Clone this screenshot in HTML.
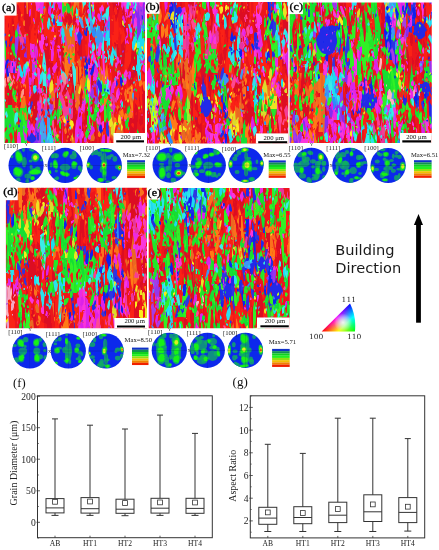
<!DOCTYPE html>
<html><head><meta charset="utf-8"><title>EBSD figure</title>
<style>html,body{margin:0;padding:0;background:#fff;} svg{display:block;}</style>
</head><body>
<svg width="439" height="550" viewBox="0 0 439 550"><defs><filter id="soft" x="-2%" y="-2%" width="104%" height="104%"><feGaussianBlur stdDeviation="0.38"/></filter></defs>
<clipPath id="clip_a"><rect x="4.5" y="2.2" width="140.50" height="140.80"/></clipPath>
<g clip-path="url(#clip_a)"><g filter="url(#soft)">
<path fill="#ec161c" d="M4 2l13 0 0 12-13 0zM28 2l12 0 0 12-12 0zM40 2l12 0 0 12-12 0zM86 2l13 0 0 12-13 0zM98 2l12 0 0 12-12 0zM110 2l12 0 0 12-12 0zM4 14l13 0 0 12-13 0zM16 14l12 0 0 12-12 0zM28 14l12 0 0 12-12 0zM75 14l12 0 0 12-12 0zM86 14l13 0 0 12-13 0zM98 14l12 0 0 12-12 0zM110 14l12 0 0 12-12 0zM122 14l12 0 0 12-12 0zM4 26l13 0 0 12-13 0zM16 26l12 0 0 12-12 0zM28 26l12 0 0 12-12 0zM51 26l12 0 0 12-12 0zM75 26l12 0 0 12-12 0zM86 26l13 0 0 12-13 0zM110 26l12 0 0 12-12 0zM122 26l12 0 0 12-12 0zM4 37l13 0 0 13-13 0zM28 37l12 0 0 13-12 0zM40 37l12 0 0 13-12 0zM51 37l12 0 0 13-12 0zM75 37l12 0 0 13-12 0zM86 37l13 0 0 13-13 0zM110 37l12 0 0 13-12 0zM122 37l12 0 0 13-12 0zM133 37l12 0 0 13-12 0zM4 49l13 0 0 12-13 0zM16 49l12 0 0 12-12 0zM28 49l12 0 0 12-12 0zM40 49l12 0 0 12-12 0zM63 49l12 0 0 12-12 0zM75 49l12 0 0 12-12 0zM86 49l13 0 0 12-13 0zM98 49l12 0 0 12-12 0zM110 49l12 0 0 12-12 0zM122 49l12 0 0 12-12 0zM133 49l12 0 0 12-12 0zM16 61l12 0 0 12-12 0zM28 61l12 0 0 12-12 0zM40 61l12 0 0 12-12 0zM51 61l12 0 0 12-12 0zM63 61l12 0 0 12-12 0zM75 61l12 0 0 12-12 0zM98 61l12 0 0 12-12 0zM110 61l12 0 0 12-12 0zM122 61l12 0 0 12-12 0zM133 61l12 0 0 12-12 0zM4 73l13 0 0 12-13 0zM16 73l12 0 0 12-12 0zM40 73l12 0 0 12-12 0zM51 73l12 0 0 12-12 0zM86 73l13 0 0 12-13 0zM110 73l12 0 0 12-12 0zM122 73l12 0 0 12-12 0zM133 73l12 0 0 12-12 0zM4 84l13 0 0 12-13 0zM16 84l12 0 0 12-12 0zM40 84l12 0 0 12-12 0zM51 84l12 0 0 12-12 0zM63 84l12 0 0 12-12 0zM110 84l12 0 0 12-12 0zM122 84l12 0 0 12-12 0zM133 84l12 0 0 12-12 0zM4 96l13 0 0 12-13 0zM28 96l12 0 0 12-12 0zM40 96l12 0 0 12-12 0zM110 96l12 0 0 12-12 0zM122 96l12 0 0 12-12 0zM133 96l12 0 0 12-12 0zM28 108l12 0 0 12-12 0zM40 108l12 0 0 12-12 0zM51 108l12 0 0 12-12 0zM63 108l12 0 0 12-12 0zM98 108l12 0 0 12-12 0zM110 108l12 0 0 12-12 0zM122 108l12 0 0 12-12 0zM133 108l12 0 0 12-12 0zM28 120l12 0 0 12-12 0zM63 120l12 0 0 12-12 0zM86 120l13 0 0 12-13 0zM98 120l12 0 0 12-12 0zM122 120l12 0 0 12-12 0zM133 120l12 0 0 12-12 0zM63 131l12 0 0 12-12 0zM75 131l12 0 0 12-12 0zM86 131l13 0 0 12-13 0zM98 131l12 0 0 12-12 0zM110 131l12 0 0 12-12 0zM122 131l12 0 0 12-12 0zM133 131l12 0 0 12-12 0zM6 72l2 33-1 7-1 1-1-11-1-24zM4 26l0-9 2 3-1 10zM4 11l0-10 1 0 1 9zM13 114l4-1 1 19-2 12-2 0zM12 105l0-17 4-15 1 8 1 25-1 7-4 1zM11 15l1 6 3 21-1 4-2-4-2-12zM10 69l2-27 2 4 2 20 0 6 0 1-4 15zM18 1l0 3-3-3zM17 113l1-7 1 7 1 19-2 0zM20 132l-1-19 2-9 1 7 0 5-2 15 0 2zM17 81l-1-8 0-1 3-5 4 22-2 12zM21 104l0-3 2-12 1-2 2 17-3 9-1-2zM20 44l4 1 0 12 0 6-4-7zM18 22l0-6 6 9 1 6-1 9-5-13zM24 57l3 1 1 4 0 1-4 3 0-3zM26 1l3 0 0 9-2 8zM30 58l0-8 4 29-1 8-3-28zM34 1l3 0 0 4-2 6zM32 16l0-15 2 0 1 10 0 14zM37 1l1 0 3 19-3 7-1-22zM40 69l2-3 1 24-1 8-2-4zM52 110l3-10 0 5 0 20-3-8zM48 1l1 0 1 1-1 4zM51 20l-1-18 0-1 6 0 0 4-3 18zM49 46l4-4 1 12-1 9-3 0zM57 15l2 7 2 24 0 5-3 3-1-4zM67 144l-5 0 1-26 3 10zM59 22l5 0 0 19 0 6-3-1zM75 131l0 13-1-8zM74 1l2 0 0 4-1 4zM75 47l0-6 2 0 0 25-1 0-1-15zM87 144l-4 0 1-3 2 1zM82 41l0-22 0-1 1 7-1 19zM80 22l2-3 0 22zM82 44l1-19 2 8 0 13-3 0zM82 46l3 0 1 9-2 11-1 2-1-10zM82 18l0-17 3 15 1 13-1 4-2-8zM89 144l-2 0-1-2 0-16 1-3 2 13zM93 124l2 8-1 12-1-10zM91 114l4 4 1 4 0 2-1 8-2-8zM96 124l0-2 0-1 2 10 0 2 1 11-2 0-1-11zM93 14l2 0 1 14 0 8-3-2 0-17zM91 43l0-3 2-6 3 2 0 13 0 9zM101 126l1 6 0 12-2 0-1-13zM95 14l0-13 2 0 2 4-1 19-2 4zM100 108l2-13 2-4 0 5 0 30-1 7-1-1-1-6zM98 24l1-19 0-1 3 2 1 8 0 14-3 6zM99 4l0-3 3 0 0 5zM105 47l2 16-2 9zM105 1l3 0 2 3 0 24-1 2-1-2-2-9-1-14zM110 139l2-9 0 2 1 11 0 1-2 0zM109 30l1-2 1 7 2 16-1 25-3-20zM123 144l-4 0 0-10zM113 51l2 4 1 15-1 17-1 2-2-8 0-5zM110 28l0-24 0-3 2 0 2 14 0 16-3 4zM117 64l2-1 2 10 0 22-3-14-1-14zM119 30l2 9 0 6 1 19-4-18 0-2zM146 139l0 5-1 0 0-4zM121 73l1-9 2 2 1 12 1 13-3 13-2-6 0-3zM121 98l2 6 2 17 0 3 0 3-1 9-4-30zM119 30l-1-15 3-10 0 1 1 5 1 14-2 14zM123 104l3-13 2 11 0 3-3 16zM131 144l-1 0 1-5 0 3zM128 66l0 3 2 17-1 2-3-13zM126 39l0-18 1-6 3 3 0 18-1 9-3-4zM133 87l1 1 1 15-1 10zM132 38l0-16 2 8 0 9-1 6-1-1zM138 117l1 3 1 6 1 18-2 0-2-17zM145 144l-3 0 2-10 1 6zM138 117l0-6 3-1 1 2-3 8zM140 126l3-2 1 10-2 10-1 0zM143 118l0-2 3-6 0 1 0 28-1 1-1-6-1-10zM145 56l1-1 0 23-1-1-1-15z"/>
<path fill="#fa701e" d="M16 2l12 0 0 12-12 0zM63 2l12 0 0 12-12 0zM75 2l12 0 0 12-12 0zM63 14l12 0 0 12-12 0zM63 26l12 0 0 12-12 0zM63 37l12 0 0 13-12 0zM75 73l12 0 0 12-12 0zM98 73l12 0 0 12-12 0zM75 84l12 0 0 12-12 0zM16 96l12 0 0 12-12 0zM51 96l12 0 0 12-12 0zM110 120l12 0 0 12-12 0zM12 4l0-3 3 0-2 13zM51 103l-1-2 1-19 3 2 0 2 1 7 0 7-3 10zM75 144l-3 0 1-6 1-2zM71 121l2-3 0 4 0 16zM76 70l0-4 1 0 1 1 0 15-2-1zM75 15l0-6 1-4 3 8 0 7-3-1zM82 89l0-13 1-6 1 18 0 2-1 2zM105 72l2-9 1 31-4-5 0-7 1-8zM107 63l0-2 3 33-1 2-1-2zM130 86l1-1 0 24-2-10 0-11z"/>
<path fill="#ec2ce2" d="M51 2l12 0 0 12-12 0zM122 2l12 0 0 12-12 0zM51 49l12 0 0 12-12 0zM4 61l13 0 0 12-13 0zM86 61l13 0 0 12-13 0zM28 73l12 0 0 12-12 0zM28 84l12 0 0 12-12 0zM86 84l13 0 0 12-13 0zM75 96l12 0 0 12-12 0zM75 108l12 0 0 12-12 0zM75 120l12 0 0 12-12 0zM51 131l12 0 0 12-12 0zM4 73l0-2 2-8 0 9-2 6zM27 144l-3 0 1-3 2-1zM28 62l2-4 0 1 1 37-1 3-2-28 0-8zM30 44l0-1 4 1 2 25-1 10-1 0-4-29zM36 47l1-7 0 5 0 23zM38 1l6 0-1 23-2-4zM58 54l3-3 1 31-2-9zM75 130l2-16 2 24-2 6-2 0 0-13zM76 19l1 22-2 0-2-15 2-11zM83 92l1-2 2 13-2 12-1-2 0-15zM98 131l2-24 0 1 1 18-2 5-1 2zM108 28l-2 6-2-4 2-11zM121 6l1-5 2 0 0 2 0 2-2 6zM143 18l2-14 1 3 0 24z"/>
<path fill="#9634ec" d="M133 2l12 0 0 12-12 0zM133 14l12 0 0 12-12 0zM16 37l12 0 0 13-12 0zM28 131l12 0 0 12-12 0zM15 42l0-8 3-12 1 5 0 10-3 29-2-20z"/>
<path fill="#22e62c" d="M40 14l12 0 0 12-12 0zM40 26l12 0 0 12-12 0zM133 26l12 0 0 12-12 0zM86 96l13 0 0 12-13 0zM98 96l12 0 0 12-12 0zM4 108l13 0 0 12-13 0zM16 108l12 0 0 12-12 0zM86 108l13 0 0 12-13 0zM4 120l13 0 0 12-13 0zM16 120l12 0 0 12-12 0zM40 120l12 0 0 12-12 0zM4 131l13 0 0 12-13 0zM16 131l12 0 0 12-12 0zM6 144l-2 0 0-23 1-1 1 10zM4 55l0-14 1-4 1 10 0 13 0 3zM20 133l0-2 2 2 1 11-2 0zM23 132l2 9-1 3-1 0-1-11zM28 113l0 4-1 16-4-20 3-9zM87 106l2-4 1 7 0 15-1 12-2-13zM97 70l2 4 1 4-2 12-1-11zM97 104l1-2 2 5-2 24-2-10 1-16zM146 31l0 2-1 10 0 2-3-18 1-9z"/>
<path fill="#2ce2ec" d="M51 14l12 0 0 12-12 0zM98 37l12 0 0 13-12 0zM63 73l12 0 0 12-12 0zM98 84l12 0 0 12-12 0zM96 36l0-8 2-4 2 10 0 4-1 20-3-9zM98 90l2-12 2 17-2 13 0-1-2-5zM137 50l4 13 0 20-2 4-2-15 0-17z"/>
<path fill="#3c96f5" d="M98 26l12 0 0 12-12 0zM92 21l1-4 0 17-2 6 0-3z"/>
<path fill="#f63e96" d="M63 96l12 0 0 12-12 0zM51 120l12 0 0 12-12 0zM19 37l0-10 5 13 0 5-4-1zM57 76l3-3 2 9 0 4 0 19-3-7-2-6zM62 109l0-4 0-19 3-12 3 4 1 16 0 20-3 14-3-10z"/>
<path fill="#202ce8" d="M40 131l12 0 0 12-12 0z"/>
<path fill="#12de32" d="M5 102l1 11-1 7-1 1 0-28zM6 130l2 14-2 0zM7 112l3 32-2 0-2-14-1-10 1-7zM14 144l-4 0-3-32 1-7 4 0 1 9zM22 116l1 8 0 8-1 1-2-2zM51 103l1 7 0 7 0 8-2 19 0-26zM104 91l0-2 4 5 1 2 0 25-1 0-1-4-3-21zM125 121l3-16 1 14 0 2 0 1-4 2zM134 39l0-9 1-10 2 10 0 11 0 7z"/>
<path fill="#fa2016" d="M4 93l0-14 0-1 1 24zM5 37l0-7 1-10 0-6 1 2 2 14 0 1-3 16zM4 17l0-6 2-1 0 4 0 6zM6 47l3-16 1 36-4-7zM7 16l1-15 1 0 2 12 0 2-1 15-1 0zM11 13l1-9 1 10 0 1-1 6-1-6zM13 15l0-1 2-13 3 3 0 12 0 6-3 12zM20 56l4 7 0 3 0 17 0 4-1 2-4-22zM26 104l-2-17 0-4 4-12 2 28-2 14zM27 136l0-3 1-16 4 20 0 7-5 0 0-4zM18 4l0-3 6 0 0 24-6-9zM27 58l-2-26 3 1 2 11 0 6 0 8-2 4zM29 1l3 0 0 15-1 4-2-10zM32 97l-1-1-1-37 3 28zM35 79l1-10 1-1 2 25-4-9zM31 20l1-4 3 9-1 18 0 1-4-1zM35 25l2 9 0 6-1 7-2-4zM35 11l2-6 1 22 0 6-1 1-2-9zM39 45l4 12-1 9-2 3-2-2 0-5 1-15zM38 51l1-4-1 15zM42 98l1-8 1 4 3 22 0 5 0 18-4-24zM47 92l-1-28 2 5 1 28zM43 24l1-23 2 0 3 24-1 13-4-2zM49 25l1-4 1-1 2 3 0 19-4 4-1-8zM54 84l-1-21 1-9 2 4 0 7-2 21zM53 42l0-19 3-18 1 10 0 35-1 8-2-4zM57 140l0-4 0-12 2 2 1 16-1 2-2 0zM54 86l2-21 1 11 0 16-2 1zM74 64l1-13 1 15 0 4zM77 41l1 2 2 17-1 7-1 0-1-1zM86 1l1 0 0 3-1-2zM79 13l0-12 3 0 0 17 0 1-2 3-1-2zM83 113l1 2 1 9-1 5-2-12zM80 61l2-3 1 10 0 2-1 6zM85 124l1 2 0 16-2-1 0-12zM85 46l0-13 1-4 3 3 0 2-1 31-2-10zM87 4l0-3 2 0-1 9zM91 1l4 0 0 13-2 0zM94 81l0-4 2-18 1 11 0 9-2 7zM101 67l0-21 1 5 1 20zM105 126l2-9 1 4-1 17zM104 43l1 4 0 25 0 2-1-23zM102 6l0-5 3 0 0 4-2 9zM109 56l3 20 0 5-2 13-3-33 1-2zM115 100l3 15 1 9-4 11-1-23zM113 51l-2-16 3-4 1 4 1 9-1 11zM115 87l3-6 3 14 0 3-1 8-2 9-3-15-1-11zM114 15l1 0 1 7-1 13-1-4zM115 35l1-13 2-7 1 15-1 14-2 0zM128 144l-5 0 1-8 1-9zM123 25l3 13-5 7 0-6zM125 127l0-3 4-2 0 5-1 17zM125 78l1-3 3 13 0 11-1 3-2-11zM124 66l2-27 0 2 2 25-2 9-1 3zM130 144l-2 0 1-17 2 11 0 1zM128 102l1-3 2 10 1 3-3 7-1-14zM126 41l3 4 2 15 0 1-3 8 0-3zM139 144l-3 0 1-16 0-1zM133 87l1 26 0 5-1 2zM129 45l1-9 2 2 0 6-1 16zM134 64l2 15 0 3-2 6-1-1zM136 82l1 24-2-3-1-15zM137 106l-1-24 0-3 1-7 2 15 0 4-1 19zM141 110l-2-19 0-4 2-4 1 4 1 29 0 2-1-6zM142 55l2 7 1 15-1 9-2 1-1-4 0-20z"/>
<path fill="#fa36dc" d="M4 70l0-15 2 8-2 8zM21 144l-5 0 2-12 2 0 0 1zM24 66l4-3 0 8-4 12zM38 67l2 2 0 25-1 1 0-2-2-25zM38 27l3-7 2 4 1 12 0 14-1 7-4-12-1-12zM60 142l1 2-1 0zM76 19l3 1 0 21-1 2-1-2zM82 117l-1-8 2-11 0 15zM88 65l1 3 3 25 0 4-2 12-1-7-1-22zM89 34l2 3 0 3 0 3 2 25-4 0-1-3zM93 68l-2-25 5 15 0 1-2 18zM103 71l-1-20 2 0 1 23-1 8zM108 121l1 0 0 3 1 13-1 7-2 0 0-6zM121 1l1 0-1 5 0-1zM138 1l1 0-1 2zM124 3l1-2 2 0 0 14-1 6-2-16z"/>
<path fill="#dc0e22" d="M4 41l0-15 1 4 0 7zM6 63l0-3 4 7 0 2 2 19 0 17-4 0-2-33zM5 1l3 0-1 15-1-2 0-4zM10 67l-1-36 0-1 1 0 2 12-2 27zM9 1l3 0 0 3-1 9zM12 21l1-6 2 19 0 8zM18 106l-1-25 4 20 0 3-2 9zM16 66l3-29 1 7 0 12-1 11-3 5zM108 1l2 0 0 3zM24 25l0-24 2 0 1 17 1 15-3-1 0-1zM28 113l2-14 1-3 1 1 3 26-1 10-2 4-4-20zM27 18l2-8 2 10-1 23 0 1-2-11zM33 87l1-8 1 0 0 5 2 31-1 9-1-1-3-26zM35 84l4 9 0 2-1 17-1 3zM37 40l0-6 1-1 1 12 0 2-1 4-1-6zM47 116l0-23 0-1 2 5-2 19 0 5zM44 50l0-14 4 2 1 8 1 17 0 4-2 2-2-5zM49 97l1 4 1 2-1 15-3-2zM46 1l2 0 1 5 1 15-1 4zM49 6l1-4 1 18-1 1zM50 67l0-4 3 0 1 21-3-2zM55 100l0-7 2-1 2 6-2 22-2-15zM55 125l0-20 2 15 0 4 0 12zM56 58l1-8 1 4 2 19-3 3-1-11zM59 126l3-17 1 9-1 26-1 0-1-2zM62 82l-1-31 0-5 3 1 1 27-3 12zM66 128l3-14 0 1 3 29-5 0zM69 69l1-2 2-1 3 31-2 5-4-8-1-16zM73 102l2-5 0 1 2 16-2 16-2-8 0-4zM68 28l-1-14 0-6 5 9 1 4-5 8zM74 136l-1 2 0-16 2 8 0 1zM80 144l-3 0 2-6zM80 89l0-3 2 3 1 3 0 6-2 11-2-3zM78 67l1 0 1 19 0 3-2-7zM82 117l2 12 0 12-1 3-1 0zM79 41l3 0 0 3 0 2 0 12-2 3 0-1-2-17zM79 20l1 2 2 19-3 0zM84 115l2-12 1 3 0 17-1 3-1-2zM89 136l1-12 1 8 1 12-3 0zM88 10l1 22-3-3-1-13 1-14 1 2zM97 144l-1 0 0-11zM97 1l2 0 0 3 0 1zM96 144l-2 0 1-12 1-8 0 9zM91 132l2 2 1 10-2 0zM90 109l2-12 1 6 2 15-4-4zM89 68l4 0 1 9 0 4-2 12zM90 1l1 0 2 13 0 3-1 4zM100 144l-1 0-1-11 1-2zM100 38l1 8 0 21-1-1-1-8zM103 133l1-7 1 0 2 12 0 6-3 0-1-5zM103 139l1 5-1 0zM103 28l0-14 2-9 1 14-2 11-1 1zM104 39l2 5 2 15-1 2 0 2-2-16-1-4zM115 144l-2 0 0-1 2-1 0 1zM116 70l1-3 1 14-3 6zM112 1l2 0 1 0 0 14-1 0zM117 1l1 0-1 4zM115 15l0-14 2 0 0 4 1 10-2 7zM116 44l2 0 0 2 1 17-2 1zM118 46l4 18-1 9-2-10zM117 5l1-4 3 0 0 4-3 10zM134 144l-3 0 0-2 2-2zM121 45l5-7 0 1-2 27-2-2zM122 11l2-6 2 16 0 18 0-1-3-13zM129 121l2 7 0 10-2-11 0-5zM133 125l0 15-2 2 0-3 0-1 0-10zM131 128l-2-7 0-2 3-7 1 8 0 5zM128 69l3-8 1 23-1 1-1 1zM132 84l-1-23 0-1 3 2 0 2-1 23zM133 140l0-15 0-5 1-2 3 10-1 16-2 0zM130 18l0-4 2 2 0 6 0 16-2-2zM132 44l1 1 1 12 0 5-3-2zM134 62l0-5 3-2 0 17-1 7-2-15zM134 113l1-10 2 3 1 4 0 1 0 6-1 10 0 1-3-10zM133 45l1-6 3 9 0 2 0 5-3 2zM138 110l1-19 2 19-3 1zM139 120l3-8 1 6 0 6-3 2zM145 77l1 1 0 26 0 4-2-22zM142 87l2-1 2 22 0 2-3 6zM145 43l1 6 0 6-1 1 0-11z"/>
<path fill="#30f026" d="M22 116l0-5 1 2 4 20 0 3-4-12zM55 144l-5 0 2-19 3 17zM59 98l3 7 0 4-3 17-2-2 0-4zM84 88l2-9 2 1 1 22-2 4-1-3-2-13zM90 109l1 5 2 10 0 10-2-2-1-8zM95 118l-2-15 4 2-1 16 0 1zM104 96l3 21-2 9-1 0zM109 96l1-2 1 19 0 9-2 2 0-3z"/>
<path fill="#dc24e8" d="M23 124l4 12 0 4-2 1-2-9zM57 144l-2 0 0-2 2-2zM34 44l0-1 2 4 1 21-1 1zM37 45l1 6 0 11 0 5-1 1zM48 69l2-2 1 15-1 19-1-4zM56 1l7 0 2 14-1 7-5 0-2-7-1-10zM60 144l-1 0 1-2zM79 106l2 3 1 8 0 27-2 0-1-6-2-24zM96 58l0-9 3 9 1 8-1 8-2-4-1-11zM127 1l2 0 1 11 0 2 0 4-3-3zM130 14l0-2 0-11 4 0-2 15zM134 1l4 0 0 2 0 1-1 26-2-10z"/>
<path fill="#862cf2" d="M24 45l0-5 1-9 0 1 2 26-3-1zM32 137l2-4 0 9 0 2-2 0zM35 123l1 1 2 20-4 0 0-2 0-9zM95 86l2-7 1 11 0 12-1 2zM132 22l0-6 2-15 1 19-1 10zM137 30l1-26 3 25 0 3-4 9zM143 1l2 0 0 3-2 14zM145 1l1 0 0 6-1-3z"/>
<path fill="#4aa0ef" d="M47 144l-6 0 0-23 2-6 4 24zM47 121l0-5 3 2 0 26-3 0 0-5zM104 39l-1-8 1-1 2 4 0 10z"/>
<path fill="#a43ee6" d="M36 124l1-9 1-3 3 9 0 23-3 0zM92 97l0-4 2-12 1 5 2 18 0 1-4-2zM138 3l1-2 2 0 2 17-1 9-1 2-3-25zM141 1l2 0 0 17z"/>
<path fill="#ff7a18" d="M63 1l4 0 0 7 0 6-2 1zM64 47l0-6 4 12 1 16-1 9-3-4zM70 37l1 5 1 11 0 9 0 4-2 1zM72 17l0-16 2 0 1 8 0 6-2 11 0-5zM72 53l3-6 0 4-1 13-2-2zM79 67l1-7 0 1 2 15 0 13-2-3zM111 144l-2 0 1-7 0 2zM110 137l-1-13 2-2 1 8-2 9zM132 112l-1-3 0-24 1-1 1 3 0 33z"/>
<path fill="#ff4890" d="M40 94l2 4 1 17-2 6-3-9 1-17zM44 94l3-1 0 23zM52 117l3 8 2 11 0 4-2 2-3-17z"/>
<path fill="#3aece6" d="M42 66l1-9 1-7 2 14 1 28 0 1-3 1-1-4zM72 62l2 2 2 6 0 11-1 17 0-1-3-31zM82 1l4 0 0 1-1 14zM100 34l3-6 0 3 1 8 0 4 0 8-2 0-1-5-1-8zM116 44l1 20 0 3-1 3-1-15z"/>
<path fill="#e6369c" d="M69 94l4 8 0 16-2 3-2-6 0-1zM112 81l2 8 1 11-1 12-1 5-2-4-1-19z"/>
<path fill="#ea6824" d="M64 22l1-7 2-1 1 14 0 25-4-12zM68 53l0-25 0 1 2 8 0 30-1 2zM70 37l-2-8 5-8 0 5-2 16zM71 42l2-16 2 15 0 6-3 6zM67 1l5 0 0 16-5-9zM76 81l2 1 2 7-1 17-2 8-2-16zM76 5l0-4 3 0 0 12zM83 70l0-2 1-2 2 13-2 9zM103 144l-1 0 0-12 1 1 0 6zM99 74l1-8 1 1 2 4 1 11 0 7 0 2-2 4-2-17zM111 113l2 4 0 3-1 12 0-2-1-8zM112 132l1-12 2 22-2 1zM113 120l0-3 1-5 1 23 0 8 0-1zM115 135l4-11 0 10 0 10-4 0 0-1zM118 115l2-9 4 30-1 8-4-10 0-10z"/>
<path fill="#dcda2a" d="M69 115l2 6 2 17-1 6z"/>
<path fill="#1024ee" d="M84 66l2-11 2 10 0 15-2-1z"/>
<path fill="#1cdaf2" d="M89 32l-1-22 1-9 1 0 2 20-1 16-2-3zM106 44l0-10 2-6 1 2 0 26-1 3zM129 1l1 0 0 11zM137 48l0-7 4-9 1 23-1 8-4-13zM141 29l1-2 3 18 0 11-1 6-2-7-1-23z"/>
<path fill="#ece224" d="M146 33l0 16-1-6z"/>
<path fill="#202ce8" d="M36 138l0 2-1 1-1 1-2 1-1 0-1-1-2-1-1-1 0-2 1-2 0-1 1-1 2-1 1 0 2 1 1 1 1 1z"/>
<path fill="#3c96f5" d="M103 38l0 3-1 3-1 2-1 0-2 1-1-1-1-2-1-3 0-3 0-4 1-2 1-2 1-1 2 0 1 1 1 2 1 2z"/>
<path fill="#fa2016" d="M6 11l0 2-1 3-1-3 0-3 0-3 1 2zM23 5l-1 4-1 1-1-3 1-5 1-2 1 2zM59 12l0 3-2 1-1-2 2-5 1-2 0 1zM74 3l-1 4-1 1-1-3 1-5 2-4 1 2zM78 9l-1 3 0 1-1-2-1-3 1-2 1-1zM117 10l0 4-2 1-1-2 0-4 1-2 1-1zM116 12l0 2 0 1-1-2 0-1 0-1 1 0zM36 22l0 1-1 0 0-1 0-1 1-1 1 1zM49 23l0 3-2 0-1-1 0-5 2-1 1 1zM52 19l-1 1 0 1 0-1 0-2 0-1zM67 15l-1 5-1-1-1-2 0-3 1-2 1 0zM87 19l0 3-1 2-2-3 0-4 1-3 1-2zM89 21l-2 2-1 0-1-2 1-4 1-2 1 2zM132 23l-1 5-2 2 0-5-1-5 1-1 2 1zM9 32l0 3-1 0-1-2 0-2 0-3 1 1zM42 27l-1 5-1 0-2-3 1-5 1-5 1-1zM109 28l0 1-1 0 0-1 0-1 1 0zM122 30l0 4-1 1-1-1-1-4 0-3 2 1zM136 37l0 1-1 0 0-1 0-1 0-1 1 1zM15 39l-2 4-2 1 1-3 1-5 1-1 1 2zM35 36l-1 6-1 2-2-2 0-6 1-4 2 1zM45 47l0 2-1 1-1-1 0-3 0-2 1 1zM66 43l-1 3-1 0 0-1 0-3 1-2zM90 44l0 2-1 0 0-3 0-1zM110 48l-1 2-1 1-1-2 1-3 1-1 1 1zM9 56l0 3-1 2-1-3 0-4 1 0 1-1zM35 60l0 1-1 1 0-1 0-2 1-2 0 1zM50 60l0 1-1 0 0-1 0-1 1 0zM57 58l-1 4-2 1 0-3 0-4 1-2 2 0zM91 59l0 1-1 1 0-1-1-2 0-1 1 0zM98 57l-1 1 0 1-1-1-1-2 2-1zM91 60l0 3-1 0-1-2 1-2 1-3 0 1zM131 56l0 2-1 0 0-1 0-2 1-2 0 1zM137 55l-1 0 0-2 1-1 1 1zM33 66l-1 4-1-1-1-1 0-3 1-4 1 1zM30 66l0 2-1 1 0-1 0-2 0-1 1 0zM32 63l-1 3-1 1-1-3 1-1 0-2 1 1zM40 65l-1 2-1 1-1-2 0-7 1-4 2 1zM44 71l-1 2-1 1 0-2 0-2 1-3 0 1zM77 62l0 1-1 0 0-1 0-1 0-1 1 0zM99 71l-1 2-1 2-1-4 0-2 1-2 2 0zM111 71l0 2 0 1-1-1-1-3 0-1 1 0zM119 73l0 3-1 1-1-2-1-6 1-1 1 1zM143 72l-1 2-1 2 0-3-1-2 1-2 1 1zM62 74l-2 3-2 2 0-4 0-3 2-2 1 1zM66 84l1 2-1 0-1-2 0-2 1 0zM79 83l0 1-1 0-1 0 1-2 0-1 1 1zM85 74l0 2-1 1 0-2 0-3 0-2 1 1zM83 75l-1 5-1 1-1-3 2-5 1-1 0-1zM94 76l0 1-1-1 0-2 1-1 0 1zM122 83l0 3-1 1-2-2 0-3 1-4 2 2zM112 74l-1 3-1 0-1-1 0-3 2-2 1 1zM140 83l-1 2-1 0 0-1 0-2 1-1 1 0zM17 95l-1 2-2 1-1-2 1-4 1-2 1 2zM36 87l-1 2 0-1 0-2 0-1 1 0zM64 95l0 1-1 1 0-2-1-2 1-1 1 1zM72 87l-1 6-1 1-2-3 0-7 1-2 2 1zM87 92l0 2-1 1 0-1 0-3 0-1 1 0zM96 88l0 4-1 0-2-3 0-2 0-3 2 2zM143 92l0 1 0 1-1 0 0-2 1-1zM16 101l-1 1-1 0 0-1 1-1 0-1 1 0zM73 107l-1 1 0 1-1-1 1-2 1-1zM66 98l-1 2-1 1 0-2-1-2 2-1zM68 104l-1 3-1 0-1-3 0-4 1-2 2 1zM124 107l0 1 0 1-1-1 0-3 1-1zM139 100l1 6-1 1-2-4-1-5 1-5 2 1zM17 118l1 5-1 2-2-6 0-4-1-5 2 1zM40 109l0 1-1 0 0-1 0-1 0-1 1 1zM31 117l0 1-1 2 0-3 0-3 1-2 1 1zM32 110l0 1-1 1 0-1 0-2 1-1 0 1zM84 113l1 4-1 3-2-4-1-3 0-3 2 1zM78 114l-1 6-2-2-1-1 1-4 1-3 2 1zM96 117l0 1-1 0 0-1-1-2 1 0 1 0zM119 109l-1 4-1-1 0-4 1-2 1 0zM130 116l0 1-1 0-1-1 1-3 1 0 1 0zM20 123l-1 2-1 0 0-1 0-3 1-2 1 1zM35 126l0 3-2 1-1-4 1-4 1-2 1 1zM134 124l0 3 0 1-1 0-2-3 1-2 1 0zM130 129l-1 3-1 0-1-2-1-2 1-2 2 2zM13 137l-1 4-1 1-1-4-1-3 2-3 1 2zM57 142l0 1-1 2-1-1 1-4 0-1 1-1zM106 131l0 4-2 1-1-3 0-2 1-3 1 1zM137 134l0 4-2 1 0-2 0-4 1-2 1-1zM17 33l0 1-1-1 0-1zM87 36l-1 2-1-2 1-1zM123 75l-1 3-2-2 1-2zM11 21l-1 3-1-3 1-3zM7 104l-1 0 0-1 1-1zM142 87l-1 1-1-1 1-2zM114 17l-1 1-1-1 1-3zM111 39l0 2-1-1 0-3zM80 37l-1 3 0-2 1-2zM129 53l-1 2 0-2 1-2zM95 104l-1 1-1 0 0-2zM34 39l0 2-1-2 0-2zM128 50l-2 3 0-3 2-2zM135 58l-1 1 0-1 0-1zM121 23l0 2-1-2 0-1zM20 101l-1 2-1-2 2-1zM130 112l-1 1 0-2 1-1zM31 5l0 2-1-1 0-1zM28 123l-1 0 0-1zM141 111l0 2-2-1-1-3zM102 72l-1 2-1-1 1-3zM93 68l1 1-2 0-1-3zM40 58l0 1-1-1 1-1zM126 73l-1 3-1-3 1-2zM124 39l0 2-1-2 0-1zM43 54l-1 1-1-1 1-2zM131 56l-1 1 0-2 1 0zM137 136l0 2-1-1 0-2zM88 62l-1 1-1-2 1-1zM32 120l-1 2 0-2 1-3zM98 49l0 3-1-1 0-3zM117 127l0 2-1-2 0-2zM126 12l-1 1 0-1zM46 48l1 2-3-1 0-2zM114 20l-1-1 1-1zM63 121l-1 2-1-2 2-1zM15 19l0 2-1-2 1-2zM34 37l-1 2-1-2 1-1zM12 142l-1 2-1-2 1-1zM54 39l-1 2-1-2 1-2zM14 79l-1 2 0-3 1-1zM23 99l0 2-2-2 1-1zM7 18l-1 1-1-1 1-1zM142 63l-1 1-1-1 1-1zM29 103l-1 2-1-1 0-2zM10 79l-1 2-1-1 0-3z"/>
<path fill="#ff7a18" d="M7 14l-1 1-1 1 0-1 0-2 1-2 1 0zM12 6l0 2-1 0-1-2 1-2 1 0zM85 9l-1 2-1 0 0-1 1-4 1 1zM23 15l0 1-1 1-1-1 0-2 1 0zM61 18l-1 3-1-2 0-3 1 0 0-1zM83 18l0 2-1 0-1 0 0-2 1-1 1 0zM69 55l-1 1 0 1-1-1 1-2 0-2 1 1zM69 56l0 5-1 2-2-5 0-4 1-2 1-1zM104 82l0 2-1 2-1-2 0-6 0-3 1 2zM143 84l-1 1-2 2-1-2 0-4 2-1 1 1zM25 84l0 2-1 1-1-1 0-2 0-1 1 1zM129 91l-1 3-1 0 0-1 0-3 1-3 1 2zM107 101l-2 5-1 0 0-2 0-6 2-1 1 0zM108 99l-1 1-1 1 0-2 0-1 1-3 1 1zM33 114l-1 3-1 1-1-2 0-3 1-2 1 1zM61 119l1 3-1 2-1-3-1-4 1-1 0-1zM64 118l0 4-2-1 0-1-1-3 1-3 2 1zM75 119l0 1-1 1-1-1-1-1 1-1 1-1zM128 117l-1 4-1 1-2-3 0-3 1-3 2 1zM124 115l-1 3-1 2-1-4-1-4 2-3 1 0zM117 122l0 4-1-1-2 0 0-5 0-3 2 1zM71 130l0 4-1 1-1-1-1-5 1-1 1 1zM72 138l-1 3-1 0 0-2 1-2 1 0zM88 143l0 2-1 1-1-2 0-2 0-1 1 0zM101 133l0 2-1 2-1-2 0-3 0-1 1 0zM100 135l0 2-1 0-1-1 0-3 2-3 0 1zM121 140l0 2 0 1-1-1 0-2 1-1zM118 140l-1 0 0-1 0-1 1 0zM79 16l-1 2-1-1 0-2zM123 89l-1 1-1-1 2-2zM94 132l0 2-1-1 0-1zM62 111l-1 2 0-2 0-1zM84 16l-1 1-1-1 2-1zM23 100l-1 2 0-3zM86 7l-1 1-1-2 2-2zM65 52l-1 1-1-2 1-1zM124 135l0 1-1-1 1-1zM97 37l-1 1-1-1 1-1zM14 25l0 1-2 0 1-2zM55 123l0 2-1-2 0-2z"/>
<path fill="#ea6824" d="M7 9l0 4-1-1-1-1 0-3 0-2 1 0zM18 12l0 1-1 2-1-3 1-2 0-1 1 0zM18 9l0 5-1 1-1-3 0-7 0-3 1 1zM46 9l-1 4-1 2 0-3-1-4 1-1 1-1zM58 18l0 2-2 0-1-1 0-3 1-2 1 0zM65 28l-1 3-1 1-1-3 0-4 1-4 1 2zM69 46l-1 4-2 1 0-5 1-2 1-3 1 0zM65 65l0 3 0 2-1-3-1-4 0-1 2 1zM76 63l-1 3-1 0 0-2 0-2 1-1 0 1zM86 64l-1 3 0-1-1-1 0-2 1-1 1 1zM81 64l-1 3-1 0-1-3 0-3 1-3 2 3zM15 82l0 2-1 0 0-1 0-1 1-1zM101 73l0 2-1 0-1-1 0-2 0-1 1 0zM17 89l0 3-1 2-1-4 0-2 1-2 1 1zM19 86l-1 2 0 2-1-4 0-1 0-3 1-1zM119 90l-1 2-1 0 0-3 1-1 1 0zM130 91l-1 4 0-1-1 0 0-4 1-1 1 1zM146 86l-1 2-1-1 0-1 1-1zM35 107l0 2-1 0 0-1 0-2 1 0zM53 101l-1 4-1-1-1-2 1-6 1-1 1 1zM53 100l0 5-2 0 0-4 0-5 1-2 1 2zM85 97l-2 4 0-2-1-1 1-4 1-2 1 2zM134 99l-1 3-1 1-1-4 1-2 1-2 1 0zM24 113l-1 2 0 1-1-2 0-2 0-2 1 1zM17 110l-1 1 0-1 0-1 1-1 0 1zM20 115l-1 1 0-1-1-1 1-1zM119 109l-1 1 0 1-1-2 0-2 0-2 2 1zM131 116l-2 4-1 0 0-4 1-5 3-4 0 1zM69 137l-1 1-1 1 0-2 0-1 1-1 1 1zM95 138l-1 3-2 0-1-2 0-5 1-4 2 3zM113 135l0 2-1 3-1-4-1-4 1-2 1-2zM73 65l-1 2-1-2 0-2zM99 77l0 1-1-1 0-1zM82 68l0 1-1-1 1-2zM102 102l0 2-2-2 1-2zM68 141l-1 1-1-1 1-2zM71 71l-1 1 0-1 0-1zM118 97l-2 1 0-2 1-1zM92 140l-1 2-1-2 1-1zM48 105l-2 1 0-2 0-2zM112 110l0 1-1-1 1-2zM109 103l-1 1 0-1 0-2zM74 142l-1 1-1-1 1-1zM6 139l-1 1-1-1 2-2zM99 58l-1 2-1-1 0-2zM61 12l-1 1-1-1 1-2zM15 111l-1 1-1-2 1-3zM86 69l0 1-1 0 0-2zM33 112l-1 2-1-1 1-2z"/>
<path fill="#dc0e22" d="M19 6l0 6-2 2-1-5 0-4 0-4 1 3zM61 12l-1 2-1 0 0-1 0-3 1-1 1 1zM71 5l-1 5-2 5 0-5 0-9 1-2 2 2zM89 8l0 2-1 0-1-1 0-1 1-1zM106 12l0 7-1-1-1-2 0-4 1-4 1 0zM9 25l0 2-1 1 0-1 0-2 0-2 1 1zM21 13l-1 7-1 2-1-4 0-6 1-5 1 3zM76 20l-2 7-2 3 0-4 1-8 2-5 1 4zM68 19l-1 4-2-1-1-2 1-3 1-2 2 1zM90 23l1 6-1 1-1-3-1-5 0-2 1 1zM125 22l-2 5-1 1-1-4 1-4 2-6 1 4zM76 27l-1 3-1-1 0-1 1-2 0-1 1 1zM104 30l-1 2 0-1-1 0 0-2 1-2 1 1zM133 34l-1 3-1 1-1-3 0-2 1-3 1 0zM26 48l0 2-1-1 0-2 0-1 1 0zM58 39l-1 6-2 1 0-2 1-6 1-2 1-1zM72 46l0 1-1-1 0-1 0-1 1 0zM93 46l0 1-1 1 0-2 0-1 1-2 0 1zM93 38l-1 3-1 4-1-5 0-5 1-2 2-1zM106 44l0 1-2 1 1-2 0-3 1 0 1 0zM116 45l0 2 0 2-1-3-1-3 0-1 2 1zM67 54l-1 1-1 0 0-2 1-1 1 1zM80 54l0 1-1 1-1-1-1-3 1-2 1 1zM98 61l0 2 0 1-1-2-1-3 0-1 1 0zM108 55l0 2-1 1-1-2 0-2 0-2 1 1zM144 53l0 1-1 1 0-1-1-2 0-1 1 0zM59 62l-1 3 0 1-1-3 0-3 1-3 1 2zM109 66l0 2-1 0 0-4 0-2 0 2zM144 71l0 3-1 1-1-3 1-3 1-1 1 1zM32 84l-1 3-1-1-1 0 1-3 1-2 0 1zM49 75l0 2-1 0 0-1-1-1 1 0zM132 76l0 2-1-1 0-2 0-1 1 0zM127 80l0 2-1 0 0-1 0-1 0-1 1 0zM136 75l-2 3-2 1 0-5 1-4 2-4 2 2zM40 93l-1 9-2-2 0-4 0-5 2-3 1 2zM46 88l0 6-2-1-2-3 0-1 1-3 2 0zM50 89l0 1-1 1 0-2-1 0 1-2 1 1zM60 89l0 2-1 1 0-1 0-3 0-2 1 0zM61 89l-1 4-2 2 0-4 1-5 1-2 1 2zM68 89l-3 6-1-1-2-1 3-7 2-3 1 2zM76 89l0 1-1 1 0-1 0-3 0-1 1 0zM121 93l-2 6-2 3-1-4 2-8 1-2 1 1zM7 100l0 2-1 0-1-1 1-2 0-1 1 0zM28 108l-1 1 0 1 0-1 0-2 1-1zM18 101l0 1-1-1 0-1 1-1zM53 107l0 2-2 4-1-5 1-4 1-3 1 1zM68 103l0 3 0 1-2-1 0-3 0-1 1 0zM88 106l0 3-1 0-1-4 0-1 1 0zM95 100l-1 2-1 0 0-1 0-2 1-2 1 1zM102 97l-1 4-2 2-1-5 1-4 1-5 1 2zM29 108l0 6-1-1-1-3 0-5 1-1 1-1zM43 114l-1 1-1 1 0-1 1-4 1-1 0 2zM63 115l-1 1-2 1 0-2 0-2 2-2 1 1zM77 118l-4 8-1-1 0-5 1-3 3-4 1 1zM81 115l-1 2-1 0 0-1 0-2 1-2 1 1zM88 113l0 2-1 1 0-2 0-2 0-1 1 0zM94 112l0 4-1 1-1-3 0-2 0-2 1 1zM101 109l0 5-1 3-2-4 0-5 0-4 2 0zM120 110l-1 1 0 1-1-1 0-2 1-1 1 0zM19 120l0 2-1 0 0-1-1-2 1-2 1 1zM46 129l-1 4-1 0-1-1 0-4 2-2 1 1zM53 129l-1 2-1 1-1-2 0-3 1-2 1 1zM57 123l-2 5-1 1 0-2 0-6 1-5 1 3zM62 130l0 3-1 0-2-2-1-2 1-3 2 0zM87 129l-1 2-1 0 0-1 0-2 1-1 1 0zM86 122l-1 4-1 0-1-3 1-3 1-1 1 0zM99 120l0 5-1 1-1-3-1-4 1-4 1 1zM107 125l0 2-1 2-1-1-2-5 1 0 1-2zM145 130l-1 2 0 1-1-1-1-3 1-3 1 2zM8 140l0 2-1 2 0-1-1-3 0-1 1 0zM7 142l-1 1-1 0 0-2 1-1zM54 135l0 2 0 1-2-2-1-3 1-1 1-1zM91 132l0 4-1 2-3-3 0-4 1-2 2 1zM133 131l-1 4-1 0 0-2-1-4 1-2 2 1zM24 82l-1 1 0-2 1-1zM125 53l0 1-1-2 1-1zM33 128l-1 1 0-1 1-1zM95 116l-1 1-1-1 1-2zM122 8l0 2-1-1 1-2zM20 43l-1 2 0-2 1-2zM113 113l-1 1 0-1 0-1zM106 28l0 1-1-1 1-1zM98 119l-2 1-1-1 2-1zM56 31l0 2-2-2 1-2zM99 111l0 2-1-2 0-2zM120 85l-1 1 0-1 1-1zM33 50l-1 1 0-1 1-1zM40 38l0 2-2-1-1-2zM16 60l-1 2-1-1 0-3zM36 34l-1 2-1-2 1-1zM124 94l0 2-1-1 0-2zM106 139l0 1-1-1 0-1zM96 135l0 3-2-3 1-2zM116 45l0 2-2-1 1-2zM58 70l-1-1 1-1zM76 49l0 3-1-2 0-3zM107 9l-1 1 0-2 1 0zM67 99l0 2-1-1 0-1zM83 70l-1 1 0-1 0-1zM87 122l0 3-2-2 1-2zM86 6l-1 2-1-1 1-2zM35 130l0 2-2-1 1-3zM32 113l0 2-1-2 0-1zM92 97l-1 2-1-1 0-2zM26 45l-1 1-1 0 1-3zM82 54l-1 2 0-2 1-1zM119 65l-1 1-1-1 2-1zM37 28l-2 2-1-2 2-1zM84 25l0 1-1 0 0-2zM115 13l0 1-1-1 0-1zM111 89l0 1-1-1 0-2z"/>
<path fill="#fa36dc" d="M40 4l-2 6-2 1 0-4 1-6 3-4 1 0zM38 3l2 8-2 1-2-5-1-6 1-2 1-1zM90 12l-1 2-1 0-1-2 0-1 1-2 1 0zM104 8l0 2-1 2-2-3 0-3 1-1 0-1zM102 10l0 3-2 1 0-2-1-3 1-2 2 1zM119 3l0 2-1 1 0-3 0-2 1-3 1 0zM133 12l-2 4-1 0-1-1 1-4 1-1 2 0zM137 7l0 5-1 1-1-1-2-5 1-2 1 1zM35 21l0 1-1 1 0-2 0-2 0-1zM54 23l0 1 0 1-1-1 0-1 0-1 1 0zM90 21l-1 3-2 0-1-1 1-4 2-2 1 2zM96 18l0 2-1-1 0-1 0-1zM129 16l-1 2-1-1 1-2 0-1 1 0zM136 19l0 2-1 1 0-2 0-1 0-1 1-1zM137 25l-1 5-2 2-1-5 1-4 0-5 2 2zM54 27l0 5-1 0-1-2 1-4 0-3 2 1zM110 26l-1 3-2 0 0-2 0-2 1-2 1-1zM52 43l0 1-1 1 0-1-1-2 1-1 1 1zM134 47l-1 1 0 1-1-2 0-2 1-1 1 1zM101 50l0 4-2 4-1-4 0-6 2-6 2 1zM103 72l0 2-1 1-1-2 0-2 1-2 0 1zM111 71l0 1-1 1 0-1 0-2 0-1 1 0zM121 62l0 2-1 0 0-1 0-2 1-2zM118 63l-1 4-1 1-1-2 1-5 1-5 2 2zM21 73l-3 7-2 2 1-5 1-8 3-5 0 5zM34 73l0 2-1 0-1-1 1-2 1 0zM42 76l0 3 0 1-1-3 0-1 0-2 1 0zM64 77l-1 3 0 2-2-1-1-5 2-2 2 1zM91 77l-2 6-1-1-1-2 0-3 2-3 1 0zM106 83l0 3-1-2 0-2 0-1 1-1zM111 85l-1 2-1 2-1-3 0-3 2-3 1 1zM122 77l-1 2-1 2-3-4 0-5 2-2 1 1zM117 81l-2 7-2 1 0-6 3-6 2-2 0 2zM128 73l-2 6-1 1-1-5 0-2 2-4 1 2zM127 80l-1 4-2 1-1-3 0-6 1-3 2 3zM31 92l0 1-1 2-1-2 1-2 0-1 1 0zM41 90l-1 2-1 1-1-1 0-4 1-1 1 1zM44 91l-2 2-1 0-1-1 0-3 1-1 2 1zM44 94l-1 1 0 1-1-1 0-1 1-1zM119 94l0 4-2 3-1-4 0-4 1-4 2 2zM88 108l0 1-1 0 0-1 0-1 0-1 1 0zM99 106l0 1-1 0-1 0 1-3 0-1 1 0zM113 103l-1 2-1 2-2-1 0-5 0-2 2 0zM115 108l0 2-1 0 0-2-1-1 1-3 1 1zM83 113l-1 1-1 2 0-2 0-2 1-1zM104 109l-1 2-2 1 0-2 0-4 1-1 2-1zM100 110l-1 3-1 0 0-2 0-2 1-2 0 1zM122 118l0 2 0 1-1-1-1-2 1-1 1 0zM35 129l0 6 0 1-2-2-1-5 1-3 1 1zM99 122l0 2-1 1-1-2-1-4 1-1 1-1zM104 124l0 4-2 0 0-2-1-3 2-2 1 0zM22 140l-1 3-2 1 0-1 0-4 2-2 1 2zM39 134l0 2-1-1 0-1 0-1 1 0zM84 135l-1 3 0 1-2-3 0-3 1-2 1 0zM90 132l-1 1-1 0 0-1 0-1 1-1 1 0zM88 143l-1 1 0-1 0-1 1 0zM91 136l0 1-1 0 0-2 1-1zM122 102l-2 2 0-3 2-2zM78 32l0 1-1 0 0-2zM54 141l-1 1-1-1 2-2zM25 76l0 1-1 0 0-1zM39 74l-2 2 1-2 1-2zM117 77l-2 1 0-2 1 0zM74 45l0 2-2-1 0-2zM60 46l0 3-3-2 1-2zM107 129l0 1-1-1 0-1zM48 45l-1 1-1-2 2-1zM60 31l-1 1-1-1 1-1zM98 86l-1 2-1-1 0-2zM15 77l0 2-2-1 0-4zM42 45l-1 2-1-2 1-1zM25 84l-2 1 1-2zM52 41l-1 1-1-1 1-1z"/>
<path fill="#dc24e8" d="M31 14l-1 3-1-1 0-2 0-3 1-2 1 0zM52 10l-1 7-1-1-2-3 0-3 1-5 2 0zM94 7l-1 2-1 0 0-1 1-2 1-1zM95 13l-1 4-1 2-1-3 0-4 1-4 2 2zM88 5l-1 2 0 1 0-2 0-2 0-2 1 1zM133 9l0 1-1 0 0-2 0-1 1 1zM132 4l0 2-2 0 0-2 1-3 1-2 0 1zM145 7l0 2-1-1 0-2 0-2 1 1zM145 12l0 2-1 0 0-2 1-2zM34 19l0 2-1 1 0-2 0-2 1 0zM64 18l-1 3-1-2 0-3 1-1zM97 22l0 2-1 1 0-2 0-3 0-1 1 0zM110 24l-1 6-1 1-2-3 1-7 1-4 1 1zM110 18l0 6-2 0-1-1-1-7 0-3 2-1zM125 19l0 3-1 0-1-2-1-2 1-3 1 1zM71 31l-1 3 0-2 1-3 0-1 0 2zM105 36l0 2-1-1-1-1 1-2 0-1 2 0zM128 33l0 3-1-1 0-1 0-2 1-1zM51 48l0 2-1 0 0-1 0-2 1-2 0 1zM47 38l-1 3 0-1-1-1 1-2 0-1 1 0zM55 43l-1 3-1 3-1-4 0-4 1-1 1 0zM63 41l-1 3-1 0 0-1 0-4 0-2 1 1zM92 48l0 2-1 1-2-3-1-3 1-3 2 0zM90 56l-1 3-1 1-1-2 1-3 1-1 1 0zM105 57l0 2-1 0 0-1 0-3 1 0zM56 70l-1 3-1 0-1-2 0-3 2-1 1 1zM98 70l0 7-2 0-1-4 0-5 0-3 2 3zM113 64l0 1-1 0-1 0 0-1 1-2 1 0zM143 61l0 3-1 1-1-3-1-2 1-3 2 1zM22 75l0 3-1 0 0-2 0-2 0-2 1 0zM32 80l-1 5-2 1 0-3 0-4 2-4 0 2zM37 75l0 2-1 0 0-1-1-1 1-1 1 0zM49 76l-1 1 0 1-1-2 0-1 1-3 1 1zM61 77l-1 3-1 0 0-1 0-2 1-2 1 0zM92 73l-1 4-1 0-1-2 0-3 1-2 1-1zM108 82l-1 2-1-2 1-4 1-2 0 1zM131 76l-1 3-1 1-1-3 0-4 1-2 2 1zM120 92l0 4-1-1-1-1 0-3 0-3 1 0zM113 90l-1 2-1 1 0-3 1-4 1 0 1 1zM114 91l-1 2-2 4 0-6 1-4 1-4 2 0zM30 104l0 1-1 1-1-2 1-1 0-2 1 1zM41 106l-1 7-1 1-2-5 1-4 1-2 2 0zM92 110l0 2-1 1-1-3 0-2 1-2 1 1zM117 109l0 4-2 1-1-3-1-3 1-3 1 0zM31 127l0 6-2 4-2-7 0-5 1-6 2 2zM38 120l0 1-1 1 0-2 0-1 1-1 0 1zM39 130l0 1-1 0 0-1 0-1 1-1 0 1zM61 122l0 3-1 1-2-1 0-4 1-3 1 2zM95 131l-2 3-2 2-1-2 1-5 1-3 2 1zM35 133l-1 1-1-1 0-2 1-2 1 2zM53 138l-1 3-1 1-1-1 1-4 1-1 1 0zM54 131l-1 2 0-1 0-1zM87 140l-1 3-2-1 0-1 0-3 2-2 1 1zM76 142l1 1-1 1-1-2 0-1 1-1 0 1zM105 142l-1 5-2 0-1-3 1-7 2-3 1 1zM47 44l1 2-2-1-1-2zM31 54l-1 1 0-1 1-2zM110 64l-1 1 0-1 1-2zM60 35l0 2-1-1 0-1zM117 4l0 2-1-1 0-1zM61 97l1 2-2-1 0-3zM120 72l-1 1 0-2 1 0zM54 2l-1 1-1-1 1-1zM94 89l0 2-2-1 0-2zM9 61l0 2-1-1 0-2zM61 132l-1 2-1-2 1-2zM96 77l0 2-1-1 0-1zM54 143l-1 1 0-1 1-2zM56 11l0 1-1-1 0-1zM62 75l-1 1 0-2 1-1zM128 37l-2 2 0-3 2-1zM77 44l-1 0 0-1 0-1zM127 38l-2 0 1-1 1-1zM96 62l-1 3-1-2 0-2z"/>
<path fill="#ec2ce2" d="M32 4l0 1-1 0 0-2 1 0zM50 4l0 3-1 0 0-2 0-2 0-1 1 0zM94 3l-1 3-1-2 0-2 0-2 1 0zM109 6l0 2-1 1-1-2 0-2 0-3 1 0zM143 3l-1 4-2-1-1-2 0-3 2-2 1 1zM63 15l0 1-1 1-1-1 0-2 1-2 0 1zM101 17l0 4-1 1-2-3-1-3 1-3 2 1zM132 23l-1 2 0 2-1-2 1-4 0-3 1 1zM126 22l-2 2-1 1-1-2 1-2 1-2 1 1zM137 19l0 2-1 0-1-1 0-2 0-1 1 0zM141 23l0 1-1 1 0-2 0-1 0-1 1 0zM63 32l-2 3-1 3 0-5 0-4 2-3 1 1zM54 30l-1 1-1 1-1-1 1-2 1-3 1 2zM83 37l-1 3-1-1 0-1 0-2 1-1zM108 26l0 1-1 1 0-1 0-2 0-1 1 1zM128 30l0 3-1 0-1-3 0-2 2 0zM133 33l-1 4-1 3-1-3-1-7 0-7 3 5zM45 39l0 1-1 0 0-2 0-1 1 0zM56 38l-1 2-1 0-1-1 1-2 0-1 1 0zM54 49l-1 1 0 1-1-2 0-2 0-2 1 2zM126 41l0 3 0 1-1-2 0-3 0-2 1 1zM129 43l0 1-1 0 0-1-1-2 1-1 0 1zM33 59l0 2-1 0 0-2 1-1zM40 55l0 1-1 1 0-1 0-2 1-1zM57 68l-3 5-1-2-1-3 3-4 5-6 0 4zM100 69l0 1-1 0 0-2 1-1zM100 66l0 2-1-2 1-1zM120 62l-1 1-1 1-1-1 0-4 1-1 1 1zM147 69l-1 4-1 0-3-3 1-4 1-7 2 5zM25 81l-1 2-1 1-2-1 1-5 2-3 0 3zM48 83l0 3-1 1 0-3-1-2 0-3 2 1zM63 75l0 6-1-1-1-2 0-4 0-2 1 0zM54 75l0 3-1 1 0-2-1-4 1 0 0-1zM91 79l0 3-1 2-1-2-1-4 1-4 2 1zM97 76l0 4-2 1-1-2-1-4 1-3 2 1zM95 78l-1 3-1 0 0-1 0-3 1-1 0 1zM41 92l-1 3-1-2 0-3 1-2 1 1zM40 107l0 3-2 0 0-1 0-4 1-1zM39 105l0 2-1 1-1-3 0-2 1-3 1 2zM122 106l0 2 0 1-1-1-1-2 1-2 0 1zM99 114l0 3-1 1-1-2-1-3 1-1 2 1zM102 110l-1 3-1-1 0-3 1-3 1 2zM33 128l-2 3-2 2 1-4 1-4 1-2 1 2zM92 122l0 6-1 0-2-3 0-5 0-5 2 3zM103 128l0 2-1 0 0-2 0-1zM126 121l-1 1-1-2 1-1 1 1zM18 140l-1 4-2 1 0-4 0-3 2-2 2 0zM20 138l0 2-1 0 0-1 0-1 0-1zM81 138l0 2-1 1 0-2 0-3 0-2 1 2zM91 137l0 2-1 1-2-1 0-3 1-2 1 1zM31 93l-1 2-1-2 2-3zM128 76l-1 1-1 0 1-2zM77 134l0 1-1-1 1-1zM128 42l-1 2-1-2 1-2zM47 45l0 2-2-2 1-2zM83 30l0 2-1-2 0-1zM110 7l0 1-1-1 0-2zM71 134l-1 1-1-1 1-1zM125 78l-1 1 0-1 1-1zM61 36l0 1-2-1 0-2zM33 104l-1 1-1-1 1-1zM118 8l-1 2 0-1 0-1zM56 17l-1 1 0-1 1-1z"/>
<path fill="#fa701e" d="M51 3l-1 1-1 1 0-2 1-1 0-2 1 1zM52 3l-1 4 0-1-1-2 1-4 1-1 1 1zM51 4l-1 3-1-3 1-3 1-4 1 3zM25 24l0 2-1 0-1-1 0-3 1-2 1 1zM44 17l-1 1-1 1 0-2 1-2 1-1zM83 22l0 2 0 1-2-1-1-4 0-3 1-1zM75 30l0 3-1 0 0-2-1-3 1-3 1 0zM70 67l0 2-1 3-2-4-1-4 1-2 1 2zM70 65l-1 4-1 1-1-4 1-2 0-2 2 0zM64 62l0 2-1 0 0-1-1-1 1-1zM82 81l0 1 0 2-1-2 0-2 0-2 1 0zM22 97l-1 4-1 0 0-3 1-7 1 0 1 1zM26 86l0 3-1-1 0-1 0-2 1-1zM21 84l1 3-1 1-1-1-1-3 0-3 2 1zM84 86l0 1-1 3 0-2 0-5 0-1 1 1zM122 94l0 1-1 0-1-2 1-1zM127 96l0 4-2 1 0-3-1-4 1-4 1 0zM127 91l-1 4 0 2-1-3 0-2 0-3 1 0zM146 84l0 6-2 1-1-3 0-6 1-1 2 1zM136 84l0 2 0 1-1-2 0-1 1-1zM17 106l-1 3-1-2 1-2 0-2 1 1zM31 97l-1 2-1-1 0-2 0-1 1 0zM78 99l-1 1-1 0 0-2 1-2 0 1zM77 106l0 2 0 1-2-2 0-2 1-3 1 1zM80 102l0 2-1 1-1-1-1-4 1-3 1 2zM133 97l1 3-1-1-1-1 0-3 1 1zM131 101l0 2-1 0 0-2 0-1zM27 116l0 5-1 0-1-2-1-5 1-2 1 1zM62 113l0 2-1 0 0-1-1-2 1-1zM118 108l-1 2-1 0 0-1 0-1 0-2 1 1zM129 113l0 1-1 1-1-1 0-2 1-1 1 0zM133 114l-1 4-2 0-1-2 0-3 2-5 1 4zM67 132l-1 2-1 0-1-4 1-2 1-1zM116 137l0 2-1 0 0-1 0-1 0-1 1 0zM71 65l-2 0 1-2 1 0zM80 10l-1 0-1 0 1-1zM43 68l-1 2 0-2 0-2zM107 77l0 1-2-1 1-1zM104 104l-2 2 0-2 1-1zM54 27l-1 1 0-2 1-1zM64 17l0 2-1-1 0-1zM91 126l-1 0 0-1 0-1zM53 108l0 1-1-1 0-2zM78 97l-1 1-1-1 1-1zM73 24l0 1-1-1 0-1zM113 20l0 1-2-1 1-1z"/>
<path fill="#1cdaf2" d="M53 0l1 8-2 0-2-2-2-7 1-3 2 2zM134 3l0 1-1 1 0-1 0-1 0-2 1 1zM65 37l0 5-2 2-1-5-1-6 1-6 2 2zM72 31l0 6-2-1 0-1-1-5 1-2 1-1zM132 30l0 2-1 1-1-2 0-2 1-2zM125 26l0 1-1 0 0-1 0-1zM137 40l-2 6-2 0 0-4 0-3 2-3 1 0zM145 42l0 2-1 1-1-2 0-2 0-2 1 1zM135 45l-1 5-1 1-1-3 0-6 1-2 1 1zM93 57l-1 2-1-1 1-2 0-1 1 0zM115 51l-1 2 0-1-1 0 0-2 1-1 0 1zM116 53l1 4-2 0-1-1-2-4 0-6 2 3zM141 57l0 1-1 2 0-2 0-3 0-3 1 2zM141 56l0 1-2 1 0-2 0-2 2-1 1 0zM22 71l0 3-1 1-1-2-1-5 0-4 2 3zM26 68l0 2-1 1 0-1 0-2 0-1 1 0zM26 71l-1 5-1 1-1-6 0-3 1-4 2 1zM138 67l-1 4-1 0 0-2 0-3 1-2 1 2zM11 83l0 1-1 0 0-1 0-1 1-1zM23 74l0 3-1 1-2-2 0-3 1-3 2 2zM49 78l0 1-1 0 0-1 0-1zM51 77l-1 2-1 2-2-3 1-3 1-1 1 0zM59 90l-1 1 0 1 0-1 0-2 1-2 1 1zM89 96l0 1-1 0 0-1 0-2 1-1zM50 100l0 5-1 1-1-2-1-4 1-3 1 1zM31 112l0 1-1 1-1-2 0-1 1-3 1 1zM53 139l0 6-1 2-2-3-1-5 1-3 2 1zM42 130l0 4-1 1-1-1 0-4 0-1 1 1zM52 135l0 5-1 1-2-4 0-6 0-6 2 3zM99 79l0 1-1-1 0-2zM63 81l-2 3-1-3 2-2zM142 65l-1 2-1-1 1-3zM32 116l-1 0 0-1 1 0zM97 111l0 1-1-1 0-1zM100 79l0 2-1-2 0-1z"/>
<path fill="#ec161c" d="M58 7l-1 3-1 1-1-3 0-3 1-3 2 3zM53 11l-1 2-1 1 0-1 0-3 1-2 1 0zM53 4l-1 2-1 1 0-2 0-4 1-2 1 1zM56 14l0 1-2 1 0-2 0-2 1-2 1 1zM55 13l-1 3 0-1-1 0 0-3 1-2 1 0zM86 10l-2 5-2 0 1-5 1-3 3-4 1 0zM76 14l0 3-2 0-1-1 1-4 1-4 1 2zM81 13l1 3-1 1-1-1-1-3 1-1zM81 3l0 2 0 1-1-2 0-2 0-1 1 1zM109 7l0 2-1 0-1-2 0-2 1-1zM111 14l0 2-1-2 0-2 1-2 0 1zM127 14l0 2-1 0 0-1 0-2 0-1 0-1zM132 10l-1 1-1 0 0-1 0-1 1-1 1 0zM130 11l-1 5-1-1 0-3 1-4 1-3 0 2zM24 17l0 2-1 0 0-1-1-2 1-1 1 1zM39 23l-2 4-2 2 0-6 1-4 3-6 1 3zM43 16l0 2-1 1-1-2 0-2 1-2 0 1zM66 23l1 3-1 1-2-2-2-5 0-4 1 1zM77 24l-1 2-1 0 0-1 0-2 0-1 1 0zM120 17l0 2-1 0 0-1 0-3 1 0zM25 33l1 2-1 0-1-1 0-1 0-3 1 1zM32 28l-1 3-2-1 0-2 1-3 2-2 1 2zM41 38l0 2-1 1-2-2 0-4 1-3 2 1zM44 32l0 2 0 1-1-1-1-3 1-2 1 0zM56 30l0 1-1 0 0-1 1-1zM78 27l0 2-1-1-1-2 0-1 1-1zM95 34l-1 6-1 3-2-5 1-6 1-3 1 2zM103 27l-1 3-1 2-1-3 0-4 1-1 1 1zM106 29l0 2-1 0 0-1 0-2 0-1 1 1zM145 34l0 4-1 0-1-1 0-3 1-3 1 1zM135 32l-1 5-1-1-1-2 1-4 1-3 1 2zM25 45l0 1-1 1-1-2 0-1 1-2 0 1zM22 48l-1 2-1 1 0-2 0-2 1-3 1 1zM56 49l-1 1 0 2-1-2 1-4 0-1 1 1zM87 43l-1 2-1-1 0-3 1-1 1 1zM107 47l-1 3-1 1-1-2 0-6 2-2zM125 46l0 1 0 1-1-1 0-1 0-1zM26 51l-1 2-1 1-1-2 0-3 2-1 1 0zM61 53l0 2-1 1-1-1 0-3 1-1 1 1zM60 59l-1 1-1 0 0-1 1-1zM58 60l0 1-1 0 0-1 0-1 1-1zM92 52l-1 5-1 1-1-4 0-3 0-4 2 1zM116 58l1 4-1 1-2-1-1-5 0-4 1 2zM60 61l1 5-1 2-3-2 0-4-1-4 3 1zM134 68l-1 4-1 0-1-2 0-4 1-2 1-1zM32 75l-1 2-1 1-1-1 0-3 0-3 2 1zM53 80l-2 3-1 2 0-3 1-4 1-2 2-1zM121 78l-1 3 0 2-1-4-1-3 2-2 1 2zM140 77l0 2-1 0 0-1 0-2 1-1zM17 90l-1 3 0 1-2-1-1-5 1-2 1-1zM21 86l0 3-2 2-1-4-1-3 2-4 1 2zM59 88l0 1-1 0 0-1 0-1zM71 86l-1 4-2 0 0-3 1-2 2-2 1 1zM65 93l-1 3-1 0-1-2 0-2 1 0 1 0zM96 91l1 5-1 1-2-2-1-6 0-4 1 0zM19 102l-1 5-1 0-1-3 1-2 1-3 1 1zM52 102l-2 4-2 0-1-1 2-3 1-2 1-1zM72 97l-1 1 0 1-1-1 0-1 0-1 1 0zM94 102l1 5-1 2-1-4-2-4 0-4 2 1zM88 106l-1 2-1 0-1-2 1-2 2-2 0 1zM110 96l1 4-1 1-2-2 0-4 0-1 2 1zM107 107l0 2-1 0 0-3 0-2 1 1zM6 116l0 2-1 1 0-2 0-1 0-2 1 1zM49 115l-1 1-1 0 0-1 1-3 1 0zM117 112l-2 3-1 3 0-4 1-6 1-1 1 2zM137 113l0 2-1 0-1-1 1-1 0-1 1 0zM7 129l-2 3-1 1 0-3 1-2 2-3 0 2zM15 129l0 2-1 1 0-1-1-3 1-1 1 0zM60 127l-3 4-1 0 0-2 2-5 2-3 0 3zM55 125l0 2-1 1 0-2 0-2 0-2 1 1zM73 132l-1 3-2 2-1-5 1-6 2-2 0 2zM72 120l0 1-1 0 0-1 0-1 1 0zM74 128l-1 4-1-1 0-1 1-3 1-1 0 1zM81 127l0 2-1 0-1-1 0-1 1-2zM85 131l1 1-1 1 0-1 0-1-1-2 1 0zM92 120l0 6-1-1-1 0 0-4 0-4 1 1zM109 127l0 1 0 2-1-2 0-2 0-1 1 1zM17 134l0 9-2 2-1-8 0-4 2-4 1 1zM140 118l0 1-1-1 0-1zM118 41l0 2-2-1 0-2zM88 7l-1 2-1-2 1-1zM37 22l-2 3 0-3 1-1zM50 90l-1 3-1-2 1-2zM106 18l-1 1 0-1 1-1zM55 114l-1 0 0-1zM36 30l-2 1 1-2 1-1zM136 89l-1 1-1-1 1-2zM43 33l-1 2-1-1 1-2zM15 16l0 2-1-2 0-1zM94 63l-1 2-1-2 0-3zM136 137l-1 1 0-1 1-2zM97 22l-1 1-1-1 0-1zM34 131l-1 1 0-1 0-1zM45 16l-2 1 0-2 1 0zM86 53l-1 2-1-2 1-2zM80 26l-1 2-1-2 2-2zM77 112l-1 2-1-2 1-2zM127 120l0 1-1-1 0-1zM9 48l-1 2-1-3 2-2zM64 120l0 2-2-1 0-2zM119 113l-1 1-1-1 1-1zM68 59l0 1-1-1zM36 136l0 1-1 0 0-2zM70 7l-1 2-1-2 1-1zM139 129l-1 2 0-2 1-2zM131 91l-1 1-1-2 2-1zM46 38l0 2-1-2 1-1zM114 93l1 3-2-1-1-2zM122 120l0 1-1-1 0-1zM134 128l-1 0 0-1 1-1zM117 80l0 1-1-2 0-1zM19 35l-1 1-1-1 1-1zM33 59l-1 1-1-1 1-2zM21 92l0 2-1-1 0-2zM129 74l-1 1 0-1 0-2zM144 137l0 3-2-1 0-3zM113 103l-1 2-1-1 1-4zM69 21l-1 2-1-2 1-1zM12 9l0 1-1-1 0-1zM122 141l0 2-2-1 0-2zM114 34l0 1-2 0 0-2zM132 69l-1 1-1-1 2-2z"/>
<path fill="#30f026" d="M65 8l-1 4-1 4-1-6 0-4 0-6 2 4zM41 30l0 3-1-1 0-1 0-2 0-2 1 1zM16 55l0 2-1 2 0-3-1-1 1-2 1 1zM9 53l-1 1 0 1 0-1 0-2 0-1 0 1zM38 62l1 2-1 0-1-1 0-3 1 0zM37 66l0 1-1 1-1-1 0-2 1 0zM88 71l0 1-1-1 0-1 0-1 1 0zM88 77l-1 2-1 1 0-2 0-2 1-2 1 1zM12 87l-1 3-1 0-1-2 0-4 1-4 1 2zM15 95l2 7-2 0-2-4-1-4 1-6 1 1zM10 84l-1 2-1-1 0-1 1-1zM51 96l0 2-2 0 0-3 0-1 1 0zM104 86l0 4-1-1-1 0-1-4 0-5 2 2zM108 96l-2 3-1 0 0-1 1-4 2-2zM106 91l-2 3-3 1 1-4 2-5 1-3 1 3zM70 101l0 2-1 0 0-1 0-1 0-1 1 0zM102 101l-1 3-1 0 0-2 0-2 1-2 1 1zM62 113l-1 2 0 1-1-2 1-2 0-1 1 1zM95 116l-1 4-1 0-1-2 0-3 1-1 1 0zM27 127l-1 7-1-1-1-1-1-6 1-5 2 3zM46 126l0 2-1 0-1-1 1-2 1 0zM129 128l0 2-1 0 0-2 0-1 1 0zM53 132l1 3-1 1-1-2 0-2 0-2 1 1zM113 110l0 2-2-1 0-2zM52 26l-1 1 0-1 0-1zM69 25l-1 2 0-1 0-1zM24 126l-1 1-1-1 1-2zM135 58l-1 2 0-2 0-2zM34 51l-1 1-1-1 0-1zM16 129l0 3-2-2 0-4zM116 70l0 2-1-2 0-2z"/>
<path fill="#22e62c" d="M73 13l0 3-1-1 0-3 0-1 1-1zM73 9l-1 3 0 1-1-3 1-3 1-2 0 2zM18 33l0 3-2 2-1-1 0-5 1-3 1 2zM68 58l-1 1 0 1 0-2 0-1 1-1zM70 57l0 3-1 1-1-1 0-4 1-3 1 1zM138 52l0 3-1-1 0-3 0-2 1-1zM146 64l-1 1-1 0 0-1 1-2 1-2 0 1zM124 77l-1 3-1 0 0-2 0-3 0-1 1 0zM21 100l0 2-1 0 0-1 0-2 0-1 1 0zM111 102l0 2-1 0-1 0 0-2 0-1 1 0zM56 114l-2 5-2 2 0-4 2-4 1-4 1 2zM99 111l-1 1 0 1 0-2 0-2 1-2 0 2zM10 128l0 2-1 1-1-1 0-4 1-2 1 0zM61 124l0 5-1 0-1-3 0-4 1-1 1 1zM90 130l-2 7-2 2-1-6 2-4 2-5 2-1zM128 123l0 2 0-1-1 0 0-2 1 0zM128 124l0 3-2 2 0-2-1-5 1-2 1 1zM71 10l0 2-1-2 1-2zM135 136l0 2-2-1 0-2zM123 105l0 2-2-1 0-1zM47 73l-2 1-1-2 2-1zM64 46l0 2-1 0-1-2zM108 108l-1 1-1-1 1-1zM20 63l-1 1-1-1 1-1zM75 55l-2 1-1-2 2-1zM17 56l0 2-1-1 0-1zM30 123l-1 2 0-2 1-2zM28 35l-2 1 1-2 1 0zM100 58l-3 2 1-3 2-1z"/>
<path fill="#12de32" d="M70 7l0 5-1 2-2-2-1-8 1-1 2 1zM66 9l0 1-2 3-1-2 0-4 2-1 1 0zM145 35l-1 2-2 2 0-4 0-4 1 0 1 1zM15 48l0 6-1 3-1-4-2-5 1-4 2-1zM66 54l-1 2-2 2 1-3 1-2 1-1 1 0zM139 49l-1 4-1 2-1-2 1-6 1-3 1 3zM16 93l0 2-1 0-1 0 0-3 1-2 1 0zM43 89l0 2-1 1 0-1 0-2 0-2 1 1zM108 94l0 2-1 0 0-1 0-2 1 0zM14 96l0 2-1 0 0-1 0-1 0-2 1 0zM74 98l0 1-2 1 0-2 0-4 1-2 1 3zM93 98l0 2-2 1 0-1-1-3 1-2 1 1zM122 105l0 3-1-2 0-1 0-2 1 1zM59 112l0 4-1 3-2-4 1-5 1-2 1-1zM68 118l0 2-1-1 0-1 0-2 0-2 1 1zM96 117l-1 4-1 1-1-2 1-8 1 0 2 0zM110 111l-1 1-1-1 0-2 1-1 0-1zM130 111l-1 2-1 2-1-3 1-4 1-3 1 2zM6 124l1 3-2 1-1-3 0-3 1-2 1 1zM28 129l0 1-1 1 0-1 0-2 1 0zM41 125l-2 2-1 1 0-2 1-3 1-1 0 2zM48 131l0 1-1 1 0-1 0-1 1-1zM118 124l0 1-1 0 0-1-1 0 1-2zM128 123l-1 4-1 2-1-6 1-2 2-4 1 1zM23 140l0 7-1-3-1-2 0-3 1-4 1 0zM61 142l-1 2-1 0 0-2 1-1zM59 139l0 2-2 1-1-2-1-2 0-2 2 1zM20 80l0 2-1-2 0-1zM21 35l-1 2-1-1 0-2zM120 72l0 1-1-1 0-1zM84 100l0 1-1-1 0-2zM71 60l-2-1 1-1 2 0zM34 61l-1 1 0-1zM45 141l0 2-2-2 1-2zM139 132l0 3-2-2 0-4zM22 112l-1 1-1-1 1 0zM137 90l0 2-2-2 0-2zM72 104l-1 1-1-1 1-1zM9 95l-1 1-1-3 2 0zM125 107l-1 1 0-1 1-2zM39 128l0 1-2-1 1-1zM93 103l-2 2-1-2 1-3zM130 35l0 2-1-2 1-1zM132 79l0 1-1-2 1 0z"/>
<path fill="#2ce2ec" d="M78 13l0 5-2 0 0-8 0-3 2 3zM108 9l0 2-1 1 0-1 1-3 0-2 1 1zM129 4l0 5-2 0-1-1 1-7 1-3 1 3zM136 9l-1 3-2-1 0-1 1-3 1-2 1 1zM49 22l-1 2 0-1-1 0 1-3 0-1 1 0zM50 25l-1 5-1-1-1-2 0-3 1-3 2 0zM88 20l-1 4 0 1-1-2-1-5 0-2 1 2zM105 19l-1 1-2 0 0-2 0-2 3-3 1 1zM90 27l1 4-1 2-2-3-1-4 0-3 1 0zM107 59l0 3-2 1 0-1 1-3 0-2 1 0zM102 57l0 2-1-1 0-2 0-1 1 0zM114 57l-1 8-1 2-2-5 0-5 2-7 1 1zM36 74l-1 2 0-1-1 0 0-2 0-1 1 1zM37 74l-1 3-1-2 0-2 1-2 0 2zM43 78l-2 6-2 0 1-5 0-4 3-5 0 4zM65 77l1 6-1 0-3-5-1-4 0-5 1 1zM70 80l0 1-1 0 0-2 1-1 0 1zM37 90l-1 2-2 2-1-4 0-4 2-1 2 1zM102 85l-1 6-1-1-1-3 1-3 1-4 1 1zM123 104l0 2-1 2 0-1-1-3 1-3 1 1zM51 141l0 1-1 0 0-1 0-1 1-1 0 1zM50 136l-2 4 0 2-1-3 1-4 0-4 1 2zM79 135l-1 2-1-1 1-2zM116 59l-1 0 0-1 1 0zM38 119l-1 2-2-2 2-2zM135 82l-1 2-1-1 1-2zM105 94l-1 2-1-1 1-2zM126 79l-1 3-1-3 1-2zM87 27l-1 1-1-1 2-1zM41 101l-1 2 0-1 0-2z"/>
<path fill="#3aece6" d="M94 8l0 2-1 2-1-3 0-2 1-3 1 1zM109 14l-1 6-1 1-2-5 1-7 2-2 1 0zM137 5l-1 2 0 1-1-2 0-2 0-4 1 2zM50 21l1 5 0 1-2-3-1-5 1-2 1 2zM58 22l-1 1-1 0 0-1 1-2 1-1zM80 19l0 3-1 0 0-2 0-3 0-1 1 1zM89 23l-1 2-1 0 0-1 0-2 1-1 0 1zM95 21l-1 3-1 1-1-4 1-3 1-2 1 1zM67 27l0 1-1 2 0-2 0-3 1-1 0 1zM73 28l0 2-1 1-1-2 1-3 0-1 1 0zM130 26l0 3-1-1-1-4 1 0zM94 48l-1 3-1 2 0-3 1-4 1 0 1-1zM91 41l0 1-1 0 0-1 1-1 1 0zM95 46l0 3-1 2-2-3 0-3 1-3 1 2zM140 45l-1 3-2 0 0-2 0-3 1-1 2 0zM105 53l-1 1-1-1 1-1 0-1 1 0zM110 56l-1 3-1 1 0-1 0-5 0-2 1 2zM143 59l0 1-1 1-1-1 0-3 1 0zM28 66l-1 3-1 0-1-2 0-3 2-3 1 1zM97 63l1 4-1 1-1-3-1-2-1-3 2 1zM135 68l0 2-2 0-1-1 1-2 0-1 1 0zM66 75l1 3-1 2-1-2-2-5 0-2 2 2zM109 84l-1 3-1 0 0-4 0-4 2 1zM58 96l0 2-1 0 0-2 0-2 0-2 1 1zM69 86l0 1-1 0-1 0 0-2 1-1 1 1zM45 100l0 3-1 1-1-1 0-4 0-1 1 0zM47 104l-1 5-2 1 0-3 0-4 1-5 1 2zM8 116l-1 2-1-1-1-3 1-3 1 1zM18 121l-2 2-1 3-1-6 1-7 2-1 1 1zM31 112l-1 1-1 2-1-3 0-4 2-2 1 1zM106 57l-1 2-1-1 1-2zM71 129l-1 1-1-3 2-1zM78 34l-1 2-1-3 1-1zM35 23l0 1-1-1 0-1zM6 100l0 2-2-2 1-1zM54 15l1 1-2 0 0-2zM19 67l-1 2-1-2 1-2zM106 91l-1 1 0-2 1-1zM122 56l-1 1-1-1 1-1zM67 89l0 1-1-1 1-2zM143 64l-1 1-1-2 1 0zM50 103l0 3-2-2 1-2zM20 59l0 2-2-2 1-2zM57 84l0 1-2-1 1-1zM92 52l-1 2-1-1 0-3zM137 44l0 2-1-2 1-2z"/>
<path fill="#2e36e2" d="M55 21l0 3-1 2-1-3 0-4 1-1 1 1zM82 35l-1 7-1 4-2-3-1-8 2-4 1 1zM12 39l0 1-1 2-1-2 1-2 1-2 1 1zM36 59l0 2-1 0 0-1 0-1 0-1zM15 70l0 4-1-1-1 0 0-3 1-4 1 2zM32 107l-1 2-1 1 0-2 1-6 1-1 1 1zM109 131l0 5-1 1-2-4 0-8 1-4 1 2zM39 133l-1 2-1-1 0-1 1-1zM39 138l0 2-1 1-1-2 0-4 1-2 1 2zM39 134l-1 2-1-1 0-2 1 0 1 0zM43 110l-2 2 0-2 1-2zM48 132l0 1-1-1 1-2zM83 75l-1 1 0-1 0-1zM134 9l-1 1 0-1 1-1zM106 90l-2 2 0-3 1-1zM137 99l0 1-2-2 0-1z"/>
<path fill="#4aa0ef" d="M83 22l1 6-2 0-1-2-2-6 1-3 2 2zM105 20l0 2-1 2 0-3 0-3 1-1 1 0zM96 28l0 1-1 0 0-1 0-1 0-1zM92 27l-1 3-1 1 0-3 0-4 0-3 2 0zM144 28l0 1 0 1-1-1-1-1-1-3 1 0zM134 96l-1 5 0-1-1-3 0-3 1-2 1 1zM53 110l-2 4-1 1-1-5 1-3 2-3 1 1zM43 127l0 5-1 3-2-5 0-4 0-4 2 2zM46 129l0 2-1 3-2-3 0-4 1-4 1 1zM18 118l-1-1 1-1zM14 60l0 1-1-1 1-1zM116 79l-1 2-1-2 1-2zM120 129l-1 1-1-2 1-1zM137 35l0 3-2-2 0-4zM56 118l-1 2-1-3 2-1zM137 27l-1 2-1-1 1-2zM123 65l-2 2 0-2 1-1z"/>
<path fill="#2c8efb" d="M102 15l0 4-1 1-1-2 1-5 1-3 0 3zM110 26l-1 3-1 0-1-3 1-4 1-2 1 3zM96 33l-1 4-1 1-2-3 0-4 1-3 2-2zM144 31l0 1-1 1 0-1 0-2 1-2 0 2zM145 27l-1 3-1-1-1-1 1-3 1-1 0 1zM41 117l0 2 0 1-1-2 0-2 0-1zM46 116l0 2-1 0-1-1 0-1 1-1 1 0zM45 123l0 2 0 1-1-1-1-3 0-2 1 1zM45 126l-1 1 0 1 0-1 0-3 0-1 1 0zM45 8l-2 1 0-2 2-1zM63 107l-1 2-1-2 0-2zM82 58l-1 3-1-3 1-2zM45 124l-1 2 0-1 1-2zM69 81l0 1-1-2 1-1z"/>
<path fill="#dcda2a" d="M124 23l0 3-1 0-1-2 0-3 1-1zM115 130l-1 7-1-1-2-2 0-5 1-8 2 4zM78 62l0 1-1-1 1-1zM138 50l-1 3-1-2 1-2zM142 53l-1 2-1-2 1-1z"/>
<path fill="#202ce8" d="M143 18l0 2-1-1-1 0 0-3 1-1 1 1zM86 33l0 2-1 0 0-1-1-3 1-1zM85 31l0 2-1 0 0-1 0-2 0-1zM7 43l0 3-1 2 0-3-1-3 1-2 1 1zM10 45l0 2-1-1 0-1 1-1zM13 64l0 2-1 0 0-1 0-2 1-1 0 1zM90 61l0 4-1 0-1-1 0-4 1-3 1 2zM93 67l0 2-1 0 0-1 0-1 1-1zM118 84l-1 2-1 1 0-3 0-1 0-3 1 1zM102 85l0 6-1 2-2-3-2-6 1-5 2 2zM103 131l-1 1 0 1 0-2 0-1 0-1 1 1zM6 35l-2 2 0-3 1-1zM21 121l-1 2-1-2 1-2zM20 126l-1 2-1-2 1-2zM27 120l0 1-1 0zM135 72l0 1-1-2 0-1zM145 31l-1 0 0-1 1 0zM87 34l-1 2-2-2 0-2z"/>
<path fill="#862cf2" d="M139 15l1 4-1 2-3-4-1-4-1-5 2 2zM142 18l0 2-1-1 0-1 0-2 0-1 1 1zM9 62l-1 2-1-1 0-2 1-1 0 1zM16 62l-1 2 0-1 0-1zM38 90l0 3 0 2-1-3-1-4 0-2 1 1zM97 86l0 2-1 0 0-1 0-1 0-1zM89 91l1 2-2 1-1-2 0-2 1-2 1 0zM11 126l-2 2 0-2 1-3zM11 61l-1 2-1-1 1-2zM32 93l0 1-1-1 0-1zM39 90l-1 2-1-1 1-2zM45 64l1 1-2-1 0-2zM50 82l-1 1-1-1 1-2zM56 28l-1 0 1-1zM87 87l-1 2-1-1 0-1zM50 114l-2 1 0-1 1-1zM142 10l0 2-2-1 1-2z"/>
<path fill="#e6369c" d="M20 28l0 1-1 1 0-2 0-1 1-1 1 1zM66 38l-1 2-1 1 0-2 0-2 1-1 1 0zM67 43l0 2-1 1-1-1 0-5 0-2 1 0zM57 90l-2 3-1 0 0-2 1-3 1-1 1 1zM47 107l-1 4-1 1-2-3 2-6 1-3 1 2zM53 99l0 2-1 0 0-1 0-2 0-2 0 2zM54 107l0 3-1 0-1-1 0-3 1-2 1 1zM55 99l-1 2 0 1-1-1 0-4 0-1 1 2zM117 100l0 2-1 1-1-2 0-3 1-1 1 1zM114 97l-1 3-1 1 0-3-1-4 1 0 1 0zM143 115l-1 1-1-1 1-1zM60 109l-1 1-1-2 1-2zM57 134l-1 1-1-1 1-2zM58 122l0 3-1-1 0-4z"/>
<path fill="#ff4890" d="M26 36l0 1-1 2-1-2 0-2 1-1 1 0zM126 76l0 2-1-1 0-2 1-1 0 1zM44 99l0 2-1 1 0-2 0-2 0-1 1 0zM60 108l1 1-1 0-1-1 0-1 0-1 1 0zM112 98l0 4-1 1 0-3 0-2 0-2zM133 111l0 2-2-2 1 0zM64 119l0 2-2-1 0-3zM7 85l0 1-1-1 0-2zM104 18l-1 1-1-1 1-1zM77 101l-2 1 0-1 1-1zM59 121l-1 1-1-1 1-1z"/>
<path fill="#1024ee" d="M87 32l0 4-1 0-1-2 1-3 0-3 2-1zM7 65l-1 5-1-2 0-2 1-5 2-2 1 1zM94 71l-2 5-1-1-1-1 2-7 2-4 1 1zM10 75l0 6-2-1-1-3-1-6 1-3 2 0zM123 82l-1 4-1 1-1-4 0-6 1 0 1 1zM109 91l-1 1-1-1 0-1 1-1zM49 110l0 1-1 0 0-1 0-1 1 0zM102 129l0 2-1 3-2-4 0-3 1-3 2 2zM51 134l0 1-1-1zM37 132l0 1-1-1 0-1zM69 122l-2 1 0-2 2 0z"/>
<path fill="#9634ec" d="M22 44l-1 1-1 0 0-2 1-1zM70 60l0 4-1 0-1-2 0-5 1-1zM10 69l0 3-1 2-1-3 0-5 1-1 0 1zM10 67l-1 1 0 1-1-2 0-1 1-1 0 1zM94 92l-1 6-1 1-2-4 1-4 2-4 0 1zM53 108l-1 2-1 0-1-1-1-3 1-3 2 2zM89 130l1 1-1 0-1 0 0-1 0-1 1-1zM80 135l-2 2 0-2 2-1zM95 86l-1 2-1-2 2-2zM5 69l0 1-1-1 0-1zM135 90l-1 2-1-2 2-2zM124 51l-1 2-1-1 1-2zM18 94l-1 3 0-3 1-2zM130 133l0 1-1-1 0-2zM138 36l0 2-1-1z"/>
<path fill="#f63e96" d="M72 47l0 2-1-1-1-3 1-1 1 0zM69 48l-1 2 0-1 0-3 2-2 0 2zM66 96l0 1 0 1-1 0 0-4zM116 101l-1 1 0 1 0-1 0-2 1 0zM67 113l-1 4-2 1 0-2-1-5 2-3 1 1zM73 112l-1 2-2 0 0-1 0-3 1-1 1 1zM68 110l0 4-1 1-1-2 0-5 1-2 1 2zM101 119l0 2-1-1 0-1 1-1zM32 84l0 1-1-1 1-1zM82 109l-1 0 0-1 1-2zM40 86l0 1-1-1 0-1zM43 104l-1 1 0-1 1-1zM73 100l0 1-1-1 1-1z"/>
<path fill="#ece224" d="M147 48l-1 3-2 3 0-6 0-3 1-4 2 0zM106 78l0 1-1 0 0-1 0-1 1-1 0 1zM53 86l0 4-3 4-1-5 1-6 2-4 1 3zM81 90l-1 4-1 0-1-1 1-5 1-4 1 3zM71 124l0 1-1-1-1-2 1 0zM66 122l0 1-1 1 0-1 0-1 0-2 1 0zM121 119l0 4-1 2-2-3 0-4 1-3 1 0zM113 124l-2 3-1 0-1-2 0-4 3-4 0 3zM123 127l-1 3-1 1 0-2 0-2 0-3 1 1zM70 124l0 1-1-1 1-1zM60 93l-1 2 0-2 1-1zM129 101l-1 2-1-2 1-3zM38 42l-1 2 0-3 1-3z"/>
<path fill="#faec1e" d="M137 47l-2 3 0 2-1-3 1-4 1-3 1 2zM143 48l0 1 0 1-1-1-1-2 1-1 1 1zM90 83l0 6-1 4-2-5 0-7 1-4 2 4zM66 120l0 2-2 1-1-2 1-3 1-2 1 2zM74 125l-1 2-1 3-1-3-1-4 1-3 2 1zM116 125l-1 4-1 1 0-4 0-3 1-1 1 0zM42 15l-1 3-1-3 1-2zM112 104l-1 3-1-2 1-2zM41 66l0 3-2-3 1-2zM56 36l-1 2-1-2 1-1zM135 13l-2 1 0-2 2-1zM93 6l-1 1-1-1 0-2zM42 55l0 1-1-1 1-1zM111 111l-1 1 0-1zM132 88l0 1-1-1 0-1z"/>
<path fill="#a43ee6" d="M35 68l-1 2-2 3 0-2 0-5 0-3 3 2zM30 95l0 2-1 0 0-1 0-2 0-2zM83 104l-1 0 0-2 2 0zM137 81l-1 0 0-1 1-1zM26 39l-1 1 0-2 1-1zM92 7l1 2-2-2 0-1zM18 38l0 2-1-1 0-1zM79 16l-1 2-1-2 1-1zM26 7l0 1-1-1 0-2zM138 7l-1 2 0-2 1-1zM94 86l-1 2-1-1 0-2zM85 57l-1 2-1-2 1-1z"/>
<path fill="#fa968c" d="M6 83l0 3-1 2-1-3 0-4 1-3 1 0zM10 80l-1 2-1 1-1-2 0-3 1-2 1 1zM13 84l-1 2-2 1 0-3 2-3 2-2 0 1zM65 77l1 4-1 3-3-5-1-4 1-2 2 0zM24 94l-2 4-1 0 0-3 1-5 1-1 1 0zM11 77l-1 2-1-2 0-1zM71 74l-1 1-1-1 1-1z"/>
<path fill="#ffa086" d="M11 77l1 3-1 1-1-3-1-2 0-3 1 0zM72 76l0 1-1 0-1-1 1-2 1 0z"/>
<path fill="#ea8e92" d="M66 78l0 6-1 1-2-3-1-6 1-3 2 3zM72 76l0 1-1 0 0-2 1 0z"/>
<path fill="#3c96f5" d="M48 112l-1 4-1 2-1-3 0-4 1-2 1 1zM71 111l0 3-1 0-1-2 0-4 1 0 1 1zM46 141l0 2-1-1 0-4 1 0 1 0zM49 132l-1 1-1 2 0-3 0-1 0-3 1 0zM135 33l0 1-1-1 1-2zM25 128l-1 1-1-2 1-2zM67 117l-1 3-1-2 1-3zM40 9l-1 1-1 0 1-2zM112 98l-1 1-1-1 1-2zM65 125l-1 2 0-2 1-2zM45 54l-1 1 0-1 1-1z"/>
<path fill="#9ae82e" d="M124 83l0 3-2-2 1-2zM12 54l-1 1-1-1 1-2zM94 11l-1 1-1-2 2-2zM10 36l-1 1-1-2 2-1zM67 98l-1 1-1-2 2-1zM118 71l0 2-1-2zM115 59l-1 2-1-1 0-2z"/>
<path fill="#aaf028" d="M91 129l-1 1 0-1 0-1zM132 20l-1 1 0-1 0-1zM59 136l-2 3-1-4 2-1zM78 15l-1 2-2-2 1-2zM140 108l-1 2-1-2 1-2zM18 70l-1 1-1-1 1-2zM142 107l0 2-1-2 0-2z"/>
<path fill="#b8fa22" d="M29 64l0 3-2-3 1-3zM131 4l0 2-2-2 1-2z"/>
</g></g>
<clipPath id="clip_b"><rect x="147.0" y="2.0" width="141.30" height="141.60"/></clipPath>
<g clip-path="url(#clip_b)"><g filter="url(#soft)">
<path fill="#ec161c" d="M147 2l12 0 0 12-12 0zM159 2l12 0 0 12-12 0zM171 2l12 0 0 12-12 0zM182 2l12 0 0 12-12 0zM194 2l12 0 0 12-12 0zM206 2l12 0 0 12-12 0zM218 2l12 0 0 12-12 0zM229 2l13 0 0 12-13 0zM241 2l12 0 0 12-12 0zM253 2l12 0 0 12-12 0zM265 2l12 0 0 12-12 0zM277 2l12 0 0 12-12 0zM147 14l12 0 0 12-12 0zM159 14l12 0 0 12-12 0zM182 14l12 0 0 12-12 0zM206 14l12 0 0 12-12 0zM218 14l12 0 0 12-12 0zM229 14l13 0 0 12-13 0zM241 14l12 0 0 12-12 0zM253 14l12 0 0 12-12 0zM265 14l12 0 0 12-12 0zM277 14l12 0 0 12-12 0zM159 26l12 0 0 12-12 0zM194 26l12 0 0 12-12 0zM206 26l12 0 0 12-12 0zM218 26l12 0 0 12-12 0zM229 26l13 0 0 12-13 0zM241 26l12 0 0 12-12 0zM253 26l12 0 0 12-12 0zM265 26l12 0 0 12-12 0zM277 26l12 0 0 12-12 0zM147 37l12 0 0 13-12 0zM194 37l12 0 0 13-12 0zM218 37l12 0 0 13-12 0zM229 37l13 0 0 13-13 0zM241 37l12 0 0 13-12 0zM253 37l12 0 0 13-12 0zM265 37l12 0 0 13-12 0zM277 37l12 0 0 13-12 0zM147 49l12 0 0 12-12 0zM159 49l12 0 0 12-12 0zM171 49l12 0 0 12-12 0zM182 49l12 0 0 12-12 0zM194 49l12 0 0 12-12 0zM218 49l12 0 0 12-12 0zM229 49l13 0 0 12-13 0zM241 49l12 0 0 12-12 0zM253 49l12 0 0 12-12 0zM265 49l12 0 0 12-12 0zM277 49l12 0 0 12-12 0zM147 61l12 0 0 12-12 0zM159 61l12 0 0 12-12 0zM171 61l12 0 0 12-12 0zM182 61l12 0 0 12-12 0zM194 61l12 0 0 12-12 0zM218 61l12 0 0 12-12 0zM229 61l13 0 0 12-13 0zM241 61l12 0 0 12-12 0zM253 61l12 0 0 12-12 0zM265 61l12 0 0 12-12 0zM277 61l12 0 0 12-12 0zM147 73l12 0 0 12-12 0zM159 73l12 0 0 12-12 0zM182 73l12 0 0 12-12 0zM194 73l12 0 0 12-12 0zM206 73l12 0 0 12-12 0zM229 73l13 0 0 12-13 0zM241 73l12 0 0 12-12 0zM253 73l12 0 0 12-12 0zM265 73l12 0 0 12-12 0zM277 73l12 0 0 12-12 0zM171 85l12 0 0 12-12 0zM182 85l12 0 0 12-12 0zM194 85l12 0 0 12-12 0zM206 85l12 0 0 12-12 0zM218 85l12 0 0 12-12 0zM229 85l13 0 0 12-13 0zM241 85l12 0 0 12-12 0zM253 85l12 0 0 12-12 0zM277 85l12 0 0 12-12 0zM171 96l12 0 0 13-12 0zM182 96l12 0 0 13-12 0zM194 96l12 0 0 13-12 0zM206 96l12 0 0 13-12 0zM218 96l12 0 0 13-12 0zM229 96l13 0 0 13-13 0zM241 96l12 0 0 13-12 0zM253 96l12 0 0 13-12 0zM277 96l12 0 0 13-12 0zM147 108l12 0 0 12-12 0zM159 108l12 0 0 12-12 0zM171 108l12 0 0 12-12 0zM182 108l12 0 0 12-12 0zM194 108l12 0 0 12-12 0zM206 108l12 0 0 12-12 0zM218 108l12 0 0 12-12 0zM241 108l12 0 0 12-12 0zM253 108l12 0 0 12-12 0zM277 108l12 0 0 12-12 0zM147 120l12 0 0 12-12 0zM171 120l12 0 0 12-12 0zM194 120l12 0 0 12-12 0zM206 120l12 0 0 12-12 0zM218 120l12 0 0 12-12 0zM241 120l12 0 0 12-12 0zM253 120l12 0 0 12-12 0zM265 120l12 0 0 12-12 0zM277 120l12 0 0 12-12 0zM147 132l12 0 0 12-12 0zM159 132l12 0 0 12-12 0zM182 132l12 0 0 12-12 0zM194 132l12 0 0 12-12 0zM218 132l12 0 0 12-12 0zM229 132l13 0 0 12-13 0zM241 132l12 0 0 12-12 0zM253 132l12 0 0 12-12 0zM265 132l12 0 0 12-12 0zM277 132l12 0 0 12-12 0zM146 69l0 2 0-33 1 9zM146 38l0-8 1-8 5 5 0 2-2 31-3-13zM152 1l2 0 0 3-1-1zM155 133l3-11 2 16 0 3-2 3zM156 52l2 3 1 10 1 7-5 8zM160 1l1 0 3 26 0 5 0 5-1 0-2-10zM160 73l0-3 4 5 1 16-1 11-1 0-2-15zM163 102l1 0 1 20 1 6-3 4-1-20zM170 145l-4 0 0-12zM168 72l2 27 0 4-1 1-4-13zM164 27l1-12 1-6 1 0 0 4 1 3 1 17-1 6-4-7zM172 62l-1 7-3-3 0-18 3 8zM169 33l-1-17 0-1 4 17-2 5zM172 85l3 1 1 3 0 7-2 17 0 1zM176 96l2 17-1 10-3-10zM175 52l2-2 1 2 0 26 0 7-1 4-1 0-1-3-1-26zM175 1l5 0 0 5-2 7zM182 10l0-9 3 0 0 5-2 8zM183 46l3 3 2 8-1 4-2 12-2-18zM183 43l0-28 3 21 0 13-3-3zM190 38l1-3 2 0 1 1 1 5 0 12-1 4-3 14-2-9 0-1zM189 8l0-1 2-4 1 4-1 8-1-2-1-2zM190 1l1 0 0 2-2 4zM202 138l0-8-1-12 1-8 0 1 3 6 0 4 0 6 0 6-1 8-1-2zM205 106l0 10 0 1-3-6 2-12 0 2zM201 91l1-1 2 9-2 12 0-1zM209 132l-4-5 0-6 4 6zM207 102l0-1 1-14 2 5 0 1-3 15zM205 1l1 0 4 18 0 20-2-2-3-26zM213 79l0-6 0-14 1-3 2 2 1 4 1 9 0 11-1 14-3-12zM217 42l1-1 2 2-3 19-1-4zM217 23l3 8 1 12-1 0-2-2-1-16zM218 107l4 0 1 16 0 1-5-1zM220 66l-2 5-1-9 3-19 1 0zM222 99l1-1 4 19-1 13-1-1-2-6-1-16 0-7zM220 66l1-23 1 7 1 22 0 1-2 1zM222 50l1 0 2 16 1 12 0 7-1 1-2-14zM220 22l4-14 0 20-4 2zM222 99l1-26 0-1 2 14-2 12zM235 1l3 0 0 2-3 2zM225 31l3 13 0 1-1 5-3-4zM228 1l4 0 1 6 0 4-4 1zM234 82l0-14 2 17 2 20 0-1-3-12zM232 29l2-5 2 36-1 3-2-25zM235 97l0-5 3 12-2 4-1-6zM233 11l0-4 1 2 0 13 0 2zM234 22l2 11 1 7 0 19-1 1-2-36zM236 21l2-15 1 21-2 13-1-7zM240 79l4 2 2 24 0 1-5-12-1-4zM240 71l1-16 1-1 3 23-1 4-4-2zM243 29l1-4 1 6 1 27-3-8zM247 139l1 6-1 0 0-1zM246 74l0-15 3 23 0 6-1 1zM243 1l3 0 0 8-2 4zM246 59l1-3 4 15 0 6-2 5zM249 128l3 13-1 4-1 0-2-12zM250 120l3 8-1 12 0 1-3-13zM253 128l1-1 1 18-2 0-1-5zM249 18l1-2 1 5 1 16-1 1-3-11zM249 1l1 0 0 15-1 2zM251 1l2 0 1 16 0 23-2-3-1-16zM254 125l0-14 2 4 2 8 1 10-1 6-2-2zM263 145l-1 0-1-34 1-9 2 23zM259 119l2-8 1 34-1 0-2-12-1-10zM258 68l1-8 0 3 3 20-5-11zM263 45l-3-17 0-15 0-3 4-9 0 6-1 40zM264 1l4 0 0 15-2 4-2-13zM263 47l1-40 2 13 1 16 0 5-3 9zM283 145l-3 0 0-9 1-6zM267 87l2-14 3 0 0 5-1 12-2 9-1-1zM269 55l3-10 0 28-3 0zM274 99l0-1 2 0 0 10-1 28-1-14zM271 1l2 0 0 9-1 1-1 3zM279 85l1-1 3 27 0 5-1 7 0 2-1 1-2-34zM280 40l3-5-2 24 0-4zM281 126l1-1 2 12 1 8-2 0-2-15zM282 123l4 6 0 12-2-4-2-12zM283 116l4-7 1 14-2 6-4-6zM287 90l1-4 1 15 0 26-1-4-1-14zM289 16l0 29-1-14 0-14z"/>
<path fill="#202ce8" d="M171 14l12 0 0 12-12 0zM173 1l2 0 3 12 0 9-1 4-3-20z"/>
<path fill="#f63e96" d="M194 14l12 0 0 12-12 0zM182 26l12 0 0 12-12 0zM182 37l12 0 0 13-12 0zM206 37l12 0 0 13-12 0zM193 11l1-10 2 0 1 23-2 14 0 3-1-5zM211 47l2-29 2 19-1 19-1 3zM216 30l1 12-1 16-2-2 1-19zM260 1l4 0-4 9zM276 98l0-5 3-1 2 34 0 4-1 6-4-28z"/>
<path fill="#22e62c" d="M147 26l12 0 0 12-12 0zM206 49l12 0 0 12-12 0zM206 61l12 0 0 12-12 0zM171 73l12 0 0 12-12 0zM159 85l12 0 0 12-12 0zM159 96l12 0 0 13-12 0zM265 108l12 0 0 12-12 0zM147 20l1-19 3 11 1 15-5-5zM154 29l1-9 3 10 0 7-2 10zM155 12l1-11 3 0 0 29-1 0-3-10zM161 125l0-11 1-2 1 20-1 2-1-4zM159 65l1-22 0-2 1 3 0 13-1 13 0 3 0-1zM168 69l0-3 3 3 1 13-2 17-2-27zM168 39l1-6 1 4 1 19-3-8zM186 99l1-3 0 30-1 7 0 3-3-24zM198 42l1-15 1 1 1 23zM203 18l2-7 3 26-3 17zM210 40l1 7 2 12 0 14-4-5-1-9zM274 122l-4-15 4-8zM272 11l1-1 3-1 1 13-2 7z"/>
<path fill="#2ce2ec" d="M171 26l12 0 0 12-12 0zM159 37l12 0 0 13-12 0zM171 37l12 0 0 13-12 0zM174 6l3 20 0 24zM199 27l-1 15-3-4 2-14zM229 53l4-15 2 25-1 5-4-8-1-3z"/>
<path fill="#3c96f5" d="M218 73l12 0 0 12-12 0zM159 120l12 0 0 12-12 0z"/>
<path fill="#ec2ce2" d="M147 85l12 0 0 12-12 0zM206 132l12 0 0 12-12 0zM147 132l-1-20 0-1 1 0 0 23zM165 1l1 0 0 5zM166 9l-1 6-1-14 1 0 1 5zM206 1l3 0 1 17 0 1zM215 138l2 7-2 0zM223 124l-1 21-2 0 0-2-2-20zM214 14l2-13 1 22 0 2-1 3zM254 44l0-3 4 0 1 19-1 8-4-20zM258 35l2-7 3 17-4 18 0-3-1-19zM275 77l0-7 0-13 3 1 1 27 0 7-3 1z"/>
<path fill="#fa701e" d="M265 85l12 0 0 12-12 0zM229 108l13 0 0 12-13 0zM182 120l12 0 0 12-12 0zM229 120l13 0 0 12-13 0zM171 132l12 0 0 12-12 0zM180 145l-3 0 2-9zM186 136l0-3 4 12-4 0 0-6zM195 134l0-13 3 12 0 12-2 0zM230 93l1-1 1 12 1 10-1 9-1 4-2-18zM235 111l0-9 1 6 1 17-1-1zM251 68l2-3 1 11-3 1 0-6zM256 137l2 2 0 6-1 0-1-6zM271 90l0 1 3 8-4 8-1-8zM273 85l2-8 1 16 0 5-2 0-1-10z"/>
<path fill="#aaf028" d="M147 96l12 0 0 13-12 0zM150 74l1 39 0 3-3-11-1-15z"/>
<path fill="#ece224" d="M265 96l12 0 0 13-12 0zM160 145l-2 0 0-1 2-3zM166 145l-3 0-1-11 1-2 3-4 0 3 0 2z"/>
<path fill="#dc0e22" d="M149 145l-3 0 0-13 1 0 0 2 2 10zM149 144l2-13 2 14-4 0zM146 132l0-20 1 20zM148 105l3 11 0 9 0 6-2 13-2-10 0-23zM146 14l0-13 2 0-1 19zM151 8l0 4-3-11 3 0zM151 1l1 0-1 7zM155 91l0-9 0-2 5-8 0 1 1 14-3 14 0 1-3-9zM180 1l2 0 0 9-1-2-1-2zM158 102l0-1 3 13 0 11-3-12zM159 30l0-29 1 0 1 26-2 9zM160 41l-1-5 2-9 2 10-2 7zM165 122l4-18 1-1 1 11-5 17 0-3zM163 37l1 0 0 8-1 15-2-3 0-13zM164 75l-4-5 1-13 2 3 1 13zM164 37l0-5 4 7 0 9 0 18 0 3-2-5-2-19zM186 145l-5 0 1-3 4-3zM171 114l-1-11 0-4 2-17 0 3 2 29-2 11zM178 113l0-8 2 8-2 16-1-6zM181 145l-1 0-1-9-1-7 2-16 0-1 2 30zM180 80l-1-25 3 23 0 9 0 3zM182 78l1-21 0-2 2 18 0 8-3 6zM188 1l2 0-1 6 0 1zM203 145l-2 0 1-7 1 1zM190 102l2-12 1 4 0 35-1-2-1-7zM191 1l3 0-1 10-1-4-1-4zM195 98l2-6 1 17 0 10-3 2zM198 133l0-5 4 2 0 8-1 7-3 0zM198 109l3 9 1 12-4-2 0-9zM195 121l3-2 0 9 0 5zM201 57l1 5 1 12-1 16-1 1-3-8zM201 19l-3-14 1-4 2 16zM205 133l3 12-4 0 0-4zM203 74l-1-12 3-6 0 3 1 12 0 16-2-1zM209 127l-1-6 1-3 1-6 3 13-1 20-3 0 0-13zM207 108l3-15 0 19-1 6zM210 92l3-13 1 5 0 39-1 2-3-13 0-19zM207 75l2-7 4 5 0 6-3 13-2-5zM210 18l2-11 0 1 1 6 0 4-2 29-1-7 0-1 0-20zM209 1l2 0 1 6-2 11zM216 30l0-2 1-3 1 16-1 1zM227 134l1 2 0 9-1 0 0-2zM224 8l0-7 4 0 1 11 0 1-1 31-3-13-1-3zM224 46l3 4-2 16-2-16zM228 136l3-4 1 13-4 0zM226 78l2-3 2 18-1 16-1-2-2-22zM237 145l-3 0 1-13zM231 127l1-4 3 7 0 2-1 13-2 0-1-13zM229 13l0-1 4-1 1 13-2 5zM234 68l1-5 1-3 1-1 3 12 0 8 0 11 0 7-4-12zM241 94l5 12-1 13-2 6zM243 16l1 9-1 4-3-2 1-21zM241 6l0-5 2 0 1 12-1 3zM245 77l1-3 2 15-1 13-1 3-2-24zM246 105l1-3 3 14 0 4-1 8-1 5-1 0-2-14 1-13zM244 13l2-4 1 0 1 18-1 5-2-1-1-6-1-9zM253 145l-2 0 1-4 0-1zM246 58l-1-27 2 1 1 16-1 8-1 3zM248 89l1-1 2 18-1 10-3-14zM250 116l1-10 3 2 0 3 0 14 0 2-1 1-3-8zM247 32l1-5 3 11-1 17-2-7zM248 27l-1-18 0-8 2 0 0 17zM251 77l3-1 1 5 0 4-1 17zM261 145l-3 0 0-6 1-6zM257 145l-1 0 0-6zM254 48l4 20-1 4 0 8-2-21zM254 40l0-23 2-1 2 19 0 6-4 0zM265 125l3-25 1 37-1 2zM269 137l2 8-3 0 0-6zM275 145l-3 0-2-38 4 15 1 14zM267 36l4-2 1 10 0 1-3 10-2-14zM275 136l1-28 4 28 0 9-5 0zM273 1l3 0 0 8-3 1zM281 83l2 11 0 17-3-27zM282 71l2 16-1 7-2-11zM283 111l0-17 1-7 3 3 0 19-4 7zM286 145l-1 0-1-8 2 4zM282 14l0-13 4 0 0 4-2 33-1-5zM286 141l0-12 2-6 0 21 0 1-2 0zM282 60l1-2 2-2 3 22 0 1-6-13zM284 38l2-33 2 12 0 14-3 12zM289 86l0 15-1-15 0-7z"/>
<path fill="#30f026" d="M146 30l0-16 1 6 0 2zM152 27l-1-15 0-4 2-5 1 1 1 8 0 8-1 9-2 0zM164 73l2-9 2 5 0 3-3 19-1-16zM178 85l4 18-2 9 0 1-2-8-1-16zM195 53l1 11 1 19 0 9-2 6-1-2 0-39zM197 1l2 0-1 4zM195 41l0-3 3 4 3 9-5 13-1-11zM235 8l0-3 3-2 0 3-2 15zM266 20l2-4 3 5 0 13-4 2zM272 73l0-28 0-1 1 1 2 12 0 13-3 8zM273 45l2-16 2-7 0 1 1 34 0 1-3-1zM276 9l0-8 6 0 0 13-3 14-2-5 0-1z"/>
<path fill="#b8fa22" d="M146 111l0-22 0-1 1 2 1 15-1 6zM151 113l4-22 0 2 0 40 0 1-4-9 0-9zM155 93l3 9 0 11 0 9-3 11z"/>
<path fill="#dc24e8" d="M146 88l0-2 0-15 0-2 4 5-3 16zM166 6l0-5 1 0 0 8-1 0zM167 9l0-8 1 0-1 12zM205 127l4 5 0 13-1 0-3-12zM205 117l0-1 3 5 1 6-4-6zM254 44l0 4 1 11 0 22-1-5-1-11zM285 43l3-12 1 14 0 28-1 5-3-22z"/>
<path fill="#fa2016" d="M147 47l3 13 0 10 0 4-4-5zM155 133l3 11 0 1-3 0 0-11zM154 29l2 18 0 5-1 28 0 2-3-53zM161 1l3 0 1 14-1 12zM167 13l1-12 3 0-3 14 0 1zM176 89l1 0 1 16 0 8-2-17zM178 78l2 2 2 10 0 13-4-18zM186 99l-3 13-1-9 0-13zM185 81l1 7 1 6 0 2-1 3-4-9 0-3zM185 6l0-5 3 0 1 7 0 3-1 13-1-3zM196 145l-5 0 1-18 1 2 2 5zM190 13l1 2 2 20-2 0zM193 35l-2-20 1-8 1 4 1 25zM195 121l0 13-2-5 0-35 1 2 1 2zM201 1l4 0 0 10-2 7-1-2zM197 83l1 0 3 8 1 19-1 8-3-9-1-17zM196 64l5-13 0 6-3 26-1 0zM197 24l-1-23 1 0 1 4 3 14-1 9-1-1zM201 51l-1-23 1-9 0-2 1-1 1 2 2 36 0 2-3 6-1-5zM204 145l-1 0 0-6 1 2zM199 1l2 0 1 15-1 1zM207 102l0 6 2 10-1 3-3-5 0-10zM206 87l0-16 1 4 1 12-1 14zM215 145l-3 0 1-20 1-2 1 2 0 13zM214 123l0-39 3 12 1 11 0 16-3 2zM213 14l1 0 2 14 0 2-1 7-2-19zM232 1l3 0 0 4 0 3-1 1-1-2zM219 1l5 0 0 7-4 14zM216 1l3 0 1 21 0 8 0 1-3-8zM218 82l3 8 1 10 0 7-4 0-1-11zM220 31l0-1 4-2 1 3-1 15-1 4-1 0-1-7zM223 123l2 6 0 16-3 0 1-21zM227 117l1-10 1 2 2 18 0 5-3 4-1-2-1-4zM225 66l2-16 1-5 1 8 0 4-1 18-2 3zM228 44l1-31 3 16 1 9-4 15-1-8zM229 57l1 3 1 32-1 1-2-18zM231 92l-1-32 4 8 0 14zM235 130l1-6 1 1 2 5 2 15-4 0-2-13zM232 104l3-7 0 5 0 9-2 3zM239 107l-1-2-2-20 4 12zM234 22l0-13 1-1 1 13 0 12zM238 3l0-2 3 0 0 5-1 21 0 1-1-1-1-21zM243 50l3 8 0 1 0 15-1 3-3-23zM246 1l1 0 0 8-1 0zM248 48l2 7 1 13 0 3-4-15zM249 88l0-6 2-5 3 25 0 6-3-2zM251 38l1-1 2 3 0 1 0 3-1 21-2 3-1-13zM250 1l1 0 0 20-1-5zM256 1l2 0 0 4-2 1zM254 125l2 12 0 2 0 6-1 0-1-18zM256 115l2-26 1 30-1 4zM257 80l0-8 5 11 0 5 0 7-4-6-1-7zM253 1l3 0 0 5 0 10-2 1zM262 83l-3-20 4-18 0 2 1 3 1 28-3 10zM264 125l1 0 3 14 0 6-5 0zM264 50l3-9 2 14 0 18-2 14-2-9zM271 14l1-3 3 18-2 16-1-1-1-10 0-13 0-5zM272 78l1 7 0 3-2 3 0-1zM272 78l3-8 0 7-2 8zM286 1l3 0 0 15-1 1-2-12zM278 57l3-2 0 4 1 1 0 6 0 5-1 12-1 1-1 1-1-27zM282 66l6 13 0 7-1 4-3-3-2-16zM279 28l3-14 1 19 0 1 0 1-3 5zM289 127l0 18-1 0 0-1 0-21zM289 73l0 13-1-7 0-1z"/>
<path fill="#1cdaf2" d="M150 70l5 12 0 9-4 22-1-39zM171 56l-1-19 2-5 1 0 2 20-1 8-2 2zM178 13l2-7 1 2-1 20-1 1-1-7zM177 50l0-24 1-4 1 7-1 23zM182 40l1 3 0 3 0 9 0 2-4-3-1-2zM254 108l0-6 1-17 2-3 1 7-2 26-2-4zM281 55l-3 2-1-34 2 5 1 12z"/>
<path fill="#fa36dc" d="M151 125l4 9 0 11-2 0-2-14zM161 87l2 15-1 10-1 2-3-13zM183 14l2-8 2 15-1 15-3-21zM211 1l2 0-1 7 0-1zM215 125l3-2 2 20-1 2-2 0-2-7zM212 8l1-7 3 0-2 13-1 0zM255 81l0-22 2 21 0 2-2 3zM256 6l2-1 2 8 0 15-2 7-2-19zM281 59l2-24 0-1 0 24-1 2zM283 33l1 5 1 5 0 13-2 2 0-24z"/>
<path fill="#12de32" d="M150 60l2-31 3 53-5-12zM158 30l1 0 0 6 1 5 0 2-2 12 0-18zM163 60l1-15 2 19-2 9zM165 91l4 13-4 18-1-20zM171 69l1-7 2-2 1 26-3-1 0-3zM205 59l3 0 1 9-2 7-1-4zM225 86l1-1 2 22-1 10-4-19zM247 145l-6 0 2-20 2-6 2 14 0 6 0 5zM262 102l-1 9-2 8-1-30 4 6zM268 98l1 1 1 8 2 38-1 0-2-8-1-37z"/>
<path fill="#ea6824" d="M152 1l1 2-2 5zM154 1l2 0-1 11-1-8zM156 47l2-10 0 18-2-3zM182 103l1 9 3 24 0 3-4 3-2-30zM179 55l0-1 4 3-1 21zM185 73l2-12-1 27-1-7zM189 62l2 9 1 19-2 12-3-8zM187 126l4-6 1 7-1 18-1 0-4-12zM240 97l0-7 1 4 2 31-2 20-2-15 0-23zM236 108l2-4 0 1 1 2 0 23-2-5z"/>
<path fill="#2c8efb" d="M158 113l3 12 0 5-1 8-2-16zM172 125l1 20-3 0-4-12 0-2 5-17zM221 74l2-1-1 26 0 1-1-10z"/>
<path fill="#dcda2a" d="M160 141l0-3 1-8 1 4 1 11-3 0zM236 124l-1 6-3-7 1-9 2-3zM262 95l0-7 3-10 2 9 1 11 0 2-3 25-1 0-2-23z"/>
<path fill="#3aece6" d="M158 55l2-12-1 22zM181 8l1 2 1 4 0 1 0 28-1-3-2-12zM179 29l1-1 2 12-4 12zM237 59l0-19 2-13 1 1 1 27-1 16z"/>
<path fill="#ff7a18" d="M174 114l0-1 3 10 1 6 1 7-2 9-4 0-1-20zM178 52l1 2 0 1 1 25-2-2zM188 57l1 4 0 1-2 32-1-6 1-27zM192 90l-1-19 3-14 0 39-1-2zM231 92l3-10 1 10 0 5-3 7zM248 133l2 12-2 0-1-6 0-6z"/>
<path fill="#1024ee" d="M171 1l2 0 0 31-1 0-4-17zM202 90l1-16 1 12 0 15 0-2zM225 129l1 1 1 4 0 9 0 2-2 0zM268 16l0-15 1 0 2 15 0 5z"/>
<path fill="#2e36e2" d="M173 32l0-31 1 5 3 44-2 2zM204 101l0-15 2 1 1 14 0 1-2 4zM221 90l-3-8 0-11 2-5 1 8zM269 1l2 0 0 13 0 2z"/>
<path fill="#9ae82e" d="M187 94l3 8 1 18-4 6 0-30z"/>
<path fill="#e6369c" d="M186 49l0-13 1-15 1 3 2 14-1 23-1-4zM188 24l1-13 1 2 1 22-1 3zM205 54l3-17 2 2 0 1-2 19-3 0 0-3zM240 28l0-1 3 2 0 21-1 4-1 1z"/>
<path fill="#ff4890" d="M258 1l2 0 0 9 0 3-2-8z"/>
<path fill="#faec1e" d="M271 91l2-3 1 10 0 1z"/>
<path fill="#202ce8" d="M212 106l0 4-2 2-1 3-2 2-2 0-2-3-2-1 0-4-1-3 0-4 2-2 1-3 2 0 2 0 2 0 1 3 1 3z"/>
<path fill="#3c96f5" d="M229 80l-1 2-1 1-1 1-2 1-1 0-2-1-1-1-2-1 1-2 0-2 0-1 2-1 2 0 1-1 2 1 1 1 1 1z"/>
<path fill="#ec161c" d="M157 13l-1 3-1 1-1-2 1-4 1-3 1 2zM199 8l-1 2-1 0 0-1 0-2 0-1 1 1zM243 12l1 2-1-1-2-3 0-1 1-1zM268 10l1 3-2 2-2-2-1-7 1-2 2 2zM149 16l0 2-1 1-1-1 0-3 1-2 1 1zM149 25l0 2-1 1 0-1 0-3 1-1 0 1zM193 17l0 2-1 1-1-2-1-2 0-2 2 2zM197 16l-1 5-1 2-1-2 1-5 1-6 1 0zM210 19l0 4-2 0 0-2 0-3 1-2 1 1zM210 19l-1 3-1 1-1-3 1-4 1-4 2 2zM224 20l0 2-1 0 0-1 0-1 0-1zM279 17l0 6-2 2-1-4 0-4 1-2 1 0zM194 36l-1 0 0 1-1-1 1-1 0-1 0 1zM192 35l-1 4-1 1-1-5-1-4 1-2 1 0zM243 26l1 7-2 0-1-2 0-5 0-5 1 1zM280 34l-1 2-1-2 0-1 1-2zM170 40l-1 5-1 2-1-3 0-5 1-3 1 0zM180 49l0 2-2 2-1-1 0-4 1-3 2 0zM171 39l0 2 0-1-1-1 0-1 1-1zM193 39l0 3-1 1-1-2 0-3 1-2zM190 49l0 3-1 1 0-3 0-2 0-4 1 1zM212 52l0 1-1 1 0-1 0-1zM239 59l0 3-1 0 0-1 0-2 0-2 1 1zM263 57l-1 3-1 2-1-5 0-4 2-5 1 2zM282 54l0 1-1 1 0-2 0-3 1-2 1 1zM168 70l0 2 0 1-1-1-1-2 1-2 0 1zM190 65l1 3-1 0-2-1 0-4 0-2 1 0zM203 62l0 3-2-1-1-1 1-3 1-2 1 1zM216 67l0 2-1 2-1-3-1-3 0-2 2 1zM232 68l0 2-1 0 0-2 0-1 0-1 1 0zM247 63l0 3-1 0 0-1-1-3 1-1zM259 71l-1 4-1 0-1-1-1-4 2-3 1 1zM273 68l0 7-2 2-2-6 0-5 0-5 2 3zM164 85l-2 1-1 2-1-4 0-2 2-2 2 1zM179 75l0 1-1 0 0-1 0-1 0 1zM198 76l-1 6-1 0-1-2 1-5 1-5 1 4zM206 80l-1 3-1-2 1-2 0-2 1 0zM215 79l-1 2-1 1 0-2 1-1 0-1 1 0zM214 76l0 2-1 0 0-1-1-2 1-1zM221 74l0 5-1 3-1-5-1-6 2-4 2 2zM242 83l0 4-1-1-1-1 0-4 1-2 1 1zM234 78l0 2-1 1-1-1 0-4 1-3zM266 75l-1 5-1-1-1-2 0-3 1-3 2 3zM269 78l-1 3-1 1-1-3 0-2 1-3 1 2zM285 74l-1 7-2-2-1 1 1-10 2-5 1 3zM150 91l0 2-1 1-1-3 0-2 1-1 1 1zM214 95l0 3-1 3-2-3 0-7 1-2 1 2zM287 95l0 1-1 0 0-1 0-1 0-1 1 1zM150 101l-1 4-1 0 0-3 0-2 1 0 1-1zM195 104l0 3-1 1-1-2 0-4 1-3 1 2zM232 101l0 6-2 1-1-1-1-6 1-6 2 3zM247 107l1 3 0 4-2-2-3-8 1-1 1 0zM266 104l0 1-1 1 0-1 0-1 0-1 1 0zM164 116l-2 4-2 1 0-3 1-5 2-2 1 1zM171 112l-1 4-2 1-1-4 1-3 1-2 1-1zM175 111l-1 2-1-1 1-3zM205 118l-2 4-1 1-1-3 0-3 2-5 1 4zM232 107l-1 9-1 1-2-4 0-8 1-2 2 0zM245 117l-1 1-1 0 0-2 1-1 1 0zM254 118l-1 1-1-1 0-2 1 0 1-1zM258 116l0 2-1-1 0-2 1-2 0 1zM269 108l0 4-1 0-1-1 0-3 1-2 1 1zM151 125l0 3-1 0-1-3 0-2 1-3 1 1zM154 123l-1 2-1 0 0-1 0-2 1-1 1 1zM196 125l0 4-2 2-2-3-1-6 1-2 2 1zM200 130l0 3-2 2-1-3-1-3 1-1 1-1zM240 122l-1 2-1-1 1-2 0-1 1 1zM243 132l0 1-2 3 0-3 0-3 1-2 1 0zM247 123l-1 2-1-1 0-2 1-1 1 1zM274 125l-1 5-1 0 0-2 0-4 1-2 1-1zM165 135l-1 2-1-1 0-1-1-2 1-2 1 2zM166 141l0 4-1 0-2-2 0-2 1-2 2 1zM178 136l0 4-3 1-1-3 1-7 1-2 2 2zM173 136l0 1-1 0 0-2 1 0zM176 35l-2 2 0-2 1-2zM188 123l-1 0-1-1 1-1zM214 98l0 2-1-1 0-2zM159 81l-1 2-1-1 0-2zM187 12l0 1-1-1 0-1zM262 13l-1 1 0-1 1-1zM200 121l-1 0 0-1zM170 42l-2 0 0-1 1-1zM152 15l-1 1-1-1 2-1zM192 107l0 1-2 0 1-3zM250 41l0 1-1-1 1-1zM158 117l0 2-1-2 0-1zM183 101l0 2-1-2 0-2zM243 96l-1 1-1-1 1-2zM230 38l-1 1-1-1 1-1zM281 135l0 2-1-1 0-2zM184 141l0 1-1 0-1-2zM170 2l-1 2 0-3 1-1zM230 4l0 1-1-1 1-1zM195 133l-2 2 0-2 1-2zM186 143l0 1-1-1 1-1zM162 15l0 1-1-1 0-2zM250 68l-1 2-1-3 1-1zM289 39l0 2-2-2 1-1zM238 34l-1 1-1-2 1 0zM203 34l0 1-2-1 1-2zM262 94l0 1-1-1 0-1zM196 123l0 1-2-1 1-2zM256 119l-1 3-2-3 2-1zM230 99l0 2-1-1 0-1zM286 69l-1 1-1-1 1-3zM180 41l0 3-1-2-1-2zM224 49l-1 2 0-1 0-1zM274 9l-1 1-1-1 1-2zM156 80l-1 1 0-2 1-1zM221 33l-1 1 0-1 0-1z"/>
<path fill="#fa701e" d="M152 13l-1 5-1-1-1 0 0-6 1-3 1 3zM198 11l0 2-1 2-1-3 0-1 1-1zM201 5l0 2-1 0 0-1 0-1 0-1 1 0zM267 13l-1 2 0-2 0-2 0-1 1 0zM170 16l-4 4-2 2 0-3 3-7 1 0 2 1zM159 45l-1 1-1 0 0-2 1 0zM158 42l0 2-1 0-1-1 1-2 0-1 1 0zM191 72l-1 2-1 0-1-1 0-2 1-2 1 1zM222 62l0 1-1 0-1-1 0-1 1 0zM225 62l0 1-1 1 0-2 0-2 1 1zM232 69l0 1-1 1 0-2 0-2 0-1 1 0zM247 73l-2 5-1 2-1-4 1-7 2-3 2 1zM164 78l0 1-1 1 0-1 0-2 0-1 1 1zM188 81l0 3-1 1-2 0 0-7 1-4 2 3zM186 85l1 3-2 1-1-2-2-5 0-4 2 1zM190 80l0 1-1-2 0-1 1 0zM194 85l-1 3 0 1-2-2 0-3 1-3 0 1zM235 86l0 1-1 0-1-1 1-1zM252 92l0 2-1-1 0-1-1-1 1 0 1 0zM246 92l0 5-2 2-1-4-1-5 2-4 2 1zM273 96l-1 4-2 1-1-3 1-5 2-1 1-1zM272 91l0 1-1 0 0-2 1 0zM267 95l-1 4-1 1 0-2-1-3 1-3 1 1zM231 102l0 4-3 2 0-3 0-4 1-3 2 2zM242 119l0 3-1 0-1-1 1-4 0-1 1-1zM252 125l0 4-2-2 0-3 1-2 1 0zM277 129l-2 2-1 1 0-3 1-2 1-2 1 0zM182 143l-1 3-1 0-1 0 1-3 1-3 1 0zM174 136l0 5-1 0-2-3 0-3 1-2 2 1zM196 141l-1 2-2 2-1-3 0-3 2-3 1 2zM201 137l-1 3-3 2 0-4 2-6 1 0 1 1zM208 138l0 2 0 1-1-1 0-2 0-1zM249 143l-1 1 0 1 0-1-1-2 1 0zM255 137l0 1-1 1 0-1 0-1 0-1zM216 117l-2 1 0-3 2 0zM241 104l-1 2-1-2 1-2zM238 127l0 1-1-1 0-1zM231 131l-2 1 0-2 1 0zM158 49l-1 1-1-2 1-1zM268 126l-1 1-1-1 1-1zM193 142l-2 1 0-1 1-2zM263 94l-2 1 0-1 1-1zM274 27l-1 1 0-1 0-1zM169 75l-1 2 0-1 0-2zM164 79l-1 3-1-3 1-1z"/>
<path fill="#ea6824" d="M151 14l0 2-1 1 0-2 0-3 0-2 1 1zM157 11l-1 9-1 0-2-2 0-9 1-3 2-1zM168 17l0 2 0 1-1-1 0-2 0-1 1 0zM154 45l1 3-1 2-1-2-1-3 0-1 1 0zM248 51l-1 2 0-1 0-2 1-1zM179 61l0 1-1 0 0-1 1-1zM182 64l-1 2 0-1 0-1 0-1 0-1 1 1zM179 65l0 3-2 2-1-4 0-5 1-4 1 2zM185 63l0 1-1 1 0-1-1-2 1-2 0 1zM188 64l-1 8-1 3-2-7 1-6 1-4 2 0zM223 61l-1 4-1 0-1-2 1-4 1-2 0 2zM220 67l-3 6-1-1-1-1 3-7 1-1 2-1zM232 69l0 3-1 2-1-2-1-4 0-4 2 1zM242 70l0 2-1 0 0-3 1 0zM252 70l0 1-1 0 0-1 0-1 0-1zM279 69l-1 3-1 0 0-2 0-2 1-2 1 1zM191 75l0 6-2-1-2-2 0-4 0-2 3-1zM244 84l0 2-2 1 0-2 0-2 1-1 0 1zM280 76l-1 3-1 1 0-2 1-4 1 0 1 0zM186 85l0 4-2 0-1-2 0-3 1-2 2 0zM235 92l-1 2-1 0 0-2 0-2 2-2 0 1zM271 86l-2 3 0 1-1-1 1-7 1-1 1 1zM271 89l-1 2-1-1 0-1 0-2 1 1zM181 105l0 6-1 1-2-6-1-5 2-6 1 4zM176 108l0 1-1 0 0-1 1-1zM178 97l-1 2-1-1 1-2 1-2 0 2zM244 106l0 2-1 1-2-1 0-2 1-3 1 1zM277 126l0 2-2 0-1-1 1-3 1-3 1 1zM267 122l-1 3-1 0-1-2 1-4 1-1 1-1zM184 135l0 5-1 1-1-3 0-3 1-2 1 0zM206 140l0 2-1 0 0-1 0-1 0-1 1 0zM201 142l-1 2-2 1 0-2 1-2 1-1 1 0zM214 143l0 3-1 0-1-1 1-3 0-1 1 0zM251 140l0 1-1 1-1-3 0-2 2 1zM240 125l-1 3-1-2 1-2zM216 97l-1 0-1 0 1-1zM230 49l-1 1-1-1 1-2zM262 120l0 1-1-1 0-1zM252 141l0 2-2-1 1-2zM244 82l-2 2-1-2 2-2zM174 120l-1 1-1-1 1-1zM187 84l0 1-1-1 1-1zM185 38l-1 2-1-1 1-1zM237 96l-2 1 1-2 1-1zM243 115l0 2-1-2 0-1zM159 15l0 1-1-1 1-1zM246 111l-1 1-1-1 1-1zM217 132l0 2-2-1 0-1zM244 89l-2 1 0-1 1-2zM212 34l-1 2-1-2 1-1zM248 101l-1 3-1-3 1-2z"/>
<path fill="#ec2ce2" d="M170 6l0 1-1 0 0-1 0-1 1 0zM160 13l-1 1 0 1-1-2 0-1 1-1 1 1zM218 11l-1 3-1 1 0-2 0-2 1-2zM277 10l0 1-1 3-2-4 0-5 1-2 1 2zM195 22l0 1-1 1-1-1 0-2 0-1 1 0zM192 16l-1 4-1 0-1-3 0-7 2-1 1 1zM262 23l0 1-1 0-1-1 0-1 0-2 1 0zM261 24l0 1-1 0 0-1 1-1zM255 16l-1 2-1-2 0-2 1-1zM215 35l-1 2-1 1 0-2 0-3 1 0zM253 31l0 2-1 1-2 0 0-6 1-2 1 0zM246 33l-1 3 0 3-3-5 0-4 1-2 2 1zM258 34l-1 3-1-1 0-1 0-2 1-1 1 0zM216 40l0 2-1 0-1 0 0-3 1-1 1 1zM206 42l0 2-1-1 0-1 1-1 1 0zM255 46l0 3-1 1-1-2 0-3 1 0 1-1zM256 38l0 2-1 1 0-2 0-1 0-2 1 1zM289 47l-1 3 0-1-1-2 1-2 0-2 1 1zM244 55l0 8-1 0-1-4-1-5 0-1 2 0zM167 63l-1 2 0 2-1-3 0-3 1-1 1-1zM245 68l0 2-1 1 0-2 0-1 0-2 1 1zM264 70l-1 2 0-2 0-1 1-1zM264 71l-1 1-1 1-1-2 1-4 1-1 1 1zM152 79l-1 8-2-4-1-1 0-11 1-4 2 4zM158 85l0 2-1 1-1-2 0-3 1-2 1-1zM172 83l-1 2-1-1 0-2 1-3 1 1zM238 81l0 2-1 0-1-1 0-3 1-2 1 0zM277 80l0 2 0 1-1-1-1-3 0-1 1 0zM172 95l-1 7-2-3-1-2-1-8 1-2 2-1zM168 97l-1 4-1-1-1-1 1-5 0-3 2 1zM171 96l-1 2-1 1-1-2 0-4 1-3 2 3zM182 89l0 7-2-1-1-3-1-5 1-1 1-3zM281 93l0 3-2 1-1-3 0-3 0-3 1 0zM170 107l0 1 0 1-1-1-1-1 1-2zM161 107l-1 3-1 1-1-2 1-2 1-3 0 2zM220 112l0 2-1 1 0-2 0-2 0-1 1 0zM228 110l-1 2-1 1-2-3 1-2 1-1 1 1zM212 127l-1 1-1 1-1-2 0-2 0-1 2 0zM222 131l-1 3-1 1-1-1 0-5 1-1 2 1zM225 122l0 3-1 0 0-2-1-2 1-1 1 1zM228 128l-1 6-1 0-1-4 0-7 2-2 1 2zM262 130l-1 4-1-2 0-2 0-4 2-3 1 2zM212 134l0 5 0 3-2-4-1-4 0-2 1 0zM216 136l0 1-1 0 0-2 0-1 1 1zM220 134l0 4-1 5-1-5-1-7 1-3 1-1zM256 21l0 2-1-2 0-2zM260 65l-1 3-1-1 0-2zM216 25l0 3-2-2 0-3zM207 38l-1 1 0-2 1 0zM155 77l-1 1-1-2 2-1zM148 123l0 2-1-2 1-2zM159 119l-1 1-1-2 1-1zM253 71l-1 0-1 0 1-1zM158 114l-1 3-1-3 2-2zM190 20l-1 0-1-1 1-2zM250 26l-1 2-1-2 1-2zM191 25l-1 1 0-1zM189 33l1 4-3-2 0-3z"/>
<path fill="#dc24e8" d="M167 5l-1 3-1 0 0-1 0-2 1-3 1 0zM167 8l-1 2-1 1 0-2 1-3 1 0 1-1zM185 11l-3 4-2 2 0-5 1-3 3-2 1 1zM192 7l-1 1-1 2-1-2-1-3 1-1 1 0zM245 34l-1 3 0-1 0-1 0-2 0-1 1 0zM261 34l0 6-2 4-1-6 0-6 1-4 2 2zM213 40l-1 3-1 1-1-4 0-2 2-2 1 1zM232 39l0 2-1 0-1-1 1-2 0-2 1 1zM183 52l-1 1-1 1-1-1 1-4 1-2 0 1zM249 50l-1 2 0-1 0-3 1-1 0 1zM244 53l-2 3-2 1 0-4 0-2 2-3 1 2zM260 50l0 4 0 1-1-2-1-3 0-3 1 2zM262 54l0 3-2 0-1-1 1-4 0-3 1 1zM287 59l-2 5-1 0-1-2 1-6 2-4 1 1zM177 79l0 2-1 0 0-2 0-1 1-2zM172 75l0 1-1 1 0-1-1-2 1 0 1 0zM284 85l1 3-2 1-1-3-1-3 1-4 2 2zM282 74l0 1-1 0-1-2 1-1 0 1zM178 93l-1 3-1 1-1-4 1-3 1-3 1 1zM183 96l-1 4-1 2-1-3 0-5 0-4 2-1zM281 87l0 4-1-2-1-4 0-1 1 2zM161 104l0 2-1 1 0-2 0-3 1-1zM272 97l-1 2-1 0 0-2 0-1 0-2 1 1zM221 119l0 1-1 1-1-1 0-1 0-1 1 0zM156 121l-1 2 0-1-1-3 0-1 1 0zM215 120l0 4-1-1-1-1 1-4 1-2 0 2zM212 128l1 4-1 0-1-2-2-4 1-2 1 1zM220 120l0 2-1 0 0-3 1-1zM255 125l0 4-1 5-3-6 0-6 1-6 1 1zM259 121l-1 4-1 1 0-1 0-5 1-2 1 1zM155 144l0 2-1 1-1-2 0-3 0-3 1 0zM225 140l0 3-1 0-1-1 0-2 1-1zM258 77l-1 2-1-2 1-1zM250 127l0 3-2-2 1-3zM245 45l-1 1 0-1zM172 5l-1 2-1-2 1-1zM251 65l0 2-1-1 0-1zM258 123l-1 3-1-2 1-3zM159 139l-1 2-1-2 1-2zM278 10l0 1-2-1 1-2zM259 66l0 2-2-1 1-1zM265 17l-1 1 0-1 1-2zM195 141l-1 2 0-2 1-2zM211 142l0 2-2-1 0-1zM263 62l0 1-1 0-1-3zM233 115l-2 3-1-3 1-2zM278 81l-1 1 0-1 0-1z"/>
<path fill="#dc0e22" d="M180 13l-1 1 0 1-1-2 0-2 2-1 0 1zM179 14l-1 2-1 1 0-3 0-1 0-2 1-1zM193 4l0 6-2 1-1-3-1-6 2-2 1 2zM189 9l0 2-1-1 0-1 0-1zM185 14l-1 1 0 1 0-1 0-2 1-1zM224 13l0 2-1 1 0-2 0-2 1-2 0 1zM154 18l0 2-1 1-1-2 0-2 1-2 1 1zM205 23l-1 3-2 1-1-2 1-3 0-1 2 1zM207 18l0 2-1 2-1-2 0-3 1-2 0 2zM197 17l-1 2-1-1 1-1 0-1zM225 24l1 3-1 0-1 0-3-5 1-1 1 1zM242 14l0 5-1 1-2-5 1-3 0-4 2 2zM154 31l-1 1 0 1-2-1 0-2 0-3 2 1zM185 31l0 1-1 1 0-1 0-2 1 0zM185 37l0 2-1 0-1-2 1-2 1 1zM211 37l-1 2 0 1-1-2-1-3 1-2 1 0zM234 31l-1 6-1 0-1-1 0-4 0-3 1-1zM235 26l0 3-1 1-1-2 0-2 1-2 1 0zM283 30l-1 2-2-1 0-2 1-2 1 0zM157 49l0 1-1 0-1-1 1-2 0-1 1 1zM192 48l-1 3-1 0-2-3 1-2 1-3 1 2zM232 45l0 2-1 0 0-1 0-3 0-1 2 0zM242 40l0 3-1 0 0-1 0-3 0-1 1 0zM269 39l0 2-1-1 0-2 0-2 1 1zM274 37l1 2-1 0-1-1 0-1 0-1 1-1zM149 60l-1 3-2 1 0-3 1-3 1-2 1 1zM173 52l-1 2-1 2-2-4-1-4 2-3 1 0zM218 57l-1 3 0 2-2-2 1-6 0-2 1 1zM223 59l-1 5-2 1-1-2 1-5 1-6 1 2zM258 57l1 4-2 1-2-3 0-3 2-4 1 2zM160 66l-1 2 0-1-1 0 0-2 1-2 0 1zM191 63l0 1-1 0 0-1 1-1zM255 65l1 3-1 0-2 0 0-4 1-3 1 1zM177 80l0 3 0-1-1-1 0-2 0-2 1 1zM174 75l0 2-1 0 0-1 0-1 1-1zM285 84l-2 4-1 1-1-4 1-3 3-2 1 1zM177 88l0 1-1 0 0-1 0-1 1-1zM219 89l0 2-1 2-1-2-1-3 1-2 1 0zM237 88l-2 5-1 0-1-3 1-5 1-4 1 2zM239 93l0 2-2 0-1-2 1-2 0-2 2 0zM242 86l-1 6-1 1-1-2 0-5 1-3 1 0zM249 94l0 1-1 1 0-1 0-2 0-1 1 0zM260 91l0 4-2 3-1-6 0-5 1-2 2 0zM148 98l-1 1 0-1 0-1 0-1 1 0zM193 101l0 2-1-1-1-1 0-1 1 0zM260 97l-1 5-1 0-1-3-1-3 2-3 2 0zM281 104l0 7-2 0-1-5-1-5 0-5 2 3zM149 116l1 3-1 0 0-1-1-2 0-1 1 0zM160 116l-1 0-1 2 0-2 0-2 0-1 1 1zM184 111l0 3-1 0-1-1 0-2 0-2 1 0zM231 110l0 3-1 0-1-1 0-2 1-1zM268 112l0 1-1-1 1-2 1 1zM270 110l0 4-1 3-1-4 0-4 1-2 1 0zM171 130l0 4-1 0-1-2 0-4 1-1zM169 129l-1 5-2 1-1-5 1-3 1-4 1 2zM184 120l-1 3 0 1-2-2 0-3 1-1 1 0zM161 141l0 1-1 0 0-1 1-1zM223 139l0 5-1 1-2-4-2-4 1-4 1 1zM233 132l0 2-1 0 0-2 0-1 1 0zM252 139l-1 3-1 1 0-2 0-3 1-2 1 0zM256 139l0 1 0 2-1-2 0-2 0-2zM274 140l0 2-1 0-1-1 0-2 0-3 1 2zM233 75l-1 0 1-1zM279 141l-1 2-1-2 1-1zM194 135l0 2-2 0 1-2zM195 43l0 2-1-1-1-2zM185 90l-1 1-1-2 1-1zM203 138l0 1-1 0 0-1zM165 51l-1 1-1-2 1-2zM195 9l0 2-1-1 0-3zM199 86l-1 2-1-2 1-2zM284 128l-1 2 0-3 1-1zM177 34l-1 1-1-1 0-1zM178 119l-2 1 0-2 1-1zM218 57l-1 2-1-2 2-1zM248 6l0 2-1-1 1-2zM274 135l-2 1 0-2 2 0zM269 63l-1 3-1-2 1-2zM199 77l0 2-3-1 0-2zM236 72l0 2-1-2 1-1zM275 40l0 3-2-1 0-2zM205 47l0 2-1-2 1-2zM157 33l-1 1 0-1 1-1zM169 31l0 1-1 0 0-1zM235 85l0 2-2-2 1-1zM234 66l0 2-2-2 0-2zM255 134l-2 1 0-3 2-2zM275 51l-1 1 0-1 1-2zM234 99l-2 2-1-2 2-2zM258 38l-1 1-1-1 1-3zM282 23l-1 2-1-1 1-2zM284 62l-1 1-1-2 1-1zM268 132l-1 0-1-1 1-1zM197 46l-1 1 0-2 1-1zM223 36l-1 1 0-1 1-1zM207 127l-1 1-1-2 1-1zM211 24l-1 1-1-2 1-2zM281 140l-1 1 0-2 1 0zM220 66l-1 3-1-3 1-2zM199 35l-2 1 1-2 2-2zM213 109l-1 2-1-1 1-2zM190 71l0 2-1-2 0-3z"/>
<path fill="#1024ee" d="M180 10l-1 3-1 2-1-3 0-3 1-2 1 1zM273 10l-1 2-1 1 0-2 1-1 0-2 0 1zM275 13l0 1-1 0 0-1 0-1 0-1 1 1zM183 22l0 1-1 0 0-1 0-1 0-2 1 1zM177 15l0 2-1 0-1-1 1-1 0-2 1 1zM268 24l-2 5-1 1 0-4 2-5 1-1 1-2zM177 26l0 2 0 1-1-1 0-1 0-2 1 0zM267 31l0 2-1 0 0-1 0-2 1-1zM274 28l-1 2-1 1-2-2 1-3 1-1zM236 39l-1 1-1 0-1-1 1-3 1-1 1 2zM234 38l-1 3-1 1-2-2 1-6 1-3 1 4zM254 46l1 4-1 1-1-1-2-5 1-2 1 1zM242 50l0 6-2 1-1-4 1-6 0-3 2 0zM270 56l-1 4-1 1-2-1 0-7 1-2 2 0zM217 78l1 3-1 1-2-1-1-5 1-1 2 0zM195 86l1 3-1 1-1-3 0-2 0-2 1 0zM225 107l0 5-1 1-1-3 0-6 1-2 1 1zM227 116l-1 3-1-1-1 0 1-5 1-2 0 2zM224 143l0 2-1 0-1-2 1-1 1 0zM261 77l-2 2 0-3 1-2zM242 57l0 2-2-1 0-2zM282 58l-1 2-1-2 2-1zM179 64l-1 2 0-3 2-2zM245 95l-1 2-1-2 1-1zM228 75l0 3-2-2 0-2zM235 51l-1 3-1-3 1-1zM238 50l0 1-1 0 0-2zM272 38l-1 1 0-2 1-1zM159 50l0 2-1-1 0-1zM154 143l-1 0 0-1z"/>
<path fill="#fa36dc" d="M179 9l0 1-1 0 0-2 1 0 0-1zM212 4l0 2 0 2-2-4 0-3 1-2 1 1zM217 9l-2 4-1 4 0-6 1-7 1 0 1 2zM213 7l0 1-1 1 0-2 0-1 0-1 1 0zM261 9l-3 5-3 2 2-5 2-4 3-4-1 4zM262 18l0 4-1 0-1-3-1-2 1-2 1 1zM218 26l-1 4-1 1-1-3 0-3 1-1 1 1zM212 36l-1 7-1 0-1-4 0-6 1-3 1 1zM217 29l0 3-1 0-1-2 1-4 1-1zM257 26l0 2-1 0 0-1-1-2 1-2 1 1zM260 33l-2 2 0-1 0-2 1-1 1 1zM286 32l0 1-1 0 0-1 0-1 0-1 1 0zM161 43l0 4-1 3-2-5-1-6 1-5 2 3zM216 41l0 3-2 0-1-2 1-4 2-4 1 1zM248 39l0 1 0 2-3-2 0-1 0-2 1 0zM245 39l0 2-1 1 0-1 0-3 0-2 1 1zM245 45l-1 2-1 3-2-4 0-2 0-2 2 0zM257 55l-1 4-1 2-1-4 0-6 1-2 1 1zM287 53l-2 3-1 1 0-2 2-5 1-2 1 1zM285 57l0 2-1 1-1-2 0-1 0-2 1 0zM265 71l-2 2 0 1 0-2 0-2 1-1zM154 82l0 2-1 0 0-1 0-2 0-1 1 1zM265 74l0 2-1 1-1-2 0-2 0-3 1 2zM257 73l0 1-1 0 1-3 0 1zM265 76l0 1-1-1 0-1zM276 79l0 1-1 0-1 0 0-3 1-1 0 1zM275 83l-1 4-3 2 0-5 1-5 2-2 1 2zM167 92l0 3-1 1-1-2 0-3 1-3 2 0zM170 86l0 3-1-1 0-1 0-1 0-2 0 1zM174 90l-1 3-1 2-1-2 0-6 0-2 2 1zM180 88l0 4-1 0-2-1 0-3 0-2 2 0zM279 90l-1 3-2 1 0-1 0-5 2-3 1 0zM163 98l0 2-1 0-1-1 1-1 0-1 1 0zM158 108l1 4-1 0-2-2-1-3 1-3 0-2zM156 110l0 1-1-1 0-1 1 0zM217 109l-1 4-2-1-1-2 1-4 1-3 1 3zM226 109l0 2 0 1-1-2-1-1 1 0 1-1zM243 115l0 2-1 0-1-1 0-4 1-1 0 1zM208 126l-1 3-1 1 0-3 1-4 2-3 0 3zM263 131l-1 4-1 2 0-4 0-3 1-2 1-1zM149 142l1 2-1 1-1-2 0-2 0-1 1 0zM149 135l0 3-1 0-1-2 0-1 0-3 1 1zM158 131l-1 5-1-1 0-3 0-3 1-2 1 2zM215 137l0 1-1 1 0-1 0-2 0-2 1 0zM213 137l-1 7-2-1-1-3 1-6 2-1 2 1zM218 136l-1 1 0-2zM212 3l-1 1-1-2 2-2zM281 92l-1 0 0-1 1-1zM206 9l-1 2-1-2 1-2zM222 115l0 2-1-2 1-2zM260 15l-2 1 0-1 1-1zM280 44l-1 1-1-1 1-1zM152 140l-2 2 1-3 1-2zM214 142l0 3-2-2 0-3zM262 7l-1 3-1-2-1-3zM202 86l-1 1 0-2 1-1zM277 120l-1 1-1-2 1-1z"/>
<path fill="#202ce8" d="M182 11l-1 2-1 1-2-1 0-3 0-3 3 0zM178 12l0 2-1 1-1-1 0-3 1-2 1 0zM274 25l-2 5-2 1-1-3 2-6 2-4 1 4zM175 30l0 1 0 1-1-1 0-1 1-1zM242 48l-1 2-1 0-1-1 0-2 1-4 1 2zM258 47l0 2-1 1-2-2-1-4 1-1 1-1zM257 39l-1 4-1 2-1-4 0-7 1-2 2 1zM258 45l-1 2 0-1-1 0 0-2 1-2 1 1zM157 59l0 3 0 1-1-2-1-3 1-1 0-1zM233 52l-1 3 0 1-1-2-1-6 0-2 2 2zM275 54l0 3-2 1-1-2 0-4 1-1 1 1zM210 79l0 2-1 1 0-3 0-2 1-1zM170 87l0 2-1 1 0-2 0-2 1 0zM205 91l0 3-2 1 0-4 0-7 1 1 1 0zM158 106l0 2 0 1-1-1-1-2 1 0 0-1zM226 108l0 2-1 0 0-2 0-2 0-1 1 1zM223 99l0 4-2 2 0-4 0-5 1-3 1 1zM230 115l1 6-2 0-1-3-1-5 0-2 2 1zM225 136l0 1 0 1-1-1 0-3 1 0zM224 134l-2 3-1 1-1-2 2-5 1-1 1 1zM189 25l-1 1-1-1 0-1zM267 38l0 3-1-2 0-2zM162 82l-1 2 0-2 0-1zM164 86l-2 2 0-3 1-2zM239 59l1 2-2 0 0-2zM275 102l-1 1 0-1 0-1z"/>
<path fill="#4aa0ef" d="M177 3l0 2-1 0 0-1 0-1 0-2 0 1zM247 50l0 1-1 2-2-3 0-1 1-2 1 0zM267 54l0 3-1 1-1-2 0-2 1-3 1 1zM219 82l0 1-1 0 0-1 0-1 0-1 0 1zM165 117l-2 5-1-1-2-3 1-3 2-4 1 3zM180 50l-1 2-1-2 1-1zM285 143l-1 1-1-1 1-2zM213 141l-1 1-1-1 0-2zM174 37l-2 1 1-2 1-1z"/>
<path fill="#e6369c" d="M193 13l-1 4-2 2-1-6 0-3 2-6 1 2zM259 7l0 3-1-1-1-1 0-2 1-2 1 0zM219 34l-1 2-1 1-1-4 1-2 1-1zM219 37l0 4-1 3-1-4-2-5 1-5 2 2zM239 36l1 1-1 1 0-1-1-2 1 0 0-1zM250 31l0 1-1-2 1 0zM244 45l-2 4-1 1-2-2 0-3 2-3 2 1zM183 51l0 3-1 0 0-2 0-3 0-2 1 2zM218 60l-1 1 0 1 0-1-1-2 1-2 1 1zM214 52l-1 2 0-1 0-2 1-1 0 1zM245 71l0 2-2 3 0-3-1-2 1-3 2 1zM239 81l0 4-1-1-1-1 0-3 0-2 1 1zM233 78l0 3-1 1-1-3 0-3 1-3 1 2zM290 114l0 2-2 1-1-2-1-3 1-2 2 2zM220 134l-1 1 0-1 2-1zM202 20l0 2-1-1 0-3zM237 31l-1 1-1-1 1-1zM248 5l-1 1 0-1 1-1z"/>
<path fill="#f63e96" d="M191 10l0 3-1 1-1-2 0-2 1-2 1 1zM255 12l-1 1 0-1 0-1 0-1 0 1zM187 23l-1 3-1 0-1-2 1-2 1-4 1 0zM207 23l0 3-1 1-1-2 0-2 1-1 1 0zM246 19l0 3-1 0 0-1-1-3 0-1 1 0zM239 30l-1 2-1 1-1-2 0-2 1-4 1 2zM247 36l0 1-1 1 0-1-1-2 1-1zM187 56l-1 3-2 1 1-2 0-4 1-3 1 2zM193 50l0 1-1 1 0-1 0-2 1-1 1 1zM217 55l0 3-1 0-1-1 1-5 0-1 1 1zM241 83l-1 1-1-1 0-1 1 0 0-1zM269 119l-1 2-1 3-1-2-1-5 2-2 1-1zM288 110l-1 10-1-1-1-4-1-5 2-4 1-1zM289 130l0 3-1 1 0-3-1-2 1-2 1 0zM242 137l0 2-2 3-1-4 1-3 1-2 1 2zM178 66l-1 1 0-1 0-1zM214 34l0 1-2-1 1-2zM181 62l0 1-2-1 2-1zM206 29l-1 1 0-2 1-1zM261 130l0 2-1-2 0-1zM245 42l-1 2-1-2 1-1zM249 11l1 1-2 0-1-2zM189 48l-1 1-1-2 1-1zM203 23l-1 1 0-2zM229 90l-2 2 0-3 1-2zM251 21l-1 3-1-3 1-2zM251 41l0 1-1-1 1-1z"/>
<path fill="#fa2016" d="M197 4l-1 1-1 2 0-2 1-4 1-3 1 2zM217 6l0 3-1 0 0-1 0-3 1 0zM228 7l-2 4-1-1 0-1 0-6 1-1 1 1zM263 8l-1 2-2 3-1-5 1-3 1-4 1 2zM259 11l0 2-1 1-1-2 0-2 1-3 0 1zM259 12l0 2-1 0 0-3 0-2 1 1zM274 4l0 2-1 2-1-3 0-2 0-3 1 0zM171 25l-2 5-2-1-1-3 0-3 2-4 2 0zM198 23l-1 3-2-1 0-3 1-2 2 1zM217 23l0 2-1 1 0-3 0-2 1-2 0 1zM211 21l0 4-1 1-2-1 1-5 1-4 1 3zM235 23l0 3-1 2 0-3 0-3 1-1zM243 24l0 4-2 2-1-3 0-3 1-4 1 1zM245 24l0 2 0 1-1-1 0-2 0-2 1 1zM267 26l-1 6-1 1-1-3 0-9 2-5 1 4zM174 33l1 2-1 4-2-5-1-3 0-4 2 1zM182 32l1 2-2 2-1-2-1-5 1-3 1 2zM187 32l0 3-1 0 0-1 0-2 0-1 1 0zM196 29l-1 3-2 1-1-3 1-2 1-2 2 0zM194 36l-1 2 0-2 0-1 1-1zM224 28l0 2-1 0-1-2 1-2zM174 41l0 1 0 1-1-1 0-2 1-1zM192 40l-1 3-1 0-1-2 0-3 1-2 1 0zM207 41l0 2-1 0 0-1 0-1 0-1 1 0zM208 46l-1 4-1-1 0-2 0-2 1-2 1 1zM219 49l-1 3-2 3 0-4 1-5 1-3 2-1zM219 46l0 2-1 0-1-3 0-1 1-1zM288 48l-1 4-2 2-1-3 1-6 1-2 1-1zM214 62l-1 4-1 1-1-2 0-4 1-2 2 1zM281 69l0 2-1 1 0-2 0-1 1-1zM155 78l0 2-1-2 0-2 0-1 1-1zM164 78l0 2-1 0 0-1 1-2 0-2 1 1zM201 75l0 1-1 2-1-3 0-2 1-3 0 1zM279 80l-1 2-1 1-1-1 1-6 1-2 1 1zM154 88l0 2-1 0 0-1 0-2 0-1 1-1zM152 95l-2 5-1 0-1-3 0-6 2-1 1 1zM154 96l0 2-1 0-1-1-1-3 1-1 1 0zM213 95l0 3-2 2 1-3-1-3 1-2 1 1zM232 95l0 5-3 0 0-2 0-5 3-4 1 1zM163 105l0 2-1 1-1-2 0-1 0-2 1 0zM215 98l-1 2-1 0-2-1 0-4 1-1 2-1zM222 107l0 2-1 0-1-2 0-2 1-3 1 0zM234 105l-1 6-2-2-1-1 1-5 3-6 1 1zM238 103l0 3-1 1-2-2 0-3 1-2 1 1zM239 106l0 2 0 1-2-2-1-1 1-1zM267 102l0 3-1 0-1-2 0-3 1-1 0-1zM191 112l0 2-1 1-1-3 0-3 1 0 0 1zM185 111l-1 3-1 2-1-3 0-2 1-5 1 2zM198 114l0 2-1 2-3-3 0-3 1-2 1 0zM201 120l0 3-2 2-1-3 0-5 2-1 1 1zM199 110l0 1-1 0 0-2 1-1zM278 117l-1 2-1 1-1 0 0-5 1 0 1-1zM266 118l-1 2-1 1 0-1 1-4 1-1 1 0zM179 127l0 4-2 1 0-2 0-4 0-1 1 0zM174 121l-1 2-1 0-1-2 1-2 1-2 1 1zM193 122l0 1 0 1-1-1 0-1 0-1zM259 132l0 1-1-1 0-1 0-1 1 1zM262 122l0 4-1 0-1-3-1-4 0-2 1 1zM285 121l-1 2-1 0 0-1 0-2 1-1 1 0zM278 130l0 3-1 1-1-2-1-2 1-1 2-1zM166 134l0 3-1 0-1-1 0-5 1-1 1 0zM213 141l1 2-1 0 0-1-1-1 0-1 1 0zM265 140l0 4-1 0-1-2-1-4 0-2 3 2zM288 142l0 1-1 0 0-1 1-2 0 1zM204 124l-2 2 1-3 2-1zM212 68l0 2-1-2 1-1zM287 9l1 2-3-1-1-3zM183 56l-1 1 0-1 1-1zM193 58l0 1-1-1 0-2zM189 82l-1 2 0-2 0-2zM174 2l-1 2-1-2 1-1zM219 29l-1 0-1-1 2-1zM281 69l-2 1 0-2 2-2zM193 132l-1 2-1-1 0-3zM186 50l-1 2-2-1 1-2zM247 137l0 1-2-2 1-1zM210 61l0 2-1-1 0-2zM271 98l0 2-2-1 1-2zM257 122l1 2-2-1 0-2zM253 16l-1 1-1-2 2-3zM177 143l-1 1-1-1 1-2zM163 113l0 1-1-2 1-1zM206 18l-1 1-1-1 1-2zM151 31l0 2-2-2 1-1zM282 140l-1 1-1-2 1-1zM150 61l0 2-2-2 1-1zM280 116l-1 1-1-1 1-2zM196 53l-1 1-1-1 1-1zM284 6l0 2-2-2 1-2zM201 59l0 2-2-2 0-3zM287 103l0 1-1-1 0-1zM156 120l0 2-1-2 1-1zM275 59l-2 2 0-3 1-2zM244 74l0 2-1-2 0-1zM250 100l-1 2-2-2 1-2zM207 141l0 1-1-1 0-1zM251 6l-1 2-1-1 2-2zM169 24l-1 2-1-2 1-2zM245 81l-1 1 0-2 1-1zM183 46l-1 1-1-1 1-1zM214 111l0 1-1-1 0-1zM216 79l-1 2-1-2 2-2zM191 47l-1 1 0-1 0-1zM225 25l-2 2 0-2 2-1zM189 74l0 1-2-1 0-2zM199 46l-1 3-1-2 0-3zM230 44l-1 2 0-2 0-2zM205 124l-1 1-1-1 1-1zM244 51l-1 1-1-1 1-3zM283 142l-1 2-1-2 1-2zM151 97l-1 2-1-3 0-1z"/>
<path fill="#30f026" d="M200 6l0 1-1-1 0-1 1 0zM204 4l-1 3-1 1 0-2 0-4 2-3 1 1zM232 3l-1 2 0 1-1-2 1-3 0-1 1-1zM233 11l-1 4-1 0-1-2 1-5 1-2 1 2zM240 9l0 2-1-1 0-3 1 0zM149 26l0 4-2 0-1-3 0-6 1-2 1-1zM196 21l0 5-2 0-1-3 0-1 1-4 1 2zM276 16l0 3-1 2-2-3 0-3 1-2 1 1zM270 24l0 2-1-1 0-1 1-1zM288 20l-1 1 0 1 0-1 0-1 0-1 1 0zM286 17l0 2-1 1 0-2-1-1 1-2 1 1zM156 33l-1 3-2 1-1-4 1-5 3-1 0 1zM206 26l1 6 0 4-4-7-1-3 0-4 2-1zM200 36l0 2-1 1-1-2 0-3 0-2 1 1zM272 31l0 1-1 0 0-1 0-1 0-1 1 0zM267 36l-1 3-2 2 0-3 1-6 1-4 1 3zM159 42l0 2-1 1 0-1 0-3 1 0zM195 43l0 4 0 1-1-3 0-3 0-1 1 0zM199 48l0 1-1 0 0-3 1 0zM272 42l2 5-2-1-1-1-1-4 0-2 1 1zM274 47l0 2-2 2-1-3 0-2 0-1 2 0zM272 38l0 5-1-1-1-1-1-5 1-2 1 0zM169 53l0 4-1 0-1-2 0-4 0-3 1 1zM201 53l0 1-1 0 0-2 0-1 1 0zM261 50l0 1-1 1 0-2 1-2 0-1 1 1zM162 64l1 5-2 2-1-3 0-5 1-4 1 1zM232 67l-2 5-1 1 0-3 1-4 1-2 1 1zM238 73l0 4-1-1-1-1 1-4 1-3 1 1zM213 82l-1 3-1 0 0-1 1-3 0-1 1 1zM194 90l-1 1-1 0-1-1 0-2 1-2 1 0zM218 86l0 1-1-1 0-1 1-1zM215 96l-1 2-1 1 1-2 0-2 1-2zM224 87l-1 7-2 2 0-6 1-6 2-5 0 4zM255 97l-1 2-1-1 0-2 1-1 1 0zM181 113l0 8-2-1-1-4 0-6 1-2 1-1zM259 115l0 1-1 0 0-2 1-1zM257 117l0 4 0 4-2-3 0-6 0-2 1-1zM263 113l-1 2-1-1 0-2 1-1 1 0zM163 128l0 2-2 3-1-5-1-3 1-2 1-2zM251 130l0 2-1 1 0-2 0-2 0-1 1-1zM276 122l-1 3-1 0 0-2 0-2 0-2 1 1zM153 93l0 2-2-2 1-2zM229 3l0 1-1-1-1-1zM272 131l-2 2 0-3 2-2zM208 64l-1 1-1-2 1 0zM278 47l-1 1 0-1 1-1zM162 62l-1 1-1-1 1-1zM160 53l0 2-1-1 0-2zM235 5l0 2-1-2 0-2zM233 62l-1 1 0-1 2-1zM206 65l-2 3 0-3 2-2zM268 60l0 1-1 0 0-2zM281 137l-1 1-1-1 0-2z"/>
<path fill="#22e62c" d="M206 6l0 3-2 0-1-1 1-6 1-1 1 1zM215 4l-2 5-1 0 0-2 1-7 1-1 0 2zM222 3l0 2-1 0-1-1 0-2 0-2 1 0zM159 22l0 2-1 0 0-2 0-1 1-3 0 1zM235 14l0 3 0 1-1-1-1-2 1-2 0 1zM284 14l0 6-2-1-1-3 1-3 0-4 1 3zM285 18l0 1-1 1 0-2 0-1 1-3 1 2zM158 36l-1 1-1 0 0-1-1-1 1-1 1 0zM153 36l0 4 0 1-2-2 0-5 2-1zM159 44l1 2-2 0-1 0-1-5 1-2 2 2zM168 46l-1 2 0-1 0-2 0-2 1 1zM171 40l0 1-1 1-1-1 0-2 1-1 1 1zM163 49l0 2-1 2 0-2 0-4 0-1 1 0zM275 38l0 3-1 0-2-1 1-3 0-2 1 0zM272 42l0 2-1 0-1-1 0-2 2-2 0 1zM156 55l0 4-1 0-1 0 0-5 0-2 1 1zM169 55l-1 2-1 1-2-2 1-2 1-2 2 1zM217 57l0 1-1 1-1-2 0-1 0-1 1-1zM256 60l0 4-2 0 0-3 0-4 1-1 1 2zM275 60l0 2-1-1 0-2 1-1zM270 58l1 3 0 1-2-1-1-2 0-2 1 1zM276 50l0 2-1-1 0-1 0-1 1 0zM171 66l0 2-1 1 0-2-1-2 0-2 1 1zM165 72l0 2-2 1-1-3 1-3 0-2 2 1zM166 61l-1 1 0 1 0-2-1 0 1-1zM199 65l0 3-1 1-1-3-1-4 1-2 1 2zM201 68l-2 3-2 2 1-5 0-5 2 0 2 1zM200 67l-2 4-1 0 0-3 0-5 3-7 1 5zM207 67l0 1-1 1 0-1 0-2 1 0zM233 64l0 1 0 1-1-1 1-1 0-1zM237 64l-1 2-2 2 0-3 0-2 1-2 1 0zM266 70l0 2-1 1 0-2-1-3 1-1 0 1zM162 76l0 2-1 0-1-1 0-2 1-1 1 1zM161 80l0 1-1 0 0-3 1-1zM180 73l-1 4-1 0-1-1 0-6 1-3 1 3zM196 74l0 2-1 1 0-2 0-2 0-3 1 2zM216 83l-2 6-2 1 0-6 1-3 2-6 1 4zM166 92l0 3-2 1-1-2 0-2 1-4 1 2zM171 94l1 1-1 1 0-1-1-2 0-1 1 0zM259 96l-1 1 0 1 0-1 0-1 0-2 1 1zM256 88l0 2 0 1-1-1 0-4 1 0zM152 97l0 1-1 1 0-1 0-2 0-1 1 1zM219 101l-1 2 0-1 0-2 1-1 0 1zM221 108l0 3-1 0-1-2-1-3 1-2 1 2zM257 108l-1 3-1 1-1-2 1-4 1-2 1 0zM272 104l-1 2-1 0 0-1 1-4 1-1 1 0zM273 96l-1 3-2 0 0-1 1-4 0-2 1 2zM162 109l-1 5-2 2-1-3 2-9 1-1 1 1zM172 110l0 2-1 0 0-1 0-1 0-2 1 1zM186 114l0 2-1-1 0-2 1 0zM165 122l-2 4 0-1-1-2 1-2 1-2 1 1zM170 124l0 2-1 1 0-2 0-2 1-1 0 1zM227 127l-1 2-1 0 0-2 0-2 1-1 1 1zM240 139l-1 3-1 0-2-2 0-3 2-2 1 1zM154 31l-1 2-1-2 0-2zM279 25l0 1-1-2 1 0zM224 118l-1 2 0-2 1-1zM262 59l0 2-1-1 0-1zM202 29l0 3-1-3 0-2zM263 96l-1 2-1-2 2-2zM155 105l-1 1-1-1 1-2zM207 72l-1 2-1-2 1-1zM195 84l-1 1 0-1zM173 76l0 1-1-1 0-1zM166 137l-2 2 0-2 1-2zM284 18l-1 2-2-2 1-2zM157 16l-1 1 0-1 1-2zM160 40l-2 2-1-1 2-2zM265 105l-1 2 0-2 0-1z"/>
<path fill="#12de32" d="M213 4l-1 2-1 1-1-2 0-3 0-4 2 2zM154 19l0 2-1 1 0-2-1-2 1-1 0 1zM236 15l-1 5-2 3-1-6 0-6 1-2 2-1zM266 23l0 3-2 2 0-2 0-5 1-4 1 2zM277 16l0 1-1 1 0-2 0-2 1-2 1 1zM205 36l-1 2-1-1 0-1 1-2 1 1zM276 33l0 1 0 1-1-1 0-2 0-1 1 1zM152 41l0 3-1 0-1-2 1-2 0-2 1 1zM171 43l0 4-1 0-1-3 0-3 0-4 1 2zM200 46l0 2-1 1-1-2 0-2 0-2 1 0zM154 59l-1 5-1 0-1-2 0-5 1-1 2 2zM167 61l0 4-1 2-1-5-1-6 1-2 1 2zM205 59l0 1-1 0-1-2 1 0 0-1zM204 56l0 2-1 0 0-1 0-3 1-1 1 1zM196 60l0 2-1 0 0-1-1-3 0-3 1 2zM214 69l-1 3-1 1-1-2 0-2 1-1 1-1zM273 72l0 3-2 1-1-2 0-5 1-2 2 2zM276 67l-1 2-1-1 0-1 1-1 0-1zM165 80l-1 1-1 1-1-2 1-3 0-2 1 1zM217 80l-1 1 0 2-2-3 0-4 0-2 1 1zM220 92l-1 4-1-1-1-1 1-3 0-2 1 1zM226 86l0 2-1 1-1-1 0-1 0-1 1-1zM257 88l-1 2 0 2-1-2-1-5 0-1 1 1zM165 103l0 4-2-1-1-1-1-5 0-4 2 2zM171 107l0 1-1 1 0-1 0-2zM260 108l0 1-1 0 0-1 0-1 1 0zM274 96l-1 4-1-1-1-2 0-1 2-3 1 2zM267 108l0 3-2 1-1-2 0-4 1-2 1 0zM171 115l0 3-1 0-1-1 0-2 0-2 1 1zM166 116l-1 1 0 1-1-1 0-2 1-1 1 1zM174 113l0 1-1 2 0-2 0-1 0-2 1 1zM185 108l-1 3-1-1 0-3 1-1 1 1zM193 119l0 3 0-1-1-1 0-2 0-2 1 1zM170 122l0 1-1 0 0-1 0-2-1-1 1 1zM166 124l-1 2-2 1 0-1 0-3 1-3 1 1zM230 123l0 3-1 0-2-1-1-4 1-3 2 1zM246 127l0 1-1-1 0-1 1 0zM164 134l0 2-1 0 0-1-1-2 1-2zM243 139l1 5-2 2-1-5-1-6 1-1 2 0zM220 106l0 1-1-1 0-2zM166 65l-1 1-1-2 1-1zM197 26l-1 1 0-1 1-1zM242 6l-2 2 0-2 1-1zM232 8l-2 1 0-2 2-1zM226 46l-3 2 1-3 2-1zM201 112l-1 2-1-1 1-1zM162 57l-1 1-1-1 1-2zM152 133l-1 0-1-1 1-1zM248 112l0 1-1-1 1-1zM182 100l1 1-2-1 0-1zM206 26l0 2-1-2 0-1zM222 2l-1 2-1-2 2-1zM151 21l-1 1-1-1 1-1zM177 84l0 1-1-1 0-1zM194 85l-1 1-1-1 1-2zM222 126l0 2-1-1 0-1zM231 28l-1 1-1-2 1-1zM161 95l-1 2-1-2 1-2zM198 40l0 3-2-2 1-2z"/>
<path fill="#faec1e" d="M228 8l-1 2-1 0-1-1 0-2 1-2 1 0zM223 11l-1 2-1 1-1-1 0-5 1-2 2 1zM174 19l0 1-1 0-1-1 0-2 1 0 0-1zM232 94l-1 1-1 1 0-2 1-1 0-1 1 0zM274 89l-1 2-1 0 0-1 0-2 1-1 0 1zM285 84l-1 3-1 1-1-2 0-2 1-3 1 1zM217 98l0 1-1 2-1-2 0-3 1-1zM218 104l0 3-1 0 0-2-1-2 1-1 1 0zM217 102l-1 2-1-2 1-1 1-2 0 1zM233 115l-1 2-1 0-1-2 1-2 2 1zM232 114l0 5-1 0-1-3 0-4 1-3zM175 130l0 1-1 0-1-2 2-1zM185 128l0 2-1 0-1 0 0-2 0-2 1 0zM235 129l-1 1-1 0 0-1 0-2 2-1 0 1zM239 127l0 4-1 2-1-3-2-7 1-3 2-1zM169 143l-1 2-1 0 0-1 0-2 1 0zM172 133l0 1-1 1-1-1 1-2 0-3 1 2zM213 102l-1 2-1-2 1-2zM181 135l-1 2-1-2 0-1zM219 141l-1-1 1 0zM254 21l0 1-2-1 1-1zM219 6l-1 1-1-1 1-2zM220 8l-1 2 0-2 0-1zM269 50l-2 3 0-3 1-2z"/>
<path fill="#dcda2a" d="M229 8l0 1-1 1 0-2 0-1 0-1 1 1zM178 21l1 3-1 0-1-1 0-3 1-1zM174 22l0 1-1 1 0-1-1-2 0-2 1 1zM278 69l-1 1 0 1-1-2 0-1 1-1 1 0zM272 76l-1 4-1 2-1-4 0-6 1-4 2 2zM200 95l-1 3-1 0-2-1 1-2 2-1 0-1zM287 91l0 2-2 0-1-2 1-2 2-1zM230 98l0 3-1-1 0-1 0-2 1 0zM263 114l0 1-1 2-1-2 0-2 0-2 2 1zM259 112l0 1-1 0 0-1 0-2 1-1 1 1zM190 129l-1 1 0-1 0-1 1-1 0 1zM238 120l-1 4-1 0 0-2 1-3 1-2 1 1zM236 123l0 1-1 1 0-2 0-1 0-1 1 0zM167 140l0 3-1 2-1-2 0-4 1-2 0 1zM261 85l-1 1-1-1 1-2zM252 71l0 2-1-1 0-2zM289 121l-1 2-1-2 1-2zM180 102l-1 1 0-1 1-1zM273 83l-1 2 0-2 1-1zM258 76l-1 1-1-2 2-1zM274 118l-1 1 0-2 1-1zM195 127l-2 1 0-2 1-2zM210 97l0 3-2-1 0-3z"/>
<path fill="#ece224" d="M222 10l0 2-2 1 0-1-1-4 1-1 1 1zM287 13l-1 3-1 3-2-5 0-5 2-4 1 1zM286 5l-1 4 0 2-1-4-1-3 1-2 1 1zM279 13l0 2-1 1 0-1-1-3 1-3 1 1zM174 16l-1 3-2 1-1-1 1-5 2-3 1 1zM224 18l0 1-1 1-1-1 1-2 0-3 1 1zM269 77l-1 2 0-1 0-1 0-1 1 0zM271 78l0 1-1-1 0-1-1-1 1 0zM272 94l0 1-1 2-1-3 0-2 0-1 1 0zM288 95l0 1-1 0 0-1 1-2 0 1zM231 100l1 2-1 1-1-2-1-2 1-1 1 0zM233 115l-1 2-2 2-2-3 1-2 0-3 2 1zM235 112l0 2-1 1 0-2 0-1 0-3 0 1zM271 118l-1 1 0 1 0-2 0-1 0-1 1 0zM175 126l0 4-2 3-1-4 1-5 0-2 2 1zM182 129l0 3-1 0-2 0 0-6 1-1 1 0zM187 130l-1 1-1 1 0-1 0-3 1 0zM237 131l0 4-2 1 0-3 0-4 1-1 1-1zM233 131l0 4-1 2-3-5 0-6 1-2 2-1zM182 140l0 4-2 0-1-3 0-3 0-3 1 1zM172 132l0 4-1 0-1-2 0-2 1-3 1 1zM226 11l-1 1 0-2 1-1zM238 130l0 2-2-2 0-1zM239 65l-1 2-1-2 2-1zM283 55l-1 2-1-1 1-3zM180 26l-1 1 0-2 1-2zM245 7l-1 2-1-1 1-2zM177 18l-2 2 0-2 1-1zM264 116l-1 2 0-1 1-2zM220 25l-1 1-1-1 1-1z"/>
<path fill="#3aece6" d="M235 12l0 2 0-1-1 0 0-1 1-1zM236 5l-1 3-2 1 0-3 1-3 1-1 1 0zM280 10l0 3 0 1-1-2 0-4 1 0 0 1zM279 7l0 2-2 0-1-1 0-3 1-1 1-1zM289 4l-1 3-1-2 0-3 1-1 1 0zM207 18l0 3-1 0-1-1 0-3 0-3 2 0zM219 20l0 5-2-1-1-2 0-6 1-3 2 1zM225 18l0 1-1 1 0-1 0-3 0-1 1 1zM171 36l-1 3-1-1 0-2 1-2 0 1zM164 30l0 1-1 0 0-1-1-1 1-1 1 1zM178 32l0 1 0 1-1-1 0-2 0-2 1 1zM200 37l0 1-1 0 0-2 0-1 1 0zM287 32l-1 2-2 1-1-1 1-4 1-2 1 2zM278 34l1 5-1 2-2-4-1-3 0-4 2 0zM239 38l0 2-1 0 0-3 0-1 1 0zM283 43l0 1-1 0-1-2 1-2 1 0zM288 39l-1 2 0 2-1-2 0-3 1-2 0 1zM280 45l0 2-1 0 0-1 0-2 0-2 1 0zM290 47l0 2-2 0-1-2 0-2 0-1 2 1zM167 50l-1 1-1 1 0-1 0-2 1-1zM177 54l-1 1-1-1 1-2 1 0zM177 53l-1 3-1 1-1-2 0-3 1-2 1 0zM172 61l-1 1 0 1-1-2 0-2 1-1 0 2zM181 61l0 1-1 1 0-1 0-2 1-1zM175 58l-1 1 0-1-1-1 1-2 1 1zM249 73l-1 2 0-1-1-1 0-2 1-1zM261 79l0 4-1 1-1-2-2-4 0-3 1 1zM150 87l-1 3-1 0-1-2 0-1 1-2 1-1zM154 86l1 4-1 1-1-2-1-3 0-2 1 1zM229 89l-1 4 0 1-1-3 1-2 0-1zM222 94l0 1-1 0 0-1 0-1 1 0zM255 87l-1 3-2 1 0-2 1-5 1-1 1 0zM257 131l-2 4-1 2-1-5 0-4 2-2 1 0zM235 137l-1 1 0 1-1-2 0-1 1-2zM174 39l-2 1-1-1 2-1zM244 111l-1 1-1-1 1-1zM258 100l0 3-2-2 1-2zM238 6l-1 2-1-2 1-2zM235 40l0 2-1-1 0-2zM217 6l-1 1 0-2 1-1z"/>
<path fill="#1cdaf2" d="M232 11l-1 2 0 2-1-2 0-3 1-2 1 1zM155 18l0 2-1 0-1-1 0-3 0-2 1 1zM220 26l-1 2 0-1-1-1-1-2 1-2 1 1zM158 27l-1 3-1 1-1-2 0-3 2-3 1 0zM168 31l-1 4-1 1-1-3 1-4 1-1 1 0zM201 30l-1 2 0 1-1-1 0-4 1-2 1 3zM278 37l-1 3-1 1-1-2 1-6 1-1 1 1zM166 47l0 2-1 2-2-3 0-3 0-1 2 0zM173 38l-1 2-1 0 0-1 0-2 1-1 1 0zM170 51l-2 3-1 0-1-2 1-4 1-2 2 1zM167 50l0 2-1 0-1-3 0-2 0 1zM258 73l-1 1 0-1 0-1 1-1 0 1zM283 84l0 2-1 2-1-3 0-4 1-3 1 2zM221 94l-1 3-1 0-1-2 0-3 0-2 1 1zM264 96l0 5-1 0-2-3 1-5 0-2 2 1zM263 92l0 1-1 1 0-2 0-2 0-1 1 0zM261 98l0 1-1 1-1-2 0-2 1 0 1-1zM154 115l0 1-1 0 0-1 0-2 1-2 0 2zM148 110l-1 1 0 1-1-1 0-2 1-1 1 1zM157 127l-1 1 0-1 0-2 0-1 1 1zM237 133l0 2-1-1 0-1 1-1zM168 50l0 2-1-1 0-2zM233 52l-2 0 0-1 2-1zM258 104l0 2-1-1 0-2zM263 62l-1 1-1-2 1-2zM271 90l-1 1 0-1 0-1zM280 67l0 1-1-1 0-1zM241 25l0 2-1-1 0-2zM179 23l-1 2-1-1 0-2zM256 83l-1 1-1-1 1-2zM229 14l-2 2 0-2 2-2zM282 34l0 1-1-1 0-1zM224 92l-1 2-1-1 0-2zM168 80l0 2-1 0 0-2z"/>
<path fill="#a43ee6" d="M233 11l-1 3-1 1 0-2 1-4 1-2 1 2zM182 137l0 3-2-3 1-2zM235 127l-1 0-1-1 1-1zM210 139l0 2-2-2 1-1zM190 16l-1 1-1-2 1-1zM233 11l-1 2-1-2 1-2z"/>
<path fill="#ff4890" d="M262 7l-1 5-1 2 0-4-1-3 2-4 1 0zM194 22l0 6-1 2-1-4-1-4 1-3 1 0zM192 15l0 3-1 1-1-3 0-2 0-2 1 1zM187 15l0 3-1 0-1-1 0-5 0-1 2 2zM196 26l-1 3-1 0-2-2 0-3 2-2 2 1zM247 16l1 3-1 0-1 0-1-3 1-2 1 1zM159 28l0 2-1 0-1-1-1-2 2-3 1 1zM250 32l-1 3-1 2-1-2-1-6 1-3 2 1zM247 48l0 2-1-1 0-2 1-1 0 1zM187 51l0 1-1 1 0-2 0-1 0-1 1 1zM210 52l1 2-1 2-1-2 0-3 0-3 0 2zM189 62l0 1-1 1 0-2 0-1 0-1 1 0zM236 81l-2 7-2 0-1-3 2-6 2-5 1 5zM264 101l0 2-1-1 0-1 0-1 1 0zM282 118l0 3-1 4-2-5 0-4 0-4 2 0zM282 108l0 2 0 1-1-1-1-2 1-2zM284 124l0 1-1 0-1-1 1-3 1-2 1 0zM178 33l-1 1 0-1 1-1zM191 67l0 2-1-2 0-2zM272 33l-1 1 0-1 1-2zM286 129l-1 2-1-1 0-2zM187 17l-2 2 0-3 1-1zM194 7l-1 1-1-1 1-1zM190 38l-1 2-1-2 0-2zM248 43l-2 2-1-3 2-2zM287 120l-1 2-1-2 1-2zM234 84l0 2-1-1 0-2z"/>
<path fill="#2e36e2" d="M274 4l0 3-2 2 0-3 0-5 2-2 1 1zM271 14l-1 2-1 2 0-3 0-2 1-3 1 1zM266 36l0 1 0 1-1-1 0-2 1 0zM276 30l-1 4-2 4-1-5 1-9 1-3 2 2zM231 48l-1 1-1 0 0-1 0-1 1-1 0 1zM256 44l-1 3-1-2 0-1 1-2zM160 52l-2 10-1 0-2-3 1-8 2-8 1 2zM151 59l0 3-2 0-1-2 1-4 1 0 1 0zM152 49l0 2-1 0-1-1 0-2 1-1 1 0zM267 61l0 2-1 0 0-2 0-1 0-2 1 1zM158 70l1 3-1 0-1-2 0-2 0-1 1 1zM152 64l0 1-1 0 0-2 0-1 1 0zM153 62l0 1 0 1-1-1 0-1 1-2 0 1zM155 66l0 2-1 1 0-1 0-3 0-1 1 1zM224 73l-2 6-1 1-1-3 1-5 2-5 1 1zM206 87l-2 6-1-2-2-2 1-4 2-2 1 2zM226 99l0 2-1 1 0-2 0-3 1-1 0 1zM259 100l0 2-1 0 0-2 0-1 1-2 0 1zM222 110l0 3-1 1 0-1-1-3 1-1zM230 133l-1 3-1 0 0-2 0-3 0-2 2 0zM231 97l0 2-2-2 0-3zM260 49l-1 1-1-2 1-2zM268 2l0 2-1-2 0-1zM280 83l-1 1-1-2 1-1zM160 139l-1 0-1-1 1-1zM227 142l-1 2 0-1 0-2zM152 107l-1 1-1-2 1-1zM259 41l-1 2-2-2 1-3zM197 119l-1 1-1-2 1-1zM177 27l-1 1-1-1 1-1zM233 78l0 2-1-1 0-2zM241 50l-2 3-1-3 2-2zM272 6l-2 1 0-2 2-1z"/>
<path fill="#2ce2ec" d="M282 4l-1 2 0 1 0-2 0-2 1-2 0 2zM177 14l0 1-1 0 0-2 1 0zM210 17l-1 3-1 1-2-1 0-7 2-1 2 2zM227 26l-1 2-1 2-1-3 0-6 0-3 2-1zM234 19l1 3-1 2-2-2-1-4 1-1 2 0zM236 14l-1 2-1 1 0-1 0-3 1-2 1 1zM238 17l-1 5-2 1-1-3 0-6 1-4 1 3zM157 27l0 1 0 1-1-1 0-1 1-1zM164 25l0 3-1 0-1-2 0-2 0-1 1 1zM171 34l1 2-1 1 0-1-1-2 0-3 1 1zM172 27l-1 2 0 1-1-2 1-2 0-1 1 0zM200 25l0 7-1 0-1-4-1-4 1-2 1 1zM196 28l1 3-2-1 0-2 0-2zM288 35l0 3-1 1-2-2 0-4 1-2 1 1zM285 44l-1 2-1 2-1-3 1-5 0-3 2 3zM183 51l0 6-1 1-2-4-1-3 0-6 2 3zM241 58l0 1-1 0 0-1 0-1 1 0zM239 49l1 2-1 0-1 0 0-3 1 0zM231 55l0 3-2 0-1-1 0-4 1-2 2 2zM238 55l0 1-1 2-1-1 0-4 0-3 2 1zM264 68l0 3-1-1 0-1-1-2 1-1 1 0zM255 74l0 2 0 1-2-2 0-1 0-1 1 0zM256 82l-1 3-1 2-2-2 1-6 1-2 1-1zM155 92l-1 2 0 1-1-2-1-3 1-3 1 1zM149 120l0 2-1 0 0-1-1-2 1-1 1 0zM156 127l0 2-1 1-1 0 0-4 0-2 1 0zM153 129l0 3-2 0 0-1-2-2 2-2 1 0zM233 140l0 1-1-1 0-1 1-2 0 1zM232 136l0 6-2 1-1-5-1-5 2-5 1 2zM215 89l-1 1 0-1 0-2zM268 33l-1 1 0-1zM263 97l-1 1-1-1 1-1zM218 59l-1 2-1-1 1-1zM149 29l-1 1-1-1 0-2zM260 68l-1 2-1-3 1-2zM254 101l-1 1 0-2 1 0zM162 75l-1 1-1-1 1-1zM162 115l-1 2 0-2 0-2z"/>
<path fill="#ff7a18" d="M162 16l-1 6-2 3-1-7 1-4 1-6 1 2zM289 18l0 3-2 1-1-2 0-2 1-2 2 0zM167 29l0 2-1 0-1-1 0-1 1-1 1 0zM165 30l-1 5-2 4-1-3 0-9 1-3 2 3zM168 31l0 5-3 2 0-6 1-4 1-3 1-1zM247 54l0 2-1 1-1-1 0-2 0-1 1 0zM176 72l-1 2-1-1 1-2 0-1 1 1zM195 68l0 5 0 1-2-2-1-4 0-2 2 1zM285 63l0 1 0-1-1-2 0-1 1 1zM166 76l0 1-1 1 0-1-1-1 1-1 1 0zM242 76l0 2-2 1 0-3 1-1 1-2 1 0zM247 82l-1 3-1 0 0-3-1-2 2-3 1 3zM189 85l0 4-1 1-1-2-1-3 1-4 1 2zM175 104l-2 6-1 1-1-2 1-7 2-3 0 1zM245 98l-1 1-1 1 0-2 0-1 1 0zM247 103l-1 2-1-1 0-2 1-1 1 1zM231 110l-1 5-1 4-1-5 0-5 1-4 1 1zM175 122l0 6-1 2-2-4-2-8 1-4 2 5zM178 124l-1 2 0-1-1 0 1-1 0-1 1 0zM189 131l0 3-1 1-1-3 1-2 0-3 1 2zM249 129l-1 4-1 0 0-4 0-2 2-5 0 3zM249 129l0 1-1 0 0-1 0-1 0-1zM270 119l-2 6-1 0-1 0 0-7 2-4 1 1zM186 140l0 2-1 0 0-2 0-1 0-1 1 0zM194 140l-1 1-1 1 0-2 0-1 1-2 1 1zM198 142l-1 2-1-1-1 0 0-2 2-2 0 1zM252 138l0 1-1 0 0-1-1-1 1-1 1 0zM242 137l-1 1 0-2 1-2zM248 132l-1 5-1 1-1-1 0-6 1-5 2 2zM260 132l0 2-1-1 0-1 0-1 1 0zM176 102l-2 3 0-2 1-3zM240 90l-2 2 0-3 1-1zM152 44l-1 2-1-1 1-2zM245 113l-1 1-1-1 1-2zM246 65l-1 2-1-2 1-2zM197 136l-1 1-1-1 2-2zM206 138l0 2-2-2 1-2zM193 87l-1 1 0-2 1 0zM163 48l0 2-1-1 0-2zM197 137l-1 1-1-1 1-1zM244 59l-1 2-1-2 1-1zM183 136l0 1-1-1 0-1zM204 138l-2 2 0-2 2-2z"/>
<path fill="#862cf2" d="M196 40l0 2-1 0-1 0 0-3 1-2 1 1zM249 42l-1 4-1-1-1-2 0-2 0-3 1-1zM252 53l-1 2 0-2 0-2 0-1 1 0zM171 6l-1 1-1-1 1-2zM224 87l-1 2-2-2 1-1zM151 5l0 1-2-1 1-1z"/>
<path fill="#3c96f5" d="M243 73l-1 6-1 1-1-4 1-4 1-3 1 1zM242 110l0 2 0 1-1-2-1-1 1-2 0 1zM222 128l0 5-1 0-1-3 1-3 1-2 1 1zM280 99l-1 2 0-2 1-1zM162 108l-1 2-1-1 1-2zM149 113l-1 1 0-1 1-1zM162 130l-1 1-1-2 3-2zM269 132l-1 2-1-2 1-2z"/>
<path fill="#2c8efb" d="M249 88l0 3-1 0-1 0 0-5 1 0 1 1zM166 118l0 3-1 2 0-3 0-2 0-2 1 0zM266 124l0 1-1 0-1-1 0-2 1-1 1 1zM167 128l-1 3-1-2 1-3zM161 131l-1 1 0-1 1-2zM170 15l-2 2 0-2 0-1zM148 20l0 2-1-2 0-1z"/>
<path fill="#b8fa22" d="M150 100l-1 3 0 1-1-2 0-4 1 1zM212 113l0 2-1 0 0-1 0-1 0-1 1 0zM234 134l-1 1-1-1 2-2zM161 48l0 2-1-1 0-2zM283 95l0 1-1-2 1 0zM189 115l-1 1 0-1 0-1zM215 110l-1 2-1-2 2-2z"/>
<path fill="#9ae82e" d="M155 105l0 1-1 1 0-1-1-2 1-2 1 1zM152 102l0 3-1 1-1-2 1-3 1 0zM202 101l-1 4-1 1 0-3-1-4 2-2 1-1zM203 98l0 2-1 0-2-1 0-3 1-3 1 1zM188 110l0 3-1 1-1-3 0-2 1-1 1 0zM215 108l0 3 0-1-1-1 0-1 1-1zM213 118l-1 1-1 0 0-4 1-1 1 0zM214 110l0 2-2-2 1-3zM224 125l-1 1-1-2 1-1zM207 55l-1 1-1-2 2 0z"/>
<path fill="#aaf028" d="M196 102l-1 2 0 1 0-2 0-2 0-1 1 0zM204 100l0 2-1-2 0-1zM265 35l0 2-1-1 0-2zM281 101l-1 3-1-2 1-2zM230 142l0 1-1-1 0-1zM268 107l-1 3-1-3 0-1zM167 76l-1 2-1-2 1-1zM232 79l0 2-2-2 1-2zM234 22l-2 2 0-3 2-1z"/>
<path fill="#9634ec" d="M157 129l1 1-1 0-2-2 0-2 1 1zM276 90l-1 1-1-2 0-2zM197 6l-2 1 0-2 2-1z"/>
</g></g>
<clipPath id="clip_c"><rect x="289.6" y="2.4" width="142.20" height="140.60"/></clipPath>
<g clip-path="url(#clip_c)"><g filter="url(#soft)">
<path fill="#22e62c" d="M290 2l12 0 0 13-12 0zM301 2l13 0 0 13-13 0zM325 2l12 0 0 13-12 0zM361 2l12 0 0 13-12 0zM373 2l12 0 0 13-12 0zM290 14l12 0 0 12-12 0zM301 14l13 0 0 12-13 0zM313 14l13 0 0 12-13 0zM337 14l12 0 0 12-12 0zM361 14l12 0 0 12-12 0zM396 14l12 0 0 12-12 0zM290 26l12 0 0 12-12 0zM301 26l13 0 0 12-13 0zM313 26l13 0 0 12-13 0zM349 26l12 0 0 12-12 0zM361 26l12 0 0 12-12 0zM290 38l12 0 0 12-12 0zM301 38l13 0 0 12-13 0zM313 38l13 0 0 12-13 0zM349 38l12 0 0 12-12 0zM361 38l12 0 0 12-12 0zM373 38l12 0 0 12-12 0zM396 38l12 0 0 12-12 0zM290 49l12 0 0 12-12 0zM301 49l13 0 0 12-13 0zM313 49l13 0 0 12-13 0zM337 49l12 0 0 12-12 0zM349 49l12 0 0 12-12 0zM361 49l12 0 0 12-12 0zM373 49l12 0 0 12-12 0zM396 49l12 0 0 12-12 0zM349 61l12 0 0 12-12 0zM384 61l13 0 0 12-13 0zM337 73l12 0 0 12-12 0zM349 73l12 0 0 12-12 0zM384 73l13 0 0 12-13 0zM396 73l12 0 0 12-12 0zM384 84l13 0 0 13-13 0zM396 84l12 0 0 13-12 0zM384 96l13 0 0 12-13 0zM361 108l12 0 0 12-12 0zM361 131l12 0 0 12-12 0zM384 131l13 0 0 12-13 0zM396 131l12 0 0 12-12 0zM289 101l0-14 2-12 1 4 1 12-3 15-1-4zM289 17l1-16 3 0 1 19-2 10-3-7zM294 60l0-8 3-4 1 12-2 11zM298 63l5-3 0 1-2 20zM303 59l1-15 2-10 2 26-3 10-2-9 0-1zM299 3l0-2 4 0 0 10-1 8-2-5zM302 19l1-8 4 17-1 6-2 10zM303 1l6 0-2 26 0 1-4-17zM306 34l1-6 0-1 2 14 0 21-1-2zM309 62l0-21 2 2 0 2 0 16-2 2zM309 1l1 0 3 19-1 25-1 0 0-2zM316 71l0-17 0-12 3-8 1 2 1 10 1 12 0 13-1 8-3-2zM321 20l1-7 0 3 2 15 0 1-3 14-1-10 0-12zM325 96l4 9 0 3-1 11-3-21zM329 9l0-8 1 0 1 1-1 9zM355 42l4-2 0 1-1 18-1-1-2-11zM358 59l1-18 1 0 2 9 0 10-2 9zM360 69l2-9 2 18-1 19-1-3-2-17zM368 88l1-1 1 1 1 23 0 1 0 3-1 1-2-12 0-9zM371 115l1 29-2 0-1-18 1-10zM366 114l2-10 2 12-1 10-2-1zM369 42l3-4 0 22 0 2-2-11zM372 60l3 0 1 7 0 1-1 18-1 2-2-26zM372 35l0-1 2 8 0 16 1 2-3 0 0-22zM371 7l0-6 3 0 0 16-2 2zM377 117l1 12 1 8-1 7-1 0-2-17zM392 115l-1 7-2-5-1-17 3-2zM391 74l3 16 0 11-3-10zM395 38l4 5 1 16-2 8-3-27zM399 37l2-1 0 10 0 9 0 5-1-1-1-16zM401 46l3-5 0 12-3 2z"/>
<path fill="#ec161c" d="M313 2l13 0 0 13-13 0zM337 2l12 0 0 13-12 0zM349 2l12 0 0 13-12 0zM408 2l12 0 0 13-12 0zM325 14l12 0 0 12-12 0zM349 14l12 0 0 12-12 0zM373 14l12 0 0 12-12 0zM420 14l12 0 0 12-12 0zM373 26l12 0 0 12-12 0zM396 26l12 0 0 12-12 0zM408 26l12 0 0 12-12 0zM420 26l12 0 0 12-12 0zM408 38l12 0 0 12-12 0zM420 38l12 0 0 12-12 0zM408 49l12 0 0 12-12 0zM420 49l12 0 0 12-12 0zM290 61l12 0 0 12-12 0zM301 61l13 0 0 12-13 0zM313 61l13 0 0 12-13 0zM325 61l12 0 0 12-12 0zM361 61l12 0 0 12-12 0zM373 61l12 0 0 12-12 0zM396 61l12 0 0 12-12 0zM408 61l12 0 0 12-12 0zM301 73l13 0 0 12-13 0zM361 73l12 0 0 12-12 0zM373 73l12 0 0 12-12 0zM408 73l12 0 0 12-12 0zM420 73l12 0 0 12-12 0zM290 84l12 0 0 13-12 0zM301 84l13 0 0 13-13 0zM373 84l12 0 0 13-12 0zM408 84l12 0 0 13-12 0zM290 96l12 0 0 12-12 0zM301 96l13 0 0 12-13 0zM373 96l12 0 0 12-12 0zM396 96l12 0 0 12-12 0zM408 96l12 0 0 12-12 0zM420 96l12 0 0 12-12 0zM290 108l12 0 0 12-12 0zM301 108l13 0 0 12-13 0zM349 108l12 0 0 12-12 0zM373 108l12 0 0 12-12 0zM396 108l12 0 0 12-12 0zM408 108l12 0 0 12-12 0zM420 108l12 0 0 12-12 0zM325 120l12 0 0 12-12 0zM337 120l12 0 0 12-12 0zM349 120l12 0 0 12-12 0zM361 120l12 0 0 12-12 0zM373 120l12 0 0 12-12 0zM384 120l13 0 0 12-13 0zM396 120l12 0 0 12-12 0zM408 120l12 0 0 12-12 0zM420 120l12 0 0 12-12 0zM313 131l13 0 0 12-13 0zM325 131l12 0 0 12-12 0zM337 131l12 0 0 12-12 0zM349 131l12 0 0 12-12 0zM373 131l12 0 0 12-12 0zM408 131l12 0 0 12-12 0zM420 131l12 0 0 12-12 0zM289 130l0-27 0-1 1 4 0 25-1 1zM291 75l-2 12 0-25zM290 106l2 15 0 4-1 10-1-4zM293 91l1 3 1 8 1 21-4-2-2-15zM305 70l3-10 1 2 0 1 1 29 0 2zM320 119l1 3 3 16 0 6-5 0-1-3 1-20zM318 77l3 2 0 43-1-3-1-6zM324 31l0-13 2 14-2 0zM322 58l4-3 1 9 0 6 0 10-3 5-2-14zM327 129l1-4 2-2 4 18 0 3-3 0zM324 14l0-13 3 15 0 11zM333 103l6 2 0 3 1 6-1 8-5 11zM331 15l3-10 1 0 0 13 0 16 0 2-1 3-2-6zM335 18l3 2 0 9-3 5zM358 144l-4 0 1-6 2 5zM346 17l4-9 0 2-2 22zM360 122l0-20 2-8 1 3 1 8-1 8-2 16zM356 10l0-1 3 31-4 2zM369 87l-1-23 3 15-1 9zM372 25l3 6 0 2-1 9-2-8zM378 52l1-11 1-1 1 3-1 31-2-11-1-3zM379 87l-1-24 2 11 0 2zM379 136l2 8-1 0-1-7zM407 144l-2 0 0-20 0-1zM386 65l5-4 1 3 0 2-1 4-1 2-4-1zM401 21l1 1 2 19-3 5 0-10zM405 59l0 1 1 15-1 1-1-9zM405 60l1-12 2 32-2-5zM419 144l-3 0 1-5zM409 57l3-1 0 1 0 6-3 25-1-8zM412 56l0-23 0-8 3-3 2 10 1 6 0 10-2 18-4-9zM414 103l1 0 4 16 0 2-2 9-2-8-1-12zM417 85l3-20 1 6 1 13-1 9-2 1zM417 32l3-13 2 8 0 1 0 5-4 5zM419 55l3-8 1 1 1 14-3 9-1-6zM419 118l3-12 1 11 1 3-3 5zM418 1l3 0 0 5-1 8zM423 26l4 16 0 3-4 3-1-1 0-14 0-5zM427 49l2-18 2 3 0 1 1 39-2-2-2-15zM431 13l0 7 0 14-2-3 0-5 2-14z"/>
<path fill="#2ce2ec" d="M384 2l13 0 0 13-13 0zM325 84l12 0 0 13-12 0zM337 108l12 0 0 12-12 0zM384 108l13 0 0 12-13 0zM352 9l0-1 0-7 5 0 0 1-1 7 0 1-4 0zM370 144l-4 0 0-2 1-17 2 1zM383 1l3 0-1 6z"/>
<path fill="#ec2ce2" d="M396 2l12 0 0 13-12 0zM420 2l12 0 0 13-12 0zM384 14l13 0 0 12-13 0zM337 61l12 0 0 12-12 0zM349 84l12 0 0 13-12 0zM349 96l12 0 0 12-12 0zM325 108l12 0 0 12-12 0zM301 120l13 0 0 12-13 0zM301 131l13 0 0 12-13 0zM320 1l2 0 0 12-1 7zM340 56l-1 19-2-3 1-21zM340 115l5 12 0 9-1 8-1 0zM350 133l1-16 4 6 0 15-1 6-4 0zM354 89l2 16 0 4-1 10-3-19zM356 9l1-7 2 13 1 26-1 0 0-1zM377 117l0-3 0-14 2-5 0 3-1 31zM393 118l1-6 2 19 0 1 0 1-1 11-1 0zM397 1l4 0 0 16zM403 1l1 0-1 2zM403 3l1-2 1 0 1 13 0 5-3-1z"/>
<path fill="#202ce8" d="M408 14l12 0 0 12-12 0zM325 26l12 0 0 12-12 0zM337 26l12 0 0 12-12 0zM384 26l13 0 0 12-13 0zM325 38l12 0 0 12-12 0zM337 38l12 0 0 12-12 0zM384 38l13 0 0 12-13 0zM325 49l12 0 0 12-12 0zM384 49l13 0 0 12-13 0zM361 84l12 0 0 13-12 0zM420 84l12 0 0 13-12 0zM361 96l12 0 0 12-12 0zM363 97l1-19 1-1 1 23-1 8-1-3zM366 100l2-5 0 9-2 10-1-6zM395 40l3 27 0 6-1-1-3-12zM430 72l2 2 1 36 0 18-1 2-2-2-2-30zM433 73l0 4 0 33-1-36z"/>
<path fill="#9634ec" d="M420 61l12 0 0 12-12 0zM337 84l12 0 0 13-12 0zM325 96l12 0 0 12-12 0zM337 96l12 0 0 12-12 0zM290 131l12 0 0 12-12 0zM291 144l-1 0-1-12 1-1 1 4zM332 60l0-27 2 6 0 15-2 11zM339 108l1-29 4 0-1 14-3 21zM346 97l4 3 0 1 1 16-1 16-3-17z"/>
<path fill="#fa701e" d="M290 73l12 0 0 12-12 0zM313 73l13 0 0 12-13 0zM313 84l13 0 0 13-13 0zM313 96l13 0 0 12-13 0zM313 108l13 0 0 12-13 0zM290 120l12 0 0 12-12 0zM313 120l13 0 0 12-13 0zM294 94l2-18 3 15 0 4-4 7zM317 144l-3 0 0-8 2 0 1 5zM315 103l2-4 2 14 1 6-1 2-2 2-2-12z"/>
<path fill="#3c96f5" d="M325 73l12 0 0 12-12 0zM327 70l2 8-1 7-1-5zM392 1l4 0 0 9-4-7z"/>
<path fill="#a43ee6" d="M289 143l0-11 1 12-1 0zM292 121l4 2 0 6-1 15-1 0-2-19zM339 105l-2-25 0-4 0-4 2 3 1 4-1 29zM402 22l1-4 3 1 1 17-1 7-2-2z"/>
<path fill="#862cf2" d="M298 144l-3 0 1-15 1 2zM325 98l3 21 0 6-1 4-3 9zM340 114l3-21 2 30 0 4-5-12zM346 64l3 5 1 31-4-3-2-18z"/>
<path fill="#ff7a18" d="M291 135l1-10 2 19-3 0zM298 63l1 28-3-15 0-5 2-11zM315 111l2 12-1 13-2 0-1-5 0-3z"/>
<path fill="#12de32" d="M334 1l1 0 0 4-1 0zM289 59l0-19 2 11 0 5-2 6zM289 13l0-12 1 0-1 16 0-1zM289 40l0-3 0-14 3 7 1 12-2 9zM294 20l-1-19 2 0 3 6-1 26zM327 1l2 0 0 8-1 2zM298 40l2-7 2 20zM310 1l5 0 0 8-1 15-1-4zM312 67l3-15 1 2 0 17-3 11zM312 45l1-25 1 4 2 18 0 12-1-2zM315 1l1 0 2 7 1 25-4-24zM326 1l1 0 1 10 0 1zM338 29l1 8-1 14-3-15 0-2zM335 5l0-4 3 0 1 9-1 10-3-2zM341 60l0-22 1-2 3 20 1 8-2 15zM357 58l1 1 2 10 0 8-2 12-1-12zM360 17l2-6 2 30 0 1zM361 1l2 0 0 2-1 4zM363 1l4 0-2 17-2-15zM365 18l2-17 1 4 0 22 0 6-2-1zM371 112l2 13 0 1 1 17-1 1-1 0-1-29zM370 51l2 11-1 15 0 1-2-17zM373 126l2 1 2 17-3 0 0-1zM372 62l2 26 0 1-1 1-2-13zM374 58l1-14 3 8-1 8-1 7-1-7zM375 30l1-1 3 12-1 11-3-8 0-11 0-2zM374 17l0-16 2 0 0 28-1 1zM376 29l0-28 5 28 0 3-1 8-1 1zM392 144l-4 0 0-11 1 1 2 4zM382 56l4 9 0 6 1 25 0 3-2-5-3-22zM386 58l5-2 0 5-5 4zM391 122l1-7 1 3 1 26-2 0-1-6 0-11zM386 71l4 1-3 24zM387 96l3-24 1-2 0 4 0 17 0 7-3 2-1-1zM399 144l-4 0 1-11zM394 60l3 12-2 12-3-18 0-2zM395 84l2-12 1 1 1 24 0 9-3-4 0-7zM405 144l-4 0 0-21 4 1zM398 30l3-11 0 2 0 15-2 1zM406 120l4 24-3 0-2-21zM413 75l1 26-5-13 3-25zM424 64l4-7 2 15-2 26-4-18z"/>
<path fill="#fa2016" d="M291 56l1 12 0 11-1-4-2-13zM295 1l4 0 0 2-1 4zM292 68l2-8 2 11 0 5-2 18-1-3-1-12zM296 123l-1-21 4-7 2 28-1 7-3 1-1-2zM297 33l1-26 1-4 1 11 0 8-3 14zM298 63l3 18 0 7-2 3zM309 123l4 1 0 4 0 3-1 7-1 1-2-12zM311 105l3-4 1 2 0 8-2 17 0-4zM331 144l-7 0 0-6 3-9zM322 16l2 2 0 13zM324 14l3 13 0 3-1 3 0-1-2-14zM334 133l5-11 1 22-6 0 0-3zM345 123l2-7 3 17 0 11-3 0-2-8 0-9zM346 2l0-1 3 0 1 7-4 9 0-1zM349 1l2 0 1 7 0 1-2 1 0-2zM358 89l2 13 0 20-2-2-2-11 0-4zM364 105l1 3 1 6 1 11-1 17-3-29zM366 60l2 4 1 23-1 1-2-13zM367 1l4 0 0 6 0 2-3-4zM371 111l1-2 3-2 1 6-3 12-2-13zM371 7l1 12 0 6 0 9 0 1-3-11 2-15zM376 113l1 1 0 3-2 10-2-1 0-1zM372 25l0-6 2-2 1 13 0 1zM376 1l5 0 0 28zM376 68l3 22 0 5-2 5-2-14zM381 43l1 13 0 16 0 8-2-4 0-2zM396 102l3 4 1 9-4 17 0-1 0-27zM395 33l1-16 2 13 1 7 0 6-4-5zM396 132l4-17 1 8 0 21-2 0-3-11zM402 82l2 2 3 27-1 9-1 3-3-39zM405 123l-4-33 1-6zM405 76l1-1 2 5 1 8-1 23-1 0-3-27zM406 43l1-7 2-4 3 1 0 23-3 1-2-13zM406 14l1-2 2 20-2 4-1-17zM419 121l1 23-1 0-2-5 0-9zM416 66l2-18 1 7 1 10-3 20 0-1zM419 94l2-1 1 13-3 12zM420 19l0-5 1-8 1 21zM424 62l-1-14 4-3 0 4 1 8-4 7zM428 98l2 30-1 12-3-7 1-33zM427 42l-1-38 3 22 0 5-2 18 0-4zM433 141l0 3-4 0 0-4 1-12 2 2zM426 1l3 0 2 6 0 1 0 4-2 14-3-22zM431 34l0-14 2 17-2-2zM433 128l0 13-1-11zM431 13l2 15 0 9-2-17z"/>
<path fill="#30f026" d="M291 51l2-9 1 10 0 8-2 8-1-12zM298 60l-1-12 0-10 1 2 4 13 1 6 0 1-5 3zM297 38l0-2 3-14 0 11-2 7zM311 105l2 19-4-1 1-27zM307 27l2-26 2 42-2-2zM310 94l0-2 3-9 1 18-3 4-1-9zM311 45l1 0 3 7-3 15-1-6zM319 33l-1-25 0-7 1 0 1 23 0 12-1-2zM324 32l2 0 0 1 0 22-4 3-1-12zM324 1l2 0 2 11-1 4zM331 2l0-1 3 0 0 4-3 10-1-4zM341 38l-2-1-1-8 0-9 1-10zM341 38l-2-28 2 2 1 17 0 7zM343 28l1-14 2 3-1 20zM345 37l1-20 0-1 0 1 2 15-3 20zM349 37l3-8 2 20 0 1-4 10zM350 64l0-4 4-10 0 24-1 8zM352 10l4 0-1 32 0 5-1 2-2-20zM360 41l-1-26 1 2 4 25-2 8zM362 60l0-10 2-8 0-1 1 1 1 18 0 15-1 2-1 1zM365 42l1-10 2 1 1 9 1 9-1 10-1 3-2-4zM368 27l1-3 3 11 0 3-3 4-1-9zM371 9l-2 15-1 3 0-22zM374 42l1-9 0 11-1 14zM376 68l0-1 1-7 1 3 1 24 0 3zM382 93l3 1 2 5-1 6-2 20-2-7-1-14zM389 40l2 14 0 2-5 2 0-8zM392 66l3 18 1 11-2-5-3-16 0-4zM394 90l2 5 0 7 0 2-1 4-1-7zM396 15l0-5 0-9 1 0 4 16 0 2-3 11-2-13zM398 67l2-8 1 1 1 8 0 14 0 2-1 6-2 7-1-24zM402 68l2-1 1 9-1 8-2-2zM404 41l2 2 1 1-1 4-1 12 0-1-1-6zM405 1l3 0 0 4-1 7-1 2zM425 103l2-3-1 33-1 0-1-13-1-3z"/>
<path fill="#dc0e22" d="M293 42l-1-12 2-10 3 13 0 3 0 2 0 10-3 4zM299 91l2-3 2 15 1 15-1 1-2 4-2-28zM300 14l2 5 2 25-1 15-1-6-2-20 0-11zM301 88l0-7 2-20 2 9 0 13-2 20zM305 83l2 23 0 10-3 2-1-15zM307 106l3-10-1 27 0 4-1-3-1-8zM309 63l2-2 1 6 1 15 0 1-3 9zM317 123l2-2-1 20-1 0-1-5zM317 141l1 0 1 3-2 0zM314 24l1-15 4 24 0 1-3 8zM320 24l-1-23 1 0 1 19zM316 1l2 0 0 7zM322 13l0-12 2 0 0 13 0 4-2-2zM327 27l0-11 1-4 0-1 1-2 1 2 1 4 1 18-2 5-1 2-2-10zM328 62l0-3 3 2 1 5 0 13-2-4zM332 65l0 1-1-5-2-21 1-2 2 22zM329 40l2 21-3-2zM336 75l-2-21 0-15 1-3 3 15-1 21 0 4zM339 122l1-8 0 1 3 29-3 0zM338 1l4 0 0 2 0 2-1 7-2-2zM347 144l-3 0 1-8zM343 93l1-14 2 18 1 19-2 7zM342 29l1-1 2 9 0 15 0 4-3-20zM341 12l1-7 2 9-1 14-1 1zM342 3l1-2 3 0 0 1 0 14 0 1-2-3-2-9zM350 10l2-1 0 1 0 19-3 8-1-5zM350 101l2-1 3 19 0 4-4-6zM356 109l2 11-1 23-2-5 0-15 0-4zM358 120l2 2 1 7 1 15-4 0-1-1zM357 2l0-1 4 0 1 6 0 4-2 6-1-2zM362 11l0-4 1-4 2 15 1 14-1 10-1-1zM369 61l2 17 0 1-3-15zM380 144l-2 0 1-7zM378 129l1-31 2 6 1 14-3 18 0 1zM382 72l3 22-3-1 0-13zM380 40l1-8 3-1 2 19 0 8 0 7-4-9-1-13zM381 29l0-28 2 0 2 6 0 8 0 13-1 3-3 1zM391 127l-1-3-1-7 2 5zM399 97l2-7 4 33 0 1-4-1-1-8-1-9zM407 111l1 0 3 14 1 19-2 0-4-24zM401 55l3-2 1 6-1 8-2 1-1-8zM407 44l2 13-1 23-2-32zM415 144l-3 0-1-19 3-15 1 12zM412 63l0-6 4 9 1 18 0 2-4-11zM408 1l3 0 0 11-3-7zM409 88l5 13 0 2 0 7-3 15-3-14zM414 101l-1-26 4 11-2 17-1 0zM415 122l2 8 0 9-1 5-1 0zM422 144l-2 0-1-23 0-2 0-1 2 7zM415 22l1-21 2 0 2 13 0 5-3 13zM418 48l0-10 4-5 0 14-3 8zM421 93l1-9 1 1 2 18-2 14-1-11zM423 85l-1-1-1-13 3-9 0 2 0 16zM422 28l0-1-1-21 0-5 2 25zM425 133l1 0 3 7 0 4-4 0zM423 26l1-25 2 0 0 3 1 38zM433 10l0 14-1-15z"/>
<path fill="#fa36dc" d="M300 130l1 14-3 0-1-13zM300 130l1-7 2-4 2 20 0 5-4 0zM305 139l2-3 1 8-3 0zM308 124l1 3 0 17-1 0-1-8zM311 139l0 5-2 0 0-17zM313 131l1 5 0 8-2 0 0-6zM339 75l1-19 1 4 3 19-4 0zM351 1l1 0 0 7zM354 49l1-2 2 11 0 19-3-3 0-24zM360 77l2 17-2 8-2-13zM366 75l2 13 0 7-2 5-1-23zM373 90l1-1 1 18-3 2zM379 90l0-3 1-11 2 4 0 13-1 11-2-6 0-3zM393 11l3 4 0 2-1 16zM421 1l3 0-1 25zM431 35l2 2 0 36-1 1zM431 1l1 0 0 8-1-1 0-1z"/>
<path fill="#dc24e8" d="M303 119l1-1 3-2 1 8-1 12-2 3zM312 144l-1 0 0-5 1-1zM328 119l1-11 1 15-2 2zM329 105l0-7 4-2 0 7 1 30 0 8-4-18-1-15zM350 64l3 18 1 7-2 11-2 1 0-1-1-31zM354 89l-1-7 1-8 3 3 1 12-2 16zM375 107l-1-18 0-1 1-2 2 14 0 14-1-1zM391 138l-2-4 1-10 1 3zM393 11l2 22-3-4 0-7 0-13zM396 104l0 27-2-19 1-4zM401 17l0-16 2 0 0 2 0 15-1 4-1-1 0-2zM425 144l-3 0-1-19 3-5 1 13z"/>
<path fill="#ea6824" d="M305 70l5 24 0 2-3 10-2-23zM313 82l3-11 1 28-2 4-1-2-1-18zM318 77l1 36-2-14-1-28zM321 122l0-43 1-8 2 14 1 11 0 2-1 40z"/>
<path fill="#4aa0ef" d="M325 96l-1-11 3-5 1 5 1 13 0 7zM388 6l1-5 3 0 0 2 0 6 0 13-3-7z"/>
<path fill="#1024ee" d="M327 30l2 10-1 19 0 3-1 2-1-9 0-22zM371 79l0-1 0-1 2 13-1 19-1 2-1-23zM384 31l1-3 3 5 1 7-3 10zM388 33l1-10 0-8 3 7 0 7-1 25-2-14zM424 80l4 18-1 2-2 3-2-18zM431 12l0-4 1 1 1 15 0 4-2-15z"/>
<path fill="#2c8efb" d="M328 62l2 13-1 3-2-8 0-6zM385 7l1-6 1 0 1 5 1 9 0 8-4-8z"/>
<path fill="#3aece6" d="M328 85l1-7 1-3 2 4 1 16 0 1-4 2zM384 125l2-20 2 28 0 11-3 0zM387 99l1 1 1 17 1 7-1 10-1-1-2-28zM391 98l0-7 3 10 1 7-1 4-1 6-1-3z"/>
<path fill="#1cdaf2" d="M332 79l0-13 0-1 4 10 1 1 0 4-4 15zM333 95l4-15 2 25-6-2 0-7zM366 144l-4 0-1-15 2-16 3 29zM392 9l0-6 4 7 0 5-3-4z"/>
<path fill="#2e36e2" d="M332 33l0 27-2-22zM334 54l2 21-4-10zM338 51l1-14 2 1 0 22-1-4zM345 52l3-20 1 5 1 23 0 4-1 5-3-5-1-8zM385 15l4 8-1 10-3-5zM391 61l0-5 0-2 1-25 3 4 0 5 0 2-1 20-2 4zM429 1l2 0 0 6zM407 12l1-7 3 7 1 13 0 8-3-1zM411 12l0-11 5 0-1 21-3 3zM415 103l2-17 0-2 0 1 2 9 0 24 0 1zM432 1l1 0 0 9-1-1z"/>
<path fill="#ece224" d="M387 1l2 0-1 5z"/>
<path fill="#e6369c" d="M382 118l2 7 1 19-4 0-2-8z"/>
<path fill="#202ce8" d="M337 39l0 5-2 5-2 4-4 2-4-1-3-1-3-4-2-4-1-6 2-4 1-5 3-3 3-3 4 2 4-1 3 5 0 5z"/>
<path fill="#202ce8" d="M377 100l0 3-2 2-1 3-3 1-2-2-3 0-2-1-1-3 0-3 0-3 2-2 2-2 2-1 2-1 2 2 2 2 2 2z"/>
<path fill="#202ce8" d="M427 30l-2 2 0 4-2 2-2 1-3 0-1-3-3-1 0-3 0-2 0-3 1-2 1-3 2 0 3 0 1 1 2 2 1 2z"/>
<path fill="#202ce8" d="M431 88l0 2-1 1-1 1-2 0-2 1-1 0-2-2 0-2 0-1 0-2 0-2 2-1 1-1 2 0 1 1 2 1 1 2z"/>
<path fill="#22e62c" d="M292 13l-2 5-2 2-1-2 1-6 3-4 1 0zM301 7l-1 4-1-2 0-2 1-2zM329 14l-1 1-2 2-1-2 1-4 1-3 1 2zM346 10l0 1-1-1 0-1 0-1 1 0zM377 2l0 3-1 2-1-1 0-5 1-1 1 0zM337 24l-1 2-1-1 1-3 0-2 1 1zM358 22l0 1-1 1 0-2 0-1 1-1zM378 17l0 3 0 1-1-1-2-4 0-3 1 0zM378 16l0 1-3 1 0-2 0-4 1-2 2 2zM397 24l0 3-1 0 0-2 0-2 1-3 0 2zM362 27l0 2-1 0-1-1-1-3 1 0 1 0zM376 37l0 2-1-2 0-1 0-1 1 0zM393 39l0 1-1-1 1-2 1 0zM401 43l-1 4-1 2-1-4 0-5 1-3 1 2zM422 46l0 2-1-1 0-2 0-1zM308 56l-2 3-1 1-1-3 1-3 2-2 0 2zM386 50l-1 5-1-1-1-3 0-3 1-2 2 2zM311 66l-1 3-1 0 0-2-1-2 2-2 1 0zM316 69l-1 3-1-1 1-2 0-2 1 1zM352 71l0 2-1-1 0-1 0-1 1 0zM361 68l0 2-1 2-1-3-1-2 2-3 0 1zM368 67l-1 0 0 1 0-2 1-1zM392 69l-1 2 0 1 0-2 0-2 1-2 1 2zM298 76l-1 2-1 0 0-2 1-3 0-2 1 2zM320 72l0 3-1 2-1-3 0-3 0-1 1 0zM317 79l0 3-2 2-1-4 0-3 0-4 2 3zM314 75l0 1 0 1-1-1 0-2 1-1zM355 79l0 1-1 2-1-2 0-3 0-2 1 0zM359 82l0 2-1 0 0-1-1-1 1 0zM362 78l0 3-1 0-1-1 0-4 1-1 1 2zM370 75l-1 4-2 4 0-6 1-6 2-3 2-1zM371 75l-1 4-2 0 0-1 0-4 1-1 1 1zM415 83l-1 2 0-1 0-1 0-2 1 1zM414 76l-1 2 0-1 0-2 1 0zM396 96l0 1-1 0 0-1 0-1 1 0zM406 88l0 2-1 2-1-3 1-2 0-1 1 0zM296 102l0 3-1 0-1-2 1-2 0-1 0-1zM301 102l0 3-1 0 0-1 0-3 0-1 1 0zM308 101l0 4-1-1-1-1-1-5 1-2 2 0zM406 105l-1 6-1 1-2-4 0-5 2-1 0-2zM413 105l-1 5-2 2-1-3 1-9 1-2 1-1zM413 100l1 3-2 2 0-4-1-2 1-4 1 0zM293 113l-1 4-1 1-1-2 0-4 2-2 1 0zM305 114l0 2-1 1 0-2 1-3zM323 110l-1 1 0 1-1-2 1-1zM325 117l-1 1-1 0 0-1 0-2 1-1 1 1zM385 116l-1 2-1 2 0-3 1-3 0-2 1 1zM389 113l-1 6-1-2-1-2 0-3 2-3 0 1zM404 111l-1 3-1 1-1-3 1-2 1-3 0 2zM403 117l-1 2-1 1 0-2 1-3 1-1 1 1zM292 131l0 4-1 4-2-4-1-7 2-4 1-1zM357 122l-1 3-1-1 0-3 1-1 0 1zM359 132l-2 5-2 1 0-3 1-7 2-7 1 5zM370 125l1 7-1 1-1-4-2-4 1-3 1 1zM308 4l0 2-2-1 0-2zM350 35l0 2-2-1 0-2zM427 98l1 2-2-1 0-1zM304 38l0 1-1 0 0-2zM407 10l-1 1-1-1 1-1zM362 33l-1 3-1-3 1-1zM425 108l-1 1 0-2 2-1zM403 110l-2 2-1-2 1-2zM396 74l0 2-1-1 0-3zM406 118l-1 1 0-2 1-1zM306 97l-1 2 0-2 1-1zM371 104l0 2-2-1 0-3zM354 99l-1 1-1 0 1-2zM362 102l0 1-1-1 1-1zM293 87l0 2-1-2 0-1zM374 100l-1 2-1-1 0-2zM406 96l-2 3 0-3 2-2zM420 93l-1 3-1-2 1-2zM370 42l-1 2-1-1 0-2zM296 67l-2 1 1-1zM353 81l0 2-1-2 0-2zM382 48l0 2-2 0 0-3zM398 78l-1 2-1-3 2-1zM324 73l-1 1 0-1 0-1zM299 76l-2 3 0-3 2-2zM363 24l-1 2-1-2 0-3zM377 31l0 2-1-1zM408 9l-1 2-1-1 0-2zM321 63l-1 1-1-1 1-1z"/>
<path fill="#12de32" d="M297 12l0 1-1 0 0-1 0-2 1-1 0 1zM306 14l0 1-1 0 0-1 0-2 1 1zM325 6l0 3-2 0-1-2 0-4 1-4 2 1zM403 12l-1 2 0-2 0-1 0-2 1 1zM407 9l0 2-1 0 0-1 1-2 0-1 1 0zM346 21l0 4-2 2-1-2 0-7 0-3 2 2zM355 24l-1 2-1 1-1-1 0-2 1-1 1 0zM356 21l0 1-1 0 0-2 1-2 0 1zM353 16l0 5-1 4-2-5-1-7 0-4 2 0zM341 31l0 4-2-1-1-2 0-2 1-2 2 0zM341 35l0 3-2 1-1-2 0-3 1-1 2 0zM360 28l-1 2-1 3-1-3 0-6 1-2 1 1zM361 34l0 2-1 1-1-1 0-4 0-2 1 1zM372 36l0 1-1 1 0-1 0-2 1 0zM383 35l0 4-1 0-1-1 0-3 1-1 1 0zM374 36l0 1 0 2-1-2 0-2 0-1 1 0zM387 29l0 2-1 0 0-1-1-2 1-1zM311 44l-1 2-1-1 1-1 0-1zM340 44l-3 7-2-1 1-4 2-6 2-2 0 3zM340 46l-1 3-1 1 0-1-1-3 0-3 2 1zM382 43l-1 2-1-2 1-1 1-2 0 1zM401 49l-1 4-1 3-1-4 0-6 1-4 1 3zM422 47l1 5-2 2-2-4-1-4 0-5 2 2zM429 43l0 1-1 0-1-2 1-1 0 1zM305 50l0 3-1 1-1-3 0-1 0-2 1 1zM309 58l1 5-2 0-2-3 0-3 0-3 3 2zM309 60l1 2-2 1 0-2-1-4 1-3 1 2zM345 61l-1 2-1 0 0-2-1-2 1 0 1 0zM383 50l0 1-1 1 0-2-1-2 0-1 2 0zM295 69l-1 3-1 2-2-2 0-3 0-3 2 1zM313 65l0 3-1-2 0-2 1-2zM317 66l0 3-1 3-1-4 0-4 2-4 0 3zM315 66l0 1-1 2 0-2 0-3 1-1zM308 79l-1 4-1 5-1-7-1-6 1-5 2 3zM314 84l0 2-1 1-1-1-1-3 1-3 2 0zM343 84l-1 3-1 0-1-2 1-4 1 0 1 0zM376 82l-1 2-2 1-1-3 1-3 1-1 1 0zM377 83l-1 4-1 1-1-2 0-5 0-6 2 1zM415 84l0 1-1 0-1-1 0-2 1-1 0 1zM417 73l-2 4 0-1 0-2 0-3 1-1 1 1zM430 79l0 2-1 0 0-1 0-2 1-2 0 1zM424 80l-1 1-1-1 0-1 1-1zM427 79l-1 1-1 1-1-1 0-2 1-1 1 1zM314 91l0 3-1 0-2-2 0-2 1-1 1 0zM377 89l0 3-1 0-1-1 0-2 0-1 1 0zM406 92l-1 2-1 1-1-2 1-3 1-1 1 1zM301 99l-1 5-1-1 0-5 1-5 1 2zM298 98l-1 3-1 1-1-2-1-4 2-2 1 1zM334 100l0 1 0 1-1-1 0-3 0-1 1 1zM336 103l0 1 0 2-1-2 0-1 0-2 1 1zM354 105l-1 3-2 0 0-2 0-3 1-3 1 2zM426 101l0 2-2 0-1-1 0-2 2-2 1 1zM303 108l-1 2 0 2-2-2-1-3 1-2 1 0zM318 112l-1 3-1 1-1-3 1-5 1-2 1 1zM385 110l-1 1-1 0 0-1 0-1 1-1zM382 111l-1 3-1 0-1 0 0-4 0-2 1-1zM417 112l0 5-1 0-1-3 0-4 1-2 1 2zM420 114l-1 3-2 1-1-3 0-3 1-5 1 1zM412 117l-2 7-2-1 1-5 1-4 2-4 1 2zM427 113l0 5-1 1-2-3 0-5 1-4 1 1zM422 119l1 4-1 2-2-3-1-5 0-3 2 2zM303 129l0 3-2 0-1-2 0-3 2-4 1 1zM381 128l0 2-1 1-1-1 0-3 0-1 2 1zM407 126l-1 1-1 1 0-1 0-2 1-1 0 1zM431 121l1 2-1 2-1-2-1-5 0-2 2 1zM429 123l0 1 0 1-1-1-1-2 1-2zM318 137l-1 1-1 0 0-1-1-3 1 0 1 0zM376 134l-2 8-1-2-1-2 0-7 2-2 1 2zM323 139l-1 1-1-2 2-3zM294 10l0 2-1-1 0-1zM298 3l-2 1 0-2 2-1zM431 75l-1 1-1-1 2-1zM363 113l0 1-1-1 0-1zM398 53l0 2-2-1 0-2zM353 71l-1 2-1-2 1-2zM303 34l-1 2 0-2 1-3zM392 39l0 1-1-1 0-2zM387 36l-1 1 0-1 1-1zM406 58l-1 1-1-1 1-2zM416 36l-1 2 0-2 0-1zM407 137l-1 1-1-1 1-1zM294 126l0 2-1-2 1-1zM299 73l0 1-1 0-1-1zM324 87l-1 1 0-1 1-2zM377 52l0 1-1-1 1-1zM388 55l-1 3-1-2 0-3zM418 101l0 2-1-2 1-1zM346 30l-1 0 1-1zM408 122l-1 1 0-2 1-2zM308 23l-2 2 0-2 3-2zM400 111l0 1-1-1 1-2zM314 5l-2 1 0-2 2 0zM424 128l0 1-1-2 1-1zM355 43l-1 1-1-2 2-1zM375 31l-1 2-1-1 0-3zM363 31l-1 1-1-1 1-1zM325 74l0 1-1-1 0-1z"/>
<path fill="#30f026" d="M299 10l-1 2-1-2 1-1 0-2 1 0zM332 19l0 1-1 0 0-2 0-1 1 1zM307 34l0 1-1 0 0-1 0-1zM307 33l0 4-2 0-1 0-1-6 1-4 2 1zM305 30l0 2 0 1-1-2 0-2 0-1zM395 36l0 3-1 3-2-3-1-4 2-5 1 2zM389 27l0 3-1 3-2-3 0-4 0-4 2 1zM364 39l0 2-2 1 0-2-1-4 1-1 1 0zM380 43l0 1-1 0 0-1 0-1 0-1 1 0zM381 49l0 1-1 0 0-1 0-1 1 0zM388 47l0 2-1 0 0-1 0-2 0-1 1 0zM388 38l-1 1-1 1 0-1 0-2 1 0 1 0zM429 45l0 2-1 1 0-2-1-1 1-2 0 1zM351 58l-2 1-1 2-1-3 0-4 2-4 1 2zM398 51l-1 3-1 1-1-2 0-3 1-2 1 1zM393 53l0 1-1-1 1-1zM294 61l0 2-1 1 0-1-1-3 1-1zM301 63l-1 3-1 0 0-1 1-4 0-1 2-1zM291 72l0 2-1 1-1-2 0-2 1-1 1 0zM352 68l0 1-1 1 0-1 0-2 0-1 1 0zM351 68l-1 1-1 0 0-2 0-1 2-2 0 1zM363 62l0 1-1 2 0-2 0-2 0-2 0 1zM367 69l-1 2-1-2 1-2 1-1zM392 67l0 3-1 0-1-1 0-5 2 0zM293 74l0 2-2 1 0-2-1-4 2-2 1 2zM309 76l-2 2-1 0-1-2 1-1 2-3 1 2zM312 75l0 4-2 1 0-2-1-5 1-3 2 1zM319 73l0 5-1 4-2-6-1-3 0-6 2 2zM361 79l-1 4-3 3 0-5 1-4 3-4 1 2zM381 77l0 3 0 1-1-2 0-4 1 0zM380 75l0 4-2 0-1-1 0-5 1-5 1 3zM389 77l0 1 0 1-1-1 0-2 1-2 0 1zM426 74l0 1-1 1 0-1 0-1 0-1zM432 79l0 4-2 2-1-2 1-7 1-1 1 0zM427 74l0 2-1 1-1-2 0-2 1-2 1 1zM298 86l-1 2-1 2-1-3-1-2 1-2 1 1zM292 91l0 3-1 2-1-4 0-2 1-3 1 1zM305 90l0 5-2-3 0-2 0-2 1 0zM364 91l0 3-1 1-1-3 0-2 0-2 1 1zM408 90l0 3-1 1 0-2 0-3 0-1 1 0zM422 90l-1 2-1 0 0-3 1-1 1 0zM302 105l-1 3-1 1-1-2 0-3 1-3 1-1zM302 107l0 2-1 1 0-1 0-4 0-1 1 0zM305 100l-1 4-1 0-1-3 1-1 1-2 1 1zM332 100l-3 6-2-1 0-1 2-8 1-1 1 0zM363 107l0 1 0 1-1-1 1-2zM409 107l-1 1-1 3-1-2 0-5 1-2 2 1zM297 115l0 5-2 0-1-3 0-6 1-3 2 1zM365 109l0 1 0 1-1-1 0-2 0-1 1 1zM374 115l1 6-2 1-1-4-1-6 1 0 1 0zM387 114l0 2-1 1-1-1-1-3 1-1 1-1zM401 119l0 2 0 1-1-1 0-2 0-3 1 2zM408 111l-1 3-1-2 0-3 1-1 0 1zM400 112l0 2-2 1 0-2 0-2 2-2 0 2zM411 113l-1 3-1 4-1-4 0-7 0-2 2 1zM422 116l0 4-3 0-1-2 1-3 2-4 1 2zM354 128l0 1-1 2-1-3 0-1 0-1 1 0zM364 122l-1 5-2-1 0-2 0-6 2-3 1 1zM396 129l0 2-1 0 0-1 0-2 1-1zM387 120l-1 2 0 1-1-1 0-2 1-2 0 1zM399 125l0 2-1 0-1 0-1-2 0-3 2 0zM404 128l-1 1-1 1 0-2 0-2 1-1 1 1zM420 122l0 2-1 0 0-2 0-2 1-1 1 1zM409 128l0 1-1 1-1-1 1-1 1-1zM322 138l0 2-1 0-1-1 0-2 1-1 1 1zM319 139l0 3-1 1-1-3-1-2 1-2 1 0zM355 134l-1 0 0-1 1 0zM351 141l0 4-1 1-1-3-2-2 1-2 2 1zM376 131l-2 3 0 1-1-2 0-2 1-3 1 2zM344 40l-1 2-1-2 2-2zM367 37l-1 1 0-2 1-1zM295 67l-1 1-1-1 1-2zM392 85l0 1-1-1 1-2zM400 116l-1-1 1 0zM293 19l-2 1 0-2 1-2zM427 49l-1 1-1-1 1-2zM311 64l-1 2-1-2 1-2zM404 109l-1 2 0-2 1-1zM296 33l-2 2 1-3 1-2zM373 136l0 1-1-1 0-1zM349 86l-1 1 0-1 0-1zM420 43l-2 3 0-3 0-3zM424 125l0 2-2-1 0-3zM409 141l-1 1-1-1 1-1zM416 129l-2 1-1-2 2-1zM354 30l-1 2-1-1 0-2zM372 48l-2 1 0-2 1 0zM375 88l-1 1-1-1 1-2zM405 78l-1 2-1-1 0-2zM419 84l0 1-1-1 1-1zM415 76l-1 1 0-1 1-1zM342 14l-1 1 0-1 1-1zM291 59l-1 2-1-2 2-2zM399 97l-1 1-1-1 2-2zM335 102l0 2-1-2 0-2zM355 68l1 4-2-2-1-3zM374 84l-2 1 0-1 1-1zM298 131l-1 1-1-1 1-2z"/>
<path fill="#ec161c" d="M310 2l0 3 0 1-1-2 0-2 0-2 0 1zM310 7l-1 2-1 0 0-3 1-1 1 0zM320 9l0 1-1 1 0-2 0-1 0-1 1 1zM344 5l-1 2 0-1 0-3 1 0zM422 12l0 2-1 2-1-3-1-3 0-3 2 2zM297 24l0 5-1 0-1-3-1-3 1-4 1-1zM314 25l-1 3-1 2-1-3 0-3 1-2 2 0zM324 19l0 2-1 0 0-2 0-1 1-1 0 1zM317 20l0 1-1 1 0-1 0-1 0-1 0 1zM340 16l0 2-1-1 0-1 0-2 1-1zM355 21l-1 3-2 0-1-2 0-2 1-1 2-1zM383 21l-1 2-1-1 0-2 1-1 1 0zM411 17l-1 1-1-1 0-1 1 0zM312 37l0 1-1 1-1-1-1-2 1-2 1 0zM316 36l-1 3-1 2-1-3-1-3 1-3 2 2zM350 38l0 1-1 0 0-1 0-1 1-1zM410 36l-1 3-1 0 0-1 0-4 1-1 1 1zM428 31l0 1-1-1 0-1 0-1 1 0zM291 46l0 1-1-1 0-1 1 0zM302 38l-1 1 0 1-1-1 0-2 1-2 0 1zM301 38l0 2-1 1 0-1-1-3 1-2zM305 45l0 2-1 0 0-2 0-1 1 0zM344 44l-1 2-1-1 0-1 1-1zM342 46l0 2-1 0 0-1 0-2 1-2 0 1zM351 41l0 1 0 1-1-1 0-1 0-2 1 1zM301 52l0 1-1 1 0-2 0-2 0-1 1 1zM295 56l-1 1-1 0-1-1 2-3 1-1 1 0zM305 60l-1 2-1 1 1-2 0-3 2-3 0 2zM333 55l0 3-1 0 0-1-1-2 0-1 1-1zM339 54l-1 3-1 0-1-1 0-4 1 0 1-1zM355 53l-1 1 0-1 0-1 0-1 1 0zM423 50l-1 3-1-1 0-1 1-3 0-1 1 1zM429 57l0 4-2-1 0-2 0-3 1-4 1 2zM308 64l0 3 0 2-1-3 0-3 0-2 1 0zM322 70l0 2-2 0-1-2 0-2 1-2 1 0zM341 70l0 5-2 2-1-4 0-4 1-3 1 0zM346 68l0 2-1 1-1-2 0-3 1 0zM350 72l0 3-1 1-1-3 0-2 1-2 0-1zM365 72l-1 1 0-1-1 0 1-1 1-1 0 1zM386 65l-1 4-2 1-1-3 1-6 1-3 2 1zM395 66l-1 2-1 0-1-2 0-1 1-1 1-1zM394 64l0 2-1 2-1-4 0-4 1 0 0-1zM391 63l-1 1-1 1-1-1 1-2 0-2 1 2zM415 69l0 4-2 1 0-4 0-4 1-4 1 2zM297 74l0 3-2 1-1-1-1-4 1-1 2 1zM297 79l-2 3-1 0-1-2 1-4 1-2 2 0zM305 80l-1 2 0 1 0-2 0-1 0-2 1 1zM308 78l0 2-2 2-1-2 1-4 0-3 2 1zM342 76l-1 4 0 1-1-2 0-5 1-2 0 2zM339 76l0 1 0 1-1-1 0-1 0-2 1 1zM348 73l0 2-1 0 0-1 0-2 1-1 0 1zM401 78l0 1-1 2 0-3 0-3 1-2 1 1zM404 77l-2 5-2-1-1-1 1-6 3-5 1 4zM294 96l0 1 0 1 0-1-1-2 0-1 1 0zM319 94l1 3-1 0-2 0-1-3 0-3 1 0zM346 89l0 8-2 1-1-7 0-6 2-3 1 0zM350 86l0 4-2 3 0-4 1-6 0-2 2 2zM370 88l1 2-1 1-1-1-1-3-1-3 1 0zM362 84l1 2-1 0-1-2 1-1zM421 96l0 4-1-2-1 0 0-3 0-3 1 0zM433 86l0 4-2 1-1-4-1-2 1-3 1 0zM316 101l0 1-1 0-1-2 0-1 2 1zM345 102l0 2-1 0 0-3 0-1 1 1zM411 104l1 5-2-1-1-1-1-3 0-2 2 0zM428 102l0 3-2-2 0-2 0-1 1 0zM433 98l0 6-1 2-2-3-1-7 0-5 2 3zM293 116l1 5-1 0-1-2-2-4 1-1 1-1zM347 111l-2 3-3 1 0-3 1-5 3-3 2 1zM409 111l-1 2-1 1-1-2 1-2 1 0zM412 110l0 1-1 0 0-1 0-1 0-1 1 0zM314 131l-1 2 0 1 0-2 0-2 0-1 1 0zM330 129l0 4-1 1-1-2 0-4 1-2 0 1zM350 122l-1 1 0 1-1-1 1-2 0-1zM386 123l-1 2-1 0 0-5 1-2 0 1zM396 130l0 2-1 0-1-2 0-1 1-1zM418 129l0 2-1 0-1-2 0-1 1 0zM318 134l0 6 0 2-2-3-1-8 1-2 1-1zM321 134l0 2-1 0 0-2 0-2 1 1zM327 140l0 5-1 0-1-5-1-3 2 1zM351 136l0 3-1 0 0-2 0-2 1 0zM355 141l0 4-1 4-1-6 0-5 0-2 2 2zM366 137l-1 4-2 4-1-6 0-9 2-1 1 0zM403 142l-1 3-1 3-2-4 1-6 1-3 2 1zM412 136l0 2-1 0-1 0-1-4 1-1 1-1zM371 25l-2 0 1-1 2-1zM372 73l-1 1-1-1 1-1zM319 34l-1 1-1-1 1-1zM333 94l0 2-1-1 0-1zM376 45l-1 2-1-1 1-2zM337 16l0 2-1-1 0-2zM431 9l-1 1-1-1 1-1zM295 95l-1 1-1-2 1 0zM405 119l0 2-1-1 0-2zM291 113l-1 1-1-1 1-2zM417 59l-1 2-1-1 1-3zM318 32l-2 2 0-3 2-1zM417 54l-1 2-1-2 0-2zM318 18l0 2-1-2 0-2zM310 37l-1 1 0-1 1-1zM419 32l-1 1 0-1 1-1zM321 134l-1 2-1-1 1-2zM352 33l0 2-2-2 1-2zM358 11l0 1-1-1 1-2zM314 127l0 1-2 0 0-2zM395 130l0 2-2-2 0-3zM354 25l-1 1-1-1 1-2zM396 8l-1 1 0-1 0-1zM305 138l-1 1-1-2 1-1zM301 21l-2 1 0-2 1-1zM357 128l-1 2 0-2 0-1zM299 124l-1 1 0-1 1-2zM365 114l-1 1-1-1 1-1zM329 114l0 1-1-1 0-1zM426 87l0 2-1-1 0-1zM431 12l0 1-1-2 0-1zM419 22l-1 0 0-2 1 0zM404 114l0 2-2-1 1-2z"/>
<path fill="#202ce8" d="M310 11l-1 2-1 1 0-2 0-2 0-1 1 0zM307 10l0 1-1 1 0-1 0-2 0-2 1 0zM334 2l0 2-1 0-1-1 0-1 1-1 1 0zM404 9l0 3-1 0-1-2 0-3 1-2 1 1zM407 9l-1 2-1 0 0-3 1-2 0 1zM406 13l-1 4-1 1-1-3 1-4 1-1 1-1zM425 7l-1 1 0 1-1-1 0-2 0-2 1 1zM391 21l-1 1 0 1-1-1 0-1 0-1 0-1zM426 21l-1 2-1 2-2-3 2-4 1-2 2 2zM302 48l-2 3-1 0 0-2 0-3 2-1 0 1zM309 49l-1 2-1 2 0-4 0-2 2-3 0 2zM308 48l0 1-1 1 0-1 0-2 1-1 0 1zM323 59l0 2-1-1-1-3 1-1 0 2zM394 53l0 2 0 1-1-1 0-3 0-1 1 0zM297 68l-1 4-1 0-1-1 0-5 1-1 1-1zM338 70l-1 3-1 1-1-2 1-4 1-2 1 2zM328 63l0 2-1 1 0-1 0-3 0-1 1 0zM428 79l-1 1 0 2-1-2 0-3 1 0zM361 87l0 2-1-1 0-1 0-3 1 2zM353 92l0 2 0 1-1-1 0-3 0-2 1 1zM364 86l-1 2-1 2-1-3 0-5 1-1 1 2zM407 100l-1 5-1 1-2-3 0-7 2-4 1 2zM413 99l0 3-1 0-1-1 0-4 1 0 1 0zM429 95l-1 5-1 1-1-3 0-3 1-4 1 2zM361 111l-1 4-1-1-1-1 0-4 1-2 1 0zM417 21l-1 1 0-1 0-1zM431 105l-1 3-1-2 0-3zM414 33l0 2-1-1 0-2zM331 78l0 2-1-1 1-2zM291 101l-2 2 0-2 1-2zM387 18l0 1-2-1 1-2zM296 47l-1 1-1-1 1-1zM413 17l-1 2-1-1 0-2zM363 96l0 2-1-1 0-2zM293 78l-1 1 0-1 1-1zM291 98l-1 2-1-1 1-2zM417 41l-1 2-1-2 1-2z"/>
<path fill="#2e36e2" d="M310 14l0 3-2 0 0-3 0-2 1-2 1 2zM415 8l0 2-1 3-1-2 0-5 0-3 1 0zM431 4l-1 3-1-1 1-3 1-2 1 0zM377 15l-1 2-1 1 0-2 0-2 0-1 1 1zM416 19l0 2 0 2-2-2-1-2 1-2 2 0zM424 21l-1 1-1-1 1-1 0-1 1 0zM292 48l1 5-1-1-2-1-1-5 0-3 1 1zM390 47l0 5-2 1 0-4 0-4 1-2 1-1zM293 60l0 2-1 1 0-1-1-3 1-2 1 1zM346 60l0 2-1-1 0-2 1-1zM345 66l0 2-1-1 0-1 0-1 1 0zM424 105l0 3-1 2-1-3-1-4 1-2 1 0zM332 41l-2 1 0-2 1-1zM303 18l-1 2-2-1 1-3zM425 97l0 1-1-1 0-1zM359 78l-2 1 0-1 1-1zM313 3l-1 1 0-1 0-1zM416 31l-1 1-1-2 1 0zM365 102l-2 2 1-3 2-1zM429 45l-1 1-1-1 1-2zM304 31l-1 3-1-2 1-2zM424 80l0 1-1-1 1-1zM369 135l0 2-2-1 1-2zM431 98l0 2-1-1 0-3zM328 34l-1 1 0-2 1-1z"/>
<path fill="#dc0e22" d="M307 7l-1 2-1-1 0-3 1-2 1 2zM319 8l0 3-1 1-3-1 0-3 1-3 2 1zM322 6l0 1-1 0 0-3 0-2 1 1zM342 4l-1 3-1 0 0-2 1-4 1-1 0 1zM349 8l0 1-1 1 0-2 0-1 1 0zM356 12l-1 6-1 1-1-5 0-3 1-6 2 2zM364 8l1 1-1 1-1-2 0-2 0-1 1 1zM384 3l1 4-1 0-2-3 0-4 0-3 1 2zM381 13l-1 2-1 2 0-3 0-3 1-4 1 3zM309 26l-1 2-1 1 0-2-1-3 1-2 1 0zM310 24l0 3-1-1-1-1-1-3 1-1 1 1zM306 18l0 2-1 0-1-1 1-2 0-2 1 1zM320 16l0 1-1 0 0-1 0-1 1-1 0 1zM323 22l-1 2-1 0 0-1 0-2 2 0zM341 15l0 5-1-1-1-1 0-4 0-2 1 0zM342 22l-1 1-1-1 1-1zM354 19l-1 3-1 1-1-1 0-5 1-3 1 2zM371 17l-1 3-1 1 0-3-1-1 1-2 1-1zM365 24l-1 3-1 2-1-3 0-4 1-2 1 1zM369 15l0 3-1 2-1-3 0-4 1-1 1 1zM384 19l-1 2-1 0 0-1 0-2 1-1 0 1zM385 24l0 2-1 0 0-1 0-2 1-2 0 1zM416 22l0 2-1 1 0-2 0-2 0-2 1 1zM302 29l0 3-1-1-1-1 0-3 1-2 1 1zM299 32l0 1-1 1 0-1 0-3 1-1zM351 31l-1 3-1 0 0-1 0-3 1-1 0 1zM405 31l-1 4-1 0-1-2 0-4 1-2 1-1zM407 33l0 2 0 1-1-1 0-3 1-1zM313 48l-1 5-1 5-1-6 0-7 1-5 1 3zM356 48l1 3-1 0-1-1-2-5 1-1zM355 43l0 5 0 3-2-4-1-4-1-4 2 1zM413 40l-1 6-1 0-1-4 0-6 1-3 2 3zM425 43l1 5-2 1-1-2 0-4 0-3 1 0zM302 53l-1 5-2 2-1-5 0-4 2-3 2 0zM317 61l0 3-2 2-2-2 0-10 2-3 1 4zM357 53l1 5-2 1-2-4-1-5 1-4 1 1zM373 50l0 2-1 1 0-1-1-3 1 0 1 0zM372 54l0 1-1 2-1-1-1-4 1-2 1-1zM362 55l1 2-1 0 0-1-1-2 0-2 1 1zM381 50l-1 4-1 0-1-3 1-5 1-1 1 1zM419 61l-1 6-1 0-2-5 1-4 2-5 1-1zM429 57l0 1-1 0 0-2 1-1 0 1zM299 62l-1 1 0-1 0-1 1-2 0 1zM314 67l0 3-1 1-1-2 0-3 0-3 2 1zM391 65l0 1-1 0 0-2 0-1 0 1zM297 79l-1 1-1 0 0-2 1 0zM292 80l0 3-1 0-1-2 0-2 0-2 1 1zM307 82l-1 3-1 1 0-3 1-3 0-2 1 2zM330 74l0 3-1 0-1-1 0-5 1-2 1 0zM369 82l0 1-1 1 0-2-1-1 1-1 1 0zM371 79l-1 2-1 1 0-2 0-2 1-3 1 1zM291 89l-1 1-1 0 0-3 1-1zM320 95l0 1-1 1 0-1-1-2 1-1 1 0zM348 90l-1 4-1 0-1-3 0-4 1-3 2 0zM339 96l0 1-1 1-1-2 0-2 0-1 1 0zM357 89l0 1-1 0-1 0 1-2 1 0zM358 91l0 3-1 0-1-1 0-4 1-2 1 0zM377 85l-1 5-1-1-1-2 1-6 1-2 1 1zM400 94l-1 4-1 2-1-4 0-3 1-4 1 1zM432 92l0 1-1-1 0-1 1-1zM293 106l-1 2-1 0 0-2 1-1 1-2 1 1zM348 101l1 1-1 1-1-2-1-2 1-1zM430 99l-1 2-1 1-1-2 0-2 1-2 2 0zM296 114l-1 4-1 2-1-5 1-4 1-1 2 0zM312 114l0 1-1 0 0-2 1-1 0 1zM312 112l-1 1-1 2 0-2 0-4 1-2 1 0zM330 109l-1 1-1 1 0-1 1-2 1-1zM327 113l0 3-1 0-1-2 0-3 0-4 1 0zM369 117l-1 3-1-1 0-3 1-2 1 2zM367 118l-1 2 0 1-1-2 1-2 1-1zM293 126l0 3-1-1-1-1 0-1 1-2zM311 128l0 5-2 1-1-4-1-4 2-2 1-1zM322 125l1 1-1 1-1-2 0-2 1 1zM315 129l0 2-1 1 0-2 0-2 0-1zM323 126l0 1-1 0-1-1 1-1zM351 128l-1 2-1 3-1-3 0-5 1-2 2 0zM369 126l0 2-1 1-1-2 1-2 0-2 1 0zM376 123l0 5-1 1-1-2-1-4 1-3 1 1zM300 134l-1 2 0 1-1-3 0-2 2-1zM304 136l0 2-1 1 0-2 0-2 1-1 0 1zM303 134l0 2-1 0 0-1 0-2 0-2 1 1zM332 134l0 1-1 1 0-1-1-2 1-1 1 1zM346 139l-1 2-1 1-1-3 1-3 1-2 2 0zM373 135l0 2-1 0-1 0 0-2 0-3 1 1zM382 140l0 1-1-1 0-1 1 0zM390 140l2 5-1 1-3-2-1-5-1-4 2 1zM392 140l0 4-1 1-1-2 0-7 0-3 1 1zM425 141l-1 2-1-2 1-2 1 0zM308 22l0 1-1-1 0-1zM354 44l-1 1 0-1 1-2zM417 53l-1 1-1-1 1-1zM420 129l1 1-2 0 0-2zM334 143l-1 1-1-1 1-2zM384 115l0 1-1 0 1-2zM418 42l-1 2-1-1 1-3zM384 137l0 1-1-1 0-1zM295 76l0 1-1-1 0-2zM425 71l0 3-1-1 0-3zM297 125l-2 1 0-2 2-1zM389 122l-1 2-1-2 1-1zM408 28l-1 4-2-3 2-2zM370 91l-1 2 0-3 1-2zM367 89l-1 3-1-3 1-2zM429 81l0 2-1-1 0-1zM351 69l-1 2 0-2 0-2zM328 114l0 2-1-2 0-1zM345 39l-1 2-1-2 1-1zM407 111l-1 1 0-2 1 0zM387 127l-1 1-1-1 1 0zM330 118l-1 1 0-2 1-1zM296 51l0 1-1 0 0-2zM323 124l-1 1-1-1 1-1zM371 5l-1 2-1-2 0-2zM313 3l0 1-1-1 0-2zM329 112l-1 2-1-2 1-2zM307 29l-1 1-1-1 0-2zM342 91l-1 1-1-1 0-2zM326 87l-1 1-1-1 1-1zM329 9l-1 1 0-1 0-1zM426 132l-1 1 0-1 1-1zM331 106l-1 2-1-2 2-2zM403 71l1 1-2-1 0-1zM373 69l-1 1-1-2 1-2zM304 43l-1 1-1-1 1-2z"/>
<path fill="#ec2ce2" d="M319 5l-1 1 0 1 0-2 0-2 1-2 0 1zM315 14l0 2-1 1-1-2 0-2 1-1zM342 9l0 2-1 0 0-1-1-4 1 0 1 0zM359 10l0 1-1 0 0-2 0-1 1 0zM417 9l-1 1-1-1 1-1 0-1 1 0zM420 14l-1 2-1 0-1-2 0-2 1-4 1 2zM413 2l0 2-1 1-1-1 0-2 0-2 1 1zM330 23l-1 2-2 2-1-3 1-4 2-1 1 1zM335 20l0 2-1-1 0-1 1-2zM412 20l0 6-2 1 0-3 0-7 1-3 1 2zM320 27l0 4-1 2-1-4-1-6 1-1 2 2zM398 43l0 3-1 0-1 0 0-4 1-2 1 0zM378 59l1 3-1-1-1-1 0-2 0-2 1 1zM404 52l-1 3-2 1 0-3 0-2 2-2 1 1zM424 58l-1 3-1 1 0-1 0-3 1-2 1 1zM338 71l0 4-2 2-1-4-1-3 1-4 3 2zM338 71l0 5-1 0-1-2 0-3 1-1zM375 68l-1 3 0-1-1-1 1-4 0-1 1 1zM398 69l0 3 0 1-1-1-1-2 1-3 0 1zM352 78l0 1-1 2-1-2 0-2 1-1 1 0zM364 83l0 3-2 1 0-3-1-1 1-2 1 1zM414 83l0 3-2 0-1-1 0-3 2-2 0-1zM383 89l0 2-1 0 0-1 0-2 1 0zM388 94l0 3-1 0 0-5 1-1 0 1zM411 91l0 1-1 1 0-2 0-1 1-1zM414 94l0 8-2 0-2-4 0-4 0-7 2 3zM362 98l-1 3-1 0-2-2 1-2 0-3 3 1zM360 106l0 3 0 2-1-1-1-5 0-2 1-1zM378 106l1 1-1 0-1-1 0-1 0-1 1 0zM379 106l0 3-2 2-2-3 0-4 1-2 1 2zM362 117l-1 3-1 0 0-2 0-2 1-2zM376 108l0 3 0-1-1-2 0-1 0-2 0 1zM390 109l-1 2 0 1-2-1 0-5 2-2 1-1zM389 109l-1 7-1-1-1-1-1-7 1-2 2 0zM332 122l-1 3-1 0-1-3 1-2 1-2 1 1zM337 128l-1 6-1-1-1-2-1-4 1-5 2 1zM360 129l1 2 0 2-2-3 0-2 0-2zM397 120l-1 2-1-1 1-2 0-2 1 2zM389 125l0 4-2 2-1-5 0-4 1-3 1 1zM401 127l0 6-2 2-1-4 0-5 1-2 2 0zM432 126l-1 4-1 0-1-1 1-4 2-2 0 1zM300 143l-1 1 0-1 0-1 0-1 1 1zM331 138l-1 3-1 0 0-1 0-2 2-2zM423 124l-1 1-1-1 1-2zM416 6l0 1-1-1 1-2zM330 50l0 1-1-1 1-1zM292 45l-2 0 0-1 2-1zM419 108l0 1-1-1 0-2zM399 45l0 1-1-1 0-1zM361 24l-1 0 1-2zM328 34l-1 1-1 1 0-2zM402 66l0 1-1-1 1-1zM352 133l0 1-1-1 1-1zM331 114l-3 2 0-3 2-1zM329 47l0 1-1-1 0-1z"/>
<path fill="#dc24e8" d="M324 8l0 3-1 1 0-1-1-4 1-2 1 0zM337 3l0 4-1 0-1-2-1-4 1-2 1 1zM339 14l-1 4-1-3 0-4 1 0 1-2zM377 11l0 2-1 1 0-2 0-2 0-1zM393 7l-1 2-1-1 1-1 0-1 1 0zM414 12l-1 3-1-1 1-3 0-1 1 1zM433 9l-1 3-1 0 0-2 0-2 1-1zM337 22l1 1-1 1-1-1 0-1 0-2 1 0zM391 19l-1 2-1 0 0-1 1-2 0-1 1-1zM411 26l-1 2-1-1-2-2 2-2 1-1 1 1zM316 47l1 5-1 1-2-2 0-7 1-1 1-1zM355 41l-1 1-1 1 0-2 0-3 1 0zM408 45l0 2-1-1 0-1 0-1 0 1zM362 52l-1 4-1 0-1-3 1-5 1-1 1-1zM361 57l-1 3-1 2-1-2-1-6 1-3 2 1zM378 57l0 2-1 0 0-2 1-1zM398 60l-1 3 0 1-1-2 0-4 1-4 1 1zM401 57l1 2-1 1 0-1-1-2 0-2 1 1zM401 49l1 6-1-1-2 0 0-5 1-4 0-1zM326 72l-1 3-2 0 0-2 1-3 1-1 1 1zM328 64l0 5-1-2 0-4 0-2 1 1zM334 68l-1 3 0-2 0-2 1-1 0 1zM355 68l0 3-2 0-1-1 0-3 1-1 2 0zM380 70l-2 2 0-1 0-3 1-1 1 1zM378 65l0 9-1-1-2-3-1-8 0-3 3 0zM378 72l-1 2-1-1 0-2 1-1 0 1zM408 63l0 1-1 1 0-1-1-2 0-1 1 0zM422 71l0 2-1 0-1-1 0-2 1-1 0 1zM421 64l0 2-1 2-1-2 0-3 1 0 1-1zM432 63l0 1-1 1 0-1 0-1 0-1 1 0zM328 76l-1 4-1 1 0-2 1-4 1-3 1 2zM356 76l1 5-1 3-1-4-2-5 1-2 1 0zM420 84l-1 2 0-1-1 0 1-2 0-1 1 1zM360 89l-1 1 0 1-1-2 1-1 0-1 0 1zM417 85l-1 2-1-1 0-1 1-2 0 1zM333 112l-2 7-1-1-1-2 1-9 3-4 1 2zM381 110l-1 3-1 1-1-3 0-3 1-2 1 1zM377 118l0 2-1 1 0-1 0-2 0-2 0 1zM387 110l-1 2-1 0-1-1 0-2 1-2 1 0zM398 112l0 3-1 0-1-3 1-3 1 1zM311 127l-1 1-1 2-1-2-1-5 1 0 2 0zM334 125l-1 2 0 1-2-2 0-4 1-2 1 2zM346 126l0 3-1 2-1-2 0-4 1-2 1 1zM360 128l-1 6-1-1-2-3 1-3 1-5 1 0zM360 119l-2 5-1 3-1-6 0-3 2-2 1 1zM403 123l-1 4-1 1-1-2 1-4 1-2 1 1zM400 122l-1 2-1 0 0-1 0-1 0-1 1 0zM425 121l0 2-1 1 0-2 0-2 0-1 0 1zM333 143l-1 4-1 2-2-5 1-3 2-4 1 0zM337 137l-2 5-1 0-1-2 1-4 1-3 1 2zM329 134l0 4-1 4-2-4 0-7 0-2 2-1zM344 133l-1 6-2 3-1-6 0-7 1-3 2 2zM295 71l-1 1-1-2 2-2zM405 121l0 1-1-1 0-2zM361 48l-1 1-1-1 1-1zM345 7l1 2-2-1 0-2zM332 13l-1 1 0-2 1-1zM338 125l-1 1-1-1 0-1zM392 122l0 2-1-2 1-1zM331 119l0 2-1-2 1-2zM327 72l-1 1 0-1 1-1zM413 122l0 1-1-1 0-1z"/>
<path fill="#fa36dc" d="M336 12l0 5-1 1-2-3 0-5 1-1 1-1zM344 11l1 4 1 4-4-5-1-3-1-5 2 0zM352 9l-1 1-1 0 0-1 1-2 1-1 0 1zM350 10l0 2-1 1 0-1 0-3 0-2 1 0zM380 8l0 1-1 0 0-1-1-1 1 0zM327 21l-1 2-1-1 0-2 1-2 1 1zM340 16l-1 3-2-1-1-1 1-3 1-1 1 1zM390 21l2 4-2 0-1-2-1-3-1-2 2 1zM393 26l0 2-1 1-1-2 1-2 1-3 0 1zM358 30l0 2-1 0 0-1 0-2 1-2 0 1zM352 45l0 3-1 0 0-1 0-2 1-2 0 1zM354 45l1 7-1 3-2-6-1-4 0-4 1 0zM404 41l-1 2-1 2-1-3-1-3 2-2 2 0zM406 45l-1 9-1 1-1-5 0-7 2-5 1 2zM355 55l1 4-2 0-1-2 0-6 1-1zM359 55l0 2-1 1-1-1 0-4 0-4 2 1zM379 50l0 2-1-1 0-2 0-1 1 0zM374 55l1 2-1 1-2-2 0-3 0-2 2 1zM428 50l0 2-1 0 0-1 0-1 1-1zM424 51l0 2-1 1-1-3 0-1 1-3 1 1zM295 63l0 4-2 0 0-2 0-3 1-3 2 1zM328 62l0 4-2 2-1-2 0-3 0-4 1 2zM327 67l0 7-2 2-2-6 0-6 2-4 2 2zM356 66l0 2 0 1-2-1 0-3 1-2 0 1zM405 68l-1 4 0-1-1-1 1-4 1-2 0 1zM404 66l-1 1-1 1-1-1 0-2 1-1 1 0zM351 78l-1 7-1 3-2-3 1-11 1-3 2 3zM372 75l0 2-1 0 0-1 0-1 1-1zM419 73l-1 2-1-1 0-3 1 0zM417 90l0 2-2 0-1-1 0-4 1-2 1 1zM353 108l0 2-1 1-1-1 0-4 1-1 1 0zM357 100l0 3-1-1 0-1 0-2 1-2 1 1zM383 102l-1 3-2 1-1-2 0-4 2-2 1 1zM360 116l0 1-1 1 0-1 0-3 1-1zM396 110l0 3-1 1-1-1-1-3 0-3 2 1zM341 130l1 5-2 1-1-2-1-8 0-4 2 2zM344 125l0 3-1 1-1-1 0-4 1-2 1 1zM396 123l-1 1-1 1 0-2 0-1 1-1 1 1zM414 124l0 2-1 0-1-1 0-1 0-2 1 0zM414 128l0 2-1 0 0-1 0-2 1-1zM418 131l0 2-1 0-1-1 0-3 0-1 1 1zM429 125l0 4-1 2-2 0-1-10 2-3 1 0zM430 131l-1 3-1 1-1-2 1-4 1-3 1 2zM343 132l1 5-1 2-2-5-1-5 1-4 1 3zM338 141l0 1 0 1-1-1 0-1 0-1 1 0zM347 136l0 2-1 0 0-1 0-2 1-1 1 0zM350 135l0 6-2 2-1-6-1-5 1-7 2 1zM328 48l0 2-1-2 1-1zM383 47l-1 2-2-2 1-1zM357 129l-1 1 0-1 1-1zM384 85l-1 1 0-2 1-1zM358 91l-1 1-1-1 1-1zM292 104l-1 2 0-2 1-2zM416 12l0 2-2-1 1-2zM331 135l-1 2 0-2 0-1zM407 46l-1 1 0-1 0-3zM334 119l-1 2-2-1 1-4zM333 125l0 1-2-1 2-2zM388 58l0 2-1-2 0-2zM359 28l-1 1-1-1 1-1zM411 124l-1 0-1 0 1-2zM353 92l-1 2 0-3 1-2zM356 79l-1 1-1-2 1-2zM336 142l0 2-2-1 0-3zM408 70l-1 2 0-3 1-1z"/>
<path fill="#fa2016" d="M336 11l1 3-1 0-1-2-1-2 1-2 1 1zM329 5l-1 3 0-1-1-1 1-1 1-2 0 1zM359 10l-2 4-1 2-1-3 0-7 2-1 1-1zM367 7l1 6-2-1-1-1-1-6 2-5 1 1zM368 9l0 1-1 1 0-2-1-1 1-1zM364 12l-1 1 0 1-1-1 1-2 0-1 1 1zM382 11l0 2-1 0 0-1 0-2 1-1zM382 4l-1 3-1 4-1-6-2-4 1-6 2 4zM421 5l0 5-1-1-1-1 0-4 0-1 1 1zM433 9l-2 3-1 1-1-2 0-5 1-3 2 2zM421 5l0 2-1 0 0-1-1-3 1 0 1 0zM426 7l-1 2-1-1 1-2 0-1 1 1zM298 20l0 1-1 1-1-2 0-1 1-1 1 1zM296 26l0 2-1 0 0-2 1-1 0-1 1 0zM354 23l0 1-1 1 0-2-1-1 1-2 0 1zM385 21l-1 1 0-1 0-1 0-1 1 1zM418 20l-1 3-1 1-1-2 0-3 0-2 1 1zM409 17l2 3-2 0 0-1-2-4-1-1 2 0zM424 22l0 1-1 1-1-1 0-2 1-2 1 0zM299 28l-1 1 0 1-1-1 0-2 1 0zM295 31l0 2 0 1-1-2 0-2 1 0zM318 32l0 1-1 2 0-2-1-3 1-1 0 1zM360 33l-1 4-2 1 0-4 1-4 0-1 2 1zM375 36l0 3 0-1-1-1 0-1 0-2 1 0zM296 39l-1 2-1 1-1-3 1-3 1-2 0 1zM292 42l0 1 0 1-1-1 0-3 1-1zM313 49l-1 2-1 2-1-4-1-2 2-3 1 1zM357 43l0 3-1 2-1-3-1-5 1-2 2 0zM406 47l-2 5-1 3-1-5 1-3 1-7 1 3zM291 60l0 1-1 0 0-1-1-1 1-1zM297 60l0 5-1 2-2-5 0-4 1-2 1 0zM324 57l0 4 0 2-2 0-1-5-1-2 2 1zM335 55l-1 2-1 0 0-2 0-2 1-1 1 0zM336 53l0 1-2 0 0-1 0-1 0-1 1 0zM349 60l-1 2-1 0 0-1 0-2 0-1 2 0zM343 55l-2 4-1 2-1-3 1-5 1-6 2 1zM355 50l0 3-1 0-1-2-1-3 1-2 1-1zM365 56l-1 1 0 1-1-1-1-2 1-1zM384 62l-1 2-1 1 0-4 0-2 1-4 1 0zM338 67l0 1-1 1 0-2 0-1 1 0zM340 65l-1 1 0 1-1-1 0-1 1-2 1 1zM392 60l0 6-1 0-2-2-1-4 1-2 1-2zM422 71l0 2-1 1 0-2 0-2 0-1 1 1zM429 64l0 2-1 1-1-1 1-3 1 0zM426 65l0 2-1 1-1-2 0-2 1-2 1 0zM315 75l0 2-1 1 0-1 0-2 0-1 1 0zM358 84l-1 6-1-1-1-3 0-9 1-2 2 0zM301 95l-1 1 0 1-1-1 1-1 0-2 1 1zM305 85l0 1-1 1-1-1 1-2 1 0zM309 87l-1 4-2-1 0-1 0-5 1-3 2 2zM318 95l-1 2-1 1 0-1-1-3 1-1 1 1zM325 89l-1 3-1 1 0-3 0-1 1-2 1 1zM342 90l-2 4-1 0 0-2 1-5 2 0 0 1zM340 92l0 3-1 2-2-3 0-5 1-1 1 0zM339 84l1 5-1 1-2-4-1-3 0-3 2 1zM345 89l0 2-1 2 0-2 0-3 1-1zM362 89l-1 2-1 0-1 0 0-4 1-1 1 0zM363 89l-1 3-1-1-2-1 0-2 1-2 2 0zM383 95l0 2-1 0 0-1-1-3 0-3 1 1zM379 89l0 2-1-1 0-2 1 0zM402 96l0 2-1 0-2 0 0-5 1-1 1 0zM406 94l0 4-1 0-1-1-1-7 1-1 1 1zM314 107l-1 1 0 2-2-2 0-3 1-2 1 0zM319 107l-1 1 0 1-1-2 1-2 0-1 1 1zM345 107l0 1-1 0 0-2 1 0zM351 97l-1 3-1 0 0-2 0-2 1-3 1-1zM353 104l-1 4-2 2-1-4 0-3 2-3 1 1zM403 101l-1 3-1-1-1-2 1-2 1-1zM414 100l0 1-1 1 0-1 0-2 0-1 1 0zM312 115l-1 4-2 0-1-3 1-4 1 0 2 0zM313 117l0 4-1 0-1-2 0-4 0-2 2 2zM330 113l2 5-1 1-2-2-2-6 1-3zM351 109l-1 4-2 0 0-2 1-3 1-1 1 0zM357 114l-2 2-1 1 0-2 1-3 1-1 1 1zM367 118l-1 4-3 4 0-6 2-6 2-2 1 3zM418 110l0 1-1 1-1-2 1-1 1-2 0 1zM415 109l-1 7-2-1-1-3 0-6 2-4 1 2zM425 115l0 3-1-1-1-1 1-3 0-1 1 0zM302 122l-1 1-1 0 1-2 0-1 1 1zM294 129l-1 2-1-1 0-1 1-1zM300 125l-1 3-1 1 0-2 0-3 1-2 1 1zM331 127l1 1-1 0 0-1-1-2 0-1 1 1zM347 120l0 2-1-1 0-1 0-2 1 1zM384 126l-1 1 0 2-1-2 0-4 1-1 0 1zM402 121l0 2-1-1 0-2 0-1 1 1zM419 131l-1 2-1 0 0-4 1 0 1 0zM431 129l0 3-1 0-1-1-1-3 0-2 1 0zM367 133l1 4-3 1-1-4 0-4 2-2 1 1zM388 133l-1 5-2 1 0-4 0-3 1-3 1 0zM395 140l0 3-2 1-1-3 0-2 2-3 1 0zM396 136l0 1-1-1 0-1 0-1 1 1zM390 142l-1 1-1 2 0-5 1-2zM394 141l0 1-1-2 1-1 0 1zM407 135l0 4-2 1-2-3 0-5 1-3 2 0zM291 80l-1 1 0-1 1-1zM365 23l0 1-1-1 1-1zM393 138l0 1-1-1 1-1zM387 125l-2 0 2-1zM401 103l-1 1-1-1 2-1zM371 93l-1 2-1-2 1-2zM358 43l-1 2 0-3 1-2zM378 31l-1 1-1-1 1-1zM316 27l-2 2-1-2 1-2zM376 96l-1 2-1-1 0-3zM380 91l-1 1-1-1 1-1zM328 66l-1 1 0-1 0-1zM326 25l0 2-2-1 1-2zM333 75l-1 2-1-2 1-2zM416 68l-1 1 0-1 1-1zM336 82l0 2-1-1 0-3zM302 61l-1 0 0-1 1-1zM402 24l0 1-1-1zM417 118l0 1-2-1 0-3zM360 78l0 1-1 0zM324 70l0 1-1-1 1-1zM358 112l0 2-2-1 1-2zM308 138l0 1-1-1 1-1z"/>
<path fill="#9634ec" d="M336 3l1 6-2 1-2-3-1-3 0-4 2 1zM316 32l0 5-2 1-1-2 0-4 1-3 1 1zM402 36l-1 3-1 0 0-2 0-2 1-1 1 0zM400 35l-1 4-1 0-2-3 1-5 1-2 2 0zM389 48l0 2-1 1 0-2 0-2zM390 45l0 2-1 1-2-1 0-4 1-2 1 1zM393 54l0 2-2 3-1-5 0-4 1-1 2 0zM335 105l0 4-1 0-1-3 0-2 0-4 1 3zM339 96l-1 2-1-1 0-1 0-2 1 1zM342 119l-1 3-1 0 0-1-1-4 1-3 1 1zM296 139l0 2-1 1-2-2 0-2 1-2 1 1zM292 139l-2 7-1 0-1-4 1-4 0-2 2 1zM302 135l-1 6-2 3-1-6 0-3 2-3 1 0zM314 137l-1 2-1-2 2-2zM292 139l-1 1-1-1 1-1zM381 127l-2 1 0-2 1 0zM332 41l-1 2-1-2 1-2zM427 139l-1 0 0-1 1-1zM303 66l-1 2-1-1 0-2zM297 139l-1 2-1-2 1-2z"/>
<path fill="#dcda2a" d="M360 14l-1 3-2 1 0-3 0-3 2-3 1-1zM395 11l0 1-1 0-1 0 0-3 1-1 1 0zM401 26l0 3-1 1-1-2 0-4 0-2 1 0zM402 22l0 1-1 0 0-1 0-1 1 0zM316 53l-1 2-1 2-1-2 0-5 2-1 0 1zM329 75l0 1-1 1-1-2 0-1 0-1 1 0zM401 85l0 2-1 2-1-3-1-3 1-4 2 1zM395 91l-1 2-1-2 1-2zM378 39l0 2-1-1 0-2zM425 93l-1 1 0-1 1-1zM420 4l0 3-2-1 1-2z"/>
<path fill="#1cdaf2" d="M356 13l0 1-1 0 0-1 1-1zM393 12l-1 5-2 0 0-3 0-2 1-2 2 0zM432 24l-1 2-2 2 0-4 1-3 2-3 1 2zM429 21l0 4 0 1-2-3-1-4 0-1 1-2zM430 16l0 3-1-1 0-1 0-1 0-2 1 1zM340 33l0 3 0 2-1-2-1-3 1-2 0 1zM303 59l0 1-1 0-1-1 0-1 1 0zM308 66l-1 4-1 3-1-3 1-6 1-3 1 0zM333 75l-1 2 0 1-1-2 0-2 1-1zM327 84l-1 3-2 2 0-4 1-3 1-4 1 1zM342 76l0 5-2 2-1-3 0-4 1-4 2 1zM395 105l0 1-2 1 0-2 0-2 0-2 1 0zM348 110l-1 3 0 2-1-2 0-3 0-4 1 1zM350 118l0 2-1 1-1-1 0-2 0-1 1 0zM387 112l-1 2-2 0 0-1 1-3 1-4 1 2zM362 131l0 2-1 0 0-2 0-1 1-3 1 1zM369 126l1 2-1 2-2-3 0-2-1-3 2 1zM380 133l-1 2 0 1-1-1 0-2 0-3 1 1zM375 132l-1 3-1-1-1 0 1-3 1-1 1 1zM292 132l-1 2-1-2 1-2zM422 65l-1 2-1-2 1-3zM374 140l-1 1-1-2 1-1zM328 89l0 1-1 0 0-1zM353 123l-1 1-1-1 1-1zM423 59l-1 2 0-2 1-2zM432 134l0 2-1-1 0-2zM323 104l-1 1-1-1 0-2zM299 80l0 1-1-1 1-1zM388 111l0 1-2-1 0-2zM346 39l0 2-1-2 1-1zM338 82l-1 2 0-2 1-2zM305 64l-1 1-1-1 1 0zM323 126l-1 2-1-2 1-2z"/>
<path fill="#ece224" d="M390 11l0 1-1 0-1-1 0-2 1-1 1 0zM388 8l1 4-2 1-1-3-1-4 1-5 1 3zM397 14l-1 3-1 2-1-3 1-5 0-1 1 1zM404 16l-1 2-1 0 0-4 1 0zM402 20l0 2-1 0-1-1 0-3 1-1 1 1zM403 20l0 2-1-1 0-1 0-1zM401 82l-1 4-1 0 0-2 0-4 1-2 0 2zM404 84l0 3-1 1 0-3-1-2 1-1 0-1zM400 72l0 4-1 1 0-1-1-5 1-1zM310 121l0 3-1 0 0-1-1-3 1-2zM390 71l0 3-2-2 0-3zM428 22l-2 1 0-2 1-1zM355 102l0 2-1-2 1-1zM379 128l-1 2-1-1 1-3zM399 15l-1 1-1-1 0-2zM322 61l0 2-2-1-1-3zM392 70l-2 2 0-2 1-1zM309 3l1 3-3-2 0-3z"/>
<path fill="#1024ee" d="M389 8l-1 2-1 1-1-1 0-3 1-1 1 0zM399 14l-1 5 0 3-2-5-1-7 1-2 0-1zM408 6l-1 3-1 0 0-1 0-5 1-1 1 1zM416 13l0 4-2 3-1-4-1-7 1-2 2 1zM391 21l-1 2-1 5-1-4-2-6 1-5 1 1zM340 27l0 2-2 2 0-3 1-4 1-3 1 2zM410 29l0 2-1 1-1-2 0-2 1-2 0 1zM345 50l-1 1-1 1 0-2 0-2 1-2 1 1zM393 56l-1 4-2 0-1-3 1-3 1-3 0 1zM320 77l0 1-1 1-1 0 0-3 0-2 1 0zM418 99l-1 5-1 0-2-4 0-4 2-3 1 2zM424 102l0 2-1 0 0-1 0-1 0-2 1 1zM354 112l0 3-1 0 0-1-1-4 1-1 0 1zM358 112l0 2 0 1-1-2-1-2 1 0zM367 80l-1 1-1-1 1-1zM404 71l-1 1 0-2 1-1zM428 72l-1 1-1 0 0-2zM414 18l-1 1-1-1 1-1zM419 99l0 1-1-1 0-2zM428 121l-1 1-1-2 2 0zM330 28l0 2-1-1 0-2zM408 90l-2 2 0-2 2-2zM313 110l0 2-1-1 0-3zM315 63l-1 3-1-2 1-3zM415 25l-1 1-1-1 1-1zM311 43l-2 1 0-1 1-1zM324 42l-1 1 0-1 0-1zM432 88l0 2-1-2 1-2zM369 98l-1 1 0-1 0-1zM396 77l-1 2-1-2 1-2zM430 58l-1 2-1-1 1-3z"/>
<path fill="#e6369c" d="M298 17l-1 2 0 1-1-2-1-4 1-3 1 2zM381 69l0 2-1 0 0-1-1-3 1-2 1 1zM329 128l0 1-1 1 0-3 0-2 1 0 0-1zM375 127l0 5-1 4-1-5-2-7 1-1 1-2zM376 130l0 2-2-1 1-2zM317 118l0 2-1-2 0-1z"/>
<path fill="#faec1e" d="M339 21l0 2-1 0-1-2 1-2 0-2 1 1zM343 21l0 4-1 0-1 0-2-5 0-5 1 1zM398 74l0 4-1-1-1-1 0-3 1-1zM352 133l0 3-1 1-1-2 0-3 1-1 1-1zM401 77l-2 1 0-2 1 0zM403 76l-1 2-1-2 1-1zM369 87l-1 1-1-1 1-1zM313 82l-1 1-1-2 1 0zM384 94l0 1-1-1 0-1zM301 35l-1 2-1-1 1-3zM365 113l-1 2-1-2 2-2zM401 126l-1-1 1 0zM330 137l0 1-1-1 0-2z"/>
<path fill="#ea6824" d="M372 22l0 1-1 0-1 0 1-2zM296 80l-1 2-1 1 0-2 0-1 1-1 1 0zM291 86l-1 1-1 1 0-1 1-3 1 0zM308 90l-1 3-1 0-1-3 0-2 1-2 1 1zM303 100l-1 3-1-1 1-4 1-2 0 2zM304 100l-1 2-1-1 1-2 1-2 0 1zM310 104l0 3 0 1-1-2-1-2 1-2 1 0zM316 103l-1 5-1 1-1-2 0-4 1-3 1 0zM325 101l-1 1-1 1 0-2 0-2 1-1 1 0zM313 139l0 2-1 0-1-1 0-3 1-2 1 2zM307 137l0 2-1 0 0-1 1-2 0-1zM309 141l0 2-1 0 0-1 1-2 0-1 1-1zM324 113l-1 2-1-2 1-1zM372 62l-1 1 0-1 1-1zM428 80l-1 2-2-2 2-3zM376 110l-1 2-1-1 0-2zM312 86l-2 1 1-1 2-1zM323 112l-1 1-1-1 1-1z"/>
<path fill="#862cf2" d="M386 24l0 3-1 1-1-1 0-3 1-2 1 0zM392 23l0 1-1-1 0-1 0-1 1 0zM409 31l-1 6-1 0-1-3 0-5 2-3 1 1zM338 49l-1 2-1 1 0-2 0-2 1-1 1 0zM295 118l0 6-2 0-1-3 1-6 1-4 1 0zM336 112l-1 0 0 1 0-1 0-1 0-1 1 0zM333 111l-1 6-1 2-2-5 0-4 2-4 1 4zM338 110l0 3-1 1-1-3 0-3 1-5 1 2zM346 109l-1 2-2 0-1-1 1-3 0-1 2-1zM305 124l1 6-1 0-1-2-1-5 0-4 2 3zM297 140l-1 2-1 1-1-1 0-4 1-1 1 0zM396 100l-2 2-1-2 2-2zM330 91l0 2-2-2 1-1zM388 26l-1 3 0-2 0-2zM335 52l-2 1 1-2 1-1zM291 141l-1 1-1-1 1-1zM395 20l-1 1-1-2 1-1zM342 131l-1 2-1-1 1-2zM374 58l-1 1 0-2 1-1zM293 80l-1 1 0-1 1-1z"/>
<path fill="#f6a8c4" d="M400 23l0 2-2 2-1-3 0-2 1-3 1 1zM394 94l0 2-1-2 0-1 0-2 0 1zM415 92l0 4-2 1 0-3 0-3 1-2 1 1zM413 89l-1 1 0-1zM404 90l-1 1 0-2 1-1z"/>
<path fill="#3aece6" d="M430 22l0 3-1-1 0-3 0-3 1-2 0 2zM310 28l0 1-1 1-1-2 1-2 0-1 1 0zM430 51l0 2-1 1-1-2-1-1 2-2 1 1zM307 67l0 1-1 1-1-1 0-3 0-1 2 0zM344 76l1 2-2 0-1-1-1-2 1-1 1 0zM340 82l0 1-1 0 0-2 0-1 1 1zM331 96l0 1-1 1-1-1 0-2 0-2 1 1zM339 98l-1 3-1 1 0-2 0-4 1-1 1 0zM388 98l0 2-1-1 0-3 0-1 1 1zM393 101l-1 3-1-1 1-2 0-2 1-1 0 1zM395 103l0 2-1 0-1-1 1-1 0-1 0 1zM414 101l0 4 0 2-2-2-1-6 1-1 1 0zM349 119l-1 4-1 0 0-2 0-5 1-2 0 1zM347 125l0 2-1 1 0-1 0-3 0-1zM373 121l0 2-1 0 0-1 0-1 0-1 1 0zM373 127l-1 5-1-1-1-1-1-3 1-2 2 0zM328 136l0 6-2 0-1-3-1-4 1-2 2-1zM341 141l-1 2-1 1-1-1 1-4 1-1 1 0zM357 138l-1 4-1-1-1-1 0-4 1-3 2 2zM369 141l-1 3-1 0-2-2 1-6 1-1 2 0zM382 137l-1 2 0-1-1-1 1-2 1 0zM377 137l0 2 0 3-2-3 0-3 1-2 0-1zM405 138l0 5-2 2-1-2 0-6 1-2 1 1zM403 135l-1-1 1 0zM421 135l-1 1 0-1 1-1zM378 90l-1 1 0-1 0-1z"/>
<path fill="#2ce2ec" d="M307 30l0 2-1 3-1-3-1-3 1-2 1 0zM313 36l-2 3-1 2-1-4 1-3 2-3 1 1zM316 27l1 6-2-1-1-1 0-6 0-4 1 1zM432 39l0 5-1-1-1-2-2-4 1-2 1-1zM430 48l0 1-1 0 0-1 0-1 0-1 1 1zM296 55l0 1-1 1-1-1 0-2 1 0zM311 54l-1 4-2 0 0-2 1-5 1-3 1 3zM308 65l0 2-1 0 0-2 0-2 0-2 1 1zM318 78l0 2-1 2-1-2-1-4 0-5 1 2zM330 79l-2 5-2 1 0-5 1-3 2-4 1 3zM333 78l-2 5-1-2 0-3 2-5 0 2zM343 105l-1 1-1 2-1-2 0-3 2-1 0 1zM340 100l-1 3-1 0 0-2 0-3 1-3 1 2zM345 114l-1 2 0-2 0-2 1-1 0 1zM340 129l-1 4 0 1-1-2 0-5 1-1 1-1zM355 134l0 3 0 3-1-2-1-4 0-3 2 1zM373 139l0 2-1 0-1-1 0-3 0-2 1 0zM367 135l0 1 0 1-1-1 0-2 1-1 1 0zM374 141l1 3-2 0-2-1-1-3 1-1 2 0zM404 132l-1 1-1 0 0-1-1-2 1 0 1 0zM403 134l0 1 0 1-1-1 0-2 1 0zM401 136l-1 2-1 2-1-3 1-3 0-4 2 3zM373 52l-1 2-1-2 1-2zM428 51l-1 1 0-1 1-1zM387 11l-1 1-1-2 1-1zM382 91l-1 0-1-1 1-1zM319 25l-1 2-1-2 0-2zM307 57l-2 2 0-2 2-4zM356 7l0 2-1-1 0-1zM370 25l-2 1-1-2 2-2zM309 62l-1 2-1-2 0-2z"/>
<path fill="#4aa0ef" d="M389 28l0 2-1-1-1-2 1-2 0 1zM319 69l-2 3-2 2 0-4 2-5 1-3 1 2zM394 98l-1 1-1 1-1-1 1-5 1-3 1 2zM299 118l0 2-2 3-1-2-1-4 0-2 3 0zM321 16l0 1-2 0 0-3zM397 43l-1 1-1-1 1-2zM402 99l-1 1-1-2 1-1zM338 52l-2 1 0-1 2-2zM349 134l-1 1 0-2 1 0zM306 37l0 2-1-2 1-1z"/>
<path fill="#3c96f5" d="M395 33l-1 3 0 3-2-3-1-5 1-4 2 1zM393 37l-1 3-1-1 0-4 1-2 1 1zM388 36l-1 2-1 1 0-3 1-2 2-2 0 1zM397 46l-1 4-1 0 0-1 0-5 1-1 1-1zM329 92l0 4-1 2-2-5 0-4 0-4 2 0zM338 103l-1 3 0 2-1-4-1-3 1-4 1 2zM337 92l-1 1 0-1 1-2zM293 113l-1 2-1-2 1-1zM388 27l-1 1 0-2 1 0zM421 57l-2 2 0-2 1-1zM420 85l-1 0-1-1 1-1zM316 57l0 1-1-1 1-1zM308 68l-1 2-1-1 1-2zM303 56l-1 1-1-1 1-1z"/>
<path fill="#e6a0ca" d="M401 35l-1 2-1 1 0-1-1-3 1-2 1 2zM389 92l0 1-1 1 0-2 0-1 1-1 0 1zM411 94l-1 1-1-1 1-2 0 1zM420 93l0 3-1 0-1-1 1-3 0-2 1 1z"/>
<path fill="#a43ee6" d="M399 35l-1 2-1 2-1-2 1-4 1-3 1 0zM395 57l0 8-2-2-1-3-1-10 1-3 2 5zM326 62l0 2-1 1-1-1 0-3 1 0 1 0zM423 69l-1 3-1 0 0-3 0-2 1-2zM332 93l0 2-1 1 0-2 0-3 0-1 1 1zM338 87l-1 3-1 0-2-2 1-3 1-2 2 0zM297 137l-1 4-1 0-1-1 0-5 1-1 1 1zM372 125l0 3-2-3 1-1zM298 119l-1 1-1-1 1-1zM324 50l-1 1-1-1 1-2zM391 113l-1 1 0-1 0-1zM333 33l-1 2 0-3 1 0zM388 57l-2 2 0-2 2-2zM425 17l-1 2-1-2 0-1zM329 110l-1 2-1-3 1-2z"/>
<path fill="#ff7a18" d="M311 46l-1 2 0 1-1-2 0-2 0-2 2 0zM379 44l-1 1-1 0 1-3 0-1 1 1zM313 89l-2 3-1 2-1-4 0-4 2-2 1 0zM311 113l-1 1 0 1-1-1 0-2 1-1 1 0zM314 119l0 2-1 1 0-3 0-1 1-2 0 1zM295 127l0 1-1 0 0-2 0-1 1 1zM315 126l0 2-2 0-1-2 1-1 1-2 1 0zM312 133l0 5-1 1-2-4 0-3 0-4 1 1zM306 132l-1 4-1 1 0-3 0-3 1-1 0 1zM315 131l0 2-1 1-1-2 0-1 1-2 1 1zM325 138l0 2-1 1 0-2 0-2 1 0zM319 99l0 1-1-1 1-2zM292 131l-1 1-1-1 1-1zM355 81l-1 2-1-2 1-2zM305 67l-1 0-1-1 2-1zM344 16l-1 2-1-2 1-2zM315 114l-1 2-1-2 2-2zM316 112l-1 1 0-2 1-1z"/>
<path fill="#f63e96" d="M343 61l0 3-1 0 0-2 0-2 0-1 1 0zM396 101l0 2-1 0 0-1 0-2 1-1zM385 130l-1 4-1 2-1-2 0-5 1-4 2 3zM380 122l-1 3-1 3-1-4 0-3 2-6 0 4zM423 142l-1 2-1-2 1-2zM300 70l-1 1 0-2 1-2z"/>
<path fill="#ffb2be" d="M382 63l-1 6-2 1 0-3 1-9 1 0 1 1zM387 86l0 1-1-1 0-1 1-1zM392 94l-1 8-1-1-2-5 0-4 1-3 1 0zM403 88l-1 1-1 0 0-1 0-1 1-2 0 1zM394 101l0 3-2 1-1-2 0-2 0-2 2 0zM389 98l0 1-1 1-1-2 0-2 1-1 1 0zM388 104l-1 2 0-2 0-1z"/>
<path fill="#fa701e" d="M291 87l-1 2-1 0 0-2 0-2 1-1 1 0zM304 94l-1 3-1-1 0-1 0-2 1-2 1 1zM307 105l0 2-1 0 0-1 0-2 0-1 1 1zM303 114l0 3-1 2-2-4 0-3 1-1 2 0zM298 129l0 7-1-1-1-2-1-4 1-6 1 3zM335 31l0 1-1-1zM313 112l1 1-2-1 1-1zM324 85l1 2-2-1 0-2zM318 125l0 2-1-2 0-1zM411 138l0 2-2-1 1-1zM346 28l-1 0-1-1 2-1zM294 123l0 2-1-2 1-1zM317 89l-1 0 0-2z"/>
<path fill="#2c8efb" d="M327 94l-1 2-1-1 1-2 0-1zM326 94l0 2-1 0-1-1 1-1 0-1 1 0zM339 90l-1 3-2 1-1-2 0-5 1-2 2 1zM336 104l-2 6-1 0 0-3 1-5 1-1 1 1zM335 100l-1 4-1 0-1-3 0-2 1-2 2 0zM308 130l-1 1 0 2-1-2 0-4 1 0zM400 142l0 3-2 1 0-2-1-2 1-2 1-1zM374 13l-1 1-1-1 1-1zM321 23l0 2-2-1 1-2zM392 119l0 2-1-2 0-1z"/>
<path fill="#ff4890" d="M329 127l0 2-1-1 0-2 0-1 1 1zM380 124l0 1-1 1 0-1-1-2 1-2 0 1zM292 117l-1 1-2-1 1-2zM338 60l-2 2 0-3 2 0zM293 90l-1 2 0-1 0-2zM403 101l-1 1 0-2 1 0zM297 131l-1 0 0-1zM332 23l-1 1 0-1 0-2z"/>
<path fill="#aaf028" d="M338 87l-1 2-1-2 1-1zM357 126l1 2-1 0-2-2zM424 20l-1 2-1-2 0-2zM362 19l-1 1-1-1 1-2zM324 105l-2 2 0-2 2-1z"/>
<path fill="#9ae82e" d="M370 56l-2 2 0-3 2-2zM335 143l-1 0 0-1 1-1zM417 140l0 3-1-3 1-2zM421 25l-1 3-1-2 0-2zM341 81l-1 2-1-2 2-3zM343 102l0 2-2-2 2-2z"/>
<path fill="#b8fa22" d="M311 67l-2 2 0-2 2-1zM383 105l-1 3-1-2 1-2zM407 58l-1 2 0-1 0-1zM431 74l-2 1 0-1 2-2zM315 73l-2 1 0-2 2-1z"/>
</g></g>
<clipPath id="clip_d"><rect x="5.9" y="187.8" width="141.10" height="140.40"/></clipPath>
<g clip-path="url(#clip_d)"><g filter="url(#soft)">
<path fill="#ec161c" d="M6 188l12 0 0 12-12 0zM41 188l12 0 0 12-12 0zM53 188l12 0 0 12-12 0zM65 188l12 0 0 12-12 0zM76 188l13 0 0 12-13 0zM88 188l12 0 0 12-12 0zM100 188l12 0 0 12-12 0zM112 188l12 0 0 12-12 0zM123 188l13 0 0 12-13 0zM135 188l12 0 0 12-12 0zM6 200l12 0 0 12-12 0zM18 200l12 0 0 12-12 0zM29 200l13 0 0 12-13 0zM41 200l12 0 0 12-12 0zM53 200l12 0 0 12-12 0zM65 200l12 0 0 12-12 0zM76 200l13 0 0 12-13 0zM88 200l12 0 0 12-12 0zM100 200l12 0 0 12-12 0zM112 200l12 0 0 12-12 0zM123 200l13 0 0 12-13 0zM135 200l12 0 0 12-12 0zM6 211l12 0 0 12-12 0zM18 211l12 0 0 12-12 0zM29 211l13 0 0 12-13 0zM41 211l12 0 0 12-12 0zM53 211l12 0 0 12-12 0zM65 211l12 0 0 12-12 0zM76 211l13 0 0 12-13 0zM112 211l12 0 0 12-12 0zM123 211l13 0 0 12-13 0zM6 223l12 0 0 12-12 0zM29 223l13 0 0 12-13 0zM41 223l12 0 0 12-12 0zM53 223l12 0 0 12-12 0zM65 223l12 0 0 12-12 0zM76 223l13 0 0 12-13 0zM123 223l13 0 0 12-13 0zM29 235l13 0 0 12-13 0zM41 235l12 0 0 12-12 0zM53 235l12 0 0 12-12 0zM76 235l13 0 0 12-13 0zM88 235l12 0 0 12-12 0zM112 235l12 0 0 12-12 0zM123 235l13 0 0 12-13 0zM29 246l13 0 0 12-13 0zM41 246l12 0 0 12-12 0zM76 246l13 0 0 12-13 0zM88 246l12 0 0 12-12 0zM100 246l12 0 0 12-12 0zM112 246l12 0 0 12-12 0zM123 246l13 0 0 12-13 0zM6 258l12 0 0 12-12 0zM29 258l13 0 0 12-13 0zM41 258l12 0 0 12-12 0zM53 258l12 0 0 12-12 0zM65 258l12 0 0 12-12 0zM76 258l13 0 0 12-13 0zM100 258l12 0 0 12-12 0zM112 258l12 0 0 12-12 0zM123 258l13 0 0 12-13 0zM135 258l12 0 0 12-12 0zM18 270l12 0 0 12-12 0zM29 270l13 0 0 12-13 0zM41 270l12 0 0 12-12 0zM112 270l12 0 0 12-12 0zM123 270l13 0 0 12-13 0zM135 270l12 0 0 12-12 0zM6 281l12 0 0 12-12 0zM18 281l12 0 0 12-12 0zM29 281l13 0 0 12-13 0zM41 281l12 0 0 12-12 0zM76 281l13 0 0 12-13 0zM88 281l12 0 0 12-12 0zM100 281l12 0 0 12-12 0zM112 281l12 0 0 12-12 0zM123 281l13 0 0 12-13 0zM135 281l12 0 0 12-12 0zM6 293l12 0 0 12-12 0zM18 293l12 0 0 12-12 0zM29 293l13 0 0 12-13 0zM41 293l12 0 0 12-12 0zM53 293l12 0 0 12-12 0zM65 293l12 0 0 12-12 0zM76 293l13 0 0 12-13 0zM88 293l12 0 0 12-12 0zM100 293l12 0 0 12-12 0zM112 293l12 0 0 12-12 0zM123 293l13 0 0 12-13 0zM135 293l12 0 0 12-12 0zM6 305l12 0 0 12-12 0zM18 305l12 0 0 12-12 0zM29 305l13 0 0 12-13 0zM41 305l12 0 0 12-12 0zM53 305l12 0 0 12-12 0zM65 305l12 0 0 12-12 0zM100 305l12 0 0 12-12 0zM112 305l12 0 0 12-12 0zM123 305l13 0 0 12-13 0zM135 305l12 0 0 12-12 0zM6 316l12 0 0 13-12 0zM18 316l12 0 0 13-12 0zM29 316l13 0 0 13-13 0zM41 316l12 0 0 13-12 0zM53 316l12 0 0 13-12 0zM65 316l12 0 0 13-12 0zM100 316l12 0 0 13-12 0zM112 316l12 0 0 13-12 0zM123 316l13 0 0 13-13 0zM135 316l12 0 0 13-12 0zM7 329l-2 0 0-15zM10 272l-1-11 1-5 1 2-1 15zM10 278l0-5 1-15 3 13-1 14-2-2zM19 329l-4 0 2-5 1 2zM12 309l0-3 0-1 1-2 1 10 1 8-2-4zM15 321l-1-8 1-4 1 2 1 13-2 5zM15 302l1-10 1 3-1 16-1-2zM14 210l1-23 3 0 1 24-2 9zM18 276l1-16 2 3 0 14 0 18-2-2zM23 255l0 1 1 28 0 7-3-14 0-14zM26 283l-1-14 3 3 1 15-1 5-2-3zM39 322l-2-11 0-17 2 11zM36 314l0-2 1-1 2 11 0 7-2 0zM35 245l2-1 0 30 0 1-3-16zM32 224l0-3 4-5 1 20zM33 199l1-5 1-7 2 9 0 16-1 3zM44 323l3 1 0 5-3 0zM44 215l2-9 0 8-1 2zM47 211l-1-7-2-17 3 4 1 23zM52 304l2 13 1 10-3 1-2-18zM50 187l2 0 1 2 2 13 0 5-1 0-3-4-1-14zM51 218l0-15 3 4-2 16zM55 202l0-15 3 0 0 17 0 9-2 1 0-1-1-6zM59 274l4-4 2 13-1 14-2 0-3-16 0-5zM60 187l3 0 0 12 0 7-1-7zM58 213l0-9 4-5 1 7 0 2 0 6-4 3zM65 283l0-3 4 9 1 2-1 15-1 9-2-6-2-12zM62 297l2 0 2 12-1 11-3 7-1-5zM73 293l2-8 4 11 0 6-5 3zM77 250l-2-27 2 3 1 13 0 14zM78 239l1 3 1 9 0 2-2 5 0-5zM77 192l0-5 3 0 0 7-1 15-2-12zM79 209l1-15 2 5 0 5 0 14-2 4-1-5zM83 246l0 4-2-1 0-18 2 8zM82 204l0-5 2-11 1 10 0 15 0 3 0 1zM83 246l3 0 1 0-1 10-2 11-1-17zM87 245l2 2 1 28-2-2-1-8-1-9 1-10zM88 300l-3-4 0-6 1-7 2-10 2 2 0 1zM85 198l2-7 0 14-2 8zM85 213l2-8 1 13-3 0 0-2zM89 203l0-1 5 14-1 10-1 4zM92 290l1-18 2 7 1 15-1 3-2-5zM89 195l0-1 6-3-1 24 0 1-5-14zM118 329l-2 0 0-4zM100 325l-1-6-1-27 1-12 1 3 1 28zM113 320l1 9-1 0zM115 291l1-1 3 28 0 11-1 0-2-4 0-2-2-20zM144 329l-1 0 0-3zM123 329l-4 0 0-11 1-6 3 5zM111 187l4 0 2 12 1 11-1 8-2 3-4-33zM124 248l1 0 1-1 1 7 1 27 0 1-2-1-2-3 0-27zM123 199l2-3 0 19-2 2-1-7 0-4zM126 281l2 1 1 19 0 1-1 19 0-1zM123 217l2-2 1 5 0 4-1 3-1-1zM130 273l1 11-2 17-1-19 0-1zM140 329l-1 0 0-7zM136 256l3-12 1 3 1 18-1 8-1 3-2-6zM139 276l1-3 3 24-1 11-3-31zM140 273l1-8 2 6 1 6 0 17-1 3zM141 198l1-11 2 0 1 15-3 4zM146 187l2 0 0 6-1 2z"/>
<path fill="#fa701e" d="M18 188l12 0 0 12-12 0zM29 188l13 0 0 12-13 0zM53 246l12 0 0 12-12 0zM41 187l-1 2-3 7-2-9zM29 199l0-12 2 0 0 1 1 14 0 2-3-3zM32 202l1-3 3 16 0 1-4 5 0-17zM58 251l0-7 2 7 0 11zM56 238l2 3 0 3 0 7-2-9zM84 187l3 0 1 4-1 0-2 7-1-10zM99 236l2-7 2 2 1 16 0 10-1 7-1 3-3 1zM113 246l-1 25 0-1-2-6 1-31 1-5 0 4zM137 270l2 38-2-5-1-30zM136 196l1 21-3 9z"/>
<path fill="#22e62c" d="M88 211l12 0 0 12-12 0zM18 223l12 0 0 12-12 0zM88 223l12 0 0 12-12 0zM100 223l12 0 0 12-12 0zM6 235l12 0 0 12-12 0zM18 235l12 0 0 12-12 0zM65 235l12 0 0 12-12 0zM100 235l12 0 0 12-12 0zM6 246l12 0 0 12-12 0zM18 246l12 0 0 12-12 0zM18 258l12 0 0 12-12 0zM88 258l12 0 0 12-12 0zM53 270l12 0 0 12-12 0zM65 270l12 0 0 12-12 0zM76 270l13 0 0 12-13 0zM88 270l12 0 0 12-12 0zM53 281l12 0 0 12-12 0zM65 281l12 0 0 12-12 0zM6 270l2-11 1 2 1 11-4 1zM9 218l3 16 0 4-1 8-3-13-1-10zM11 258l0-12 1-8 5 13-3 20zM25 227l2-7 1 31-1-1-2-22zM27 250l1 1 0 2 0 19-3-3-2-13zM32 230l0 1-1 13-4-28 0-8zM52 246l1-15 2 13-1 4-1 2zM57 267l2 9 0 5 0 2-4 7 0-16zM56 238l0-24 2-1 1 4 1 17-2 7zM61 242l2-16 1 10 0 1 0 9-3 1 0-2zM62 258l-1-11 3-1 2 14zM64 237l5 7-2 16-1 1 0-1-2-14zM89 245l0-1 2 17 1 3-1 14-1-2 0-1-1-28zM99 207l2-8 3 24-1 8-2-2z"/>
<path fill="#2ce2ec" d="M100 211l12 0 0 12-12 0zM6 270l12 0 0 12-12 0zM100 270l12 0 0 12-12 0zM41 300l-1-7 1-7 4 9-2 17zM92 264l1 7 0 1-1 18-1-12zM95 279l2-16 2 7 0 10-1 12-2 2zM120 187l2 0 1 12-1 7z"/>
<path fill="#ec2ce2" d="M135 211l12 0 0 12-12 0zM135 223l12 0 0 12-12 0zM135 235l12 0 0 12-12 0zM135 246l12 0 0 12-12 0zM76 305l13 0 0 12-13 0zM88 305l12 0 0 12-12 0zM76 316l13 0 0 13-13 0zM88 316l12 0 0 13-12 0zM13 285l1-14 1 10 1 7-3 8zM16 288l-1-7 3-5 1 17-1 5-1-3-1-3zM53 187l2 0 0 15-2-13zM81 329l-3 0 1-9 0 1zM63 206l0-7 2-12 3 0-1 32-4-11zM79 320l0-18 0-6 0-6 3-2 1 35-4-2zM97 329l-3 0 1-4 1-1zM94 329l-1 0-1-21 1-16 2 5 0 9 0 19zM95 297l1-3 2 21-1 3-2-12zM113 308l1-5 2 20-1 6-1 0-1-9-1-9zM121 283l2 33 0 1-3-5 0-19zM133 233l3-2 2 8 1 5-3 12-3-21zM138 239l-2-8 2-5zM138 207l2-12 1 3 1 8 0 22-3-10z"/>
<path fill="#202ce8" d="M112 223l12 0 0 12-12 0zM6 205l1-13 2-1 1 8-1 19-2 5zM74 328l-4-38 1-2 2 5 1 12 1 24-1 0zM115 221l2-3 0 29-3-14zM118 212l2 4 2 23-3 2zM122 239l-2-23 2-6 1 7 1 9 0 22 0 3-2-5z"/>
<path fill="#ece224" d="M65 246l12 0 0 12-12 0z"/>
<path fill="#3aece6" d="M5 284l0-16 1 8 0 4zM40 245l0-10 4-3 1 13 1 13-1 13-3-6-1-5zM59 281l3 16-1 25-2 0-1-12 1-27zM111 290l1-20 0 1 1 3 2 17-1 12-1 5zM115 187l4 0-2 12z"/>
<path fill="#dc0e22" d="M5 268l0-26 1 1 1 3-1 24 0 3 0 3zM5 242l0-17 1 1 0 17zM5 225l0-16 0-6 1 2 1 18-1 3zM12 303l-1-20 2 2 0 11 0 7-1 2zM16 288l0 4-1 10-2-6zM19 317l3 0 1 12-4 0-1-3zM22 317l0-9 1-4 3 13 0 12-3 0zM26 317l-3-13 1-11 2 2 1 20zM23 256l2 13 1 14-2 1zM26 289l2 3 1 17-2 6-1-20zM22 210l0-15 4 2 0 6-3 8zM28 272l0-19 3 2 1 27-3 5zM26 197l0-6 0-4 2 0 1 12 0 2-2 7-1-5zM32 282l1 2 1 14 0 19-1 2-1-1-1-2zM31 244l1-13 3 14-1 14-3-4zM32 282l-1-27 3 4 3 16-1 8-3 1zM34 317l1 11 0 1-1 0-1-10zM34 317l2-3 1 15-1 0-1-1zM34 298l-1-14 3-1 1 5-2 14zM37 241l3 4 1 15-3 15-1-1 0-30zM38 275l3-15 1 5-1 21-1 7zM37 212l0-16 3-7 0 39zM41 187l2 29 1 16-4 3 0-7 0-39zM45 292l3 15 0 15-1 2-3-1-1-9 0-2 2-17zM41 187l3 0 2 17 0 2-2 9-1 1zM45 271l1-13 4 24-2 25-3-15zM49 329l-2 0 0-5 1-2zM43 216l1-1 1 1 2 10-2 19-1-13zM48 322l0-15 2 3 2 18 0 1-3 0zM45 216l1-2 1-3 1 3 1 7-2 5zM62 329l-3 0 0-7 2 0 1 5zM52 280l0-6 1-12 2 12 0 16zM54 317l0-14 1-4 0 29 0-1zM52 223l2-16 1 0 1 6-3 18zM56 213l0 1 0 24 0 4 0 4-1-2-2-13zM52 187l1 0 0 2zM58 187l2 0 2 12-4 5zM68 315l1-9 5 22 0 1-5 0zM63 187l2 0-2 12zM68 187l3 0 3 36-1 2-1-10zM67 222l5-7 1 10-1 22-1 2-2-5zM87 187l2 0 0 7 0 1-1-4zM79 242l1-18 1 7 0 18-1 2zM80 187l4 0 0 1-2 11-2-5zM83 239l1-10 2 17-3 0zM81 231l-1-7 0-2 2-4 2 7 0 4-1 10zM82 204l3 13-1 8-2-7zM89 247l-2-2-2-27 3 0 1 27zM90 241l3 14-2 6-2-17zM91 233l1-3 1-4 1 27-3-18zM93 226l1-10 0-1 2 12 0 33-2-4 0-3zM100 326l4-6 0 9-3 0zM99 280l0-10 0-2 3-1 2 25 0 3-1 0-3-12zM103 295l1 0 2 18-2 6-2-9zM103 187l3 0-2 15zM104 287l1-4 2 13 1 13 0 2 0 6-2-4-2-18 0-3zM104 257l0-10 4 7 1 10-1 7 0 1-3-4zM107 296l1-24 0-1 1 15-1 23zM108 254l-1-19 4-2-1 31-1 0zM108 311l2-17 2 18-4 8 0-3zM112 232l2 1 3 14 0 4 0 4 0 6-2-2-2-13zM112 271l1-25 2 13-2 15zM118 210l-1-11 2-12 1 0 2 19 0 4-2 6-2-4zM129 329l-3 0 1-9 1 0 0 1zM123 317l0-1 1-3 3 5 0 2-1 9-3 0zM121 283l1-2 2-3 0 6 0 29-1 3zM122 246l2 5 0 27-2 3-1-24zM122 187l3 0 0 9-2 3zM127 187l6 0-1 26-3-10zM127 232l2 3 2 15 0 2-1 1-3 1-1-7zM130 273l-2 8-1-27 3-1zM129 203l3 10 1 16 0 4 0 2-2 15-2-15-1-24zM134 329l-1 0 1-5zM134 309l-1-18 1-14 1-1 1 30-1 5-1-1zM134 310l1 1 2 18-3 0 0-5zM137 303l2 5 0 1 0 1 0 12 0 7-2 0-2-18 1-5zM133 229l-1-16 1-26 3 0 0 7 0 2-2 30zM136 187l3 0 1 8-2 12-2-13zM143 326l0-1 4-12 0 13-1 3-2 0zM144 277l3-9 0 11 0 31-3-16zM143 271l0-22 4 14 0 2 0 1 0 2-3 9zM147 326l0-13 0-2 1 0 0 18-1 0zM144 187l2 0 1 8-1 13-1-6z"/>
<path fill="#e6a0ca" d="M9 324l0 5-2 0-2-15 0-30 1-4 1 7 1 13z"/>
<path fill="#fa2016" d="M8 300l3-1 1 4 0 2 0 1-3 18zM6 276l0-3 4-1 0 1 0 5 0 6-3 3-1-7zM5 200l0-13 2 0 0 5-1 13-1-2zM11 299l-1-15 0-6 1 5 1 20zM11 329l-2 0 0-5 3-18 0 3zM13 329l-2 0 1-20 1 8zM10 199l2 7 1 3-1 25-3-16zM13 296l2 6 0 7-1 4-1-10zM13 317l2 4 0 8-2 0zM18 326l-1-2-1-13 1-16 1 3 1 19zM17 250l2 10-1 16-3 5-1-10 3-20zM21 295l0-18 3 14 0 2-1 11-1 4zM26 295l-2-2 0-2 0-7 2-1 0 6zM29 309l-1-17 1-5 3-5-1 34-1-1zM23 211l3-8 1 5 0 8 0 4-2 7zM30 315l1 1 1 2 0 11-2 0zM34 298l1 4 1 10 0 2-2 3zM44 329l-3 0 2-15 1 9zM39 305l2-5 2 12 0 2-2 15-2 0 0-7zM36 283l1-8 0-1 1 1 2 18 1 7-2 5-2-11 0-6zM32 230l0-6 5 12 0 5 0 3-2 1-3-14zM35 302l2-14 0 6 0 17-1 1zM36 215l1-3 3 16 0 7 0 10-3-4 0-5-1-20zM42 265l3 6 0 21 0 3-4-9zM55 329l-3 0 0-1 3-1 0 1zM48 187l-1 4-3-4zM46 204l1 7-1 3 0-8zM47 191l1-4 2 0 0 2-2 25zM50 254l2 20 0 6-1 2-1 0-4-24zM50 243l2 3 1 4 0 11 0 1-1 12-2-20zM55 328l0-29 3 11 1 12 0 7-4 0zM49 223l2-5 1 5 1 8-1 15-2-3zM52 296l3 1 0 2-1 4-2 0zM53 261l2-4 1-1 1 11-2 7-2-12zM59 283l-1 27-3-11 0-2 0-7zM56 246l0-4 2 9 2 11-1 12 0 2-2-9-1-11zM76 187l1 0 0 5zM58 244l0-3 2-7 1 8 0 3-1 6zM60 262l0-11 1-6 0 2 1 11 1 12-4 4zM64 236l3-16 0 2 2 22-5-7zM67 219l1-32 4 28-5 7 0-2zM70 291l0-1 4 38-5-22zM74 305l5-3 0 18-1 9-3 0zM71 187l3 0 1 19-1 15 0 2zM77 197l-2 9-1-19 2 0 1 5zM77 226l2-9 1 5 0 2-1 18-1-3zM84 229l0-4 1-8 0-1 0 2 2 27 0 1-1 0zM90 276l1 2 1 12 1 2-1 16-3-1-1-7zM87 191l1 0 1 4 0 7 0 1 0 11-1 4-1-13zM91 235l3 18 0 3-1-1-3-14zM89 187l6 0 0 4-6 3zM109 329l-5 0 0-9 0-1 2-6 2 4 0 3zM95 191l0-4 1 0 3 20 2 22-2 7-3-9-2-12zM101 311l1-1 2 9 0 1-4 6 0-1zM96 260l0-33 3 9 0 32 0 2-2-7zM100 283l3 12-1 15-1 1zM101 187l2 0 1 15 1 12 0 4-1 5-3-24zM113 329l-4 0-1-9 4-8 0-1 1 9zM116 329l-1 0 1-6 0 2zM108 309l1-23 1 4 0 4-2 17zM105 268l3 4-1 24-2-13zM104 202l2-15 5 0 0 1-1 18-5 8zM110 290l1 0 2 18-1 3 0 1-2-18zM117 261l0-6 4 25-4-5zM118 250l1-9 3-2 0 7-1 11zM128 321l1-19 2 6 0 21-2 0zM125 187l2 0 2 16-1 8-2 9-1-5 0-19zM125 227l1-3 1 8-1 15-1 1zM126 220l2-9 1 24-2-3-1-8zM133 329l-2 0 0-21 3 1 0 1 0 14zM129 302l0-1 2-17 2 7 1 18-3-1zM136 306l-1-30 1-3 1 30zM139 309l0-32 3 31 0 2-3 0zM147 329l-1 0 1-3z"/>
<path fill="#ff7a18" d="M7 187l2 0 0 4-2 1zM9 191l0-4 3 0 0 19-2-7zM25 187l1 0 0 4zM18 187l4 0 0 8 0 15-2 6-1-5zM28 187l1 0 0 12zM31 188l0-1 2 0 1 7-1 5-1 3zM33 187l2 0-1 7zM54 248l1 9-2 4 0-11zM62 327l3-7 0 9-3 0zM69 329l-4 0 0-9 1-11 2 6zM96 187l5 0 0 12-2 8zM130 253l1-1 3 25-1 14-2-7-1-11zM139 187l3 0-1 11-1-3zM146 208l1-13 1-2 0 32-1 1-1-13z"/>
<path fill="#30f026" d="M6 226l1-3 1 10 0 12-1 1-1-3zM8 249l2 7-1 5-1-2zM12 234l1-25 1 1 3 10 0 30 0 1-5-13zM18 298l1-5 2 2 1 13 0 9-3 0zM27 315l2-6 1 6 0 14-4 0 0-12zM29 201l3 3 0 17 0 3 0 6-5-22zM63 208l4 11 0 1-3 16-1-10 0-12zM69 289l-2-29 2-16 2 5 0 39-1 2 0 1zM74 223l2 24 0 15-2-1-2-14 1-22zM71 249l1-2 2 14 1 24-2 8-2-5zM75 285l-1-24 2 1 2 6 1 22 0 6zM78 258l2-5 3 33-1 2-3 2-1-22zM74 223l0-2 1 2 2 27-1-3zM84 267l2-11 1 9-1 18-1 7-1-4zM89 203l3 27-1 3-2-19zM93 255l1 1-1 15-1-7-1-3zM111 188l4 33-1 12-2-1 0-4-2-22z"/>
<path fill="#12de32" d="M8 259l-2 11 1-24 1-1 0 4zM8 245l0-12 3 13 0 12-1-2-2-7zM17 250l0-30 2-9 1 5 3 39-2 8-2-3zM20 216l2-6 1 1 2 16 0 1-2 27zM23 255l2-27 2 22-4 6zM27 216l4 28 0 11-3-2 0-2-1-31zM49 221l0 2 1 20 0 11-4 4-1-13 2-19zM51 282l1-2 3 10 0 7-3-1zM60 234l-1-17 4-3 0 12-2 16zM62 258l4 2 0 1-1 19 0 3-2-13zM67 260l2 29-4-9 1-19zM80 253l0-2 1-2 2 1 1 17 0 19-1 0zM87 265l1 8-2 10zM89 214l2 19 0 2-1 6-1 3 0 1-1-27zM96 260l1 3-2 16-2-7 0-1 1-15zM103 231l1-8 1-5 2 17 1 19-4-7zM105 214l5-8 2 22-1 5-4 2-2-17z"/>
<path fill="#f6a8c4" d="M7 287l3-3 1 15-3 1z"/>
<path fill="#ea6824" d="M12 187l3 0-1 23-1-1-1-3zM22 195l0-8 3 0 1 4 0 6zM34 329l-2 0 0-11 1 1zM52 303l2 0 0 14-2-13zM55 244l1 2 0 10-1 1-1-9zM74 221l1-15 2-9 2 12 0 8-2 9-2-3zM133 235l3 21 1 14-1 3-1 3-1 1-3-25 0-2zM147 268l0-2 1 7 0 19-1-13zM147 265l1 1 0 7-1-7z"/>
<path fill="#1cdaf2" d="M50 282l1 0 1 14 0 7 0 1-2 6-2-3zM103 264l1-7 1 11 0 15-1 4zM109 286l-1-15 1-7 1 0 2 6-1 20-1 0z"/>
<path fill="#dcda2a" d="M48 214l2-25 1 14 0 15-2 5 0-2zM139 276l0 1 0 32 0-1-2-38zM147 279l1 13 0 19-1 0 0-1z"/>
<path fill="#2e36e2" d="M78 253l0 5 0 10-2-6 0-15 1 3zM103 264l1 23 0 5-2-25zM113 274l2-15 2 2 0 14 0 9-1 6-1 1zM117 275l4 5 1 1-1 2-1 10-3-9zM117 284l3 9 0 19-1 6-3-28z"/>
<path fill="#dc24e8" d="M84 329l-3 0-2-8 4 2zM89 329l-4 0 1-6zM89 307l3 1 1 21-3 0zM90 329l-1 0-3-6-1-27 3 4 1 7zM95 306l2 12-1 6-1 1zM121 280l-4-25 0-4 1-1 3 7 1 24zM124 226l1 1 0 21-1 0zM136 194l2 13 1 11-1 6-1-7-1-21zM142 229l4-16 1 13 0 14zM148 225l0 21-1-2 0-4 0-14z"/>
<path fill="#fa36dc" d="M83 286l1 0 1 4 0 6 1 27-1 6-1 0-1-6-1-35zM96 294l2-2 1 27-1-4zM124 284l3 34-3-5zM134 226l3-9 1 7 0 2-2 5-3 2 0-4zM138 226l0-2 1-6 3 10 0 1-1 7-1 11-1-3-1-5zM140 247l1-11 2 13 0 22-2-6zM141 236l1-7 5 11 0 4 0 19-4-14zM142 228l0-22 3-4 1 6 0 5-4 16zM147 244l1 2 0 20-1-1 0-2z"/>
<path fill="#ff4890" d="M98 315l1 4 1 6 0 1 1 3-4 0-1-5 1-6z"/>
<path fill="#2c8efb" d="M118 212l1 29-1 9-1 1 0-4 0-29 1-8z"/>
<path fill="#f63e96" d="M124 278l2 3 2 39-1 0 0-2-3-34z"/>
<path fill="#faec1e" d="M139 310l3 0 1 15 0 1 0 3-3 0-1-7zM143 297l1-3 3 16 0 1 0 2-4 12-1-15 0-2z"/>
<path fill="#202ce8" d="M11 191l0 2-1 1-1-2 0-3 1-1 1 1zM77 194l0 5-2 0 0-2 0-3 0-4 1 1zM67 195l0 2-1 2-1-1 0-5 0-4 1 1zM18 215l-1 0 0 1 0-1 0-1 0-1zM125 225l-1 1 0 1-1-1 0-2 0-1 1 0zM82 248l0 3-1-1-1-1 0-2 0-1 1 0zM100 251l-1 2-1 0 0-1 1-2 1-2zM93 252l0 2-1 1-1-2 1-2 0-2 1 1zM28 263l1 3-1 3-2-4-1-5 0-3 2 2zM26 264l-1 1-1 1 0-2 1-1 0-2 1 1zM22 262l0 2-1 0-1-1 0-2 1-1 0-1zM104 271l1 2-2 1-1-1 0-2 0-2 2-1zM102 273l-2 3-1 2 0-5 0-4 2-3 1 1zM123 272l0 2-2 1 0-3 1-3 2-3 0 2zM124 275l0 2-1 1-1-2 0-4 1-1 1 0zM22 286l-1 2-1 0-1-1 0-2 1-2 1 1zM109 292l-1 3-1 0-1-2-1-4 1-2 2 0zM108 286l0 2-1 0 0-2 0-1 1 0zM115 292l0 5-2 2-1-2 0-5 1-5 1 1zM99 294l-1 3-1-2 1-4 0-1 1 2zM119 299l-1 2-1 1-1-3 0-1 1-2 1 0zM75 313l0 1 0 1-1-2 0-2 1 0zM96 308l-2 2-1 1-1-4 2-4 1-3 1 1zM93 307l0 2-1 1 0-2 0-3 1 0zM103 305l-1 2-2-1 1-3 1-2 1 1zM83 250l-1 1 0-1zM64 306l-1 1-1-1 1-1zM57 272l0 2-1-2 0-1zM79 207l0 3-2-2 1-2zM124 275l-1 1-1-1 1-1zM85 254l-1 1-1-1 1-1zM65 268l0 1-1-1 0-1zM115 192l0 2-1-1 0-2zM21 280l-1 1 0-2 1-1zM83 321l-1 1-1-1 1-1z"/>
<path fill="#ff7a18" d="M9 189l0 3 0 1-1-2 0-3 0-2 1 1zM80 190l-1 4 0 1-2-3 0-2 1-2 1 1zM100 193l-2 5-1 2-1-3 1-6 0-4 2 1zM96 197l1 1-1 2-1-2 0-2 0-2 1 1zM136 192l0 2-1 1 0-2 0-2 1-2 1 0zM148 198l-1 2-1 0-1-1 1-3 1-2 1 1zM25 209l0 2-1 0-1-1 0-3 1-1 1 1zM36 203l0 5-1 2-1-4-1-4 1-3 2 1zM39 211l0 2 0 1-1-2 0-2 1-2 0 1zM40 203l0 8-1 0-1-5-1-3 1-5 1 2zM100 204l0 2 0 2-1-3 0-2 1-2 0 1zM101 206l-2 3-2 0 0-3 0-4 3-1 1 2zM123 210l0 1-1 0 0-2 0-1 1 1zM149 209l-2 6-1 0-1-2 0-5 2-2 1 1zM30 220l-1 2-1-1 1-1 0-1zM49 223l-1 2-1 1 0-2 0-4 1-1 1 0zM51 215l0 2-1 0-1-1 0-1 1-1 1 0zM84 215l0 4-1 1-1-2-1-5 1-1 1 1zM21 238l0 2-1 1-1-2 0-4 1-1 1 1zM59 249l-1 2-1 1-1-1-1-3 2-1 1 0zM111 250l0 4-2 0-1-1 0-2 1-2zM102 257l0 2-1 1-1-2 0-2 1-1 1 0zM115 251l0 2-1 1 0-1 0-3 1-2 0 1zM146 289l0 2-1 0 0-1-1-3 1-1 1 0zM144 297l0 3-1 0-1-1 0-2 1-3 1 1zM35 315l-1 2-1-1 1-2 0-1 1 0zM61 311l-1 4-1 0 0-2 1-5 1-2 1 0zM130 316l0 1 0 1-1-1 0-2 0-1 1 0zM41 317l0 2-1 3-1-1-1-3 0-3 1 1zM101 250l-1 1 0-2zM89 194l-2 2 0-2 2-2zM144 192l0 2-1-1 0-2zM116 238l-1 2-2-2 2-1zM9 190l0 2-1-1 0-2zM76 317l-1 2-1-2 1-3zM34 256l-1 1 0-2zM31 293l-1 1 0-1 0-1zM131 278l-1 1-1-2 2-1zM11 190l-1 2-1-3 1-1zM136 265l-1 2 0-2 1-1zM91 198l-1 1-1-1 1-1zM59 318l-2 1 1-2 1 0zM35 202l-1 1-1 0 1-1zM102 223l-1 2-1-2 1-1z"/>
<path fill="#fa701e" d="M17 193l-1 2-1 2 0-3 0-3 1-1 0 1zM13 198l0 3-1 1 0-2 0-2 0-1 1 0zM86 191l0 2-1-1-1-1 1-3 1-1 1 1zM79 191l1 3-1 0-1-1-1-2 0-3 1 1zM144 193l-1 2-2 1-1-2 0-3 1-2 2 1zM29 202l-1 5-1 0 0-2 0-5 1-3 1 3zM25 209l1 3-2 1 0-1-1-4 1-3 1 0zM41 201l0 2-1 0 0-1-1-2 1-2zM38 210l0 2 0 1-1-2 0-1 1-1zM126 206l-1 6-2 5-1-6 1-8 1-4 2 2zM144 200l0 2-1 2 0-2 0-2 1-2 0 1zM26 215l0 5-1 1-1-2-1-5 0-1 2-1zM48 218l0 2-1 0-1-1 0-2 1 0zM79 217l0 2-1 0-1-1 0-1 1-2 1 0zM87 222l-1 2 0 2-1-3 0-2 1-2 0 2zM107 242l0 3-1 1-1-3 0-1 0-2 1 0zM123 235l0 2-1 0-1-1 0-1 1-1 1 0zM121 241l0 4-1 0-1-2 0-3 0-1 1 0zM113 239l0 2-1 0-1-1 0-2 1-1 1 1zM42 256l0 3-1 1-1-1-1-6 1-4 2 4zM103 249l0 1 0 1-1-2 0-2-1-2 1 2zM106 252l0 2-1 1 0-1 0-2 0-3 1 1zM112 246l1 1-1 1 0-1-1-1 0-1 1 0zM119 252l-2 5-1 5-2-6 1-8 1-4 2 3zM119 265l-1 4-2 1-1-4 0-4 1-1 2-1zM129 261l0 2-1 1-1-2 1-1 0-2zM147 265l-1 3-1 0 0-2 0-3 1 0 1 0zM126 274l0 4-2 0-1-2 0-2 1-3 1 2zM137 280l-1 3-1 1-1 0 0-10 2-2 1 1zM37 291l0 4-1 3-2-4 0-5 0-3 1 3zM32 288l0 3-1 0-1-1-1-3 1-2 1 0zM142 289l-1 2-2 2 0-4 1-4 1-1 2 0zM66 311l-1 6-2 0 0-4 1-4 1-3 1 1zM126 311l-1 2-1 0 0-2 0-1 1-1 1 0zM40 323l-1 2-2 1-1-3 1-2 2-1 1 0zM60 321l0 2-1 1 0-2 0-2 1-2 0 1zM55 319l0 2 0 1-1-2 0-2 0-1 1 0zM72 321l0 2-1 0 0-1 0-1 0-2 1 1zM89 199l-1 1 0-2 1 0zM37 199l0 2-2-1 0-3zM10 197l-1 1 0-2 1-1zM75 321l0 2-2-2 1-1zM141 201l-2 1 1-2 1 0zM140 195l-1 2-1-1 1-2zM15 197l-1 2-1-2 1-1zM50 314l0 1-1-1 0-1zM62 305l-1 1-1-1 1-1zM60 322l-1 3-1-3 1-1zM27 262l-1 2-1-2 1-3zM25 220l-1 1-2-1 2-2zM55 251l0 1-1-1 0-1zM132 268l-1 1 0-1 0-2zM34 235l-1 1-1-1 1-1zM10 303l0 2-2-2 0-1zM38 203l0 2-1-1 0-1zM136 267l-1 3-1-3 0-2zM8 312l-1 1-1-1 1-1zM133 272l-1 1-1-1 1-1z"/>
<path fill="#fa2016" d="M28 192l1 1-1 1-1-1 0-1 0-2 1 1zM28 198l0 3-2 0 0-1 0-3 0-3 2 1zM109 193l0 2-1 0-1-2 0-2 1-2 0 1zM14 202l-1 3-1 2-1-4 1-4 1 0 1 0zM66 208l0 2 0 1-1-1 0-2 1-2zM98 207l-1 2-1 2-1-3 1-3 1-2 1 2zM90 206l0 4-1 4-1-6-1-7 1-2 1 3zM96 215l-1 2-1 3-2-4 1-6 1-2 1 1zM109 220l-1 2-1 0-1-2 1-3 1-1 0 1zM128 220l-1 2-1-1 0-1 0-1 1-1 1 0zM146 222l-2 6-2-1 0-4 1-5 3-4 1 2zM145 219l-1 3-2 0-1-1-1-5 2 0 2-1zM145 218l0 2-1 0 0-1-1-1 1-1 1 0zM19 223l0 2 0 1-1-1 0-2 0-2 1 1zM40 226l0 2-1 0-1 0 0-4 1-2zM51 234l0 2-1 1 0-2 0-3 1-2 0 2zM95 232l0 2-1 0-1-2 1-1zM106 225l-2 4-1 0 0-3 0-3 1-1 1 2zM117 227l-1 2-2 1 0-2 0-3 2-2 1 1zM144 231l1 4-1 1-2-1-1-5 0-3 2 2zM143 229l-2 5-1 0 0-4 2-5 1-3 1 1zM16 242l-1 4-1 2-1-5 0-3 1-5 1 3zM23 242l0 3-1 1-1-2 0-6 1-2 1 2zM52 244l-1 2 0 1-1-2 0-1 0-3 1 1zM52 235l-1 1 0 2-1-2 0-2 1-1 0 1zM52 238l0 6-2 0-1-3-1-3 1-4 2 1zM70 236l-1 3-1 2 0-5 1-4 0-2 1 3zM85 241l0 2-1 1-1-2 0-2 1-3 1 0zM96 240l-1 3-1 2-1-3 0-3 1-1 1 0zM17 256l0 5-1 2-2-4 0-3 1-4 1 0zM23 250l0 3-2 2 1-4 0-2 1-3 1 2zM22 252l0 2 0 1-1-2 0-2 0-2 1 1zM63 252l0 2-1 1 0-2 0-2 0-1 1 0zM102 256l-1 1-1-2 0-1 1-1 1 1zM148 257l-1 1-1 0 0-2 1-1zM24 266l-1 4-1 2-2-4 1-5 1-5 2 2zM38 263l0 3-1 1 0-3 0-2 0-2 1 0zM44 260l0 3-1 1 0-1 0-4 1-2 0 1zM70 267l0 5-1 2-2-4 0-4 1-3 1 0zM98 269l-1 4-1 2-1-4 0-4 1-4 1 0zM114 261l0 1-1 1 0-1 0-2 0-1 0 1zM128 262l0 1-1-1 0-1 0-1 1 0zM11 276l-1 5-1 2-1-2-1-8 1-3 2 0zM15 280l0 3-1 1-1-1 0-6 0-2 1 0zM16 277l-1 3-1 2 0-4 1-3 1-2zM50 276l-1 2-1-1 1-2 0-1 1 1zM58 277l0 2-1 1-1-2 0-1 1-2 1 1zM65 277l-1 0 0 1-1-1 0-1 1-2 0 1zM73 278l0 5-2-1 0-2-1-5 2-3 1 2zM76 281l0 1-1 1-1-2 1-1zM18 286l0 1-1 0 0-2 0-1 1 1zM28 285l-1 4-1 1-1-2 1-5 2-3zM63 291l0 5-1 1-1-2 0-6 1-3 1 3zM58 290l0 2-1-2 0-3 1-1 0 1zM93 282l-1 2-1 0 0-1 1-2 0-1 1 1zM120 292l0 9-1-2-1-1-2-8 1-2 2 2zM125 304l0 4-2-1-1-1 0-3 1-2 1 1zM145 302l0 2-1 0-1-1 0-4 1 0 1-1zM32 312l0 2-1 0 0-1 0-1 0-2 1 1zM70 313l0 4-2 0-1-1 0-4 1-2zM83 316l-2 6-1 1 0-4 0-7 3-2 1 0zM92 310l0 2-1 1-1-2 0-1 1-4 1 2zM8 318l-1 2-1 1 0-2 0-3 1-1 0 1zM72 321l-1 3-1 0 0-1 1-3 1-1zM90 318l0 2 0 1-1-2 0-3 0-1 1 1zM106 317l-1 6-1 0-2-3 0-2 1-5 2 2zM118 324l0 1-1 0 0-1 0-1 1 0zM123 319l-1 3-1 0-1-1 1-3 1-1 1 0zM81 278l-1 2-1-2 1-2zM52 322l-1 1 0-1 0-1zM9 286l0 2-1-2 0-1zM99 309l-1 1 0-2 0-1zM26 294l0 2-1-1 0-2zM64 277l0 2-1-2 1-1zM60 190l0 1-1-1 1-2zM34 244l-2 2 0-2 1-3zM79 220l-1 1 0-1 1-1zM49 307l0 1-1 0 1-2zM132 324l-1 1 0-1 0-1zM33 320l-2 1 0-1 2-1zM15 213l-1 1-1-2 1-1zM39 270l-1 1-1-2 1-1zM74 268l-1 1-1-1 0-2zM102 235l-1 1-1-1 1-1zM119 284l-1 1-1-1 1-2zM17 205l-1 1 0-2zM143 310l0 1-1-1 1-1zM127 199l-2 2-1-2 1-2zM86 257l-1 1-1-1 1-2zM35 258l-1 1 0-1 0-1zM86 268l-1 1-1-2 2-1zM127 318l0 2-2-1 0-2zM104 209l-2 2 0-3 1-1zM99 209l-1 1-1-2 1-1zM84 195l0 2-2-1 0-2zM99 260l0 1-2-1 0-2zM15 284l-1 1 0-2 2-2zM121 257l-1 2 0-1 0-2zM21 209l-2 1-1-1 2-2zM12 219l-1 2 0-2 0-1zM30 264l-1 0 0-1zM71 319l-1 1-1 0 0-2zM56 244l-1 1-1-2 1-1zM51 298l-1 2 0-2 1-1zM9 205l0 1-1-1 0-1zM25 320l0 1-1-1 0-1zM92 279l-1 2-1-2 1-2zM114 266l-1 1 0-1 1-1zM97 232l-1 2-1-2 1-2zM49 303l-2 2-1-2 1-3zM102 284l0 2-2-2 1-1zM89 240l-1 2-1-2 0-2zM130 320l0 2-1-2 1-1zM110 262l-2 2 0-2 1-2zM60 219l0 1-1-1 0-2zM78 294l-1 1 0-2 2-2z"/>
<path fill="#dc0e22" d="M28 190l-1 4-1 0-1-2 0-2 1-3 1 1zM27 198l-2 4-1 2 0-4 0-4 2-3zM32 187l0 7-1 1-1-4-1-4 0-4 1-1zM39 190l-1 5-2 3 0-6 1-4 1-4 2 2zM33 205l-2 4-2 1 0-4 1-3 1-1 1 0zM51 208l0 1-1 1 0-1 0-3 1 0 1 0zM83 211l-1 2-1 0 0-2 1-2 1-2 0 2zM94 209l1 4-1 0-2 0-1-6 0-3 1-1zM138 203l-1 4-1 2-1-4-1-3 2-6 1 1zM147 204l0 2-1 0 0-1 0-1 0-1 1 0zM43 217l-1 5 0 1-1-4 1-3 0-2 1 0zM86 212l1 2-1 0-1-1 0-2 0-1 1 1zM123 222l-1 4-1 2-1-4 0-4 1-3 2 1zM130 221l-1 6-2 1 1-6-1-3 2-3 1 1zM139 214l-1 3-1 2-2-3-1-6 1-4 3 1zM40 229l-1 2 0-1-1-1 1-1zM52 227l0 2 0 1-1-2 0-2 0-1 1 1zM73 234l-1 3-2 1 0-3 1-5 0-2 2 2zM103 229l0 8-1 1-2-4-1-6 0-6 2 3zM109 225l-1 2 0-1 0-2 2-2 0 1zM103 233l-1 3-1 1-1-3-1-3 2-2 1 2zM114 232l1 3-1 0-1-2 0-2 0-2 1 1zM123 227l0 3-1 1-1-3 0-2 2-3 0 1zM128 234l0 2-1-1 0-2 0-1 1 1zM140 233l-1 2-1-1 1-2 1-1zM19 236l-1 3-1-1 0-1 0-2 1-1zM101 245l0 7-1 2-2-5-1-6 1-3 2 1zM14 250l-1 1 0-1 0-1 0-1 0 1zM13 254l0 2-1 1-1-2 0-2 0-1 1 0zM32 252l0 3-1 1-2-1 0-5 1-3 2 0zM110 254l1 5-1 1-2-4 0-2 0-3 1 1zM115 257l-1 4-1 0-1-3 1-4 0-2 1 1zM139 254l-1 2-1 1 0-3 1-3 1-2 1 2zM146 248l1 3-1 0 0-1-1-2 0-2 1 1zM11 259l0 2-1 3-1-3 0-5 1 0zM28 266l0 4-1 1-2-3 0-3 1-1 1 0zM93 265l-1 3-2 2-1-3 1-4 1-2 2 1zM105 261l-1 4-2 0 0-2 1-5 2-3 1 1zM144 262l-1 3-2 1 0-3 0-1 1-2 1 1zM143 267l0 1-1 0 0-1-1-1 0-1 1 0zM22 279l0 3-1 1-1-2-1-3 1-2 1 0zM56 279l0 4-1 1-1-2-1-5 1-3 1 1zM78 276l0 3-1 1-1-3 0-3 1-2 1-1zM102 276l-1 3-1 0 0-3 0-2 1-1 1 1zM31 283l-1 3-1 0-1-2 0-4 0-1 2-1zM71 285l-1 4-2 0-1-2 1-4 1-1 1 0zM69 287l-1 3-2 2-1-3 0-6 1-2 2 1zM101 282l-2 7 0-1-2 0 1-8 2-3 1 2zM117 286l0 1-1-1 0-1 0-1 1 1zM143 285l-1 8-1-2-1-4 0-4 2-3 1-1zM40 300l-2 4-1-2-1-2 0-4 3-3 1 1zM52 296l0 2-1 1-1-2 0-3 1-2 1 1zM76 302l0 1-1 0 0-1 0-2 0-1 1 0zM92 294l-1 1-1-1 0-1 1-2 1 1zM120 299l-1 2-1 2-1-2 1-3 0-2 2 1zM131 298l0 2-1 0 0-1 0-2 1 0zM89 306l0 2-1-1 0-1 0-2 1 1zM117 312l0 1-1 1 0-2-1-2 1 0 1 0zM129 309l-1 1 0 1-1-2 1-1 0-1 1 0zM139 310l-1 7-2 2 0-5 1-9 1-4 2 2zM63 323l0 2-1 2 0-1-1-4 0-2 1 0zM91 320l-1 3-1-1 0-1 0-2 1-2 1 0zM132 259l-2 0 0-2 2 0zM29 307l-1 1-1-1 1-1zM43 199l-2 1 1-2 1-1zM42 205l1 1-2 0 0-2zM65 314l0 2-2-1 0-1zM118 239l-1 1-1-1 1-1zM62 320l0 2-1-3 1-1zM59 228l-1 2-1-2 1-2zM27 194l-2 1 0-1 2-2zM78 279l-1 2 0-3 1-1zM103 235l-1 2 0-2 0-1zM122 194l0 2-2-2 1-2zM10 192l-1 1 0-2 2-1zM120 209l-1 1 0-1 1-2zM18 291l-1 1-1-1 2-2zM12 295l-1 2 0-2 1-1zM42 193l-1 1 0-2 1 0zM26 290l-2 1 0-1 1-1zM46 219l0 3-1-2 0-3zM82 276l-1 2 0-2 1-2zM137 287l0 1-1-1 0-1zM130 311l-1 1 0-2 2-1zM116 254l-2 1 0-1 1-2zM110 251l0 1-1-1 0-1zM18 222l0 1-2-1 2-2zM103 233l0 1-2-1 0-2zM33 298l0 1-1-1 0-2zM116 259l-1 1-1-1 1-2zM42 318l0 2-1-2 1-1zM131 215l-2 2 0-2 1-1zM26 299l-1 2-1-2 1-2zM91 199l-1 1 0-1 0-1zM84 214l-1 2 0-3 1-1zM12 295l-1 1-1-1 1-2zM53 299l-1 2-1-1 1-2zM23 306l-1 2-1-2 0-2zM79 246l-2 2-1-2 2-1zM96 197l-1 2-1-1 0-2zM15 310l-1 0 1-1zM120 240l-2 1 0-1 1-2zM43 257l-1 2-1-1 1-2zM48 251l-1 2-1-2 1-1zM131 325l-1 2-1-3 1-1zM36 266l0 2-1-1 0-3zM8 225l-1 3-1-2 1-2zM127 294l-1 2-1-2 1-2zM24 328l0 2-2-2-1-3zM93 238l-2 1 0-2 1-2zM126 281l-2 1 1-2 1 0zM19 192l0 2-1-1 0-2z"/>
<path fill="#ec161c" d="M34 189l0 4 0 1-2-3 0-2 1-3 0 2zM35 198l-1 1 0-1 0-1 1-2 0 1zM108 195l1 3-2 1 0-2-1-3 0-4 1 2zM126 195l-1 3-1 0-1-1 2-5 1-1 1 0zM67 205l0 3-1 0-1-1 0-2 1-1zM128 210l-1 1 0 1-1-1 0-2 1-1 1 1zM21 219l-1 1 0 1-1-2-1-2 1-2 1 1zM91 214l-1 5-1-2-1 0 0-4 1-2 1 0zM99 221l-1 3-1 0-1-1 1-4 1-3 1 0zM99 219l-2 6-3 1 1-4 1-5 2-3 1 0zM117 213l-1 3 0 3-1-2 0-4 1-3 0 1zM128 223l0 2-1 1-1-1 0-4 0-3 1 1zM76 226l0 1-1 1-1-1 0-2 1-2 1 1zM88 229l-1 1-1 1 0-2 1-2 1-2 0 1zM100 226l0 3-3 1-1-3 1-2 0-1 2 0zM102 233l0 2-1 0-1-1 0-2 1-1 1 1zM112 228l0 1-1 0 1-2 0-1 1 0zM137 226l0 2-1 1-1-1 0-3 1-3 1 2zM143 234l-1 2-1 0 0-1 1-2 0-1 1 0zM31 243l-1 4-1 3-2-3 0-6 0-4 2 3zM26 247l-1 3-2 1 0-3 1-4 1-3 1 2zM77 243l-1 2-1 1 0-1 0-3 2-2 0 1zM68 238l0 5-1 1-1-3-1-4 0-4 2 2zM129 236l-2 2-2 3-1-2 1-5 1-2 2 2zM131 241l-1 2-1 0-1 0 0-3 1-1 1 0zM139 240l-1 3-2 2 0-3 2-5 2-2 1 0zM141 242l0 3-2 1-1-1 1-6 1-3 1 1zM147 245l0 2-1-1 0-2 0-2 1 1zM136 244l-1 1 0-1 0-2 0-1 1 1zM17 257l0 1 0 1-1-1 0-1 0-1 1 0zM21 247l-2 5-2 1-1-4 1-4 2-2 2-2zM61 252l0 2 0 1-1-1-1-2 1-2 1 0zM69 247l-1 5-1 1-1-2 0-5 1-3 1 1zM75 248l0 1-1 0 0-1 0-2 1-1 0 1zM88 253l1 4-2 2-2-3 0-5 1-2 1 1zM143 251l-1 2 0 1-1-2 1-3 0-1zM142 256l0 2-1 1-1-1 0-3 0-2 1 0zM27 259l0 1-1 0-1-1 0-1 1-2 1 1zM91 262l-1 2-1 0 0-2 1-1 0 1zM125 269l0 2-1 0-1-1-1-3 1-2 1 1zM63 275l0 2-1 1-1-2 0-2 0-1 1 0zM59 271l0 3-1 1-1-3 0-2 1-2zM80 271l0 1-1 1-1-1 0-2 1-2 1 0zM89 273l0 2-1 0-1-1 0-1 1-2 1 1zM104 272l0 3-1 0-1-3 1-2 0-1 1 0zM31 288l0 2 0 1-1-2 0-2 0-1 0-1zM69 290l0 3-2-1-1 1-1-3 1-2 1-1zM91 285l0 2-1 1 0-1-1-3 1-1zM140 285l0 2-1 4-2-5 0-4 1-5 1 3zM137 293l-1 1-1-1 1-2 1 0zM15 304l0 2-1 2-2-3-1-4 1-2 2 1zM34 305l-1 3-1 0-1-1 0-6 0-1 1-1zM57 298l-1 1-1 1 0-1-1-2 1-1 1 1zM143 303l1 3-1 0-2 0-2-5 1-1 1-1zM35 313l0 1-1 1 0-2 0-1 0-1 1 0zM43 317l0 3-1 2-1-2-1-6 1-4 1 0zM94 314l-1 1 0 1-1-2 0-1 1-1zM95 314l0 5-2-2 0-3 0-3 1 0zM106 310l-1 1-1-1 0-1 1-1zM131 308l0 1-1 0 0-1 0-1 1-2 0 1zM146 313l-1 4-2 1 0-3 0-5 1-5 1 4zM39 323l-1 1-1 0 0-1 0-2 1 1zM44 321l0 2-1 0-1-2 0-2 1 0zM93 325l0 3-1 1-1-2-1-3 1-3 1 0zM104 323l0 6-1-1-2-1 0-5 1-3 2 2zM119 322l0 3-2 1 0-2 0-4 1-3 1 1zM128 328l0 5-3 2-1-6 0-5 2-4 2 2zM141 320l0 1-1 1-1-1 0-3 0-1 1 0zM129 288l-1 1-1-1 1-1zM46 289l-1 1-1-2 1-1zM110 247l-1 1-2-1 2-1zM61 209l-1 1-1-1 1-2zM44 255l-1 2 0-2 0-1zM88 291l-1 3-1-3 1-2zM74 302l-1 2-1-2 1-2zM51 304l-1 2-1-1 0-2zM118 321l0 1-1-1zM140 234l0 1-1 0 1-2zM53 225l-1 1-1-2 1-1zM69 202l-2 1 0-3 2-1zM36 262l-2 2 0-3 1-3zM58 273l-1 1-1-1 1-2zM96 252l0 1-1-1 1-1zM80 320l0 1-2-1 1-1zM85 311l-1 2-1-2 1-1zM71 289l-1 2 0-2 0-1zM59 282l-1 1-1-1 1-1zM39 293l-1 2-1-1 1-2zM140 201l-1 1 0-1 0-1zM70 304l-1 0-1-1 1 0zM91 234l-1 2-1-2 1 0zM55 213l-1 2-1-2 1-1zM98 241l-1 1-1-1 0-2zM70 270l-1 2 0-3 1-2zM41 195l0 1-1-1 0-1zM24 271l-1 1-1-2 1-1zM116 253l1 2-2-1-1-2zM77 231l0 1-2-1 0-1zM60 194l-3 0 1-1 3-1zM80 245l-1 2-1-1 1-1zM68 243l-1 2-1-1 1-2zM122 276l0 1-1 0 1-2zM19 311l-2 2 0-2 1-2zM45 318l-1 1 0-2 1-1zM78 319l0 1-1-1 1-2zM18 188l0 2-1-2 0-2zM58 324l-1 1 1-2 1-1zM111 204l-1 1-1-2 1 0zM55 207l-1 1 0-2 1-1zM61 300l1 1-1 0-1-1zM66 220l-1 3-2-4 2-2zM130 233l-1 1 0-2 1 0zM98 194l-1 2-1-1 1-2zM47 293l-1 1 0-1 0-2zM135 192l-1 1-1-2 1-2zM31 281l-1 2 0-2 1-1zM125 243l-1 1-1-1 1-1zM18 204l-1 2-1-1 1-2z"/>
<path fill="#12de32" d="M53 195l0 3-1 4-3-5 0-6 0-2 2 2zM48 192l0 1 0 2-1-2-1-3 0-1 1 0zM48 190l-2 5-1-3 2-3 2-4 0 2zM111 199l0 4-1 1-1-1-1-6 1-2 0-2zM107 190l0 1-1 0 0-1 0-1 0-2 1 1zM43 211l0 3-1 0-1-1 0-4 0-2 1 1zM79 210l0 2 0 1-1-1 0-2 0-2 1 1zM108 209l0 2-1 0 0-1-1-1 1-1zM104 202l0 1-1 1 0-1 0-2 0-1 1 0zM124 205l1 3-1 2-2-3-1-3 1-1 1 0zM123 206l-1 2-1 2-2-3 0-3 0-2 2 1zM35 214l0 3-1 2-1-2 0-3 0-2 1 0zM65 214l0 3 0 2-1-2-1-2 0-4 1 1zM102 215l0 5-2 4-1-5 1-6 1-3 1 0zM122 216l-2 6-1 0 0-4 0-6 2-4 1 4zM114 213l0 1-1 0 0-1-1-1 1 0zM12 232l0 1-2 2 0-2 0-3 1-3 1 1zM16 229l-2 6-3 1 0-3 3-10 1-2 1 4zM11 229l0 2-1 0 0-1 0-1 0-1zM26 227l-1 5-1 0-1-2-1-4 1-3 1 2zM44 229l0 3-1 0 0-2 0-2 1-1 0 1zM64 228l-1 1 0-1 0-2 1 0zM77 229l-1 3-1 3-1-4 1-3 1-3 1 1zM92 232l0 2-1 0-1-2 1-1 0 1zM64 241l-2 3-1 2 0-4 1-3 1-1 1 0zM66 243l1 5-1 2-2-2-2-4 0-3 2 1zM147 236l0 1-1 2-1-3 0-2 1-2 1 1zM19 254l1 2-1 2-2-3 0-2 1-3zM20 247l1 5-2 0-1-2-1-3 0-3 1-1zM42 254l-1 2-1 1 0-2 0-4 0-1 1 1zM36 253l0 5-1-1-1-2 0-5 1-2 1 1zM55 251l-1 2 0-1 0-1-1-1 1-1zM67 248l-1 6-1 2-1-6 1-6 0-2 2 0zM9 269l-1 2-1 1 0-3 1-2 1-2 1 2zM8 269l-1 3-1 0-1-1 1-2 1-2 1 0zM44 261l-1 5-1-2 0-1 0-5 1-3 1 3zM58 262l-1 1-1 0 0-3 1 0zM58 262l-1 2-1 0 0-2 1-1 0 1zM67 267l0 1-1 1 0-1 0-1 1-1zM74 263l0 7-1 2-2-6-1-6 1-2 2 2zM82 262l-1 7-1 1-1-5 0-8 1-2 1 1zM80 265l0 4-1 0-2-1-1-5 1-3 2 2zM91 269l0 3-1 2 0-2 0-3 0-2 1 0zM50 282l0 1-1-1 0-1 0-1 1 1zM51 290l-1 4-1 1-2-1 1-6 1-3 3 2zM63 284l1 3-1 3-2-4-1-4 0-3 2 2zM96 283l0 1-1 1 0-2 0-3 1-1zM27 298l-1 4-1 2-1-3-1-6 1-1 1 0zM22 292l1 5-2 1-2-2 0-5 1-2 1 0zM93 295l0 2-1 0 0-1 0-1 0-3 0 2zM95 294l0 1-1 1 0-2 0-2 1-1 0 1zM98 294l0 1-1 0-1 0 0-1 1-1zM26 310l0 3-1 0 0-1 0-3 0-1 1 1zM21 315l-1 2-1 1-1-2 0-3 2-1 1 0zM22 318l0 2-2 2 0-2 0-4 0-3 1 1zM22 326l-1 5-2 1 0-2 0-5 2-4 1 3zM62 205l-1 2-1-2 1-1zM81 272l0 2-2-2 0-1zM58 205l-1 1-1-1 1-1zM11 266l-1 1-1-1 1-2zM28 295l0 1-1 0 0-2zM48 241l0 2-1-1 1-3zM101 284l0 2-1-1 0-1zM91 297l-1 0-1 0 0-1zM52 192l-1 2-1-1 1-2zM37 254l0 2-2-1 1-2zM25 230l-2 3 0-4 2-1zM44 237l-1 4-1-3 1-3zM120 310l0 1-1-1 1-1zM12 243l-1 1 0-1 0-1zM111 208l0 2-1-1 0-1zM111 194l0 3-2-1 0-3z"/>
<path fill="#30f026" d="M50 196l0 3-1 2-1-1-1-4 1-2 1 1zM50 204l-1 2 0-1-1-2 1-1zM65 207l-1 4-1 0 0-2 0-3 1-4 1 1zM57 199l1 7-2 1-2-6-1-4 1-5 1 3zM101 208l0 2-1 1 0-2 0-1 0-2 1 0zM110 211l0 1-1 1-1-1 0-1 0-2 1 1zM33 212l-1 7-2 1-1-5 0-5 2-3 2-1zM42 213l0 2-1-1-1-1 1-1 1 0zM46 220l-1 2-1 0 0-2 1-1 0-2 0 1zM55 213l0 4-1 0-1-2 0-2 0-3 1 1zM64 222l0 1-1 1 0-1 0-2 0-2 1 0zM59 218l-2 7-2 2 0-4 1-6 2-6 1 2zM101 212l0 3-1 1-1-2 0-2 1-2zM106 221l-1 3-1 1-1-3 1-3 1-2 1 2zM123 222l-1 2-1 0 0-2 0-2 1-1 1 1zM58 234l-1 1-1 1-1-2 1-1 0-1 1 0zM60 232l0 2-1 1 0-2 0-3 1-2 0 2zM70 230l0 1-1 0-1 0 1-2 0-1 1 1zM96 227l0 1-1-1 0-1 0-2 1 1zM96 230l-1 1-2 2-1-2 0-5 1-4 2 2zM18 240l-1 3-1 2-1-3 1-3 2-3 0 1zM26 238l-1 2 0-1 0-1 1-1zM32 241l0 1 0 1-1-1 0-1 1-1zM33 241l-1 2-1 2-1-2 0-4 1-5 1 3zM60 236l-1 1 0-1-1-1 0-1 1 0zM97 238l1 4-1 0-1-1 0-5 1-1zM107 240l0 3-1 0 0-3 0-3 1-1 1 1zM71 248l0 3-1-1 0-3 0-2 1 1zM66 251l0 1-1 1 0-1 0-2 0-2 1 2zM110 253l0 1 0 1-1-1 0-2 1-2 0 1zM18 266l0 3-2 1 0-2 0-4 2-3 1 0zM51 268l0 1 0 1-1-1 0-2 1 0zM73 266l0 4-1 2-1-4 0-5 1-1 0 1zM70 281l0 2-1 2-2-3 0-3 1-3 1 1zM53 287l-1 4-1 1-1-1 0-7 1-2 2 0zM48 284l-1 3-1 0 0-4 1-1 1 1zM56 282l-1 2 0-1-1 0 1-2 0-1zM103 290l-1 4-1 0-1-2 1-3 2-3 0 2zM25 305l0 2-1 1-1-2-1-3 1 0 1-1zM66 302l-1 3-1 1 0-2 0-4 1-1 1 1zM26 327l0 5-2 2-1-6 0-5 1-3 1 1zM27 326l1 3-1 0 0-1-1-3-1-2 2 2zM13 206l-1 2-1-1 1-2zM64 261l-1 2-1-1 0-3zM40 253l-1 2-1-2 1-1zM42 286l0 1-1-1 1-1zM122 216l-1 2 0-2 0-2zM97 208l-1 2-2-1 1-2zM120 243l-1 1-1-1 0-2zM16 247l-1 2 0-3 1-1zM9 232l-3 0 1-2 2 0zM96 267l0 1-1-2 1 0zM93 281l-1 2-1-2 1-2z"/>
<path fill="#dc24e8" d="M59 189l-1 1-1-1 1-1 1-1zM66 197l-1 1-1 2-1-1 1-5 0-2 1 1zM70 204l0 2-1 0 0-1 0-1 1-2 0 1zM126 222l-1 2-1 1 0-2 0-2 1-1 1 1zM131 227l0 2-2 0 0-1 0-3 1-1 1 1zM145 236l-1 1-1 0 0-2 1-1zM132 253l0 3-2 1-1-3-1-3 1-3 1 1zM87 263l0 3-2-1-1-1 0-2 1-1 1 0zM121 264l-1 1-1-1 1-2 1 0zM121 268l-1 2-1 1 0-3 1-2 1-3 1 0zM49 269l-1 6-2 1 0-5 1-3 1-3 1 1zM11 282l0 3 0 2-3-3 0-3 0-3 2 1zM18 285l-1 1-1 1 0-2 0-3 1-1 1 1zM11 292l-1 3 0-2 1-4 0-1 1 2zM128 283l-2 5-1 1-1-3 1-8 1-2 2 1zM129 282l0 6-2 0-1-4 0-3 1-5 0 1zM84 301l-1 5-1 1-2-2 1-8 1 0 1-1zM105 303l0 6-1 4-3-7 0-7 1-3 2 0zM134 298l0 2-1 1-1-2-1-3 1-2 1 0zM99 315l-1 3-1 1-1-3 0-2 1-2 1 1zM124 308l0 1-1 1 0-1 0-2 0-1 1 1zM118 308l-1 2-2 1 0-2 0-3 2-4 1 2zM125 311l0 3-1-1-1-3 1-1 1 1zM73 319l-1 2-1 0-1-2 0-1 2-3 1 1zM89 326l-1 3-1-2 1-3 0-1 1 1zM111 318l-1 5-1 0-1-4 0-2 1-3 2-1zM70 201l-1 2-1-2 1-1zM91 305l-2 1 0-2 2-3zM130 313l-1 2-1-1 1-2zM135 225l-1 1 0-1 0-1zM133 290l0 1-1-1 0-1zM77 204l0 1-2-1 1-1z"/>
<path fill="#fa36dc" d="M57 192l0 3-1 1-1-1 0-5 0-3 1 1zM62 188l1 3-1 0-1-1-1-3 0-2 1 1zM77 216l0 2-1 1-1-2 0-2 0-1 1 0zM72 223l-1 1 0-1 0-1 0-1 1 0zM68 215l-1 1-1 0-1 0 1-3 1 0 1 0zM131 215l-1 5-1 2-2-3 0-4 1-3 3 1zM137 217l0 3-1 1-1-3 1-3 1 0zM146 222l-1 5-1 0-1-3 0-5 1-1 1 1zM130 235l0 3-1 1-1-2 0-3 1-4 1 1zM135 247l0 2-2 0 0-1 0-3 1-1 1 0zM130 256l0 2-1 0-1-1 0-4 1-2 0 1zM139 248l0 1 0 1-1-1 0-2 1-2 0 1zM116 260l0 2-1 1-2-1 1-4 0-4 2 2zM47 279l-1 2-1 1 1-2 0-2 0-1 1 1zM28 287l0 1-1 1 0-1 0-2zM127 285l-2 4-1-1 0-2 1-4 1-2 1 1zM129 294l0 1-1 0 0-1 1-2 0-1 1 0zM39 303l0 6 0 1-1-4-2-4 1-3 2 1zM34 300l-1 3-1 1-2-3-1-3 2-2 1 2zM125 299l-1 4-1 0 0-1 0-3 1-2zM135 293l0 2-1 1 0-1 0-3 1 0 0-1zM44 310l0 4-2 0-1-2 0-4 2-2 1-1zM83 309l0 1-1 0 0-1 0-1 0-2 0 1zM124 306l0 2-1 1 0-1-1-3 1-1zM93 322l-2 3-2 1 0-3 2-4 2-2 1 0zM102 265l0 2-1-1 0-2zM84 306l-1 1-1-1 2-2zM69 211l-1 1-1-2 1-1zM133 294l-2 1 0-1 2-1z"/>
<path fill="#2e36e2" d="M66 191l0 2-1 0 0-1-1-1 1-1 0-1zM90 194l0 4-3 1 0-3 0-7 2-4 2 3zM84 208l-1 2-2 1 0-2 1-3 1-2 1 0zM10 219l-1 4-2 1 0-2 1-5 2-4 1 3zM14 220l-1 4 0 2-2-3 0-6 1 0 0-2zM33 213l0 3-2 1 0-2-2-5 2-3 1 1zM73 230l-2 5-1 1 0-3 0-4 2-4 1 3zM115 225l0 2-1 0 0-1 0-1 0-1 1 0zM118 241l0 3-2 0-1-1 0-4 0-2 2 2zM86 250l0 3-1 2-1-2-1-4 1-3 2 0zM20 266l1 3-1 3-3-3 0-3 0-4 2 2zM26 278l0 2-1 0 0-1 0-1 1-1zM25 273l-1 1-1 1-1-3 0-3 2-1 1 1zM22 276l-1 2 0 2-2-2 0-5 0-2 2 1zM112 277l1 1-1 1 0-1-1-1 0-2 1 0zM26 281l1 4-1 1-2-3 0-2-1-4 2 2zM111 288l0 4-2 1-2-1 1-6 1-2 1-1zM101 285l0 2-1 0-1-1 0-3 1 0 1 0zM113 293l0 4-2 4-2-4-1-5 1-3 1-1zM66 311l0 1-1 1 0-2 0-1 0-1 1 0zM104 313l1 3-2 1-2-3 1-2 0-1 1-1zM89 236l-1 1 0-1 1-1zM70 313l0 2-2-1 1-2zM83 247l-1 1 0-2 1 0zM90 251l-1 1-1-2 1 0zM112 270l0 2-2-1 0-2zM86 208l-2 2 0-2 1-1zM79 247l-1 3-1-3 1-2zM79 257l-1 2-1-2 2-2zM117 272l-1 2-1-3 2-2zM30 259l0 2-1-1 0-2z"/>
<path fill="#ece224" d="M69 198l0 1-1 2 0-3 0-1 1-1 0-1zM39 207l1 7-2 4-2-7 0-7 1-5 2 3zM58 213l0 2 0 3-1-3-1-3 0-2 2 0zM62 215l-1 3-1 1 0-2 0-2 1-2 0 1zM29 234l-1 3-1 1 0-3 0-2 1-3 0 1zM30 232l-1 3 0 3-2-3-1-5 1-3 1 1zM29 227l-2 3-1 1-2-1 2-9 1-3 1 3zM44 228l-1 1 0 1-2-1 0-1 0-2 1 0zM32 237l1 2-1 2-2-2 0-1 0-3 2 0zM67 241l0 1-1 0 0-2 1-2 0 1zM78 257l-1 2-1 1-2-2 0-3 1-4 2 1zM116 286l0 3-1 0-1-2 0-3 0-3 2 1zM142 292l0 3-2 0 0-4 1-1 1 0zM137 289l0 2-1 2-1-3 1-4 0-1 2 1zM145 294l0 5-1 2-1-2-1-5 1-2 1 0zM148 313l-1 5-1 3-1-4 0-6 1-3 1 2zM147 189l0 2-1-2 0-1zM125 193l0 1-1 0 0-2z"/>
<path fill="#ea6824" d="M89 199l-1 4-1 3-2-5 1-6 1-3 0 2zM98 198l-1 1-1 0 0-2 0-1 1 0 1 0zM136 194l0 2-1-1 0-1 0-1 1 0zM23 201l0 1 0 1-1-1 0-2 1 0zM135 207l-1 3 0-1-1-1 1-3 1-1 0 1zM131 208l-3 8-1-1 0-5 1-4 2-3 1 0zM26 222l-1 2 0 1-1-2 0-3 1-1 1 0zM23 242l-1 1-1-1 1-1zM33 249l0 4-1 0-2-3 0-3 0-2 2 1zM39 256l-1 2-1 1 0-2 0-3 1-3 1 2zM62 250l0 1-1-1 0-1 1-1zM68 261l0 2-1 1 0-2 0-1 1-2zM114 265l0 1-1 1 0-1-1-2 1-3 1 1zM128 263l-1 4 0 1-1-4-1-3 1-3 1 2zM143 262l-1 2-1-2 0-2 1-1 1 1zM129 275l0 3-1 2-1-4 0-3 0-3 1 1zM135 271l-1 2-1 1 0-2 0-2 1-2 1 1zM134 276l0 2-1 1 0-2 0-1 0-1 1 0zM37 287l0 3 0 1-1-1-1-5 1-1zM138 295l1 2-1 1-1-1 0-2 0-2 1 1zM39 309l0 4-2 0-1-1-1-5 1-3 2 0zM64 317l-1 4-1-1 0-1 0-5 1-2zM57 313l0 1-1 1 0-1 0-2 1 0zM32 323l0 3-2 1-1-2 1-3 1-2 1 0zM62 328l0 3-1-2 0-2 0-2 1 1zM70 324l0 1-1 1 0-2 1-1 0-2 1 1zM70 319l-1 1 0-2 2 0zM38 290l1 2-2-1-1-3zM125 278l-2 3 0-3 1-2zM39 188l0 1-2-1 1-1zM117 238l-1 1-1-1 1-1zM20 279l-1 2 0-2 0-1zM97 306l-1 2-1-3 2-1zM110 228l-1 1-1-1 1-2zM134 268l-1 2-1-2 1-2zM91 217l-1 2-1-1 0-2zM58 320l-1 1-1-2 1 0zM38 192l-2 1-1-2 3-2zM134 264l-1 2 0-1 1-2zM114 201l-1 2-1-2 1-2zM94 206l0 1-1-1 0-1zM22 277l-2 2 0-2 0-3zM78 213l-1 1-1-1 1-2z"/>
<path fill="#2ce2ec" d="M115 190l-1 2-1-1 0-1 1-1zM112 202l0 2-2 1-1-2 1-2 0-2 1 1zM99 230l0 1-1 1 0-2 0-2 1 1zM99 224l0 2-1-1 0-1 0-1zM49 243l1 2-1 1-2-1 0-3 1-2 1 1zM43 244l0 2-1-1 0-2 0-2 1 1zM42 247l0 2-1 0 0-1 0-2 1 0zM99 248l0 4-1 1-3-2 0-3 2-2 1 0zM32 278l0 1-1 0 0-1 0-1 1 0zM39 281l-1 1-2 2 0-3 0-3 1-1 2-1zM60 279l0 2-1 1-1-2 0-3 1-1 1 1zM61 277l0 7-2 2 0-4-1-7 1-2 2-1zM95 270l0 1-1 1 0-1 0-2 1 0zM58 285l-1 6-2 1-1-5-1-5 2-2 1 0zM65 281l0 5-2 0 0-1 0-5 0-2 2 0zM116 289l1 3 0 2-2-2-1-5 0-1 2-1zM46 294l0 2-1 0 0-1 0-3 1-1 0 1zM60 296l0 1-1-1 1-1zM29 316l-1 1-1-2 2-1zM61 285l-2 1 1-2 1-1zM104 229l0 1-1-2 1-1zM9 273l-1 1-1-2 0-2zM100 225l-1 2-1-3 1-1zM12 246l-1 1 0-1 1-2zM145 275l-2 2-1-3 1-1zM117 284l-1 2-1-1 1-2z"/>
<path fill="#1cdaf2" d="M122 194l1 4 0 3-2-3-1-4 0-3 1 0zM121 195l-2 3 0-2 1-3 1-1 0 1zM92 211l-1 2-1-1 1-2 1 0zM101 214l-1 3-1-1 0-1 0-2 1-2 0 2zM103 232l0 3-1 0-1-1-1-2 1-3 1 2zM55 245l-2 5-1 2-1-4 0-6 1-3 2-1zM53 254l0 2-1 0 0-2 0-2zM12 274l0 1-1 0 0-2 1-1zM37 280l-1 5-1 1-1-3 0-6 1-2 1 0zM101 275l-1 3-1-1-1-1-1-3 2-1 1 0zM110 276l0 4 0 2-3-4 0-3 0-2 1-2zM101 281l-1 1 0 2-1-2 0-2 1-2 0 1zM63 285l0 4-1 3-1-4-2-6 0-2 2 1zM98 286l0 3-1 0-1-1 1-4 1-1zM113 287l0 1-1 0 0-1 0-2 0-1 1 1zM119 288l-1 1 0-1 0-2 1 0zM49 294l0 2-1-1 0-2 1-1zM48 305l0 1-1 0-1-1 0-1 1-1zM63 303l1 1-1 0-1 0 0-1 0-1 1 0zM89 289l0 2-1-2 0-2zM52 243l0 2-1-2 1-2zM81 214l0 2-2-1 1-2zM78 283l-1 2-1-1 1-2zM65 291l-2 2 0-2 1-3zM38 297l0 1-1-1 1-1zM91 275l0 3-2-2 1-2zM47 213l-1 2 0-3 1-1zM38 249l-1 2-1-1 0-1zM51 237l-1 2 0-2 0-1z"/>
<path fill="#22e62c" d="M121 198l0 1 0 1-1-1 1-2zM50 209l0 2-1 0-1 0 1-3 0-2 1 0zM56 202l0 2-1-1-1-1 1-2 1-1zM57 209l1 3-1 2-3-3-1-5 2 0 1 1zM101 204l0 4-1 0-1-2-1-3 1-2 1 0zM91 203l0 1-1 2 0-2 0-2 0-2 1 2zM111 210l-2 4-1-1 0-2 2-6 2-3 2 2zM122 209l0 3-1-2 0-2 1-1zM115 208l0 2 0 1-1-1-1-3 1 0zM119 201l0 2-1 1 0-1 0-2 0-2 1 1zM115 210l-1 4-1 1 0-4 0-3 2-4 1 1zM37 220l-1 3-1 1-1-3 1-3 1-4 2 2zM48 223l-2 3-1 2-2-4 1-5 2-4 1 3zM94 221l0 4-1 1-2-2 0-7 1-1 1 1zM104 217l-1 2-1-1 0-2 1-2 0-1zM110 216l0 1-1-1 0-1 1 0zM106 213l0 2-1 2-1-3 0-3 1-1 1 0zM123 215l0 2-1 0 0-1-1-2 1 0zM17 228l0 2-1-1 0-2 1-1 0 1zM44 226l0 3-1 2-1-2 1-4 0-2 1 0zM54 231l0 1-1 0 0-1 1-1zM101 231l0 2-1 0 0-1 0-2 1-1 1 0zM18 244l-1 2-1-1 0-1 1-2zM14 240l0 2-1 0 0-1 0-2 1-2 0 1zM32 242l-1 3-1 1 0-2 0-2 0-1 1-1zM49 236l0 3 0 2-1-3 0-2 0-2 1 0zM59 239l-1 7-1 1-2-3 1-5 1-6 1 1zM70 239l-2 4-2 0-1-2 2-4 2-1 2 0zM94 245l-1 1-1-1 0-2 1-1 1 1zM36 253l1 0-1 1-1-2 0-1 1 1zM62 257l0 3-1-1 0-1-1-1 1-1 1 0zM65 247l0 1-1 1 0-1 0-2 0-1 1 1zM45 263l-1 2-1 1-1-2 0-4 1-3 1 3zM62 260l-1 1-1 0 0-1 1-1 0-1 1 0zM58 264l-2 6-2 2-1-3 1-9 2 0 2 0zM66 263l0 1-1 0 0-1 0-1 1 0 0-1zM71 269l-1 2-1 0 0-1 1-2 0 1zM80 266l0 2-1 0 0-2 0-2 0-2 1 1zM98 263l0 1-1 1 0-1 0-3 1-1zM85 277l-1 8-2 0 0-5 1-5 2-5 1 1zM88 272l-1 2-1 0 0-2 1-3 1-3 1 2zM76 284l1 3-3 2 0-4 0-3 1-2 1-1zM91 289l-1 1-1-2 1 0 0-1 1 0zM93 291l0 3-1 0 0-2-1-3 1-1 0 1zM108 289l-1 4-1 1-2-3 0-4 1-2 3 0zM113 286l-1 5-2 0 0-5 0-5 1-1 1 0zM28 298l0 1-1 1-1-1 0-3 1-2 1 1zM54 293l-1 2-1-1 0-2 1-1 1 1zM73 294l-1 4-1 0-1-1 0-4 1-3 1 1zM68 302l-2 3-1 0 0-3 0-3 2-1 2 0zM93 302l-1 2-1 0-1-2 0-1 1-1 1 1zM94 299l-2 6-2 2 0-6 1-3 1-3 2-1zM29 307l0 1-1 0-1 0 0-2 1-1zM28 315l-1 3-1 1-1-2 0-3 1-1 1-1zM110 210l-1 1-1-1 1-1zM49 278l-1 1 0-1 1-1zM96 239l-1 1-1 0 1-2zM62 220l-1 0 0-1 1-1zM67 253l-2 2 0-3 2-3zM15 244l-1 2 0-2 1-2zM97 200l0 2-2-2 0-2zM55 251l-3 1 1-3 3 0zM110 258l-1 1-1-2 2-1zM27 314l1 2-2-1-2-2zM63 212l0 1-1-1 1-1zM45 204l-1 2-1-2 1-2zM100 259l-1 1 0-2 1-1zM98 267l-1 0-1-1 1 0zM61 264l-1 2-1-2 1-1zM107 218l-1 0-1-1 1 0zM63 245l-1 1-1-2 2-1zM43 284l-1 3-1-2 0-3z"/>
<path fill="#dcda2a" d="M44 211l-3 5-1 1-1-1 2-9 2-2 2 0zM54 208l-1 4-2 0-1-2 0-6 2-3 1 3zM36 218l1 3-1 2-1-2-1-4 0-2 1 0zM65 212l-1 1-1 1 1-2 0-2 1 0zM21 222l0 6-2 1-1-3 1-4 1-5 1 3zM38 223l0 2-1 1 0-2 0-2 0-2 1 0zM75 244l-1 3-1 0-1-2 0-4 1-1 1 1zM74 240l0 2-1 0 0-2 0-2 1 0zM23 257l0 1 0 1-1-1 0-1 1-1zM139 296l1 3 0 2-2-2-1-4 0-2 1 0zM117 315l-1 3-1 3-2-4-1-8 1-4 3 3zM43 226l-1 1 0-2 1 0zM45 231l-1 0-1-1 1 0zM114 313l-1 0-1 0 0-2zM48 205l-1 2-1-1 0-2zM116 216l-1 1-1-1 1-2z"/>
<path fill="#faec1e" d="M45 204l-1 2-1 2 0-2-1-3 1-1 1 0zM39 222l0 1-1 2 0-1 0-2 0-3 0 1zM35 213l-1 2-1 0-1-2 1-3 1-1 1 1zM121 216l-1 1-1-1 1-1 0-1 1 0zM26 230l1 3-1 1 0-1-2-4 0-2 1 1zM35 224l0 1-1 1 0-2 0-1 0-1 1 1zM47 232l0 3 0 1-1-2-1-4 1-1 0 1zM46 233l-1 2-1 0 0-1 0-1 1-1 0-1zM27 255l-1 3-1 0-1-1 0-3 0-3 2 1zM66 253l0 3-1 0 0-2-1-2 1-2 1 1zM137 306l-1 1-1 2 0-2 0-5 1-1 1 1zM142 311l0 1-1 1 0-1 0-1 0-1 1 0zM145 299l-1 2 0-2 1-2zM136 322l0 3-2-2 0-3zM31 222l0 2-1-2 0-1zM8 321l-2 2-1-2 3-3zM141 314l0 3-2-2 0-2z"/>
<path fill="#ec2ce2" d="M73 204l1 3-1 0-1 0-2-3 1-2 1 0zM74 221l-1 2-1 0 0-2 1-1 1 0zM127 214l0 2-1 1 0-2 0-3 1-3 1 2zM129 234l-1 2 0-2 0-1 0-1 1 0zM132 223l-1 6-2 1 0-2 0-5 1-3 1 1zM136 236l0 2-1 0 0-1-1-1 1-1zM128 241l-1 1 0-1-1-1 1 0zM125 242l-1 1 0-1-1-1 1-1 1 0zM136 240l-1 1 0 1 0-1 0-1 0-1 0 1zM130 254l0 2-1 0 0-1-1-1 1-1zM117 260l0 4-1 1-2-3 0-3 1-4 1 2zM44 274l0 4-2 2 0-5 0-2 1-4 1 2zM81 294l0 2-1 2-1-2-1-3 1-1 2 0zM80 303l0 3-1 1-2-3 0-5 1-2 1 1zM87 294l0 2-2 0 0-1 0-2 0-1 2 0zM119 297l0 2-1-1 0-1 0-1 1-1 0 1zM115 301l0 4-1 1-1-3 0-3 1-4 1 2zM131 303l0 1-1-1 0-1 1 0zM134 298l-1 1 0 1-1-1 1-2 0-1 1 1zM48 313l-1 3-1 0-1-1 1-2 0-2 1 0zM48 316l0 1 0 1-1-1 1-2 1 0zM89 306l-1 1-1 1 0-1 0-2 1-2 1 0zM82 309l0 2-1 2-1-3 0-2 0-1 1 1zM125 311l-1 1-1 0 0-1 0-1 0-1 1 0zM129 310l0 2-1 3-1-4 0-4 1-2 0 1zM125 282l-1 1 0-1 0-1zM128 228l0 1-1-1 1-2zM35 261l-1 1-1-1 0-2zM131 304l-1 1-1-1 1-1zM131 251l-1 1 0-2 2-1zM85 311l0 2-2-1 0-1zM9 284l-1 3-1-2 0-2zM124 312l-1 2-1-2 1-1zM12 292l-1 1-1-1 1-1zM78 313l0 2-1-1z"/>
<path fill="#1024ee" d="M87 203l-1 2 0 2-1-2-1-4 1 0 1 0zM14 220l0 5-2 3-1-5 1-3 1-7 1 1zM67 225l-2 4-1 0 0-3 0-3 1-3 1 1zM77 233l0 4-1 0-1-2 1-2 0-2 1 1zM123 233l0 1-1 0 0-1 1-1zM89 256l-1 8-2 0-1-3 1-8 1-3 1 1zM93 255l-2 5-1 0 0-3 0-3 2-5 1 4zM111 261l0 3-2 2-1-3 0-4 1-4 2 2zM110 264l0 2-1-1 0-1 1-1 0-1zM110 259l0 6-2 5 0-5-2-5 1-5 2-2zM124 275l0 2-1 1 0-1-1-3 0-1 1 0zM121 292l0 5-2 0 0-1-2-8 1-1 1 1zM109 295l-1 3-1 1-1-2 0-3 1-2 1 1zM105 302l0 1-1 1 0-2 0-2 1 0zM106 297l-1 6-1-2-1-1 0-4 0-4 2 0zM106 297l-1 1 0 1-1-2 1-1 1 0zM114 296l0 1 0 1-1-1 0-1zM71 316l-1 3-1 1 0-2 0-5 1-1 1 0zM106 314l0 1 0 2-1-2-1-3 1-1 1-1zM116 306l0 1-1 2-1-3 1-1 0-1 1-1zM123 309l0 4-1 0-1-2 0-3 0-3 1 1zM84 250l0 2-1-2 1-1zM70 269l-1 3-1-3 1-1zM89 306l0 1-1-1 0-2zM126 194l-1 1-1-1 1-2zM119 207l-1 1-1-1 1-2zM140 192l0 1-1-1 1-2zM117 278l-1 2-1-1 0-2zM56 188l0 1-1-1 0-1zM48 278l-1 2-1-1 1-2z"/>
<path fill="#3aece6" d="M101 205l1 3 0 1-2-2-1-3-1-3 1 0zM44 246l-1 7-1-1-1-2 0-6 1-3 1 0zM45 257l0 2-1 0 0-1 0-2 0-1 1 0zM39 282l1 2-1 2-2-2-1-4 0-4 2 2zM100 279l-1 1 0 1-1-2 1-1 0-1zM91 281l-1 4-1-1-1-2 0-2 1-2 2 0zM104 272l-1 1-1 0 0-3 1-2 1 0zM25 289l0 1-1 0-1-1 1-1 1 0zM85 283l0 2-1 0 0-3 0-1 1 1zM84 287l0 2-1 1 0-1 0-2 0-1 1 0zM85 286l-1 2 0-1 0-1 0-1 0-1 1 1zM81 289l-1 1-1 0 0-2 1-1zM62 304l0 1-2 3-1-4 0-3 1-1 1 1zM58 293l0 1-1 1 0-1 0-1 0-1 1 0zM64 297l0 2-1 0 0-1 0-2 1-1 0 1zM110 305l-1 5-1-1-1-2 1-5 1-2 1 0zM75 207l-1 1 0-2 1-1zM103 235l-1 0 0-2zM95 227l0 1-1-1 0-2zM25 301l0 2-1-2zM69 293l0 1-1-2 1-1zM61 293l1 2-2-2 0-2zM11 273l-1 2 0-2zM111 229l0 2-1-1 0-2zM121 199l-1 2-1-1 1-3zM87 293l-1 1-1-2 1-1zM19 293l-1 1 0-1 1-2zM47 247l-1 1-1-2 1-1zM20 230l-1 3-2-3 0-1zM54 269l-1 1 0-2 1-1z"/>
<path fill="#e6369c" d="M126 217l-2 6-1 1-1-5 0-4 3-4 0 2zM137 210l0 4-1-1-1-3 0-2 1 1zM136 225l0 4-1 2-1-2-2-10 1-1 2 1zM139 232l-2 1-1 1-1-2 0-3 1-2 2 1zM146 252l-1 3-2 2 0-2 1-6 2-3 0 1zM145 279l0 4-2 0 0-2 1-4 1-3 1 3zM134 298l0 2-2 2-1-3 0-4 1-1 1 0zM81 323l-1 2-2 1-1-1 1-2 1-2 1 0zM89 328l0 1-1 1-1-2 0-1 1 0 1 0zM106 322l0 3-1-1 0-3 0-2 1 1zM125 198l-1 1-1-1 1-1zM41 238l0 1-1-2 1-1zM146 257l0 1-1-1 0-1zM84 323l-2 0 0-1 1-1zM124 229l0 3-2-3-1-2zM127 295l0 1-1-1 0-1zM114 315l-1 1 0-2 1 0zM33 309l-1 1-1-1 1-1zM34 209l0 2-2-1-1-3zM94 326l-1 2-1-1 1-2z"/>
<path fill="#4aa0ef" d="M115 229l0 1-1-1 0-1 1 0zM111 290l-2 2 0-2 1-1z"/>
<path fill="#ff4890" d="M135 227l0 1-1 0 0-2zM146 225l0 4-2 1 0-4 0-5 1-1 1 1zM146 236l0 3-1 2-1-4 0-2 1-3 1 2zM139 276l0 1-1 1 0-1 1-2 0-1 1 0zM98 327l-1 3-1 0-1-1 1-3 1-3 1 0zM92 326l-1 5-1-2 0-1 0-3 1-4 1 2zM122 326l1 4-1 1-1-2-1-2-1-3 2-1zM21 236l0 2-2 0 0-3zM133 221l-1 1-1-2 2-1zM94 321l-1 1-1-1 2-2zM43 268l-1 3-1-2 0-3zM110 220l-1 1-1-1 1-2zM49 257l-1 1 0-2 0-1zM44 265l-1 1 0-2 1-1z"/>
<path fill="#3c96f5" d="M109 244l0 1-1 1-1-1 1-2 0-1 1 0zM52 219l0 1-1-1 0-2zM78 306l-2 2-1-3 2-2z"/>
<path fill="#2c8efb" d="M105 239l0 2 0 1-1-1 0-2 0-1zM118 233l0 1-2-1 1-2zM128 310l-1 1 0-1 1-1z"/>
<path fill="#9634ec" d="M69 275l0 2-1 1 0-2 0-2 0-2 1 1zM135 291l0 1-1-1 1-1zM98 270l0 2-1-2 1-3zM68 251l-2 2-1-3 2-1zM46 207l-1 2-1-2 1-1zM98 196l0 1-1-1 1-2zM24 328l-1 2 0-3 1-1z"/>
<path fill="#f63e96" d="M96 274l0 3-2 2-1-3 1-4 1-1 1 0zM143 272l-1 1 0 1 0-1 0-1 1-1zM136 275l0 2-1 1-1-1 1-4 1-2 0 1zM139 275l-1 3-2 0-1-1 1-3 1-3 0 1zM147 277l-1 3-1 1-1-3 0-3 1-2 1 1zM21 286l0 3-1 0-1-1 0-3-1-3 2 1zM80 322l0 2-1 0 0-1 0-3 0-1 1 0zM101 326l0 2-1 0-1 0 0-2 0-1 1-1zM110 323l0 2-1 1-1-1 0-2-1-2 2 1zM112 326l0 2 0 1-1-1-1-2 0-2 1 1zM110 320l0 2-1 1-1-2 0-2 0-2 1 0zM136 221l-1 2 0-2 0-2zM145 214l-1 3-1-3 1-3zM135 228l-2 2-1-3 2-2zM134 299l-1 1-1-1 1-1zM142 219l-1 1 0-1 1-2zM43 258l1 2-2-1-1-3zM18 323l0 1-1-2 0-1zM90 189l-1 1 0-2 1-1zM107 323l0 3-1-2 0-3zM143 234l-1 2-1-2 0-2z"/>
<path fill="#f6a8c4" d="M12 300l1 3-1 0-1-2-1-2 0-2 1 0zM14 307l-1 3-2 1 0-3 0-4 2-4 1 1zM14 297l-1 1 0-1 1-1zM15 302l0 2-1-1 0-2z"/>
<path fill="#ffb2be" d="M12 294l-1 5-1 0 0-4 0-3 1-5 1 3zM16 295l-1 1 0 1-1-1 0-1 1-1zM8 312l1 4-1 0-2-2-1-3 1-2 1 1z"/>
<path fill="#e6a0ca" d="M12 306l0 1-1 0 0-2 0-1zM13 315l-1 1 0-1 0-1 1 0z"/>
<path fill="#862cf2" d="M46 254l-2 0 0-1 1-1zM100 245l-2 1 0-2 3 0zM49 204l-1 1-1-2 2-1z"/>
<path fill="#aaf028" d="M40 213l-1 1-1-2 1-1zM23 283l0 1-1-1 1-1zM100 227l-1 1-1-1 2-1z"/>
<path fill="#9ae82e" d="M144 216l-1 2-1-3 1-2zM20 296l-1 1-1-1 1-2zM132 261l-1 1-1-1 1-2zM111 270l0 1-1 0 0-1zM103 224l-1 2-1-1 1-4zM12 256l-1 2-1-2 2-1zM140 214l-1 1 0-1 2-1z"/>
<path fill="#a43ee6" d="M93 210l0 1-1-1 1-1zM54 294l-1 1-1-1 1-1zM110 328l-1 2-1-2 1-2zM82 283l-2 2 0-1 0-2zM8 303l-1 2-1-1 1-1z"/>
<path fill="#b8fa22" d="M44 198l-2 1 1-2 2-1zM13 234l-1 2-1-2 1-1zM145 303l0 2-1-2 0-2z"/>
</g></g>
<clipPath id="clip_e"><rect x="148.7" y="187.9" width="141.10" height="140.40"/></clipPath>
<g clip-path="url(#clip_e)"><g filter="url(#soft)">
<path fill="#22e62c" d="M149 188l12 0 0 12-12 0zM160 188l13 0 0 12-13 0zM207 188l13 0 0 12-13 0zM219 188l12 0 0 12-12 0zM266 188l12 0 0 12-12 0zM160 200l13 0 0 12-13 0zM196 200l12 0 0 12-12 0zM207 200l13 0 0 12-13 0zM255 200l12 0 0 12-12 0zM278 200l12 0 0 12-12 0zM149 211l12 0 0 12-12 0zM160 211l13 0 0 12-13 0zM196 211l12 0 0 12-12 0zM149 223l12 0 0 12-12 0zM160 223l13 0 0 12-13 0zM196 223l12 0 0 12-12 0zM149 235l12 0 0 12-12 0zM160 235l13 0 0 12-13 0zM184 235l12 0 0 12-12 0zM196 235l12 0 0 12-12 0zM149 246l12 0 0 12-12 0zM172 246l12 0 0 12-12 0zM231 246l12 0 0 12-12 0zM149 258l12 0 0 12-12 0zM160 258l13 0 0 12-13 0zM184 258l12 0 0 12-12 0zM207 258l13 0 0 12-13 0zM231 258l12 0 0 12-12 0zM184 270l12 0 0 12-12 0zM278 270l12 0 0 12-12 0zM184 282l12 0 0 12-12 0zM184 293l12 0 0 12-12 0zM172 305l12 0 0 12-12 0zM278 305l12 0 0 12-12 0zM148 226l0-7 1-5 1 2 0 15-1-1zM149 214l-1 5 0-4 0-13zM151 235l0-22 3 29-1 7zM153 249l1-7 1-4 1 1 2 35-5-7-1-5zM154 216l2-10 1 6-1 26 0 1-1-1zM160 189l1-2 1 0 0 6-1 1zM162 249l2-26 1 3 1 30-1 7-2-5zM172 303l4 3-1 8-3-9zM177 306l2 15 0 7-2-4zM177 302l0-6 1-7 4 15 2 15 0 10-5-8-2-15zM184 329l-5 0 0-1 0-7zM180 230l1-10 2-5 1 1 1 3-2 24-2 2zM187 283l1-19 0-6 5 31-2 5-3-7zM189 217l2-6 0 8-2 14zM193 240l-4-5 0-2 2-14 1 0 2 3 1 15zM200 297l2 12 0 2-2 2-1-2zM200 217l0-3 1 2 0 13-1-5zM206 224l0-10 0-12 1-4 1 15 0 13-1 6zM209 247l0 2 2 3 2 21-1 11-3-3zM211 193l1 0 1 1 1 13-1 15-2-28zM215 187l1 0 1 25-1 0-1-3 0-21zM216 187l2 0 1 24-2 2 0-1zM222 266l0-31 2 2 1 12-1 15-2 5zM220 206l0-19 2 0 1 7 0 4zM236 258l1-4 2 1 1 20 0 18-2-9-2-25zM240 245l1-1 1 24-2 7-1-20zM244 283l1 19-1 3-1-17zM247 268l0 13-2-2 0-21zM248 300l1-12 1-5 2 22-1 2-1 3zM251 248l2-5 1 8 0 1-3 3zM263 302l1-13 3 6 1 7-1 10-4-1zM262 228l-2 2 0-15 1 2 1 8zM278 265l1-6 3 16-4 7zM280 298l4-15 1 17-2 18-1 0zM276 187l3 0 0 6-1 6-2-7zM284 274l0-26 4-2 0 2-1 32-3 3zM283 318l2-18 2 27 0 2-3 0zM280 187l4 0 0 7-2 14zM284 283l3-3 1 5 0 41-1 1-2-27zM284 194l0-7 2 0 2 28-2-2zM288 285l2 8 0 9 1 22-3 2zM286 187l3 0 0 7 0 25-1-4zM289 219l0-25 2 9 0 12-1 5-1 1z"/>
<path fill="#ec161c" d="M172 188l12 0 0 12-12 0zM231 188l12 0 0 12-12 0zM243 188l12 0 0 12-12 0zM255 188l12 0 0 12-12 0zM278 188l12 0 0 12-12 0zM172 200l12 0 0 12-12 0zM219 200l12 0 0 12-12 0zM231 200l12 0 0 12-12 0zM243 200l12 0 0 12-12 0zM266 200l12 0 0 12-12 0zM172 211l12 0 0 12-12 0zM207 211l13 0 0 12-13 0zM219 211l12 0 0 12-12 0zM231 211l12 0 0 12-12 0zM243 211l12 0 0 12-12 0zM255 211l12 0 0 12-12 0zM266 211l12 0 0 12-12 0zM278 211l12 0 0 12-12 0zM172 223l12 0 0 12-12 0zM184 223l12 0 0 12-12 0zM207 223l13 0 0 12-13 0zM219 223l12 0 0 12-12 0zM231 223l12 0 0 12-12 0zM243 223l12 0 0 12-12 0zM255 223l12 0 0 12-12 0zM266 223l12 0 0 12-12 0zM278 223l12 0 0 12-12 0zM172 235l12 0 0 12-12 0zM219 235l12 0 0 12-12 0zM231 235l12 0 0 12-12 0zM243 235l12 0 0 12-12 0zM255 235l12 0 0 12-12 0zM266 235l12 0 0 12-12 0zM278 235l12 0 0 12-12 0zM160 246l13 0 0 12-13 0zM184 246l12 0 0 12-12 0zM196 246l12 0 0 12-12 0zM207 246l13 0 0 12-13 0zM219 246l12 0 0 12-12 0zM243 246l12 0 0 12-12 0zM255 246l12 0 0 12-12 0zM266 246l12 0 0 12-12 0zM278 246l12 0 0 12-12 0zM172 258l12 0 0 12-12 0zM196 258l12 0 0 12-12 0zM219 258l12 0 0 12-12 0zM266 258l12 0 0 12-12 0zM278 258l12 0 0 12-12 0zM149 270l12 0 0 12-12 0zM160 270l13 0 0 12-13 0zM172 270l12 0 0 12-12 0zM196 270l12 0 0 12-12 0zM207 270l13 0 0 12-13 0zM219 270l12 0 0 12-12 0zM231 270l12 0 0 12-12 0zM243 270l12 0 0 12-12 0zM255 270l12 0 0 12-12 0zM266 270l12 0 0 12-12 0zM149 282l12 0 0 12-12 0zM172 282l12 0 0 12-12 0zM196 282l12 0 0 12-12 0zM207 282l13 0 0 12-13 0zM231 282l12 0 0 12-12 0zM243 282l12 0 0 12-12 0zM255 282l12 0 0 12-12 0zM278 282l12 0 0 12-12 0zM149 293l12 0 0 12-12 0zM172 293l12 0 0 12-12 0zM196 293l12 0 0 12-12 0zM207 293l13 0 0 12-13 0zM231 293l12 0 0 12-12 0zM243 293l12 0 0 12-12 0zM255 293l12 0 0 12-12 0zM278 293l12 0 0 12-12 0zM149 305l12 0 0 12-12 0zM160 305l13 0 0 12-13 0zM184 305l12 0 0 12-12 0zM196 305l12 0 0 12-12 0zM207 305l13 0 0 12-13 0zM219 305l12 0 0 12-12 0zM231 305l12 0 0 12-12 0zM243 305l12 0 0 12-12 0zM255 305l12 0 0 12-12 0zM266 305l12 0 0 12-12 0zM149 317l12 0 0 12-12 0zM160 317l13 0 0 12-13 0zM172 317l12 0 0 12-12 0zM184 317l12 0 0 12-12 0zM196 317l12 0 0 12-12 0zM207 317l13 0 0 12-13 0zM219 317l12 0 0 12-12 0zM231 317l12 0 0 12-12 0zM243 317l12 0 0 12-12 0zM255 317l12 0 0 12-12 0zM266 317l12 0 0 12-12 0zM278 317l12 0 0 12-12 0zM149 259l0-29 1 1 1 4 2 14-1 13-1 0zM154 187l2 0-1 3zM150 292l1-30 1 0 1 5 0 19-2 10zM153 286l5 23-1 6-3 6zM164 329l-3 0 0-22 0 1 2 5zM160 304l1 3 0 22-4 0 0-14 1-6zM163 261l0-3 2 5 1 12 0 12-2 22-1 4-2-5zM168 329l-1 0 1-13 1 1 0 6zM169 249l0-12 2 9 1 19-1 4-1-6zM179 329l-2 0 0-5 2 4zM177 193l-2-6 3 0 0 8zM181 265l0-18 0-2 2-2 1 14 0 20-1 5zM183 215l-5-16 0-4 0-8 5 0 0 1 1 28zM193 266l0-26 2-3 1 6-1 44-1 0zM198 312l1-1 1 2 1 8 0 8-2 0 0-1zM195 288l3-9 2 8 0 10-1 14-1 1zM198 247l1 1 4 27 0 3-3 9-2-8zM213 329l-3 0 1-16 2 3zM203 275l1 1 2 6 0 38-3-13 0-29zM208 226l3-2 1 7-3 16-2-10 0-5zM208 213l2-4 1 15-3 2zM214 299l-1-3 2-2 1 4 1 11-2 3zM220 324l1-15 2 1 0 4 0 15-3 0zM219 320l-1-22 3 2 0 9-1 15-1-3zM217 213l2-2 1 0 1 17-2 16-1-11zM221 228l-1-17 5 14-1 12-2-2zM223 314l2 14 0 1-2 0zM225 249l2 4-1 18-2-7zM223 198l2 21 0 4 0 2-5-14 0-5zM227 210l0-2 3-18 1 23 0 13-2 2zM231 296l3 16 1 17-5-18zM234 281l4 3 2 9-1 8-3 1 0-1zM237 243l-1-11 0-5 2 3 0 3 2 12-1 10-2-1zM237 187l3 0-1 11-2-5zM239 301l1-8 1 1 3 16 0 6 0 1-2 3-2-16zM236 197l1-4 2 5 1 7-2 13-1-2zM244 305l1-3 2-1 0 2 0 9 0 4-3 0 0-6zM244 316l3 0 0 13-2 0-1-12zM244 212l1 6 0 18 0 10-3-32zM245 258l0-2 2-9 1-1 0 1 0 2 1 19-2 0zM249 318l1-8 0 19-1 0zM251 248l0 7 0 1-1-10 0-16 1 2zM260 219l-1 8-2-17zM259 231l1 3 1 7 0 8-2-14zM258 271l1 0 4 12 1 6-1 13-4-22zM266 246l-2 15 0-3 0-27 0-1zM265 205l2-10 2 0 1 11 0 25-4-6-1-6zM291 326l0 3-4 0 0-2 1-1 3-2zM278 282l4-7 2 8-4 15-2-4 0-8zM272 235l2-2 1 20 0 1 0 2zM274 197l1-2 3 37 0 1-2-6zM282 318l1 0 1 11-3 0 0-3zM291 290l0 13-1-1 0-9zM291 303l0 23 0-2-1-22z"/>
<path fill="#3c96f5" d="M184 188l12 0 0 12-12 0zM188 188l0-1 4 0 0 9-1 1-2-4z"/>
<path fill="#2ce2ec" d="M196 188l12 0 0 12-12 0zM149 200l12 0 0 12-12 0zM160 282l13 0 0 12-13 0zM160 293l13 0 0 12-13 0zM152 202l4 2 0 2-2 10zM161 194l1-1 3 3-2 21-1-7zM168 276l1-3 1 17 0 12zM170 263l1 6 0 7 0 1-1 13-1-17zM170 302l0-12 1-13 2 9 0 7-1 10 0 2 0 1zM199 187l3 0 0 7zM197 190l0-3 2 0 3 7-3 9z"/>
<path fill="#202ce8" d="M184 200l12 0 0 12-12 0zM184 211l12 0 0 12-12 0zM243 258l12 0 0 12-12 0zM255 258l12 0 0 12-12 0zM219 282l12 0 0 12-12 0zM266 282l12 0 0 12-12 0zM219 293l12 0 0 12-12 0zM266 293l12 0 0 12-12 0zM185 219l-1-3-1-28 5 0 1 5-4 27zM189 193l0 24 0 16 0 2 0 1-1 1-3-17zM191 197l1 22-1 0 0-8zM191 197l1-1 2 13 0 2 0 11-2-3zM203 187l3 0 1 10 0 1-1 4-3-10zM234 280l0 1 2 20-1 7zM251 232l1 3 1 8-2 5zM254 280l-3-7 0-1 3-20 0-1 2 4 1 10zM252 187l5 0 0 3-1 10-3 4 0-1zM268 276l1 0 4 27-2 10-3-11-1-7z"/>
<path fill="#fa701e" d="M207 235l13 0 0 12-13 0zM209 188l1 6 0 15-2 4-1-15 0-1zM214 240l1-3 3-4 1 11 0 8-2 4-2-5 0-3zM234 219l1 1 1 5 0 2 0 5-2 4zM270 233l2 2 3 21 0 3-2 3-3-8zM274 233l0-3 1-5 1 2 2 6-3 20z"/>
<path fill="#dc0e22" d="M150 329l-2 0 0-6 0-1 2 6zM148 259l0-32 0-1 1 4 0 29zM152 327l2-6 3-6 0 14-5 0zM159 268l4-7-2 47 0-1-1-3-2-25zM173 329l-1 0 1-3zM171 246l2 5 2 16 0 1-3-3zM171 269l1-4 3 3-1 6-3 2zM173 293l4 3 0 6-1 4-4-3zM189 329l-5 0 0-10 2-6zM184 257l4 7-1 19-3-6zM194 329l-3 0-1-12 1-23 2-5 1 1 0 6zM188 258l0-21 1-1 4 30 1 21 0 3-1-1zM199 248l2-11 1 0 0 1 1 37zM207 329l-3 0-1-21 0-1 3 13 1 5zM210 301l-1-20 3 3 1 12 1 3-1 16 0 1-2-3zM210 194l1 0 2 28 0 10-1-1-1-7-1-15zM212 231l1 1 1 8 1 8-6 1 0-2zM212 284l1-11 1-11 1 22 0 10-2 2zM214 259l3 25-2 0-1-22 0-1zM215 326l0-11 3 7-2 7zM217 309l-1-11 2-5 0 5 1 22zM215 251l2 5 1 27 0 4-1-3-3-25zM216 212l1 0 0 1 1 20-3 4zM222 187l1 0 0 7zM226 195l1 13 0 2-2 9-2-21zM233 216l1-7 1-9 0 20-1-1zM235 198l0 2-1 9-2-22 1 0zM233 187l4 0 0 6-1 4-1 1zM234 236l2-4 1 11-3-5zM235 220l0-20 0-2 1-1 1 19-1 9zM236 225l1-9 1 2 0 12-2-3zM238 233l2-24 1 5 0 27 0 3-1 1zM239 198l1-11 5 0-1 25-2 2-1 0-1-5 0-4zM245 329l-2 0-1-9 2-3zM242 268l0 1 2 12 0 2-1 5-2 6-1-1 0-18zM247 301l-2-20 0-2 2 2 2 7-1 12-1 3zM248 187l4 0 1 16-1 1-3-8zM245 218l0 1 3 27-1 1-2-11zM247 281l0-13 2 0 2 7-1 8-1 5zM252 305l1 2 0 22-1 0-1-22zM257 329l-2 0 1-9 0 1zM257 265l1 6 1 9 0 17-3 15-1-3-1-29zM256 255l-1-21 0-4 1-5 2 22 0 14-1 4zM256 312l3-15 3 32-2 0-4-8 0-1zM255 234l-1-7 0-9 1 2 0 10zM257 210l2 17 0 4 0 4-1 2-2-14 0-5zM263 329l-1 0-3-32 0-17 4 22 0 9zM258 237l1-2 2 14-3 12 0-14zM257 190l0-3 3 0 0 7-1 3zM259 227l1-8 0-5 0 1 0 15 0 4-1-3zM259 271l3-4 1 16zM262 225l1 4-2 12-1-7 2-6zM263 192l0-5 3 0 1 8-2 10-1-6zM264 230l1-11 1 6 1 22-1-1zM267 247l-1-22 4 6 0 2 0 21-1 6zM276 329l-3 0 1-22 3 10 0 6zM278 286l-2-9-1-18 0-3 0-2 3 11 0 17zM271 206l1-2 1 0 2 21-1 5zM275 253l3-20 0-1 1 2 0 1 0 24-1 6-3-11zM278 326l3 0 0 3-3 0zM282 275l-3-16 0-24 1 0 4 39 0 9zM287 280l1-32 3 10 0 32-1 3-2-8zM288 246l1-20 2 12 0 20-3-10zM291 215l0 9-1-4z"/>
<path fill="#fa2016" d="M150 328l-1-37 1 1 1 4 1 31 0 2-2 0zM148 275l0-16 1 0 2 3-1 30-1-1-1-4zM156 204l-1-14 1-3 2 0 0 24-1 1-1-6zM159 242l1-3 2 10 1 9 0 3-4 7zM160 221l2-11 1 7 1 6-2 26-2-10zM177 329l-2 0 0-15 1-8 1-4 0 4 0 18zM169 237l0-1 4 1 0 14-2-5zM171 276l3-2-1 12-2-9zM172 306l0-1 3 9 0 15-2 0 0-3zM173 286l1-12 1-6 0-1 0 1 2 21 1 0-1 7-4-3zM183 282l-1 22-4-15-1 0 3-25 1 1zM178 217l3 3-1 10-2-7zM187 309l3 8 1 12-2 0-3-16zM188 287l3 7-1 23-3-8zM189 235l4 5 0 26-4-30zM195 237l-1-15 0-11 4 14 0 13 0 9-2-4zM196 243l2 4 0 32-3 9 0-1zM202 309l1-1 1 21-1 0-1-9 0-9zM200 313l2-2 0 9-1 1zM206 282l3-1 1 20-3 24-1-5zM202 238l3 8-1 30-1-1zM205 242l2-5 2 10 0 34-3 1-2-6 1-30zM213 315l2 11 1 3-3 0 0-13zM211 252l-2-3 6-1 0 3-1 8 0 2zM217 309l2 11 0 1-1 1-3-7 0-3zM219 244l2-16 1 7 0 31-3-14zM223 310l1-16 2 4 1 6 1 10-2 15-1-1-2-14zM230 329l-4 0 2-15 1 5zM225 223l3 19 0 7-1 4-2-4-1-12 1-12zM225 219l2-9 2 18-1 14-3-19zM226 187l4 0 0 3-3 18-1-13zM228 242l1-14 2-2 0 1 0 40-3-18zM230 187l2 0 2 22-1 7-2-3-1-23zM243 329l-4 0 1-25 2 16zM235 308l1-7 0 1 1 27-2 0-1-17zM231 267l0-40 2 17-2 26zM239 329l-2 0-1-27 3-1 1 3zM245 281l2 20-2 1-1-19 0-2zM248 300l2 10-1 8-2-6 0-9zM244 212l1-25 3 0 1 9 0 23-4 0 0-1zM251 307l1 22-2 0 0-19zM249 222l1 7 0 1 0 16-2 3 0-2zM251 275l0-2 3 7 1 29-2-2-1-2-2-22zM250 229l2-12 1 10-1 8-1-3-1-2zM260 329l-3 0-1-8zM272 329l-3 0 1-10zM256 223l2 14 0 10-2-22zM263 311l4 1 2 17-6 0zM261 249l0-8 2-12 1 2 0 27-1-1zM265 265l3 11-1 19-3-6zM278 329l-2 0 1-6 1 3zM275 259l1 18-2 10-1-25zM269 195l0-8 3 0 0 17-1 2-1 0zM276 192l2 7 1 6 0 29-1-2-3-37zM288 246l-4 2-1-14 3-1zM286 233l0-10 0-10 2 2 1 4 0 2 0 5-1 20zM289 221l1-1 1 4 0 14-2-12z"/>
<path fill="#dc24e8" d="M149 291l1 37-2-6 0-7 0-23 0-5zM252 204l1-1 0 1 1 14 0 9-1 0-1-10z"/>
<path fill="#30f026" d="M148 193l0-6 2 0 0 4-1 6zM150 191l0-4 4 0-2 14-1 0zM158 274l-2-35 0-1 3 4 0 26-1 11zM152 201l2-14 1 3 1 14-4-2zM157 212l1-1 2 10 0 18-1 3-3-4zM163 313l1-4 4 7-1 13-3 0zM162 187l4 0 0 4-1 5-3-3zM170 329l-2 0 1-6zM165 263l1-7 3-7 1 14-1 10-1 3-2-1zM168 224l0-3 2-7 4 10-1 13-4-1zM183 282l1-5 3 6 1 4-1 22-1 4-2 6-2-15zM176 232l2-9 2 7 1 15 0 2-4-7zM203 329l-2 0 0-8 1-1zM194 209l3-13 1 20 0 9-4-14zM203 278l0 29 0 1-1 1-2-12 0-10zM198 238l2-14 1 5 0 8-2 11-1-1zM201 229l0-13 2 10-1 11-1 0zM204 219l-1 7-2-10 1-22zM207 325l3-24 1 12-1 16-3 0zM209 187l2 0 0 6 0 1-1 0-1-6zM214 299l1 13 0 3 0 11-2-11zM211 187l2 0-1 6-1 0zM215 284l2 0 1 3 0 6-2 5-1-4zM223 194l0-7 3 0 0 8-3 3zM226 271l1-18 1-4 3 18 0 3 0 5 0 2-1 2-3-4zM234 238l3 5 0 11-1 4-2-13zM241 244l0-3 3 11-2 17 0-1zM255 329l-2 0 0-22 2 2 1 3 0 8zM256 218l-1 2-1-2-1-14 3-4 1 10zM258 261l3-12 2 8-1 10-3 4-1 0-1-6zM256 200l1-10 2 7 1 17 0 5-3-9zM263 283l-1-16 1-10 1 1 0 3 1 4-1 24zM266 187l3 0 0 8-2 0zM273 303l1 2 0 2-1 22-1 0-2-10 1-6zM272 204l0-17 2 0 1 8-1 2-1 7zM278 294l2 4 2 20-1 8-3 0-1-3 0-6zM279 234l0-29 3 5 0 1 0 7 0 12-2 5-1 0zM282 230l1 4 1 14 0 26-4-39zM282 230l0-12 4 5 0 10-3 1zM282 211l0-3 2-14 2 19 0 10-4-5z"/>
<path fill="#12de32" d="M148 193l1 4-1 5zM150 216l1-5 0 2 0 22-1-4zM160 187l1 0-1 2zM169 187l2 0 0 4 0 3zM163 217l2-21 1-5 2 30 0 3-3 2-1-3zM165 226l3-2 1 12 0 1 0 12-3 7zM171 187l2 0 0 4-2 0zM173 237l1-13 1-1 1 9 1 8 0 1-2 27 0-1-2-16zM171 194l0-3 2 0 2 21 0 11-1 1-4-10zM175 212l2-19 1 2 0 4 0 18 0 6-2 9-1-9zM183 243l2-24 0 1 3 17 0 21 0 6-4-7zM194 290l0-3 1 0 0 1 3 24 1 16-3-6-2-26zM194 296l2 26-1 7-1 0zM198 225l0-9 2 1 0 7-2 14zM202 237l1-11 2 16 0 4-3-8zM204 219l2 5 1 8 0 5-2 5-2-16zM202 194l1-1 3 21 0 10-2-5zM214 261l0 1-1 11-2-21zM220 329l-4 0 2-7 1-1 1 3zM212 193l1-6 2 0 0 1-2 6zM218 187l2 0 0 19 0 5-1 0zM219 252l3 14 0 3 0 7-1 7-3 0-1-27zM231 275l0-5 2-26 1 1 2 13 0 1-2 21zM236 259l2 25-4-3 0-1zM247 316l0-4 2 6 0 11-2 0zM260 214l-1-17 1-3 3-2 1 7-3 18-1-2zM261 217l3-18 1 6 0 14-1 11 0 1-1-2-1-4zM268 302l3 11-1 6-1 10-2-17zM270 231l0-25 1 0 3 24 0 3-2 2-2-2zM273 204l1-7 2 30-1-2zM282 210l-3-17 0-6 1 0 2 21 0 3zM278 199l1-6 3 17-3-5z"/>
<path fill="#a43ee6" d="M151 296l2-10 1 35-2 6zM153 267l5 7 0 5 2 25-2 5-5-23z"/>
<path fill="#3aece6" d="M148 202l1-5 1-6 1 10 0 10-1 5-1-2zM164 309l2-22 3 18 0 12-1-1zM166 287l0-12 2 1 2 26-1 3zM166 187l3 0 2 7-1 20-2 7-2-30zM173 191l0-4 2 0 2 6-2 19zM183 187l5 0 0 1-5 0zM197 196l0-6 2 13 1 11 0 3-2-1zM203 192l3 10 0 12-3-21z"/>
<path fill="#1cdaf2" d="M151 211l0-10 1 0 0 1 2 14 1 22-1 4-3-29zM158 211l0-24 2 0 0 2 1 5 1 16-2 11zM202 187l1 0 0 5 0 1-1 1zM169 317l0-12 1-3 2 4 1 20-1 3-2 0-1-6zM181 220l-3-3 0-18 5 16zM207 197l-1-10 3 0 0 1zM274 187l2 0 0 5-1 3z"/>
<path fill="#fa36dc" d="M175 268l2-27 3 23-3 25z"/>
<path fill="#2e36e2" d="M177 241l0-1 4 7 0 18-1-1zM192 187l5 0 0 3 0 6-3 13-2-13zM199 203l3-9-1 22-1-2zM222 269l2-5 2 7 1 4-1 23-2-4-2-18zM234 312l-3-16 0-19 0-2 3 5 1 28zM242 269l2-17 1 0 0 4 0 2 0 21 0 2-1 0zM245 246l0-10 2 11-2 9 0-4zM251 255l3-3-3 20 0-16zM265 265l-1-4 2-15 1 1 2 13 0 16-1 0z"/>
<path fill="#ec2ce2" d="M199 329l-4 0 1-7 3 6zM249 222l0-3 0-23 3 8 0 13-2 12zM260 187l3 0 0 5-3 2z"/>
<path fill="#1024ee" d="M191 197l0 14-2 6 0-24zM218 287l0-4 3 0 0 17-3-2 0-5zM222 276l2 18-1 16-2-1 0-9 0-17zM226 298l1-23 3 4-3 25zM230 279l1-2 0 19-1 15-1 8-1-5-1-10zM241 294l2-6 1 17 0 5zM245 219l4 0 0 3-1 25 0-1zM249 268l-1-19 2-3 1 10 0 16 0 1 0 2zM253 227l1 0 1 7 1 21-2-4-1-8-1-8zM255 220l1-2 0 5 0 2-1 5zM260 230l2-2-2 6zM269 276l0-16 1-6 3 8 1 25 0 18-1-2zM274 305l0-18 2-10 2 9 0 8-1 23-3-10z"/>
<path fill="#ea6824" d="M213 222l1-15 1 2 1 3-1 25-1 3-1-8zM213 194l2-6 0 21-1-2zM229 319l1-8 5 18-5 0zM231 226l0-13 2 3 1 3 0 17 0 2 0 7-1-1-2-17zM238 218l2-13 0 4-2 24 0-3z"/>
<path fill="#ff7a18" d="M241 214l1 0 3 32 0 6-1 0-3-11z"/>
<path fill="#ff4890" d="M289 187l2 0 0 16-2-9z"/>
<path fill="#202ce8" d="M232 291l0 2-1 2-1 1-1 2-2-1-2 0-1-2 0-2-1-2 1-2 1-2 1-2 1 0 2-1 1 1 1 2 0 2z"/>
<path fill="#202ce8" d="M283 291l-1 3 0 3-2 2-2 0-3 0-2-1-2-1 0-3-1-3-1-3 2-2 2-2 2-2 3 1 2 1 1 2 1 2z"/>
<path fill="#202ce8" d="M266 264l0 3-1 2-1 2-1 1-2 1-1-2-1-2-1-2 0-3 0-2 1-2 1-2 1-2 2 1 1 1 1 2 1 2z"/>
<path fill="#3c96f5" d="M253 264l0 2-1 1-1 1-2 1-1 0-2-1-1 0-1-2 0-2 0-1 1-1 1-1 2 0 1-1 1 1 2 1 1 1z"/>
<path fill="#dc0e22" d="M153 193l-1 4-1-2 0-3 0-2 2 1zM152 199l-1 2 0-1-1 0 0-1 0-1 1 0zM161 191l-1 5-1 3-1-3 0-7 1-4 1 1zM170 196l-1 2 0-1-1 0 0-2 1-1 0 1zM169 190l-1 2 0 1 0-2 0-1 0-1 1 0zM213 198l-1 5-2 3-1-3 0-9 2-5 2 2zM228 197l-1 4-2 0 0-3 0-3 1-2 2-1zM260 189l-1 3-2 2 0-2 1-5 1-2 1 1zM291 194l-1 3-1-1-1-2 1-2 1-3 1 3zM173 207l-1 4-1 1-1-2 0-5 2-2 1 0zM219 208l0 3-1 0 0-1-1-3 1-1 1 1zM237 202l-1 4-1 3-2-3 0-4 2-2 0-1zM164 213l-1 3-1 1 0-2 0-4 1-3 1 1zM164 219l-1 2-2 0-1-1 1-3 2-3 1 2zM191 220l0 1-1 1 0-1 0-2 0-1 1 0zM258 215l-1 2-1-1 0-2 1-1 1 1zM158 229l0 2-1 0 0-1 0-1 1-1zM159 231l-2 2-1 1-1-2 0-4 1-3 2 2zM153 224l0 1-1 1-1-1 0-2 1-2 0-1zM165 226l-2 8-1-1-1-2 1-6 1-3 1 2zM191 233l0 2-1-1 0-1 1-1zM194 233l-1 2 0-1 0-3 0-1 0 1zM199 226l0 2 0 1-1-2 0-2 0-1 1 1zM203 226l0 3-1-1 0-1 0-2 0-1 1 1zM223 229l-1 2-1-2 0-1 1-1zM254 226l-1 8-1-1-1-3 0-7 2-5 1 4zM174 244l0 1-1 1-1-2 0-2 1-1 1 0zM174 236l0 2-1 0-1-2 0-4 1-2 1 3zM190 244l-1 3 0-1-1-1 1-2 1-2 0 1zM195 237l0 5-2 2 0-3-1-4 1-4 1 0zM201 239l0 3-1 0-1-2-1-2 1 0zM206 237l-1 2 0-1 0-1 0-2 1 0 0 1zM237 243l-1 5-1 1-1-4 0-5 2-4 1 2zM281 245l0 4-3 1-1-3 1-4 1-2 2-2zM159 248l1 2-1 2-2-3 0-2 0-2 1 0zM155 254l-1 4-2 2 0-3-1-4 1-5 1 1zM169 251l-1 3-2 0-1-3 0-2 3-3 1 2zM166 251l-1 3-1 1 0-2 0-2 1-2 1 1zM177 255l1 6-1 1-1-4-2-5 1-3 1 1zM193 255l-1 2-1 0 0-1 0-3 1-1 1 1zM188 255l0 4 0 4-3-5-1-4 0-3 2 1zM238 246l0 2-1 0 0-1-1-1 1-1 0 1zM243 247l1 9 0 3-3-6-1-9 1-2 1-1zM161 260l0 3-2 0 0-2 0-3 1 0 1 0zM160 262l0 2-1 1-1-1 0-4 0-1 1 0zM191 262l-1 1-1-1 0-1 1-1zM205 262l0 3 0 2-1-3-2-4 1-2 1 1zM210 260l-3 4-2-1 1-2 2-3 3-3 0 1zM229 260l0 2-1 1-1-2 0-3 1-3 1 0zM232 259l-2 2-1-2 1-1 2-1 0 1zM156 270l-1 3-1-1-1 0 0-3 0-1 2 0zM165 273l0 2-2 0-1-2 1-2 1-2 1 2zM232 278l-1 3-1 3-1-6-1-5 2-2 1 1zM162 288l-1 1-1 1 0-1 0-1 1-1zM197 284l-1 3-2 0-1-2 1-3 1-1 1 1zM197 284l-1 1-1 0 0-1 0-1 1-1zM229 281l0 2-1 0 0-1 0-1 0-1zM272 285l-1 1-1 1 0-2 0-2 1-2 1 1zM194 298l-1 1 0 2-1-2-2-4 1-1 1-1zM220 297l-1 3-1 0-1-1 1-5 1-5 1 2zM272 298l-1 5-1 1-1-4 0-3 2-6 1 3zM179 309l0 2-1 2-1-1-1-7 1-2 1 0zM187 305l1 1-1 1-1-1 0-1 0-2 1 1zM201 314l0 1-1 1 0-1 0-2 1 0zM250 308l-1 2-1 0 0-4 0-1 1 1zM292 314l-4 7-1-1 0-4 2-5 4-4 0 3zM172 319l-3 5-1-1 0-3 0-4 2-1 1 0zM204 318l-1 3-1 3-1-5 0-4 0-4 2 2zM285 326l0 3-2 2-1-4 1-2 1-2 1-1zM264 263l0 1-1-1 1-1zM176 278l-2 2 0-2 0-2zM169 208l0 3-1-3 0-2zM282 321l-1 1-1-1 1-2zM290 248l0 1-2-2 1-2zM225 214l0 1-2-1 1-1zM168 325l-1 2 0-3 1-1zM207 217l0 2-1-1 0-2zM167 279l-1 3 0-3 1-2zM184 214l0 1-1-1zM251 292l-1 2-1-2 1-1zM263 322l0 2-2-1 1-3zM197 240l0 3-1-2 1-2zM213 252l-2 1 1-2 1 0zM274 204l0 1-1 0 0-2zM166 243l-1 2-1-3 2-1zM187 213l0 1-1-1 1-2zM217 265l-1 2-1-1 0-2zM270 257l0 1-2-1 1-2zM257 309l-2 2 0-2 2-2zM173 199l-1 0 0-1 2 0zM284 210l-1 1-1-2 2-2zM246 310l-1 1 0-2zM285 201l-1 2-1-2 1-1zM177 243l-1 0 0-1zM159 253l-1 2-1-3 2-1zM249 217l-2 3-1-3 2-3zM209 216l-1 2-1-2 1-1zM245 230l-1 2-1-1 1-2zM289 320l-1 1 0-1 0-1zM194 251l-1 1 0-1 1-1zM176 249l-1 1-1-1 1-1zM289 316l0 2-2 0 0-2zM170 319l-2 1 0-2 1-1zM156 328l-1 1 0-2 1 0z"/>
<path fill="#f63e96" d="M157 198l-1 3 0 1-1-2-1-3 1-1 2 1zM282 188l-1 4-2 0-1-2 1-4 1-3 1 3zM251 202l-1 1 0 1-1-1 0-2 1 0zM231 246l-1 2-1-2 1-1 0-1 1 1zM268 255l-1 3-2 3 1-4 1-3 1-3 1 3zM269 249l0 2-1 0 0-2 0-1 0-1 1 0zM213 275l-1 2-1-1 0-1 0-2 1-1 0 1zM242 266l-1 2 0-3 1 0zM255 290l0 1-1-1 1-1zM290 247l-1 1-2 0 1-2zM278 202l-2 3-1-2 1-2zM247 214l-1 3-1-3 2-1zM202 316l-1 1-1-1 1-1zM198 200l0 2-2-1 1-2z"/>
<path fill="#dcda2a" d="M170 200l0 2-1-1 0-1 0-3 1-1zM242 252l1 7-2 2-2-6-1-8 0-3 3 0zM235 253l-2 3-1 3 0-6 1-5 1-1 2-1zM207 304l0 2-1 2-1-3 0-3 0-2 1 0zM183 216l-1 1-1-1 1-1zM275 227l0 1-1-1 1-1zM206 258l-2 1 0-2 1-1zM258 329l-2 1-1-2 3-1zM189 287l0 1-1-1 1-1zM162 237l-1 2 0-2 1-1zM269 223l-1 2-1-3 2-2zM225 217l-1 1 0-1 0-1zM251 190l0 3-2-2 1-2z"/>
<path fill="#fa2016" d="M162 196l-1 4-1 2 0-3 0-4 1-4 1 2zM183 190l-1 3-1-1 0-1 1-2 1-1 0 1zM213 189l0 2-1 3-2-4 0-5 1-3 1 3zM246 193l1 3-1 1-2-2-1-4 0-5 2 3zM165 209l0 1-1 0 0-1 0-2 1-2 0 2zM177 202l-1 1-1 1 0-2 0-1 0-1 1 0zM214 206l0 4-1 0-1-3 0-4-1-3 2 0zM220 210l-1 2-1-1 0-2 1 0zM208 204l0 1-1 1 0-2 0-1 1-2zM233 207l-1 4-1 2-1-4-1-4 2-2 1 1zM245 204l0 2-1 0 0-1 0-2 0-1 1 1zM249 205l-1 3-1 2-1-3 0-4 2-1 1 0zM265 211l-1 3-1 4-1-4-1-6 1-6 1 5zM262 211l0 1-1 0 0-2 1-1zM278 202l0 2-1 2-2-3 0-3-1-3 2 1zM272 203l-1 5-2 0-1-2 1-3 2-5 1 3zM171 213l0 2 0 1-1-2 0-1-1-2 1 0zM199 223l0 2-1 1-1-2 0-2 1-2 0 1zM238 217l0 3 0 1-2-1-1-4 1-1 1 1zM254 214l0 3-1 0 0-2-1-4 0-1 2 1zM279 223l-1 3-1 1-1-1 0-5 2-3 1 1zM187 228l-1 2-1-1 0-2 1 0 1-1zM204 227l0 1-1 0 0-1 0-1 1 0zM198 224l0 3 0 1-2-3-1-3 1-1 1 0zM208 229l-1 5-1 1-1-2-1-4 1-3 2-1zM257 228l-1 3-1 2-1-4 1-4 1-2 1-1zM151 240l0 1-1 1 0-1-1-2 0-1 1 0zM157 236l-1 3-2 0 0-3 1-2 1-2 1 1zM160 242l0 4-1 1-1-3 0-2 0-2 1-1zM167 245l0 2-1 0 0-1 0-2 0-1 1 1zM163 238l0 1 0 1-2-1 0-2 0-1 1-1zM163 238l0 2-1 1-1-1-1-3 1-1 1 0zM207 241l-1 1-1-1 1-2 0-1 1 1zM206 240l0 4-2 2-1-4 0-6 1-2 2-2zM211 244l0 2-1 1-1-2 0-2 0-1 1 0zM217 238l0 2-1 2-1-3-1-3 0-2 2 1zM159 258l-1 2-1 0-1-1 0-2 0-2 2 1zM182 253l1 2-1 2-1-3-1-2 0-3 1 2zM178 255l0 6-1 1-1-3 0-4 1-4 0 1zM219 249l0 4-1 0-1-1 0-3-1-4 2 1zM277 251l0 6-1 0-1-2-1-5 1-3 1 1zM290 254l-2 3-1 0-1-3 1-1 2-2 1 0zM161 261l-1 1-1-1 0-2 1-1zM160 259l-1 2-1-2 0-1 1-1zM189 263l-1 2-1 3-1-4 1-5 0-2 2 2zM217 261l-1 2-1 0 0-1 0-1 1-2 1 1zM244 260l-1 4-1 0-1-1 0-3 2-2 1 1zM237 267l0 3-1 2-1-3 0-2 0-4 1 2zM237 262l-1 1-2 3 0-4 1-2 1-3 1 2zM273 267l0 2-1 0 0-1 0-2 1-1zM281 266l0 2 0-1-1-2 1-1 0 1zM180 270l0 3-1 2-1-2-1-3 0-2 1 0zM184 276l0 3-1 1-1-3 0-2 1-2 1 1zM192 276l-1 3 0 1-2 0-1-7 1-1 1-1zM191 276l0 3-1 0-1-2 0-2 0-1 1 1zM201 275l0 6-2 0-1-3 1-7 0-3 2 2zM220 281l-1 3-1 1-2-3 1-3 1-3 1 1zM241 273l0 3-1 1-1-2 0-2 0-1 1-2zM256 271l0 4-2 0-1-2 0-4 1-4 1 3zM257 279l0 2-1 0 0-1 0-2 1-2zM270 275l0 2-1-1 0-1 0-1 1 0zM283 271l0 1-1 0-1-1 1-1 1-1zM161 289l0 2 0 1-1-1 0-3 0-2zM170 286l-1 2-1 0 0-1 0-2 1-1 1 0zM187 290l0 2-1 0-1-1 0-1 1-2zM191 301l1 3-1 1-1-3-1-2 0-2 1 0zM201 305l-1 4-1 1-2-4 0-4 2-5 2 1zM231 303l0 2-1 0-1 0 0-4 1 0 0 1zM247 300l0 3-1-2 0-1 0-2 0 1zM264 295l0 2-1 1-1-2-1-3 0-2 1-1zM284 299l-1 3-2 5-1-6 0-5 2-4 1 1zM280 302l0 1-1 0-1 0 1-3 1-3 1 2zM153 307l-1 3-1 1-1-3 0-3 1-3 2 0zM159 314l-1 4-1-2-1 0 0-4 1-3 1 1zM226 310l0 3 0 3-2-4 0-3 0-4 1 2zM244 315l0 3-1 3-2-4 0-6 0-3 2 1zM252 309l0 3-1 0 0-1 0-2 0-2 1 0zM244 316l0 1-1 0 0-1zM277 316l0 4-1 2-2-5 0-5 0-4 3 4zM282 313l0 2-1 2-1-2 0-2 0-2 1 0zM173 323l-1 2 0 1-1-1 1-4 1-2 0 1zM208 321l0 1-1 1 0-2 0-2 1-1zM219 322l0 2-1-1 0-2 0-2 0 1zM243 319l-1 7-1 0-1-4 0-7 1-1 1 1zM233 319l-2 4-1 0-1-2 2-6 2-1 1 2zM280 239l0 1-2-1 0-1zM222 259l-1 2-1-2 1-2zM279 267l-1 0-1 0 1-2zM164 238l0 1-1 0 0-2zM256 201l-1 2-1-2 1-1zM258 238l-1 2-1-2 1-2zM242 216l-2 0 1-2 3-1zM236 218l-1 2-1-2 1-2zM215 291l0 2-2-1 0-2zM239 205l-1 2-1-2 1-2zM213 210l-1 1 0-1 1-2zM287 319l-1 1-1-1 1-1zM169 236l-2 2 0-2 1-2zM195 326l-1-1 0-1zM210 222l-1 2 0-2 0-1zM248 247l-2 1 0-2 2-1zM282 323l-2 2 0-2 1-1zM184 219l-1 2 0-2 1-2zM239 209l-1 1 0-2 1-1zM158 241l0 2-1-1 0-2zM177 198l-1 3-1-3 1-2zM189 324l-2 2 0-2 2-2zM165 281l-1 2-1-1 1-2zM162 282l-2 1 0-2 1-1zM233 236l-1 1-1 0 1-1zM209 304l-1 1 0-1 0-2zM194 243l-1 1-1-1 1-1zM224 308l-1 3-1-3 0-1zM281 225l-1 3-1-3 2-2zM185 235l-2 1 0-1 1-1zM184 265l-1 1 0-1 1-1zM286 230l0 3-1-3 0-2zM252 294l-1 1-1-1 1-1zM231 320l-1 2-1-2 1-2z"/>
<path fill="#1cdaf2" d="M167 191l0 2-1 0 0-1 0-2 0-1 1 1zM186 194l0 4-2 2 0-3 1-5 1-1 0 1zM186 196l0 2-1 2-2-3-1-3 1-3 1 1zM194 189l-1 6-1 3-1-5 0-8 1-3 2 2zM187 193l0 3 0 2-1-3 0-3 1-1zM223 189l-1 5-2 3-1-4 1-7 1-3 1 2zM221 192l0 1-1 1 0-1-1-2 0-1 1 1zM269 191l0 3-1-1-1-1 0-2 1-2zM181 200l-1 2 0-1-1 0 0-3 1-1 1 1zM187 206l-1 1 0-1 0-1 1-1zM194 201l0 2-1 0-1-1 0-3 1-1zM195 201l-1 7-2-1-1 0 1-7 0-4 2 2zM206 206l-1 4-2 0-1-2 1-4 1-1 1 1zM289 201l0 1-1 0 0-1 1-1zM150 212l0 3-1 0-1-2 0-1 1-2 0 1zM151 220l1 5-2 0-2-2 0-5 1-2 1-1zM179 219l-1 2-1-1 1-2 1-2 0 1zM177 222l0 3-2 2-1-2 1-4 1-3 0 2zM153 226l0 4-1 1-1-1-1-5 1-1 1-1zM238 265l0 4-2 1-1-3-1-2 1-3 2 1zM257 269l0 2-1 0 0-1 0-1 0-2 1-1zM199 272l0 2-1 0 0-1 0-1 1-2zM287 275l-1 1-2 2-1-4 0-4 1-3 2 2zM288 280l0 5-1 1-2-5 0-3 1-4 1 2zM177 294l-1 2-1 2 0-2-1-6 1-2 1 1zM169 309l-1 3-1 0-1-2 1-2 1-2 1 2zM172 316l1 7-1 0-2-3-1-7 1-3 2 2zM277 310l-2 4-1 0-1-3 1-3 1-5 2 4zM222 318l-1 1-1 1 0-3 0-2 1 1zM202 242l-1 1 0-1 1-1zM237 240l-1 2-1-1 1-2zM209 228l-1 3-1-2 1-2zM215 198l0 1-1 0 0-2zM168 316l-1 1-1-1 1-1zM289 304l-1 1-1-1 1-1zM165 296l0 2-2-2 1-2zM228 324l0 2-2-1 0-2zM203 276l-1 0 0-1 1 0zM250 266l-1 2-1-2 1-1zM181 222l-1 1-1-1 2-1zM177 211l-1 1-1-2 2-1zM178 296l-2 1-1-2 1 0z"/>
<path fill="#ec161c" d="M167 189l0 2-1 0 0-1 0-2 0-1 1 0zM177 194l-1 3-1 0-1-1 0-6 2-2 0 1zM227 194l0 2-1 0-1-1 0-2 1-2 1 1zM249 194l-1 2-1 2-2-3 0-3 2-2 2 0zM259 191l0 2 0 1-1-1 0-1 0-2 1 0zM270 197l-1 3-1 0-2-1 1-4 2-2 1 1zM272 187l-2 6-2 2 0-5 1-6 2-3 1 2zM217 207l0 2-1 0 0-1 0-1 0-1 1 0zM281 209l0 2-1 1-1-2 0-3 1 0zM282 202l0 7-1 0-2-4-1-5 1-7 2 2zM189 214l-1 4-1 1 0-4 0-2 1-1 1 0zM266 216l-1 1 0 2-1-2 0-2 1-1 1 1zM276 213l-1 2-1 0 0-2 1-3 1 0zM173 227l-1 6-1 1-2-4 0-6 2-3 1 0zM193 224l0 6-2 0-1-4 0-2 1-4 2 1zM262 229l0 5 0 3-3-6-2-7 2-1 1 1zM279 236l-1 3-2 1-1-4 0-4 2-2 2 1zM281 225l0 2-1 1-1-2 0-3 1-3 1 2zM154 235l0 1-1 0 0-1 1-1zM194 244l0 2-1 0-1-1 0-2 0-1 1 0zM233 240l-1 1-1-1 0-1 1-1 0 1zM242 242l-2 4-1 4-1-6 0-5 1-5 2 1zM254 235l0 2-1 0-1-1 1-2 0-2 1 2zM290 234l-1 4-1 2-1-2 0-6 2-3 1 2zM150 249l-1 1-1 1 0-2 0-1 1-1 0 1zM163 252l0 2-1 0 0-1-1-3 1-1 1 0zM184 251l-1 3-1 1-2-1 2-7 1-4 2 2zM198 249l0 1-1 0 0-1 0-2 1-1 0 1zM210 248l0 1-1 0 0-2 1 0zM237 257l0 2-1 0 0-1 0-4 1-1 1 0zM235 251l0 4-1 0-1-1 0-5 1 0 0 1zM273 251l0 2 0 2-1-2 0-4 1-1 0 1zM279 252l-1 2-1 0 1-1 0-2 1 0zM157 269l-1 2-1 0-1-2 1-1 0-1 1-1zM172 260l1 2-1 1-1-1-1-1 1-1zM194 266l0 3-1 1-1 0-1-6 1-2 1 1zM239 266l0 2-1 0 0-1 0-2 0-1 1 1zM288 261l-1 2-2 2 0-2 0-4 2-1 1 1zM189 270l0 4-1 1-1-1-2-5 1-2 1 0zM232 277l0 2-1 0-1-1-1-2 1-1 2 1zM184 282l0 4-1 0-1-2 0-4 1-1zM184 291l-1 4-1 1-2-3 1-4 0-3 2 2zM191 292l-1 2-1 2-1-4 0-3 1-3 1 0zM188 288l1 4-1 1-2-2-1-6 0-4 2 1zM205 282l-1 3-2 0 0-2 0-2 1-1 2 0zM265 293l0 1 0 1-1-2 1-2 0 1zM258 288l-1 2-1-2 0-1 1-2 1 1zM291 290l0 7-1 0-1-3-2-5 1-4 2 3zM158 300l-1 2 0-1-1 0 1-2 1 0zM176 303l0 4-1 0-1-3-1-5 1-3 1 3zM179 300l0 3-1 3-1-3 0-3 1-4 1 1zM206 297l0 4-1 0-1-1-1-4 1-1 1-1zM219 298l0 2 0 1-1-1 0-3 0-1 1 1zM215 304l-1 3 0-1 0-1 0-1 0-1zM229 301l0 4-1 1-1-3 0-3 1-2 0 2zM207 315l-1 5-2 0 0-2 1-5 1-1 1-1zM198 310l0 1 0 1-1-1 0-1 0-2 1 1zM250 308l-1 1-1 0 0-1 1-1 1-1 0-1zM276 314l0 2-1-1 0-1 0-1zM284 312l0 3-2 2-1-2 0-5 1-2 1 1zM287 305l0 6-1 3-1-6 0-5 0-4 1 1zM161 327l-1 6-1 1-1-2-1-6 2-5 2 0zM162 326l0 4-1 0-2-3 0-4 1-1 1-1zM194 322l0 1-1 0 0-2 1 0zM235 327l0 1-1 0 0-2 0-1 1 0zM233 324l-1 2-1 1 0-1 0-4 1-1 1 1zM267 326l-1 2-1 2-1-4 0-3 2-4 1 2zM275 321l-1 2-1-1-1 0 1-4 1-1 0 1zM157 244l-1 1 0-1 0-1zM282 216l0 1-1-1zM273 248l-1 1-1-1 1-1zM253 200l-1 3-1-4 2-1zM255 326l-1 2 0-2 0-1zM152 277l-1 1 0-1 0-3zM176 232l-1 0 0-1 0-1zM171 239l-1 2-1-2 1-2zM164 292l-1 2-1-2 1-1zM190 238l0 1-1-2 1-1zM169 203l-1 2-1-2 2-2zM182 228l0 2-2-2 1-2zM206 252l-1 1-1-1 1-1zM235 202l0 1-1-1 1-1zM189 254l-2 1 0-2 1-1zM184 231l0 3-2-2-1-2zM269 302l-1 1 0-1 0-2zM152 190l-1 1 0-1 1-2zM205 252l-1 1 0-1 1-1zM231 269l-2 3 0-3 1-2zM286 319l-1 2 0-2 0-2zM220 219l-1 2 0-1 0-2zM219 268l-1 1 0-1 1-1zM245 291l0 1-1-2 0-1zM220 206l-2 2 0-2 1-1zM290 244l-1 1 0-2 1-1zM216 259l-1 2-1-2 0-1zM224 271l0 2-2-1 0-2zM191 236l0 1-1 0 0-2zM197 252l0 1-1 0 0-1zM232 251l-1 2-1-1 1-2zM153 263l-1 3-1-2 1-2zM288 200l-1 1-1-2 1-1zM218 199l-1 3-1-3 1-2z"/>
<path fill="#22e62c" d="M165 196l0 3-1 1-1-3-1-3 1-2 1 0zM209 190l-1 2-1 1-1-1-1-3 1-3 1 1zM208 190l-1 1-1 0 1-1 0-2 1-1 0 1zM209 197l-1 1-1 1 0-2 0-1 0-3 1 1zM240 189l0 2-1 0 0-1 0-4 1 0zM281 195l0 3-1 1-1-2 1-4 1-2 1 1zM287 200l0 2-1 1-1-3 0-1 1-2 1 1zM162 203l0 2-1 1-1-2 0-2 1-1 0 1zM169 207l0 1-2 2 0-2 1-5 1 0 1 1zM184 204l0 2-1 1-1-2-1-2 1-2 1 0zM183 199l0 3-2 1 0-2 1-3 1-1zM179 207l-1 4-1 1-1-2 0-5 1-2 1 2zM207 208l-1 4-2 1-1 0 0-8 1-1 2 1zM265 204l0 1-1-1 0-1 0-1 1 0zM275 205l0 3-2 1-1-1-1-3 1-2 1 0zM151 212l0 1-1 0 0-1 0-1 1-1 0 1zM167 214l0 2 0 1-1-2-1-2 0-2 1-1zM175 218l0 2-1 1-1-2 0-2 1-1 1 0zM197 221l-1 4-1-1-1-1 0-4 1-2 1 2zM191 215l0 1-1 1-1-1 0-2 1-1 1 1zM206 213l0 1-1 0-1 0 0-2 1-1 0 1zM202 222l-3 4-2 2 1-4 2-4 3-3 0 1zM217 214l-1 2-1 1 0-1 0-4 1-1zM217 219l0 2-1 2-2-2-1-4 1-2 2 1zM228 214l-1 4-1 2-2-3 0-6 2-3 1 3zM269 222l0 2-1-1 0-1 0-1 1 0zM290 218l0 2-1 1 0-2 0-3 0-1 1 0zM157 233l0 1 0 2-1-1-1-3 0-2 1 1zM169 231l-1 3 0 1-1-1-1-4 1-2 1 1zM174 225l-1 2 0-1 0-2 1-1 0 1zM179 234l0 1-1 1 0-1 0-2 1 0zM197 225l-1 5-1 2-1-1-1-6 1-5 2 2zM191 226l-1 2 0-2 1-3 1 1zM216 233l0 2-1 2 0-2-1-4 1 0 1 1zM217 228l1 7-2-1-1-3-2-5 1-3 2 0zM266 235l0 2-1 1 0-2 0-4 0-2 1 2zM282 230l-1 2 0 2-1-3 0-4 1 0zM173 234l1 5-1 3-2-4-2-6 1-2 0-1zM196 242l-3 5-1-2 0-3 1-3 2-4 1 1zM253 247l-1 3-2 0 0-2 0-4 2-2 1 0zM176 247l-1 9-2-1 0-5 1-4 1-5 1 1zM178 251l0 3-1 1-2-3 0-3 0-3 1-1zM265 257l0 3-1-1 0-2 1-1 1 0zM260 255l0 3-1 1-1-2 0-3 2-2 1 1zM165 261l-1 1 0 1-1-1 0-2 1-1zM171 266l0 2-1 1 0-2 0-3 1-1 0 1zM180 264l0 2-1-1 0-1 0-1 1-1 0 1zM203 262l-1 1-1 0 1-2 0-1 1 1zM228 262l0 2-1 0-1-1 0-2 1-2 0 1zM235 265l0 2-1-1 0-1 0-1 1-1 0 1zM245 260l-1 2-2 0 0-1 1-2 1 0zM155 278l0 2-1 0-1-1 0-4 1-2 1 2zM157 270l-1 7-2 0 0-5 1-7 2-3 0 3zM172 275l-1 1 0 1-1-1 1-3 0-2 1 1zM213 273l0 3-1 1-1-2 0-4 1 0zM249 278l1 5-2-1-1-2-1-5 1-2 2 1zM254 277l0 4-2 2-1-4 0-3 1-4 1 2zM264 274l-2 5-1 0-1-3 1-4 2-3 1 0zM271 279l0 2-1 0 0-2 1-1zM289 275l-2 5-2 1 0-3 1-6 1-5 2 4zM164 290l0 3-1 0 0-2 0-2 1-1 0 1zM177 289l-1 7-1-1-1-2 1-6 0-4 2 3zM204 292l0 5-2 1-1-1-1-8 1-3 2 3zM219 289l-1 2-1 0 0-3 1-2 2-1zM248 291l-1 3-1-1-2 0 0-4 1-3 2 0zM254 285l-1 4-1 3-1-3-1-6 1-1 2 0zM168 294l-1 7-2 2 0-5 0-5 1-4 1 2zM163 303l0 1-1 0 0-1 1-1zM164 303l-1 3-1-1 0-2 1-1zM207 301l0 5-1 1-1-4 0-3 1-4 1 2zM214 298l1 2-3 2-1-2-1-2 1-3 2 1zM230 300l0 2 0 1-1-1 0-3 0-2 1 1zM239 298l0 2-1 1-1 0-1-4 1-2 1 1zM246 300l-1 3-2 1 0-4 0-5 1-2 2 1zM250 304l0 1-1 0 0-2 1-1 0 1zM256 295l0 2-1 1 0-2 0-2 0-2 1 0zM221 307l0 2-2 1-1-1 0-4 2-2 1 1zM240 314l0 2-1 1 0-1-1-3 1-1zM256 307l0 3-1 2-2-4 1-4 0-1 1-2zM164 317l-1 4-3 2 0-2 1-6 2-3 2-1zM180 328l0 1 0 1-1-1-1-2 1 0zM176 324l0 5-1-2-1-4 1-1 1 0zM229 317l0 3-1 0 0-1-1-4 1-1 1 1zM227 321l-1 1 0 1-1-1 0-1 1-1zM246 319l-3 5-2 0 0-4 1-2 3-4 0 2zM231 266l-1 1-1-1 1-1zM187 213l-1 1 0-1 0-1zM173 317l-1 2-1-2 1-2zM209 206l-2 2 0-1 1-2zM213 232l-1 2-1-1 1-4zM209 307l-1 2-1-2 2-2zM213 284l-1 1-1-1 1-2zM237 301l1 3-2-2 0-1zM226 292l-1 2 0-2 0-1zM209 243l-1 3-1-3 1-1zM265 253l-1 2-1-2 1-1zM200 280l0 1-1 0 0-1zM168 250l0 2-1-2 1-2zM248 327l0 2-2-2 1-1zM168 241l-1 2-1-1 1-3zM247 319l0 2-1-2 0-1zM248 288l-1 1 0-1 1-2zM264 212l-3 2 1-3 2-1zM213 240l-1 2-1-2 1-2zM163 283l-2 2 0-2 1-1zM196 214l-1 2-1-1 1-2zM285 259l-1 3-1-3 1-2zM263 280l-1 1 0-3 1-1zM254 290l-1 1-1-1 2-1zM157 211l0 2-2-2 0-3zM240 198l0 2-2-1 0-2zM194 209l-1 1 0-2 0-1zM277 276l0 2-1 0 0-2zM179 265l0 1-1-1 0-2zM276 226l-1 1-1-1 1-2zM229 306l-2 2 0-3 2-1zM167 261l-1 1-1-1 1-1zM235 271l-1 2-1-2 2-1zM164 314l0 2-1-1 0-2z"/>
<path fill="#ec2ce2" d="M179 192l0 2-1 1-1-2 0-3 1 0 1 0zM244 196l-2 6-1-1-1-3 0-3 2-4 1 1zM233 194l-1 3-1 2-2-4 1-4 1-3 1 0zM232 196l0 1-1 0-1-2 1-1 1 1zM199 205l0 5-1 1-1-3-1-5 1-3 1 2zM228 222l0 5-2 0-1-1-1-5 1-2 1 1zM228 228l1 1-1 0-1-1 0-1 0-1 1 0zM180 263l0 1-1-1 0-1 0-1 1 0zM210 266l0 3-1 1-1-2 0-3 1-2 1 0zM273 265l-1 3-1 1-1-2 0-3 1-4 0 1zM276 269l-1 3-2 2 0-3 0-3 1-2 1 0zM255 274l1 2-1 0-1-1 0-3 0-1 0-1zM156 297l0 2 0 2-1-2 0-3 0-1 0 1zM161 298l-1 1-1-1 0-1 1 0 1 0zM258 299l0 2-1 1 0-2 0-3 1 0zM259 297l-1 4-1 0 0-2 0-4 1 0 1 0zM205 321l-1 1-1-1 1-2 0-1 1 0zM157 307l-1 1-1-1 1-3zM210 242l-1 2-1-2 2-1zM238 197l-1 2 0-2 0-1z"/>
<path fill="#dc24e8" d="M177 189l-2 4-2 0 0-4 0-3 2-2 1 1zM176 199l-2 4-1 0 1-4 0-1 2-2 1 0zM239 199l0 1-1 1 0-1-1-1 1-2zM265 199l0 2 0 1-1-1 0-3 0-2 1 0zM230 210l-1 6-1 1-2-4 0-4 2-4 1-1zM261 204l0 1-1 0 0-2 0-1 1 1zM260 201l0 4-1 1-2-4-1-4 0-3 1 0zM201 217l-1 4-1 2-1-3-1-8 2-5 1 3zM205 215l0 3-2 2-1-2 0-5 1-1 2 1zM217 269l0 3-2 0-1-2 1-3 1-1 2 0zM211 262l-1 5-2-1-2-3 1-5 2-2 1 2zM153 282l0 2-2 0-1-2 0-4 1-4 2 3zM231 280l0 3-2 1 0-1 0-4 1-2 1 1zM224 281l0 3-1 0 0-1 0-3 1-2 0 1zM247 272l0 1-1 1 0-1-1-2 1 0zM256 282l-1 1 0 1-1-1 0-2 1 0zM261 286l-1 1-1 0 1-2 0-1 1 0zM197 299l-1 5-2 2-1-3 1-5 1-5 2 4zM287 304l-1 4-1-1 0-2 0-2 1-2 1 0zM245 308l0 1-1 1 0-1 0-2 1 0zM250 306l0 1-1 1-1-1 0-2 0-1 1 0zM158 318l-1 7-1 0-1-4 1-5 0-1 2 0zM203 318l-2 4-1 1 0-3 0-6 2-1 1 1zM221 285l0 2-1-1 0-2zM200 217l-1 1 0-2 1-1zM187 307l-1 2-1-1 0-1zM245 223l0 2-1-2 1-1zM197 296l-1 1 0-2 1-1zM166 233l0 3-2-2 0-2zM226 250l0 2-1-1 0-2zM185 198l-1 2-1-2 1-2z"/>
<path fill="#fa36dc" d="M184 198l0 2-1 0 0-1 0-2 1-1zM239 188l0 5-1 0-1-2 0-3 0-3 1 1zM236 196l-1 2-1 1-2-2 0-3 0-1 2 0zM251 191l0 4-1 2-1-2 1-4 1-4 0 3zM259 193l0 2-1 1 0-1-1-2 1-2zM225 207l-1 2-1 0-1-2 0-3 1-2 1 2zM204 211l1 2-1 1 0-1-1-2 0-1 0 1zM229 230l-1 2-1 1-1-2 1-3 1-2 1 1zM253 236l-2 2-1 0-1-1 1-3 1-5 2 2zM284 236l0 2-1 0-1-4 1-1 1 1zM281 251l0 3-1 0 0-2 0-2 0-2 1 1zM159 261l0 2-1 0-1-2 0-1 0-2 2 0zM182 264l-1 2-1 1-1 0-1-6 1-2 2-1zM178 260l-1 3-1 0-1-1 1-3 0-1 2 0zM210 267l0 3-1 0-1-2 0-2 1-2 1 1zM218 267l-2 4-1 2-1-2 0-7 2-1 1 1zM229 257l0 4-2 2 0-3 0-4 0-2 2 0zM278 269l0 2-1 1 0-2-1-3 1-1 0 1zM271 262l-1 3-1 1 0-2 0-4 1-2 1 1zM251 275l0 1-1-1 0-1 1 0zM159 299l-1 2-1-2 0-1 1-2 0 1zM150 295l0 1-1 1 0-2 0-2 1-1 1-1zM175 301l0 2-1 0 0-1-1-2 1-1 0 1zM246 308l0 1-1 1 0-1 0-2 0-1 0 1zM252 299l-1 1-1 0 0-3zM247 197l-1 1 0-1zM227 272l-2 0 0-1 1 0zM222 278l0 1-1-1 0-2zM235 287l-1 1 0-1 1-2zM221 305l-1 1-1-1 1-1zM150 241l-1 2-1-2 1-3zM200 215l-2 2 0-3 2-1zM173 199l-1 1-1-1 1-1zM202 223l0 1-1-1 0-2zM196 317l-1 0 1-1zM195 223l-1 2-1-2 1-2zM161 271l-1 2-1-2 0-3z"/>
<path fill="#30f026" d="M182 189l-1 4-1-1-1 0 1-4 1-3 1 2zM202 192l1 5 1 2-3-3-3-4 0-2 1-1zM257 197l0 1 0 2-1-2 0-3 1-1 0 1zM257 190l0 5-1 1-1-3-1-7 1-1 1 1zM268 193l0 1-2 1-1-1 2-4 1-1 1 1zM157 200l0 2-1 1-2-2 0-2 1-3 1 2zM188 208l0 3-1 0-1 0 0-4 0-1 1-1zM252 211l0 4-1 1-2-4 0-2-1-4 2 0zM245 206l-1 3-1-2 1-2 0-2 1 1zM264 211l-2 3-2 1 0-2 1-5 2-1 0 2zM272 208l-1 6 0 1-1-5-1-3 1-3 2 1zM278 200l-1 3 0 2-1-3-1-4 0-2 2 0zM276 200l0 4-2 2 0-1 0-5 1-5 1 2zM274 210l0 1-1 1-1 0 0-3 0-2 1 0zM283 200l0 2-2 2 0-3 2-3 1 0zM182 216l0 6-1 2-2-5-1-5 0-6 2 1zM214 211l-1 5-2 3-1-4 1-5 2-4 1 2zM228 218l0 7-2 0-2-3 0-8 1-3 2 3zM229 220l0 2-1 0-1-2 1-1zM246 222l0 2-1-1 0-2 1-1 0 1zM253 217l-2 3-2-2 1-3 1-1 1 1zM256 214l0 3-1 1-1-2 0-2 0-2 1 1zM258 214l-1 2-1-1 0-1 0-2 2-2 0 1zM273 219l-1 1-2 1 0-2 1-2 2-2zM282 214l-1 2-1 2-1-2 1-7 1-2 1-1zM180 226l-1 1-1-1 1-1 0-1 0 1zM221 224l-1 2-1 0 0-2 1-2 1-2 0 1zM261 231l1 1-1 0-1-1 1-1zM278 229l0 1 0 1-1-1 0-2 0-2 1 1zM274 227l0 2-1 1 0-2 0-2 0-2 1 1zM290 232l-1 4-1 1 0-3 1-3 0-1 1 1zM180 244l0 1-1 0 0-1 0-1 1-1zM177 239l-1 4-1 1-1-3 0-2 1-2 1 0zM188 243l-2 3-1 3-1-3 1-5 1-2 2 1zM216 244l-1 3-1-1 1-3 1 0zM214 236l0 1 0 1-1-1 0-2 0-1 1 1zM225 240l-2 8-2 1 0-4 1-7 2-5 1 0zM222 243l0 2-1 0 0-2 0-1 1-1 1 0zM227 240l0 3-1 1-1-3 1-3 1-4 1 2zM246 247l0 3-1 0-1-2-1-3 1-4 2 1zM183 255l-2 2-1 1 0-3 0-2 1-1 1 1zM187 250l0 2-1 0 0-2 0-1zM193 255l-1 5-1 0-1-3 0-7 1 0 1 0zM230 252l-1 1-1 1 0-2 1-2 1-2 0 1zM224 252l0 1-1 1-1 0 1-5 1-1 0 1zM254 256l0 3-1 1-1-1 0-3 0-3 2 2zM247 249l1 3-1 1-1-1-1-5 0-2 1 2zM246 257l0 2 0 1-1-1 0-2 0-2 1 0zM176 267l0 1-1 0-1-1 1-2 0-1 1 0zM186 259l-1 3-1 1 0-2 0-3 1-1 1 1zM196 269l0 1-1 0 0-1 1 0 0-1 1 0zM202 261l0 2-1 0 0-1 0-2 1-3 0 1zM244 265l-1 2-1 0 0-1 1-2 0-2 1 1zM258 270l0 2-2 2 0-4 0-1 1-3 1 0zM288 257l-1 5-1 2-2-3-1-5 2-4 1 4zM280 267l0 3-1 2-1-3 0-3 1-4 1 1zM160 276l0 1 0 1-1-1 0-1 1-1 0-1zM153 278l0 1-1 0 0-1 0-1 1-1zM167 276l0 3 0-1-1-1 0-2 1-1zM163 273l1 3-2 0-1 0-1-4 1-1 1 0zM179 272l0 2 0 1-1-2 0-3 1-1 0 1zM190 270l0 1 0 1-1-1 0-1 0-1 1 0zM208 278l0 2-1 1 0-1 0-3 0-1 1 0zM216 280l0 2-1-1-1-1 1-1zM217 275l-1 4-3 3 0-5 2-6 3-2 1 2zM226 280l0 1-1 1 0-1 0-4 1 0 1 0zM240 280l-2 7-3 1 0-4 1-5 1-4 2 2zM245 274l0 1-1-1 0-1 0-1zM265 272l0 1-1 0 0-1 1-1 1 0zM282 274l0 2-1-1 0-1 0-1zM170 286l-1 5-2 1 0-2 0-6 1 0 1 0zM188 289l-1 3-1 1-1-1-1-5 2-2 1 1zM208 293l0 1-1 1-1-2 0-1 1-1 0 1zM208 283l0 6 0 2-3-5 0-4 1-3 1-1zM223 287l-1 5-1-3-1-4 1-1 1-2zM172 303l0 2-2 3 0-4 0-4 2-2 1-1zM163 297l0 2-1 1-1-3 1-4 1-1 0 2zM177 305l-1 1-1-1 0-2 1-1 1 0zM207 297l-1 2 0 1-1-2 0-2 0-1 1 0zM215 301l0 6-1 0-2-4 0-6 1-1 1-1zM233 298l0 3-1 0-1-1 0-3 1-1 1 0zM237 299l0 7-2 0-1-5 0-6 0-4 2 3zM240 294l-1 3-1 1-1-3 0-3 1-2 1 0zM257 303l0 2 0 1-1-1 0-2 0-1 1 0zM273 299l0 5-1 1-2-2-1-7 1-4 2 4zM288 294l-1 2 0 1-2-1 0-3 1-1zM161 306l-1 2-1 3-1-4 1-4 1-3 1 3zM172 311l0 1-1 0 0-1 1-2 0-2 0 2zM169 305l-3 5-2 2 0-5 2-6 3-5 1 3zM186 316l0 2-1-1 0-3 1 0zM192 309l-1 1-1 0-1-1 0-2 1 0 1 0zM194 310l0 3-1 0-1-2 0-1 0-3 2 2zM212 308l-1 2-1 0 0-2 1-1 0-1 1 0zM243 313l0 2-1 0 0-1 0-1 1-1zM259 312l0 2-1 1 0-1 0-2 0-2zM279 313l-1 2-1 0 0-1 0-5 0-2 1 2zM183 326l0 2-2 0-2-1 0-5 2-1 1 1zM187 327l0 2-1 0 0-1 0-2 0-1 1 0zM206 328l-1 3-1 2 0-2 1-7 1-2 1 2zM199 318l0 1-1 1-2-2 1-1 1-2 0 1zM231 324l-1 4 0-1-1-1 1-4 0-1 1 1zM242 320l-1 2-1 1-1-1 1-4 1-2 1 1zM248 321l0 1-1 0 0-1 0-1 0-1 1 0zM247 324l1 3-1 2-1-2-1-4 0-2 1 1zM265 328l0 2-1 0-1-1 0-1 1-2 1 0zM155 227l3 2-4-1-2-2zM196 236l0 2-1-1 0-2zM265 302l-2 1 0-1 2-2zM227 214l-1 1 0-1 0-1zM152 197l1 1-2-1 0-1zM270 264l0 2-2-2 1-1zM274 297l-1 1-1-1 2-1zM272 306l-1 2-1-1 1-2zM188 282l-1 1 0-1 0-1zM290 230l-2 1 1-2 1-1zM204 303l0 2-2-1 0-1zM230 302l-1 1 0-1 0-2zM206 278l0 1-1-1 1-2zM178 296l-1-1 2 0zM210 305l-1 1 0-2 1 0zM150 260l-2 1 0-2 3-2zM174 290l-1 1-1-1 1-3zM245 303l-1 2-1-1 1-2zM182 268l-1 1-1-2 1-1zM174 216l-1 1-1-1 1-2zM180 246l0 2-2-1 1-3zM169 258l0 1-1-1 0-1zM259 208l-1 1 0-2 2-1zM220 327l0 1-1-1 0-2zM167 271l-1 2 0-2 1-3zM208 297l-1 1-1-1 0-2zM164 282l0 2-1-1 0-2zM180 238l-1 1 0-2 1-1zM232 227l-1 3-1-2 1-2zM157 302l-2 2 0-2 1-1zM287 237l-1 1-1-2 1-1zM230 234l-1 1-1-1 1-1zM181 238l0 1-1-1 1-1zM161 254l0 2-2-1 0-2z"/>
<path fill="#3aece6" d="M190 195l0 2-1 1 0-2 0-2 0-2 1 1zM204 189l0 6-2 3 0-6 0-6 0-2 2 1zM210 197l0 3-2 0 0-2 0-2 1-1 1 1zM230 196l-1 2 0-1 0-1 0-1 1 0zM274 199l-1 2-1-1 0-2 1-1 1 1zM171 201l0 1-1 0 0-1 0-1zM175 204l-1 2-1 0 0-4 0-2 1 2zM184 200l0 3-1-1-1-3 0-3 1 1zM185 209l1 2-1 1 0-1-1-2zM187 200l-1 4-1-1-2 0 0-4 2-2 1 1zM285 205l0 3-1-2 0-2 0-2zM288 207l-1 2 0 1-2-2 1-4 1-2 2 0zM181 216l1 4 0 2-2-3-1-3-1-3 2 2zM231 229l-2 3-1 2 0-3 0-3 1-2 1 0zM223 246l0 3-1 1-2-2-1-2 2-2 1 0zM194 268l0 3-1-1 0-3 1-1zM281 263l0 3-1 1-1-1 0-3 0-3 2 2zM288 273l-1 6-1-2-1-3-1-6 2-3 1 2zM166 285l-1 2-1 1 0-2 0-3 1 0 1 0zM181 287l0 3-1 0-1-2 0-2 1-1 1 0zM175 291l-1 1-1 0-1-2 0-1 1-1 1 0zM180 301l0 4-1 3-2-6-1-4 2-4 1 1zM163 306l0 1-1 1 0-1 0-2 0-1 1 1zM267 310l-1 2 0 1 0-2 0-2 1-2 0 1zM284 310l0 3-2 1 0-4 0-2 2-2 1 0zM176 282l-1 2-1-2 1-2zM155 218l0 1-1 0 0-2zM257 308l-1 2-1-2 1-2zM191 208l0 2-1-1 0-2zM158 212l0 3-1-2 0-2zM173 305l-1 1-1-1 1-2zM240 315l-1 1 0-1 1-1zM273 267l0 1-2 0 1-2zM241 285l0 1-1-1 1-2zM232 198l-1 2-1-2 0-3zM190 205l-1 1-1-2 2-1zM288 314l-1 2-1-2 1-1zM164 293l-1 1-1-1 1-2z"/>
<path fill="#2ce2ec" d="M190 193l-2 8-1 1 0-5 0-5 2-4 1 3zM185 200l-1 1-1 0 0-1 1-2 1-1 0 1zM201 198l0 1-1 1 0-1 0-1zM211 196l1 4-1 1-1-3-1-3 0-3 2 0zM225 192l-1 1 0 1-1-2 0-3 1 0 1 1zM159 205l-1 6-2-1-1-3 1-6 1 0 2-1zM163 209l1 3-1 1-2-2-1-4-1-5 2 1zM206 200l0 4-2 1-1-2 1-5 0-1 2 1zM199 208l-3 5 0 1-1-4 1-5 1-3 2 2zM206 208l0 1 0 1-1-1 0-3 0-1 1 0zM151 217l0 4 0 2-2-2-1-4 1-2 1 1zM155 218l0 2 0 1-1-2 0-2 0-2 1 2zM186 215l-1 3-2 2-1-2 0-4 2-2 1 1zM190 224l-1 2-2 1 0-3 0-3 0-3 2 1zM252 259l0 2-1 2-1-1-1-3 1-1 1-1zM288 269l0 4 0 1-3-3 1-2 0-3 1 0zM197 271l0 3-1 0 0-2 0-1 0-2 2 0zM218 270l0 2-1 1-1-1-1-3 1-2 1 0zM237 280l0 3-2 2-1-2 0-7 0-1 2 1zM170 288l0 5-1 2-2-3 0-6 1-4 1 2zM185 291l0 3-1 2-1-3-1-3 1-3 1 0zM174 301l-1 3-1 1-1-2 0-3 2-2 1 0zM172 309l-1 1-1 2-1-2 0-3 1-1 1 0zM231 312l-2 8-2 0-1-5 1-4 2-4 1-1zM277 305l0 1-1 1 0-1 0-2 1 0zM280 315l-1 2 0 1-1-1 0-3 1-1 1 1zM181 326l0 3 0 2-1-2 0-3-1-3 2 1zM171 299l-1 2 0-1 0-2zM196 189l-1 1-1-1 0-1zM259 227l0 3-1-2 0-2zM164 203l-1 1-1-1 1-1zM224 292l-1 1 0-1 1-1zM182 304l-1 1-1-1 1-2zM190 194l-1 1-1-2 1-1zM271 197l-1 2-1-2 2-2zM213 193l0 2-2-1 1-2zM233 264l-1 1-1-1 1-1zM272 271l-2 1 0-2 1-1zM265 264l-1 1-1-2 2-2zM151 202l-1 2-1-1 1-2zM260 267l0 1-2 0 0-2z"/>
<path fill="#12de32" d="M203 188l-1 5-1 1 0-4 0-3 1-4 2 1zM209 196l-1 1-1-1 0-1 0-1 1 0zM219 189l-1 2-1-1 1-3 1 0zM260 191l-2 3-1 3-1-3 0-10 2-1 1-1zM268 197l0 2-1 1-1-2 0-2 1-1 1 0zM276 193l0 1-1 1 0-1 0-3 1-1zM159 209l0 5-1 0-1-3 0-3 1-1 0-1zM157 205l0 2-1-1 0-2 0-1 1 1zM162 204l0 2-1 0-1 0 0-4 1-1 0-1zM222 200l-1 4-2 1-1-2 1-4 1-2 1 2zM250 209l-2 8-2 1-1-1 0-9 2-6 2 5zM252 204l-1 5-2 0 0-3 1-6 2-3 1 3zM177 218l0 3-1 1-1-3-1-5 1-1 2 0zM197 222l-1 2-1 1 0-3 1-3 1 0 1 1zM220 216l0 1-1 2 0-2-1-2 1 0zM252 211l1 4-2 1-2-2 0-3 1-1 1 0zM274 215l0 8-1 1-1-4 0-7 1-4 1 1zM273 222l0 1-1 0 0-1 0-1 1-1zM279 220l0 1-1 1-1-1 0-2 1-1 1 1zM171 225l0 6 0 2-3-5-1-6 0-2 2-1zM174 227l-1 5-1 1-1-4 0-5 1-1 1 1zM225 234l0 1-1 0 0-1 0-1 1 0zM289 224l-1 2-1 0 1-1 0-2 1-2 0 1zM188 244l1 2-2 1-1-2 0-4 1-2 1 0zM198 239l0 5-2 1 0-2 0-5 1-5 1 2zM244 245l0 2-3 1-1-3 0-2 1-3 1 1zM237 235l0 2-1 0-1-1 0-2 0-1 1 1zM243 241l-1 2-1 1 0-2 1-3 0-1 1 0zM245 245l0 1-1 1-1-2 0-1 1-1zM168 254l0 2-1-1 0-4 1 0zM204 246l0 5-1-1-1-2 0-2 1-4 1 2zM205 252l0 4-1 2-1-4-1-4 0-5 2 4zM216 254l0 1-1 0 0-2 1 0zM228 253l-1 4-2-2 0-4 1-2 2 1zM253 256l-2 4-1 0-1-1 1-7 2-3 1 1zM265 249l-1 2-1 0-1-1 0-3 1-1 1 1zM289 256l0 1-1 0 0-2 0-2 1 1zM290 255l0 1 0 1-1-1 0-2 1-1 0 1zM285 256l0 1-1 1 0-1 0-1 0-1 1 0zM151 263l0 4-2 1-2-2 0-5 1-2 2 0zM167 265l0 3-1 3-1-5 0-2 1-3 1-1zM180 260l0 1-1 1 0-1 0-1 1-1zM176 264l0 3-1 0 0-1 0-3 0-1 1 0zM193 269l0 3-1 0-1-2 0-2 1-1zM222 258l0 3 0 1-1-2-1-3 0-2 1 1zM288 268l0 2-1 1-1-2 0-3 1-2 1 1zM152 274l-1 4-1 1-2-2 0-3 1-2 1 0zM179 280l-1 2 0-1 0-2 1-1 1 0zM176 271l-1 2-1-2 1-2 0 1zM197 281l1 3-1 0 0-1-1-4 0-1 1 1zM200 272l0 2-1 1-1-1 0-3 0-2 1 1zM202 277l0 1 0 1-1-1 0-1 0-2zM232 271l1 4-1 2-2-4-1-3-1-6 2 0zM231 274l0 2-1 0-1-1 0-1 0-2 1 0zM234 277l0 2-1 0-2-1 0-2 1-2 1 1zM257 277l-1 2 0 1 0-1 0-1 0-2 0 1zM290 270l0 2-1 1-1-2 0-2 0-1 1 0zM168 283l-1 3-1 1-1-2 0-5 1 0 1 0zM197 288l1 4-1 0-1-1-1-5 0-3 1 2zM215 284l0 5-1 1-1-3-1-5 0-4 1-1zM216 291l0 3-1-1-1-1 0-2 1-2 1 0zM210 288l-1 5-1 1-2-5 0-7 1-1 2 0zM250 289l-1 3-1-3 0-2 1-1 1 1zM288 285l-1 4-2 2 0-4 0-4 2-4 1 1zM282 285l-1 1 0-1 0-1 1-1zM167 299l0 3-1 0-1-1 1-4 0-1 1 1zM174 293l0 4-2 0-1-2 0-3 2-4 1 2zM217 302l0 2-1-1-1-1 1-1zM214 296l-3 6-1-1-1-2 2-7 2-3 1 2zM221 301l-1 3-1-1 0-1 1-2 0-1 1 0zM230 303l0 2 0 1-1-1 0-2 0-2zM247 301l1 4-1 0-2-1-1-3-1-4 3 1zM257 296l-1 1-1 2-1-3 0-3 1-1 1 1zM279 304l0 5-1 0-1-2-1-5 1-3 1 2zM269 299l-2 7-1 2-1-4 0-5 2-5 1 1zM283 300l0 3-1-1 0-2 0-2 1 0zM289 303l0 1 0 1-1 0-1-3 1-1 1 0zM180 314l-1 2 0 1-1-1 0-2 1-1zM201 306l1 3-1 0-1-1 0-2 0-2zM197 305l0 5-2 0 0-2 0-4 1-3 1 1zM208 310l0 2 0 1-1-1 0-3 0-2 1 1zM215 306l-2 4-1 0 0-2 0-3 1-4 1 2zM220 308l-1 2-1 1 0-2 0-2 0-1 1 1zM218 308l0 2 0 3-2-3-1-6 1-3 1 3zM222 308l0 3-1 1 0-2 0-2 0-2 1 1zM236 312l0 1-1 1 0-1 0-1 0-1 1 0zM277 308l-2 2-1 1 0-3 1-3 0-1 2 1zM291 314l0 3-1 3-1-4-1-4 1-3 1 0zM191 325l-1 2-1 1-1-3 0-2 2-1 0 1zM190 327l0 3-1 0-1-1 1-3 0-2 1 0zM205 323l0 2 0 1-1-2 0-2 1-1zM205 319l-1 1-1 1-1-1 0-3 1-2 2 1zM218 324l-1 2 0-1 0-2 1 0zM216 326l0 3 0 2-2-1-1-6 1-2 1 1zM231 327l0 1 0 1-1-1 0-3 1-2 0 1zM247 321l0 4-1 2-2-4 0-3-1-4 2 0zM263 328l-1 3-2 1 0-4 0-3 1-2 1 2zM182 246l-2 1 0-1 1-1zM206 293l-2 1 0-2 1-1zM171 245l-2 2 0-2 2-2zM160 241l-2 2 0-2 3-2zM239 301l-2 2 0-3 2-2zM233 277l0 2-2-1 0-3zM250 214l0 3-2-2 0-2zM214 269l-1 2 0-2 0-2zM231 235l-2 1-1-1 1-3zM289 200l-2 3-1-3 2-2zM170 213l-1 1 0-2 1-1zM173 254l-1 1-1-1 1-1zM170 266l-1 1 0-2 0-1zM178 304l-1 2-1-1 0-2zM256 283l-1 0 0-1zM263 212l-1 2-1-2 0-1zM172 212l-2 2 0-2 1-1zM215 312l0 2-2-1 1-2zM284 219l-1 1-1-2 1 0zM185 211l0 2-1-1-1-2zM263 294l-1 1 0-2 2-1zM206 262l0 2-2-1 1-2zM207 286l-1 1-1-1 1-1zM237 272l-1 1-1-1 1-1zM224 299l0 2-1-1 0-1zM249 212l-1-1 1-1zM246 292l0 1-1-1 0-1zM170 260l0 3-1-2 0-2zM248 320l-2 2-1-2 1-1zM196 273l-1 1 0-2 0-1zM288 302l0 1-1-1 0-1zM164 214l-1 2-1-1 1-1zM189 218l0 1-1-1 0-1zM150 208l0 2-2-1 0-2zM284 233l-1 1-1-2 2-1z"/>
<path fill="#1024ee" d="M204 188l0 4-2 0-1-1 0-5 2-2 1 1zM185 203l0 2-1-1 1-2 0-1 1 0zM225 205l-1 2-1-1 0-3 1 0 1 1zM154 218l-1 4-1 2-1-4 0-2 1-4 2 0zM161 222l0 3-2-1 0-2 0-1 1 0zM194 215l-1 2-1 1-1-2 0-2 1-2 1 1zM249 231l-1 2-1 0 0-1 0-1 0-1 1 0zM260 223l-1 2-1 0 0-1 0-2 1-2 1 1zM257 237l0 3-2 2-1-3-1-5 1-4 1 1zM173 268l0 7-1 0-2-4 0-4 1-5 1 1zM232 264l0 4-2-1-1-2 0-3 0-2 1 0zM257 267l0 2-1 1 0-1-1-3 1-3 0 1zM179 272l-1 2-1 0 0-2 1-1zM271 278l1 4-2 2-2-4 0-4 0-6 2 3zM186 292l-1 4-2 0 0-2 0-8 1-2 2 0zM239 291l-1 1-1-1 0-2 1-1zM266 292l0 3-1 1-1-4 0-5 1-2 1 1zM188 301l0 2-1 0 0-1 0-3 0-1 1 2zM185 303l-1 2-1 1 0-2 1-2 1-2 1 1zM192 300l-1 4 0-1-1-2 1-2 0-1 1 1zM245 304l0 1-2 1 0-2 0-3 1 0 1 0zM246 230l-1 1-1-2 2-1zM177 255l-1 3-1-2 1-2zM258 242l-1 2-1-2 1-1zM254 291l-1 3-1-3 1-2zM261 292l-1 1-1-1 1-1zM221 203l0 2-1-2 0-2z"/>
<path fill="#ece224" d="M230 189l0 2-1 1 0-2 0-2 0-2 1 1zM221 226l-1 3-2 0-1-2 2-4 1-2 2-1zM150 291l0 1 0 1-1-1 0-1 1-1zM201 290l-1 3-1 0 0-1 0-4 1-1zM204 281l-1 5-1 2-1-4 0-3 1-4 1 2zM266 311l0 2-1 1-1-2 0-2 1-2 1 1zM224 295l-1 2-1-2 1-2zM248 328l-1 2-1-3 2-2zM234 248l0 1-1-1 1-1z"/>
<path fill="#202ce8" d="M245 194l1 5-1-1-1-1-1-3 0-3 1 2zM249 193l-2 2-1 1 0-3 1-4 1-1 1 0zM254 194l0 2-1 0 0-3 0-1 1 1zM249 191l0 5-1 1-2-2 0-5 1-3 2 1zM223 208l-1 1-1-1 0-2 1 0 1 1zM232 209l0 2-1 1-2-2 0-3 1-4 1 2zM156 225l-1 3 0 2-2-4-1-3 0-3 1 0zM247 235l0 2-1 2-1-3 0-4 1 0 1 0zM265 230l0 3-1 0-1 0 0-4 1-2 1 0zM256 223l-1 2 0-1 0-2 0-1 1 1zM264 243l-1 4-2 4 0-4 0-6 1-2 1 1zM259 237l0 4-1 0-1-2 0-3 0-2 1 2zM170 267l-1 1 0 1-1-2 1-1 0-2 0 1zM254 268l-1 6-2 1 0-5-1-6 2-1 2 0zM273 265l-1 2-1 2-1-2 1-4 1-3 1 2zM258 272l1 4-1 0-1-3-1-3 0-4 1 1zM266 272l0 1-1 0-1-1 0-1 0-1 1 0zM234 282l0 4-1 1-2-2 0-6 1-3 2 0zM243 288l-1 4-2 2-1-5 0-6 1-3 2 0zM259 286l0 1-1 0-1 0 0-2 1-1zM224 296l-1 6-1 2-2-5 0-4 1-6 1 1zM183 311l0 2-1 1 0-1-1-3-1-1 2 0zM178 311l0 1 0 1-2-1 1-2 0-2 1 1zM178 315l-1 2-1 1-1-1 1-4 1-1zM180 308l0 3 0 1-1-2-1-3 1-2 1 1zM187 288l-1 2-1-2 1-1zM179 279l-1 2-1-2 1-2zM260 320l-2 2 0-3 2-2zM241 328l0 2-1-2 0-2zM230 289l-1-1 1 0z"/>
<path fill="#e6369c" d="M288 196l1 3-1 0-1-1 0-3 0-4 1 2zM284 190l0 4-1 3-1-2-2-6 1-4 1 0zM189 221l0 2-1 0-1-1 0-3 1-2 1 1zM231 245l0 2-1 0-1-1 0-1 0-2 1 1zM247 242l0 5-2 2-1-3 1-5 1-5 2 1zM270 255l0 1-1-1 0-1 1-1 0 1zM225 261l0 2-1 1-1-2 0-2 1-2 1 2zM288 253l-1 1 0-2 1-1zM273 316l-1 2-1-2 1 0z"/>
<path fill="#ff4890" d="M285 196l1 3-1 1 0-1-1-2 0-3 1 1zM221 215l-1 3-1-2 1-2 0-1 1 1zM230 238l0 2-1 1-1-1 0-2 1-2 1 1zM199 257l-1 2 0-1-1 0 1-2 0-1 1 0zM286 288l-1 2-1 0-1-1 1-2 1-1zM199 313l-1 3-2 1 0-1 0-3 1-2 1-1zM226 327l-1 2-1 0 0-1-1-2 1-1 1 1zM198 306l-2 2 0-3 1-2zM274 258l-1 0-1-1 2-1zM204 255l0 1-1-1 1-1zM194 269l-1 1 0-1 0-1z"/>
<path fill="#2e36e2" d="M206 209l0 3-2 1-1-1-1-4 2-2 1 0zM254 227l0 3-1 0-1 0 0-4 0-4 1 1zM251 241l0 3-1 3-2-3 1-5 1-4 1 1zM257 236l0 4-1 0-1-2 0-6 1 0 1-1zM165 269l0 1-1 1 0-1 0-2 0-1 1 0zM273 269l0 2-1 1 0-2 0-2 0-1 1 0zM179 275l-1 1-1 1 0-2 1-2 1-1zM221 288l0 2-2 1 0-3 0-2 1-1 1 1zM244 286l-1 4-2 1 0-2 0-3 1-3 1 1zM266 288l0 1-1 1-1-1 0-2 1-1 0 1zM189 302l-2 5-2-1 0-2 1-5 3-5 1 3zM249 302l0 7-2 3-1-6 0-5 2-7 1 2zM254 295l0 3-1 1-1-2-1-4 0-5 2 2zM167 315l0 2 0 1-1-2 0-3 1-2 0 1zM184 310l0 2-1 0 0-1 0-2 0-1 1 0zM232 322l-1 1 0 1-1-1 0-2 0-1 1 1zM168 250l0 3-1-2 0-2zM180 271l0 2-1-2 1-1zM246 317l-1 1 0-1 0-1zM167 221l0 3-2-3 0-2zM226 234l1 1-1 0-1-2zM170 279l0 3-2-1 0-3zM248 210l0 2-1-2 0-1zM198 197l-1 1 0-1 0-1zM259 236l-1 3-1-2 1-2zM258 263l0 2-2-2 1-1zM223 202l0 1-1-1 1-1zM204 206l-1 2-1-2 1-2z"/>
<path fill="#fa701e" d="M213 200l-3 7-1-1 0-3 0-6 3-3 1 2zM255 206l0 2-1 0 0-3 0-2 1 1zM209 219l-1 2 0 1-1-2 0-2 0-2 1 1zM211 220l0 1-1 0 0-1 0-1 1 0zM216 215l-1 2-1 2 0-3 0-3 1-3 1 1zM266 212l-1 2 0 1-1-2 1-2 0-1 1 0zM284 216l0 1-1 0 0-1 0-1 1-1 0 1zM220 231l-1 3-1 0 0-2 1-2 1-3 1 1zM236 226l0 2-1 0 0-1 0-2 1 0zM241 229l0 2-1 0 0-1-1-2 1-1zM237 234l-1 4-2-1 0-2-1-3 1-4 1 0zM269 231l0 2-2 0-2-2 0-4 2-1 1 0zM272 229l0 3-1 0 0-1-1-2 1-2 0 1zM207 241l-1 5 0-1-1-3 0-4 1-1 1 1zM220 241l0 1-1 1 0-2 0-3 1 0zM216 236l-1 1 0 2-2-2 0-2 0-2 1 1zM274 236l1 4-1 0-2-2 0-4 0-2 1 2zM276 243l0 2-1 0 0-1-1-1 0-2 2 1zM287 235l0 2-1 0 0-1 0-2 0-2 1 2zM194 256l-1 3-2 0-1-1 1-3 0-1 2 0zM199 253l-1 2-1 0-1-1 1-2 1-1 1 0zM212 255l1 1-1 0-1-1 1-1 0-1zM291 252l-2 2-1 1-1-3 0-7 2-1 1 1zM193 246l-1 1-1-1 1-1zM246 257l-1 1-1-1 0-1zM259 212l0 1-1 0zM206 237l-1 2-1-2 1-1zM276 243l-1 2-1-3 1-2zM256 208l0 2-1-1-1-2z"/>
<path fill="#ff7a18" d="M217 209l0 2-2 1-1-1 0-3 1-2 1 0zM239 221l0 2-1 1-1-2 0-2 1-2 1 0zM241 213l0 2-2 0 0-1-1-3 1-2 1 1zM256 220l0 3-1 1 0-1-1-3 0-2 1 0zM256 220l0 2-1 2-1-1-1-3 1-1 1-1zM203 231l0 2-1 0 0-1 0-3 1-1 0 1zM207 228l-1 2-1 1-1-2 0-3 1-1 1-1zM220 223l-1 5-1 2-1-2 0-7 1-4 2 3zM218 233l0 3-2 1 0-3-1-2 1-2 2 0zM272 230l-1 2-1 1-2-2 0-2 2-3 1 1zM274 227l0 4-1-1-1-1-1-2 1-2 1-1zM197 235l-1 2 0 1-1-1 0-2 1-2 1 1zM237 238l-1 2-1 0 0-1 0-2 1-1 0 1zM268 246l0 3-2 0 0-2 0-2 1-3 1 0zM282 243l0 2-1 1 0-2 0-2 1 0zM291 241l-1 5-1 4-1-6 0-4 1-4 2 2zM197 258l0 1-1 0-1 0 0-2 1-1 1 1zM213 255l1 5-1 1-2-3-1-4 0-3 2 0zM214 253l0 4-1 0-1-2 0-3 1-3 0 1zM218 247l0 2-1 2-1-2 0-4 0-2 2 0zM241 255l0 2-2 1 0-2 1-5 2 0zM273 251l-1 5-2 0 0-3 0-4 1-2 2 1zM275 255l-1 2-1 0-1 0 1-5 2-3 0 3zM242 318l-1 3-1-1 0-2 0-1 1 0zM238 324l1 5-2 1-1-1 0-6 0-5 1 2zM244 264l-1 1 0-2 1-1zM151 191l0 1-1-1 1-1zM200 238l-1 2-1-2 1-1zM273 228l0 1-1-1 1-1z"/>
<path fill="#2c8efb" d="M283 211l0 1-1 2 0-2-1-2 1-2 1 0zM228 246l-1 1-1 1 0-2 0-1 1-1zM250 285l-1 1-1 2-1-2 2-3 0-1 1 1zM216 213l-1 1 0-2 1-1zM253 199l0 1-1-1 1-1zM164 240l-1 1 0-1 0-1zM234 267l-1 2-1-2 1-1z"/>
<path fill="#ea6824" d="M232 218l0 1-1 1 0-2 0-1 1-1 0 1zM271 223l0 1-1-1 0-1 1 0zM210 224l-1 3-1 1-2-3 0-3 1-2 2 0zM233 230l0 4 0 1-1-2-1-5 0-2 1 2zM192 242l-1 3-2 2 0-4 0-3 1-1 1 0zM217 242l0 1-1 0 0-1 0-1 1 0zM279 236l-1 2-1 1 0-2-1-3 1-1 2 0zM290 240l-1 3-1 0 0-1 1-3 0-2 1 1zM193 252l1 3-1 1-2-2 0-3 0-2 1-1zM194 257l-1 3-1 3-1-3 0-3 1-3 1 0zM201 254l0 2-1 0-1-1 0-2 0-1 1 0zM217 202l-1 2-1-2 1-3zM267 239l0 2-2-2 1-1zM216 230l0 2-1-1 0-2zM267 247l0 2-1-2 0-2zM276 247l-1 1 0-1 0-1zM235 225l-1 0 0-1 1 0zM210 223l-1 1-1-1 1-2zM210 205l0 1-1 0 0-1z"/>
<path fill="#4aa0ef" d="M150 231l0 2-1 1-1-2 0-2 1-1 1 0zM154 284l0 2-1-1 0-2-1-1 1 0zM154 291l0 2-1 0 0-1 0-2 0-1 1 0zM259 308l0 2-1-2 1-2 1 1zM221 257l-1 1 0-2 1-1z"/>
<path fill="#a43ee6" d="M190 234l-1 1-1 1 0-1 0-2 1 0zM150 298l0 1-1 0-1 0 0-2 2-1zM159 307l0 1-2 1 0-2-1-3 1-1 1 0zM156 311l-1 2-1 2-2-2 1-5 1-1 2 2zM154 307l-1 4-1 1-1-4 0-2 1-3 1 1zM160 324l-2 4-1-1-1-1 2-5 2-1 1 1zM149 323l0 1-1 0 0-2 1-2 0 1zM221 238l-1 2-1-1 1-3zM159 314l0 2-1-1 0-1zM214 285l-2 1 0-2 2 0zM203 231l-2 2 0-2 1-1zM165 314l-1 1-1-1 1-2zM244 286l-1 1-1-1 1-1zM255 222l0 1-1-1 0-2zM226 285l-1 1-1-1 1-2zM156 189l-1 1-1-1 1-2z"/>
<path fill="#3c96f5" d="M259 257l-1 4-1 0 0-3 0-4 1-2 1 2zM242 266l0 1-1 1 0-2 0-1 1-1zM209 273l-2 4-2 3 1-5 1-5 2-1 1-1zM153 326l1 2-2 0-1-3zM286 305l-1 3 0-3 1-2zM226 224l0 3-2-2 1-3zM168 288l-1 2-1-2 1-2zM273 217l-1 2-2-3 1-2zM152 253l1 2-2-1 0-3zM275 298l-1 2-1-2 1-1zM223 268l0 1-2-1 1-2zM207 240l0 1-1 0 0-3z"/>
<path fill="#862cf2" d="M193 266l-1 4-1 2 0-2 0-5 0-2 1 1zM272 277l0 2-1 0 0-1 0-1 1-2 0 1zM274 273l-1 3-1 1-2-3 1-2 1-2 1 0zM160 289l0 1-1-1 0-1 0-1 1 0zM267 285l0 2 0 1-1-2 0-3 1 0zM161 316l0 1-1 0 0-1 0-1 0-1 1 1zM272 211l-1 1-1-2 2-1zM284 324l-1 0 0-1 1-1zM158 312l-1 1 0-1 1-1z"/>
<path fill="#9634ec" d="M269 276l0 1-1 0 0-2 1 0zM276 274l-1 8-2 1-1-5 1-7 1-1 2 0zM160 289l-1 6-2 2-2-3 0-6 2-3 1 3zM159 283l0 1-1 0-1-1 0-2 1-2 1 1zM161 300l0 1-1 1 0-1 0-2 1 0zM266 320l0 4-1 2-1-4-1-2 2-4 0 1zM269 278l-1 3-2-3 2-2zM167 299l-1 2-1-2 1-2zM180 201l0 2-1-1 0-1zM278 284l-1 2-1-2 1-2zM226 271l-1 3-1-2 2-3zM225 286l-1 3-1-2 0-3zM283 294l0 2-1-3 1-2zM157 279l0 1-1-1 0-1zM209 246l-2 1 1-3 2-1zM268 200l-1 1-1-1 1-2z"/>
<path fill="#faec1e" d="M167 293l-1 2-1 2-1-2 0-3 1 0 1-1zM256 298l0 1-1 1-1-1 0-2 0-1 1 0zM194 263l0 2-2-1 0-3zM207 290l0 2-1-1 0-1zM175 294l-2 2 0-3 2-1zM198 287l-1 1 0-1 1-1zM287 319l-1 1-1-1 1-1zM272 235l-2 1 1-2 1-1zM187 318l0 1-1 0z"/>
<path fill="#f6a8c4" d="M199 303l-2 3-1-1 0-3 1-1 2 0zM204 298l0 4-1 0 0-1-1-4 0-2 1 1z"/>
<path fill="#aaf028" d="M224 289l-1 1-1-1 1-1zM152 284l-1 1-1-2 1-2zM209 226l0 2-2-2 1-2zM166 296l0 1-1-1 1-1zM256 279l-1 2-1-1 0-3zM213 194l-1 2 0-2 1-2z"/>
<path fill="#b8fa22" d="M279 295l-2 1 0-2 2-2zM239 287l-1 2-1-3 2-1zM209 227l-1 1 0-1 1-1zM188 328l-1 1-1-1 1-2z"/>
<path fill="#9ae82e" d="M246 233l-1 1-1-1 1-1zM263 240l1 2-2-2 0-1zM277 310l1 2-2-1-1-3zM260 312l-1 1-1-1 1-1zM202 260l-2 2 0-2 1-1zM232 238l1 2-2-1 0-2zM221 281l-1 2-1-2 0-2zM259 273l-2 2 0-3 2-1zM169 297l-1 1 0-1 0-2zM245 250l-1 1 0-2 1-2z"/>
<path fill="#ffb2be" d="M203 304l0 2-2-1 1-2z"/>
</g></g>
<rect x="0" y="0" width="16.6" height="15.6" fill="#fff"/>
<text transform="translate(1.9 11.0) scale(1.17 1)" font-family="'Liberation Serif', 'DejaVu Serif', serif" font-size="10.4" fill="#000" stroke="#000" stroke-width="0.3">(a)</text>
<rect x="146.0" y="0" width="13.599999999999994" height="13.8" fill="#fff"/>
<text transform="translate(145.5 10.0) scale(1.17 1)" font-family="'Liberation Serif', 'DejaVu Serif', serif" font-size="10.4" fill="#000" stroke="#000" stroke-width="0.3">(b)</text>
<rect x="288.3" y="0" width="14.599999999999966" height="14.1" fill="#fff"/>
<text transform="translate(289.5 10.3) scale(1.17 1)" font-family="'Liberation Serif', 'DejaVu Serif', serif" font-size="10.4" fill="#000" stroke="#000" stroke-width="0.3">(c)</text>
<rect x="0" y="186" width="17.8" height="14.199999999999989" fill="#fff"/>
<text transform="translate(3.3 195.4) scale(1.17 1)" font-family="'Liberation Serif', 'DejaVu Serif', serif" font-size="10.4" fill="#000" stroke="#000" stroke-width="0.3">(d)</text>
<rect x="147.0" y="187.4" width="12.800000000000011" height="12.099999999999994" fill="#fff"/>
<text transform="translate(147.6 195.6) scale(1.17 1)" font-family="'Liberation Serif', 'DejaVu Serif', serif" font-size="10.4" fill="#000" stroke="#000" stroke-width="0.3">(e)</text>
<rect x="113.5" y="133" width="31.5" height="10.0" fill="#fff"/>
<text x="120.6" y="139.1" font-family="'Liberation Serif', 'DejaVu Serif', serif" font-size="6.7" fill="#111">200 μm</text>
<rect x="116.2" y="140.3" width="27.8" height="2.1" fill="#000"/>
<rect x="255.9" y="133.4" width="32.4" height="10.2" fill="#fff"/>
<text x="263.5" y="139.5" font-family="'Liberation Serif', 'DejaVu Serif', serif" font-size="6.7" fill="#111">200 μm</text>
<rect x="258.2" y="141.2" width="29.0" height="2.0" fill="#000"/>
<rect x="400.0" y="133" width="31.8" height="10.0" fill="#fff"/>
<text x="406.2" y="139.0" font-family="'Liberation Serif', 'DejaVu Serif', serif" font-size="6.7" fill="#111">200 μm</text>
<rect x="402.3" y="140.3" width="28.7" height="2.2" fill="#000"/>
<rect x="114.4" y="318" width="32.6" height="10.2" fill="#fff"/>
<text x="124.4" y="323.4" font-family="'Liberation Serif', 'DejaVu Serif', serif" font-size="6.7" fill="#111">200 μm</text>
<rect x="117.0" y="325.5" width="28.0" height="2.0" fill="#000"/>
<rect x="257.0" y="317.5" width="32.8" height="10.8" fill="#fff"/>
<text x="264.7" y="323.3" font-family="'Liberation Serif', 'DejaVu Serif', serif" font-size="6.7" fill="#111">200 μm</text>
<rect x="260.4" y="325.3" width="28.4" height="2.0" fill="#000"/>
<defs><filter id="pfb" x="-10%" y="-10%" width="120%" height="120%"><feGaussianBlur stdDeviation="0.6"/></filter></defs>
<clipPath id="pc1"><circle cx="26.1" cy="165.5" r="17.6"/></clipPath>
<circle cx="26.1" cy="165.5" r="17.6" fill="#0c28ec"/>
<g clip-path="url(#pc1)"><g filter="url(#pfb)">
<ellipse cx="30.8" cy="149.6" rx="1.7" ry="1.6" transform="rotate(0 30.8 149.6)" fill="#12b060" opacity="0.8"/>
<ellipse cx="34.0" cy="171.4" rx="2.8" ry="1.4" transform="rotate(0 34.0 171.4)" fill="#12b060" opacity="0.8"/>
<ellipse cx="23.5" cy="149.8" rx="1.6" ry="2.1" transform="rotate(0 23.5 149.8)" fill="#12b060" opacity="0.8"/>
<ellipse cx="31.1" cy="167.0" rx="1.6" ry="2.3" transform="rotate(0 31.1 167.0)" fill="#12b060" opacity="0.8"/>
<ellipse cx="36.3" cy="172.1" rx="1.8" ry="1.5" transform="rotate(0 36.3 172.1)" fill="#12b060" opacity="0.8"/>
<ellipse cx="41.4" cy="160.0" rx="1.4" ry="1.4" transform="rotate(0 41.4 160.0)" fill="#12b060" opacity="0.8"/>
<ellipse cx="37.7" cy="169.0" rx="2.7" ry="2.5" transform="rotate(0 37.7 169.0)" fill="#12b060" opacity="0.8"/>
<ellipse cx="27.3" cy="181.3" rx="1.9" ry="2.2" transform="rotate(0 27.3 181.3)" fill="#12b060" opacity="0.8"/>
<ellipse cx="37.1" cy="169.5" rx="2.7" ry="2.2" transform="rotate(0 37.1 169.5)" fill="#12b060" opacity="0.8"/>
<ellipse cx="32.9" cy="150.3" rx="1.6" ry="1.7" transform="rotate(0 32.9 150.3)" fill="#12b060" opacity="0.8"/>
<ellipse cx="12.0" cy="156.6" rx="1.4" ry="1.7" transform="rotate(0 12.0 156.6)" fill="#12b060" opacity="0.8"/>
<ellipse cx="30.6" cy="161.0" rx="1.9" ry="1.6" transform="rotate(0 30.6 161.0)" fill="#12b060" opacity="0.8"/>
<ellipse cx="18.3" cy="180.1" rx="2.4" ry="2.3" transform="rotate(0 18.3 180.1)" fill="#12b060" opacity="0.8"/>
<ellipse cx="15.1" cy="173.2" rx="1.5" ry="1.9" transform="rotate(0 15.1 173.2)" fill="#12b060" opacity="0.8"/>
<ellipse cx="24.3" cy="162.0" rx="2.6" ry="5.3" transform="rotate(0 24.3 162.0)" fill="#12b060" opacity="0.75"/>
<ellipse cx="27.9" cy="176.1" rx="3.5" ry="2.6" transform="rotate(0 27.9 176.1)" fill="#12b060" opacity="0.75"/>
<ellipse cx="18.7" cy="156.7" rx="3.8" ry="7.0" transform="rotate(-10 18.7 156.7)" fill="#12b060" opacity="0.75"/>
<ellipse cx="20.6" cy="157.7" rx="2.3" ry="4.5" transform="rotate(-10 20.6 157.7)" fill="#12b060" opacity="0.75"/>
<ellipse cx="20.0" cy="158.6" rx="1.9" ry="3.1" transform="rotate(-10 20.0 158.6)" fill="#12b060" opacity="0.75"/>
<ellipse cx="18.0" cy="155.1" rx="1.9" ry="5.1" transform="rotate(-10 18.0 155.1)" fill="#12b060" opacity="0.75"/>
<ellipse cx="35.3" cy="157.6" rx="4.2" ry="4.6" transform="rotate(0 35.3 157.6)" fill="#12b060" opacity="0.75"/>
<ellipse cx="36.8" cy="156.7" rx="2.7" ry="2.6" transform="rotate(0 36.8 156.7)" fill="#12b060" opacity="0.75"/>
<ellipse cx="37.0" cy="157.4" rx="2.2" ry="2.4" transform="rotate(0 37.0 157.4)" fill="#12b060" opacity="0.75"/>
<ellipse cx="35.5" cy="156.5" rx="2.6" ry="3.3" transform="rotate(0 35.5 156.5)" fill="#12b060" opacity="0.75"/>
<ellipse cx="18.2" cy="172.2" rx="5.3" ry="5.3" transform="rotate(35 18.2 172.2)" fill="#12b060" opacity="0.75"/>
<ellipse cx="17.6" cy="170.7" rx="4.0" ry="3.2" transform="rotate(35 17.6 170.7)" fill="#12b060" opacity="0.75"/>
<ellipse cx="16.0" cy="169.8" rx="2.5" ry="3.3" transform="rotate(35 16.0 169.8)" fill="#12b060" opacity="0.75"/>
<ellipse cx="19.7" cy="171.8" rx="2.4" ry="2.9" transform="rotate(35 19.7 171.8)" fill="#12b060" opacity="0.75"/>
<ellipse cx="34.9" cy="171.7" rx="5.7" ry="3.6" transform="rotate(0 34.9 171.7)" fill="#12b060" opacity="0.75"/>
<ellipse cx="37.7" cy="171.8" rx="4.2" ry="2.5" transform="rotate(0 37.7 171.8)" fill="#12b060" opacity="0.75"/>
<ellipse cx="32.1" cy="172.5" rx="3.7" ry="2.2" transform="rotate(0 32.1 172.5)" fill="#12b060" opacity="0.75"/>
<ellipse cx="33.6" cy="172.2" rx="2.7" ry="2.1" transform="rotate(0 33.6 172.2)" fill="#12b060" opacity="0.75"/>
<ellipse cx="32.6" cy="178.2" rx="2.5" ry="2.1" transform="rotate(0 32.6 178.2)" fill="#12b060" opacity="0.75"/>
<ellipse cx="32.5" cy="179.1" rx="1.8" ry="1.1" transform="rotate(0 32.5 179.1)" fill="#12b060" opacity="0.75"/>
<ellipse cx="32.6" cy="177.5" rx="1.8" ry="1.5" transform="rotate(0 32.6 177.5)" fill="#12b060" opacity="0.75"/>
<ellipse cx="32.1" cy="178.5" rx="1.6" ry="1.0" transform="rotate(0 32.1 178.5)" fill="#12b060" opacity="0.75"/>
<ellipse cx="18.7" cy="156.7" rx="2.5" ry="4.6" transform="rotate(-10 18.7 156.7)" fill="#16f216"/>
<ellipse cx="20.6" cy="157.7" rx="1.5" ry="3.0" transform="rotate(-10 20.6 157.7)" fill="#16f216"/>
<ellipse cx="20.0" cy="158.6" rx="1.3" ry="2.1" transform="rotate(-10 20.0 158.6)" fill="#16f216"/>
<ellipse cx="18.0" cy="155.1" rx="1.3" ry="3.4" transform="rotate(-10 18.0 155.1)" fill="#16f216"/>
<ellipse cx="35.3" cy="157.6" rx="2.8" ry="3.1" transform="rotate(0 35.3 157.6)" fill="#16f216"/>
<ellipse cx="36.8" cy="156.7" rx="1.8" ry="1.7" transform="rotate(0 36.8 156.7)" fill="#16f216"/>
<ellipse cx="37.0" cy="157.4" rx="1.5" ry="1.6" transform="rotate(0 37.0 157.4)" fill="#16f216"/>
<ellipse cx="35.5" cy="156.5" rx="1.7" ry="2.2" transform="rotate(0 35.5 156.5)" fill="#16f216"/>
<ellipse cx="18.2" cy="172.2" rx="3.5" ry="3.5" transform="rotate(35 18.2 172.2)" fill="#16f216"/>
<ellipse cx="17.6" cy="170.7" rx="2.6" ry="2.1" transform="rotate(35 17.6 170.7)" fill="#16f216"/>
<ellipse cx="16.0" cy="169.8" rx="1.7" ry="2.2" transform="rotate(35 16.0 169.8)" fill="#16f216"/>
<ellipse cx="19.7" cy="171.8" rx="1.6" ry="2.0" transform="rotate(35 19.7 171.8)" fill="#16f216"/>
<ellipse cx="34.9" cy="171.7" rx="3.8" ry="2.4" transform="rotate(0 34.9 171.7)" fill="#16f216"/>
<ellipse cx="37.7" cy="171.8" rx="2.8" ry="1.7" transform="rotate(0 37.7 171.8)" fill="#16f216"/>
<ellipse cx="32.1" cy="172.5" rx="2.5" ry="1.4" transform="rotate(0 32.1 172.5)" fill="#16f216"/>
<ellipse cx="33.6" cy="172.2" rx="1.8" ry="1.4" transform="rotate(0 33.6 172.2)" fill="#16f216"/>
<ellipse cx="32.6" cy="178.2" rx="1.7" ry="1.4" transform="rotate(0 32.6 178.2)" fill="#16f216"/>
<ellipse cx="32.5" cy="179.1" rx="1.2" ry="0.7" transform="rotate(0 32.5 179.1)" fill="#16f216"/>
<ellipse cx="32.6" cy="177.5" rx="1.2" ry="1.0" transform="rotate(0 32.6 177.5)" fill="#16f216"/>
<ellipse cx="32.1" cy="178.5" rx="1.1" ry="0.7" transform="rotate(0 32.1 178.5)" fill="#16f216"/>
<ellipse cx="35.3" cy="157.6" rx="2.1" ry="2.3" transform="rotate(0 35.3 157.6)" fill="#d8f020"/>
</g>
<line x1="8.5" y1="165.5" x2="43.7" y2="165.5" stroke="#0a1a50" stroke-width="0.45" opacity="0.5"/>
<line x1="26.1" y1="147.9" x2="26.1" y2="183.1" stroke="#0a1a50" stroke-width="0.4" opacity="0.35"/>
</g>
<clipPath id="pc2"><circle cx="65.1" cy="165.4" r="17.6"/></clipPath>
<circle cx="65.1" cy="165.4" r="17.6" fill="#0c28ec"/>
<g clip-path="url(#pc2)"><g filter="url(#pfb)">
<ellipse cx="73.9" cy="166.7" rx="2.6" ry="2.2" transform="rotate(0 73.9 166.7)" fill="#12b060" opacity="0.8"/>
<ellipse cx="77.8" cy="176.5" rx="1.8" ry="1.3" transform="rotate(0 77.8 176.5)" fill="#12b060" opacity="0.8"/>
<ellipse cx="51.2" cy="164.9" rx="1.4" ry="2.6" transform="rotate(0 51.2 164.9)" fill="#12b060" opacity="0.8"/>
<ellipse cx="74.0" cy="153.0" rx="2.1" ry="2.2" transform="rotate(0 74.0 153.0)" fill="#12b060" opacity="0.8"/>
<ellipse cx="57.2" cy="177.9" rx="2.0" ry="1.6" transform="rotate(0 57.2 177.9)" fill="#12b060" opacity="0.8"/>
<ellipse cx="66.4" cy="173.1" rx="1.6" ry="1.8" transform="rotate(0 66.4 173.1)" fill="#12b060" opacity="0.8"/>
<ellipse cx="81.7" cy="170.4" rx="2.0" ry="2.1" transform="rotate(0 81.7 170.4)" fill="#12b060" opacity="0.8"/>
<ellipse cx="52.4" cy="156.2" rx="1.8" ry="2.3" transform="rotate(0 52.4 156.2)" fill="#12b060" opacity="0.8"/>
<ellipse cx="56.1" cy="156.0" rx="1.4" ry="2.3" transform="rotate(0 56.1 156.0)" fill="#12b060" opacity="0.8"/>
<ellipse cx="56.0" cy="179.0" rx="2.7" ry="1.4" transform="rotate(0 56.0 179.0)" fill="#12b060" opacity="0.8"/>
<ellipse cx="56.3" cy="171.1" rx="1.6" ry="1.5" transform="rotate(0 56.3 171.1)" fill="#12b060" opacity="0.8"/>
<ellipse cx="79.7" cy="167.8" rx="2.1" ry="2.6" transform="rotate(0 79.7 167.8)" fill="#12b060" opacity="0.8"/>
<ellipse cx="75.4" cy="155.0" rx="1.4" ry="2.0" transform="rotate(0 75.4 155.0)" fill="#12b060" opacity="0.8"/>
<ellipse cx="55.4" cy="155.7" rx="3.5" ry="2.6" transform="rotate(0 55.4 155.7)" fill="#12b060" opacity="0.75"/>
<ellipse cx="73.0" cy="156.6" rx="3.5" ry="2.6" transform="rotate(0 73.0 156.6)" fill="#12b060" opacity="0.75"/>
<ellipse cx="65.1" cy="167.2" rx="5.3" ry="3.5" transform="rotate(0 65.1 167.2)" fill="#12b060" opacity="0.75"/>
<ellipse cx="65.6" cy="154.3" rx="3.0" ry="3.6" transform="rotate(30 65.6 154.3)" fill="#12b060" opacity="0.75"/>
<ellipse cx="65.4" cy="154.2" rx="2.0" ry="2.3" transform="rotate(30 65.4 154.2)" fill="#12b060" opacity="0.75"/>
<ellipse cx="67.1" cy="152.9" rx="1.7" ry="2.0" transform="rotate(30 67.1 152.9)" fill="#12b060" opacity="0.75"/>
<ellipse cx="66.7" cy="153.4" rx="1.5" ry="2.1" transform="rotate(30 66.7 153.4)" fill="#12b060" opacity="0.75"/>
<ellipse cx="55.1" cy="164.0" rx="2.5" ry="4.6" transform="rotate(0 55.1 164.0)" fill="#12b060" opacity="0.75"/>
<ellipse cx="54.9" cy="163.0" rx="1.3" ry="3.4" transform="rotate(0 54.9 163.0)" fill="#12b060" opacity="0.75"/>
<ellipse cx="54.9" cy="165.7" rx="1.5" ry="2.1" transform="rotate(0 54.9 165.7)" fill="#12b060" opacity="0.75"/>
<ellipse cx="56.3" cy="165.6" rx="1.9" ry="3.4" transform="rotate(0 56.3 165.6)" fill="#12b060" opacity="0.75"/>
<ellipse cx="74.3" cy="164.3" rx="3.2" ry="3.0" transform="rotate(0 74.3 164.3)" fill="#12b060" opacity="0.75"/>
<ellipse cx="75.4" cy="163.4" rx="1.9" ry="1.5" transform="rotate(0 75.4 163.4)" fill="#12b060" opacity="0.75"/>
<ellipse cx="73.9" cy="163.0" rx="1.8" ry="2.2" transform="rotate(0 73.9 163.0)" fill="#12b060" opacity="0.75"/>
<ellipse cx="73.5" cy="165.2" rx="1.8" ry="1.7" transform="rotate(0 73.5 165.2)" fill="#12b060" opacity="0.75"/>
<ellipse cx="63.0" cy="173.3" rx="3.0" ry="2.5" transform="rotate(30 63.0 173.3)" fill="#12b060" opacity="0.75"/>
<ellipse cx="64.3" cy="174.6" rx="1.8" ry="1.7" transform="rotate(30 64.3 174.6)" fill="#12b060" opacity="0.75"/>
<ellipse cx="62.0" cy="172.8" rx="2.2" ry="1.6" transform="rotate(30 62.0 172.8)" fill="#12b060" opacity="0.75"/>
<ellipse cx="63.1" cy="173.9" rx="1.3" ry="1.6" transform="rotate(30 63.1 173.9)" fill="#12b060" opacity="0.75"/>
<ellipse cx="66.9" cy="174.6" rx="3.0" ry="2.1" transform="rotate(0 66.9 174.6)" fill="#12b060" opacity="0.75"/>
<ellipse cx="66.9" cy="175.3" rx="1.4" ry="1.6" transform="rotate(0 66.9 175.3)" fill="#12b060" opacity="0.75"/>
<ellipse cx="65.6" cy="173.9" rx="1.8" ry="1.4" transform="rotate(0 65.6 173.9)" fill="#12b060" opacity="0.75"/>
<ellipse cx="66.1" cy="173.7" rx="2.1" ry="1.1" transform="rotate(0 66.1 173.7)" fill="#12b060" opacity="0.75"/>
<ellipse cx="75.7" cy="178.1" rx="2.5" ry="1.7" transform="rotate(0 75.7 178.1)" fill="#12b060" opacity="0.75"/>
<ellipse cx="75.9" cy="178.3" rx="1.4" ry="1.0" transform="rotate(0 75.9 178.3)" fill="#12b060" opacity="0.75"/>
<ellipse cx="75.7" cy="178.8" rx="1.3" ry="1.1" transform="rotate(0 75.7 178.8)" fill="#12b060" opacity="0.75"/>
<ellipse cx="75.0" cy="177.9" rx="1.6" ry="0.9" transform="rotate(0 75.0 177.9)" fill="#12b060" opacity="0.75"/>
<ellipse cx="49.8" cy="171.9" rx="1.7" ry="2.1" transform="rotate(0 49.8 171.9)" fill="#12b060" opacity="0.75"/>
<ellipse cx="49.5" cy="172.4" rx="0.8" ry="1.2" transform="rotate(0 49.5 172.4)" fill="#12b060" opacity="0.75"/>
<ellipse cx="50.6" cy="173.0" rx="0.8" ry="1.1" transform="rotate(0 50.6 173.0)" fill="#12b060" opacity="0.75"/>
<ellipse cx="49.4" cy="172.8" rx="1.2" ry="1.5" transform="rotate(0 49.4 172.8)" fill="#12b060" opacity="0.75"/>
<ellipse cx="65.6" cy="154.3" rx="2.0" ry="2.4" transform="rotate(30 65.6 154.3)" fill="#16f216"/>
<ellipse cx="65.4" cy="154.2" rx="1.3" ry="1.6" transform="rotate(30 65.4 154.2)" fill="#16f216"/>
<ellipse cx="67.1" cy="152.9" rx="1.1" ry="1.3" transform="rotate(30 67.1 152.9)" fill="#16f216"/>
<ellipse cx="66.7" cy="153.4" rx="1.0" ry="1.4" transform="rotate(30 66.7 153.4)" fill="#16f216"/>
<ellipse cx="55.1" cy="164.0" rx="1.7" ry="3.1" transform="rotate(0 55.1 164.0)" fill="#16f216"/>
<ellipse cx="54.9" cy="163.0" rx="0.9" ry="2.2" transform="rotate(0 54.9 163.0)" fill="#16f216"/>
<ellipse cx="54.9" cy="165.7" rx="1.0" ry="1.4" transform="rotate(0 54.9 165.7)" fill="#16f216"/>
<ellipse cx="56.3" cy="165.6" rx="1.3" ry="2.3" transform="rotate(0 56.3 165.6)" fill="#16f216"/>
<ellipse cx="74.3" cy="164.3" rx="2.1" ry="2.0" transform="rotate(0 74.3 164.3)" fill="#16f216"/>
<ellipse cx="75.4" cy="163.4" rx="1.2" ry="1.0" transform="rotate(0 75.4 163.4)" fill="#16f216"/>
<ellipse cx="73.9" cy="163.0" rx="1.2" ry="1.5" transform="rotate(0 73.9 163.0)" fill="#16f216"/>
<ellipse cx="73.5" cy="165.2" rx="1.2" ry="1.1" transform="rotate(0 73.5 165.2)" fill="#16f216"/>
<ellipse cx="63.0" cy="173.3" rx="2.0" ry="1.7" transform="rotate(30 63.0 173.3)" fill="#16f216"/>
<ellipse cx="64.3" cy="174.6" rx="1.2" ry="1.1" transform="rotate(30 64.3 174.6)" fill="#16f216"/>
<ellipse cx="62.0" cy="172.8" rx="1.5" ry="1.0" transform="rotate(30 62.0 172.8)" fill="#16f216"/>
<ellipse cx="63.1" cy="173.9" rx="0.9" ry="1.0" transform="rotate(30 63.1 173.9)" fill="#16f216"/>
<ellipse cx="66.9" cy="174.6" rx="2.0" ry="1.4" transform="rotate(0 66.9 174.6)" fill="#16f216"/>
<ellipse cx="66.9" cy="175.3" rx="1.0" ry="1.0" transform="rotate(0 66.9 175.3)" fill="#16f216"/>
<ellipse cx="65.6" cy="173.9" rx="1.2" ry="0.9" transform="rotate(0 65.6 173.9)" fill="#16f216"/>
<ellipse cx="66.1" cy="173.7" rx="1.4" ry="0.7" transform="rotate(0 66.1 173.7)" fill="#16f216"/>
<ellipse cx="75.7" cy="178.1" rx="1.7" ry="1.1" transform="rotate(0 75.7 178.1)" fill="#16f216"/>
<ellipse cx="75.9" cy="178.3" rx="1.0" ry="0.7" transform="rotate(0 75.9 178.3)" fill="#16f216"/>
<ellipse cx="75.7" cy="178.8" rx="0.8" ry="0.7" transform="rotate(0 75.7 178.8)" fill="#16f216"/>
<ellipse cx="75.0" cy="177.9" rx="1.1" ry="0.6" transform="rotate(0 75.0 177.9)" fill="#16f216"/>
<ellipse cx="49.8" cy="171.9" rx="1.1" ry="1.4" transform="rotate(0 49.8 171.9)" fill="#16f216"/>
<ellipse cx="49.5" cy="172.4" rx="0.5" ry="0.8" transform="rotate(0 49.5 172.4)" fill="#16f216"/>
<ellipse cx="50.6" cy="173.0" rx="0.5" ry="0.7" transform="rotate(0 50.6 173.0)" fill="#16f216"/>
<ellipse cx="49.4" cy="172.8" rx="0.8" ry="1.0" transform="rotate(0 49.4 172.8)" fill="#16f216"/>
</g>
<line x1="47.5" y1="165.4" x2="82.7" y2="165.4" stroke="#0a1a50" stroke-width="0.45" opacity="0.5"/>
<line x1="65.1" y1="147.8" x2="65.1" y2="183.0" stroke="#0a1a50" stroke-width="0.4" opacity="0.35"/>
</g>
<clipPath id="pc3"><circle cx="104.3" cy="165.5" r="17.6"/></clipPath>
<circle cx="104.3" cy="165.5" r="17.6" fill="#0c28ec"/>
<g clip-path="url(#pc3)"><g filter="url(#pfb)">
<ellipse cx="99.9" cy="154.1" rx="2.7" ry="2.5" transform="rotate(0 99.9 154.1)" fill="#12b060" opacity="0.8"/>
<ellipse cx="108.0" cy="181.8" rx="2.4" ry="1.2" transform="rotate(0 108.0 181.8)" fill="#12b060" opacity="0.8"/>
<ellipse cx="114.9" cy="158.8" rx="2.4" ry="2.9" transform="rotate(0 114.9 158.8)" fill="#12b060" opacity="0.8"/>
<ellipse cx="91.2" cy="167.3" rx="1.7" ry="2.3" transform="rotate(0 91.2 167.3)" fill="#12b060" opacity="0.8"/>
<ellipse cx="111.6" cy="155.6" rx="2.3" ry="1.7" transform="rotate(0 111.6 155.6)" fill="#12b060" opacity="0.8"/>
<ellipse cx="103.9" cy="179.1" rx="2.7" ry="1.4" transform="rotate(0 103.9 179.1)" fill="#12b060" opacity="0.8"/>
<ellipse cx="101.7" cy="158.0" rx="1.2" ry="2.6" transform="rotate(0 101.7 158.0)" fill="#12b060" opacity="0.8"/>
<ellipse cx="108.9" cy="157.5" rx="2.5" ry="2.2" transform="rotate(0 108.9 157.5)" fill="#12b060" opacity="0.8"/>
<ellipse cx="101.9" cy="149.1" rx="1.4" ry="2.8" transform="rotate(0 101.9 149.1)" fill="#12b060" opacity="0.8"/>
<ellipse cx="117.8" cy="167.0" rx="2.7" ry="2.3" transform="rotate(0 117.8 167.0)" fill="#12b060" opacity="0.8"/>
<ellipse cx="92.5" cy="153.0" rx="1.8" ry="2.8" transform="rotate(0 92.5 153.0)" fill="#12b060" opacity="0.8"/>
<ellipse cx="114.2" cy="177.6" rx="2.8" ry="1.6" transform="rotate(0 114.2 177.6)" fill="#12b060" opacity="0.8"/>
<ellipse cx="95.9" cy="152.2" rx="2.6" ry="2.8" transform="rotate(0 95.9 152.2)" fill="#12b060" opacity="0.8"/>
<ellipse cx="101.2" cy="169.5" rx="1.5" ry="2.9" transform="rotate(0 101.2 169.5)" fill="#12b060" opacity="0.8"/>
<ellipse cx="104.3" cy="160.2" rx="2.5" ry="7.9" transform="rotate(0 104.3 160.2)" fill="#12b060" opacity="0.75"/>
<ellipse cx="104.3" cy="172.5" rx="2.6" ry="6.2" transform="rotate(0 104.3 172.5)" fill="#12b060" opacity="0.75"/>
<ellipse cx="103.9" cy="165.1" rx="3.4" ry="5.1" transform="rotate(0 103.9 165.1)" fill="#12b060" opacity="0.75"/>
<ellipse cx="105.0" cy="167.1" rx="1.5" ry="3.4" transform="rotate(0 105.0 167.1)" fill="#12b060" opacity="0.75"/>
<ellipse cx="103.4" cy="167.3" rx="2.3" ry="3.6" transform="rotate(0 103.4 167.3)" fill="#12b060" opacity="0.75"/>
<ellipse cx="105.0" cy="164.0" rx="2.3" ry="2.4" transform="rotate(0 105.0 164.0)" fill="#12b060" opacity="0.75"/>
<ellipse cx="106.1" cy="150.5" rx="6.3" ry="1.7" transform="rotate(0 106.1 150.5)" fill="#12b060" opacity="0.75"/>
<ellipse cx="108.4" cy="151.1" rx="3.2" ry="1.2" transform="rotate(0 108.4 151.1)" fill="#12b060" opacity="0.75"/>
<ellipse cx="105.8" cy="150.2" rx="4.3" ry="0.9" transform="rotate(0 105.8 150.2)" fill="#12b060" opacity="0.75"/>
<ellipse cx="103.0" cy="150.0" rx="3.4" ry="1.2" transform="rotate(0 103.0 150.0)" fill="#12b060" opacity="0.75"/>
<ellipse cx="87.9" cy="165.0" rx="2.1" ry="3.2" transform="rotate(0 87.9 165.0)" fill="#12b060" opacity="0.75"/>
<ellipse cx="88.9" cy="164.3" rx="1.3" ry="1.8" transform="rotate(0 88.9 164.3)" fill="#12b060" opacity="0.75"/>
<ellipse cx="88.9" cy="165.1" rx="1.5" ry="1.5" transform="rotate(0 88.9 165.1)" fill="#12b060" opacity="0.75"/>
<ellipse cx="88.9" cy="164.0" rx="1.6" ry="1.6" transform="rotate(0 88.9 164.0)" fill="#12b060" opacity="0.75"/>
<ellipse cx="119.8" cy="167.6" rx="2.5" ry="3.2" transform="rotate(0 119.8 167.6)" fill="#12b060" opacity="0.75"/>
<ellipse cx="118.8" cy="167.4" rx="1.7" ry="1.7" transform="rotate(0 118.8 167.4)" fill="#12b060" opacity="0.75"/>
<ellipse cx="120.1" cy="167.6" rx="1.4" ry="2.0" transform="rotate(0 120.1 167.6)" fill="#12b060" opacity="0.75"/>
<ellipse cx="119.2" cy="168.3" rx="1.1" ry="2.3" transform="rotate(0 119.2 168.3)" fill="#12b060" opacity="0.75"/>
<ellipse cx="100.8" cy="179.9" rx="3.8" ry="2.1" transform="rotate(0 100.8 179.9)" fill="#12b060" opacity="0.75"/>
<ellipse cx="100.9" cy="180.4" rx="2.5" ry="1.4" transform="rotate(0 100.9 180.4)" fill="#12b060" opacity="0.75"/>
<ellipse cx="100.3" cy="179.0" rx="2.5" ry="1.1" transform="rotate(0 100.3 179.0)" fill="#12b060" opacity="0.75"/>
<ellipse cx="100.1" cy="180.7" rx="2.5" ry="1.1" transform="rotate(0 100.1 180.7)" fill="#12b060" opacity="0.75"/>
<ellipse cx="104.3" cy="172.5" rx="1.7" ry="4.2" transform="rotate(0 104.3 172.5)" fill="#12b060" opacity="0.75"/>
<ellipse cx="104.0" cy="172.2" rx="1.0" ry="2.2" transform="rotate(0 104.0 172.2)" fill="#12b060" opacity="0.75"/>
<ellipse cx="103.7" cy="172.2" rx="1.2" ry="2.7" transform="rotate(0 103.7 172.2)" fill="#12b060" opacity="0.75"/>
<ellipse cx="105.0" cy="173.0" rx="0.9" ry="2.6" transform="rotate(0 105.0 173.0)" fill="#12b060" opacity="0.75"/>
<ellipse cx="103.9" cy="165.1" rx="2.3" ry="3.4" transform="rotate(0 103.9 165.1)" fill="#16f216"/>
<ellipse cx="105.0" cy="167.1" rx="1.0" ry="2.3" transform="rotate(0 105.0 167.1)" fill="#16f216"/>
<ellipse cx="103.4" cy="167.3" rx="1.6" ry="2.4" transform="rotate(0 103.4 167.3)" fill="#16f216"/>
<ellipse cx="105.0" cy="164.0" rx="1.5" ry="1.6" transform="rotate(0 105.0 164.0)" fill="#16f216"/>
<ellipse cx="106.1" cy="150.5" rx="4.2" ry="1.1" transform="rotate(0 106.1 150.5)" fill="#16f216"/>
<ellipse cx="108.4" cy="151.1" rx="2.1" ry="0.8" transform="rotate(0 108.4 151.1)" fill="#16f216"/>
<ellipse cx="105.8" cy="150.2" rx="2.9" ry="0.6" transform="rotate(0 105.8 150.2)" fill="#16f216"/>
<ellipse cx="103.0" cy="150.0" rx="2.3" ry="0.8" transform="rotate(0 103.0 150.0)" fill="#16f216"/>
<ellipse cx="87.9" cy="165.0" rx="1.4" ry="2.1" transform="rotate(0 87.9 165.0)" fill="#16f216"/>
<ellipse cx="88.9" cy="164.3" rx="0.9" ry="1.2" transform="rotate(0 88.9 164.3)" fill="#16f216"/>
<ellipse cx="88.9" cy="165.1" rx="1.0" ry="1.0" transform="rotate(0 88.9 165.1)" fill="#16f216"/>
<ellipse cx="88.9" cy="164.0" rx="1.0" ry="1.1" transform="rotate(0 88.9 164.0)" fill="#16f216"/>
<ellipse cx="119.8" cy="167.6" rx="1.7" ry="2.1" transform="rotate(0 119.8 167.6)" fill="#16f216"/>
<ellipse cx="118.8" cy="167.4" rx="1.1" ry="1.1" transform="rotate(0 118.8 167.4)" fill="#16f216"/>
<ellipse cx="120.1" cy="167.6" rx="0.9" ry="1.3" transform="rotate(0 120.1 167.6)" fill="#16f216"/>
<ellipse cx="119.2" cy="168.3" rx="0.7" ry="1.5" transform="rotate(0 119.2 168.3)" fill="#16f216"/>
<ellipse cx="100.8" cy="179.9" rx="2.5" ry="1.4" transform="rotate(0 100.8 179.9)" fill="#16f216"/>
<ellipse cx="100.9" cy="180.4" rx="1.7" ry="0.9" transform="rotate(0 100.9 180.4)" fill="#16f216"/>
<ellipse cx="100.3" cy="179.0" rx="1.6" ry="0.8" transform="rotate(0 100.3 179.0)" fill="#16f216"/>
<ellipse cx="100.1" cy="180.7" rx="1.7" ry="0.7" transform="rotate(0 100.1 180.7)" fill="#16f216"/>
<ellipse cx="104.3" cy="172.5" rx="1.1" ry="2.8" transform="rotate(0 104.3 172.5)" fill="#16f216"/>
<ellipse cx="104.0" cy="172.2" rx="0.6" ry="1.5" transform="rotate(0 104.0 172.2)" fill="#16f216"/>
<ellipse cx="103.7" cy="172.2" rx="0.8" ry="1.8" transform="rotate(0 103.7 172.2)" fill="#16f216"/>
<ellipse cx="105.0" cy="173.0" rx="0.6" ry="1.7" transform="rotate(0 105.0 173.0)" fill="#16f216"/>
<ellipse cx="103.9" cy="165.1" rx="1.7" ry="2.5" transform="rotate(0 103.9 165.1)" fill="#d8f020"/>
<ellipse cx="103.9" cy="165.1" rx="1.1" ry="1.6" transform="rotate(0 103.9 165.1)" fill="#f03a10"/>
<ellipse cx="87.9" cy="165.0" rx="1.1" ry="1.6" transform="rotate(0 87.9 165.0)" fill="#d8f020"/>
<ellipse cx="119.8" cy="167.6" rx="1.3" ry="1.6" transform="rotate(0 119.8 167.6)" fill="#d8f020"/>
<ellipse cx="119.8" cy="167.6" rx="0.8" ry="1.0" transform="rotate(0 119.8 167.6)" fill="#f03a10"/>
</g>
<line x1="86.7" y1="165.5" x2="121.9" y2="165.5" stroke="#0a1a50" stroke-width="0.45" opacity="0.5"/>
<line x1="104.3" y1="147.9" x2="104.3" y2="183.1" stroke="#0a1a50" stroke-width="0.4" opacity="0.35"/>
</g>
<text transform="translate(3.9 148.2) scale(1.12 1)" font-family="'Liberation Serif', 'DejaVu Serif', serif" font-size="6" fill="#222">[110]</text>
<text transform="translate(41.8 150.0) scale(1.12 1)" font-family="'Liberation Serif', 'DejaVu Serif', serif" font-size="6" fill="#222">[111]</text>
<text transform="translate(79.4 150.0) scale(1.12 1)" font-family="'Liberation Serif', 'DejaVu Serif', serif" font-size="6" fill="#222">[100]</text>
<text x="24.7" y="145.9" font-family="'Liberation Serif', 'DejaVu Serif', serif" font-size="4.5" fill="#333">Y</text>
<text x="44.3" y="167.0" font-family="'Liberation Serif', 'DejaVu Serif', serif" font-size="4.5" fill="#333">X</text>
<text x="122.7" y="157.2" font-family="'Liberation Serif', 'DejaVu Serif', serif" font-size="6.6" fill="#111">Max=7.32</text>
<rect x="127.1" y="160.20" width="17.9" height="2.28" fill="#1030c8"/>
<rect x="127.1" y="162.42" width="17.9" height="2.28" fill="#109050"/>
<rect x="127.1" y="164.65" width="17.9" height="2.28" fill="#10d020"/>
<rect x="127.1" y="166.88" width="17.9" height="2.28" fill="#20f020"/>
<rect x="127.1" y="169.10" width="17.9" height="2.28" fill="#90e010"/>
<rect x="127.1" y="171.32" width="17.9" height="2.28" fill="#f0c000"/>
<rect x="127.1" y="173.55" width="17.9" height="2.28" fill="#f08000"/>
<rect x="127.1" y="175.78" width="17.9" height="2.28" fill="#f02000"/>
<clipPath id="pc4"><circle cx="170.1" cy="165.1" r="17.6"/></clipPath>
<circle cx="170.1" cy="165.1" r="17.6" fill="#0c28ec"/>
<g clip-path="url(#pc4)"><g filter="url(#pfb)">
<ellipse cx="167.8" cy="167.8" rx="2.4" ry="2.1" transform="rotate(0 167.8 167.8)" fill="#12b060" opacity="0.8"/>
<ellipse cx="168.2" cy="155.5" rx="2.1" ry="2.8" transform="rotate(0 168.2 155.5)" fill="#12b060" opacity="0.8"/>
<ellipse cx="180.0" cy="154.1" rx="1.4" ry="2.1" transform="rotate(0 180.0 154.1)" fill="#12b060" opacity="0.8"/>
<ellipse cx="174.5" cy="159.6" rx="2.7" ry="2.6" transform="rotate(0 174.5 159.6)" fill="#12b060" opacity="0.8"/>
<ellipse cx="175.9" cy="155.9" rx="1.6" ry="1.3" transform="rotate(0 175.9 155.9)" fill="#12b060" opacity="0.8"/>
<ellipse cx="161.6" cy="164.3" rx="2.7" ry="1.4" transform="rotate(0 161.6 164.3)" fill="#12b060" opacity="0.8"/>
<ellipse cx="167.2" cy="169.4" rx="1.6" ry="2.5" transform="rotate(0 167.2 169.4)" fill="#12b060" opacity="0.8"/>
<ellipse cx="169.9" cy="156.5" rx="2.4" ry="1.2" transform="rotate(0 169.9 156.5)" fill="#12b060" opacity="0.8"/>
<ellipse cx="178.5" cy="174.1" rx="1.4" ry="2.0" transform="rotate(0 178.5 174.1)" fill="#12b060" opacity="0.8"/>
<ellipse cx="170.7" cy="150.1" rx="1.7" ry="2.7" transform="rotate(0 170.7 150.1)" fill="#12b060" opacity="0.8"/>
<ellipse cx="168.6" cy="175.2" rx="2.4" ry="3.0" transform="rotate(0 168.6 175.2)" fill="#12b060" opacity="0.8"/>
<ellipse cx="173.3" cy="180.1" rx="2.8" ry="2.3" transform="rotate(0 173.3 180.1)" fill="#12b060" opacity="0.8"/>
<ellipse cx="177.4" cy="165.3" rx="2.7" ry="2.2" transform="rotate(0 177.4 165.3)" fill="#12b060" opacity="0.8"/>
<ellipse cx="183.4" cy="173.2" rx="2.1" ry="1.7" transform="rotate(0 183.4 173.2)" fill="#12b060" opacity="0.8"/>
<ellipse cx="170.1" cy="163.3" rx="1.8" ry="8.8" transform="rotate(0 170.1 163.3)" fill="#12b060" opacity="0.75"/>
<ellipse cx="162.0" cy="157.0" rx="5.9" ry="5.1" transform="rotate(0 162.0 157.0)" fill="#12b060" opacity="0.75"/>
<ellipse cx="160.5" cy="157.7" rx="4.0" ry="3.0" transform="rotate(0 160.5 157.7)" fill="#12b060" opacity="0.75"/>
<ellipse cx="162.8" cy="155.9" rx="2.7" ry="2.7" transform="rotate(0 162.8 155.9)" fill="#12b060" opacity="0.75"/>
<ellipse cx="160.7" cy="156.1" rx="3.6" ry="2.4" transform="rotate(0 160.7 156.1)" fill="#12b060" opacity="0.75"/>
<ellipse cx="178.2" cy="157.0" rx="6.3" ry="4.6" transform="rotate(0 178.2 157.0)" fill="#12b060" opacity="0.75"/>
<ellipse cx="176.5" cy="157.9" rx="4.2" ry="2.1" transform="rotate(0 176.5 157.9)" fill="#12b060" opacity="0.75"/>
<ellipse cx="177.6" cy="157.2" rx="3.6" ry="2.3" transform="rotate(0 177.6 157.2)" fill="#12b060" opacity="0.75"/>
<ellipse cx="177.7" cy="158.9" rx="3.9" ry="3.0" transform="rotate(0 177.7 158.9)" fill="#12b060" opacity="0.75"/>
<ellipse cx="162.2" cy="172.3" rx="3.8" ry="7.0" transform="rotate(0 162.2 172.3)" fill="#12b060" opacity="0.75"/>
<ellipse cx="163.5" cy="174.2" rx="2.1" ry="3.1" transform="rotate(0 163.5 174.2)" fill="#12b060" opacity="0.75"/>
<ellipse cx="161.6" cy="174.1" rx="2.7" ry="5.1" transform="rotate(0 161.6 174.1)" fill="#12b060" opacity="0.75"/>
<ellipse cx="161.9" cy="174.0" rx="2.3" ry="4.4" transform="rotate(0 161.9 174.0)" fill="#12b060" opacity="0.75"/>
<ellipse cx="178.7" cy="173.2" rx="4.6" ry="4.2" transform="rotate(0 178.7 173.2)" fill="#12b060" opacity="0.75"/>
<ellipse cx="177.4" cy="172.0" rx="2.7" ry="1.9" transform="rotate(0 177.4 172.0)" fill="#12b060" opacity="0.75"/>
<ellipse cx="178.0" cy="174.0" rx="2.6" ry="2.1" transform="rotate(0 178.0 174.0)" fill="#12b060" opacity="0.75"/>
<ellipse cx="178.6" cy="171.6" rx="2.9" ry="1.9" transform="rotate(0 178.6 171.6)" fill="#12b060" opacity="0.75"/>
<ellipse cx="162.0" cy="157.0" rx="3.9" ry="3.4" transform="rotate(0 162.0 157.0)" fill="#16f216"/>
<ellipse cx="160.5" cy="157.7" rx="2.7" ry="2.0" transform="rotate(0 160.5 157.7)" fill="#16f216"/>
<ellipse cx="162.8" cy="155.9" rx="1.8" ry="1.8" transform="rotate(0 162.8 155.9)" fill="#16f216"/>
<ellipse cx="160.7" cy="156.1" rx="2.4" ry="1.6" transform="rotate(0 160.7 156.1)" fill="#16f216"/>
<ellipse cx="178.2" cy="157.0" rx="4.2" ry="3.1" transform="rotate(0 178.2 157.0)" fill="#16f216"/>
<ellipse cx="176.5" cy="157.9" rx="2.8" ry="1.4" transform="rotate(0 176.5 157.9)" fill="#16f216"/>
<ellipse cx="177.6" cy="157.2" rx="2.4" ry="1.6" transform="rotate(0 177.6 157.2)" fill="#16f216"/>
<ellipse cx="177.7" cy="158.9" rx="2.6" ry="2.0" transform="rotate(0 177.7 158.9)" fill="#16f216"/>
<ellipse cx="162.2" cy="172.3" rx="2.5" ry="4.6" transform="rotate(0 162.2 172.3)" fill="#16f216"/>
<ellipse cx="163.5" cy="174.2" rx="1.4" ry="2.0" transform="rotate(0 163.5 174.2)" fill="#16f216"/>
<ellipse cx="161.6" cy="174.1" rx="1.8" ry="3.4" transform="rotate(0 161.6 174.1)" fill="#16f216"/>
<ellipse cx="161.9" cy="174.0" rx="1.5" ry="2.9" transform="rotate(0 161.9 174.0)" fill="#16f216"/>
<ellipse cx="178.7" cy="173.2" rx="3.1" ry="2.8" transform="rotate(0 178.7 173.2)" fill="#16f216"/>
<ellipse cx="177.4" cy="172.0" rx="1.8" ry="1.3" transform="rotate(0 177.4 172.0)" fill="#16f216"/>
<ellipse cx="178.0" cy="174.0" rx="1.7" ry="1.4" transform="rotate(0 178.0 174.0)" fill="#16f216"/>
<ellipse cx="178.6" cy="171.6" rx="2.0" ry="1.3" transform="rotate(0 178.6 171.6)" fill="#16f216"/>
<ellipse cx="178.7" cy="173.2" rx="2.3" ry="2.1" transform="rotate(0 178.7 173.2)" fill="#d8f020"/>
<ellipse cx="178.7" cy="173.2" rx="1.5" ry="1.3" transform="rotate(0 178.7 173.2)" fill="#f03a10"/>
</g>
<line x1="152.5" y1="165.1" x2="187.7" y2="165.1" stroke="#0a1a50" stroke-width="0.45" opacity="0.5"/>
<line x1="170.1" y1="147.5" x2="170.1" y2="182.7" stroke="#0a1a50" stroke-width="0.4" opacity="0.35"/>
</g>
<clipPath id="pc5"><circle cx="208.3" cy="165.3" r="17.6"/></clipPath>
<circle cx="208.3" cy="165.3" r="17.6" fill="#0c28ec"/>
<g clip-path="url(#pc5)"><g filter="url(#pfb)">
<ellipse cx="204.8" cy="167.5" rx="1.3" ry="2.4" transform="rotate(0 204.8 167.5)" fill="#12b060" opacity="0.8"/>
<ellipse cx="196.1" cy="164.0" rx="1.3" ry="1.9" transform="rotate(0 196.1 164.0)" fill="#12b060" opacity="0.8"/>
<ellipse cx="198.7" cy="159.5" rx="2.6" ry="1.9" transform="rotate(0 198.7 159.5)" fill="#12b060" opacity="0.8"/>
<ellipse cx="216.7" cy="176.4" rx="1.7" ry="1.4" transform="rotate(0 216.7 176.4)" fill="#12b060" opacity="0.8"/>
<ellipse cx="192.2" cy="166.6" rx="3.0" ry="1.8" transform="rotate(0 192.2 166.6)" fill="#12b060" opacity="0.8"/>
<ellipse cx="213.3" cy="174.7" rx="2.4" ry="2.6" transform="rotate(0 213.3 174.7)" fill="#12b060" opacity="0.8"/>
<ellipse cx="195.8" cy="171.0" rx="2.2" ry="1.6" transform="rotate(0 195.8 171.0)" fill="#12b060" opacity="0.8"/>
<ellipse cx="215.0" cy="174.2" rx="1.5" ry="2.3" transform="rotate(0 215.0 174.2)" fill="#12b060" opacity="0.8"/>
<ellipse cx="216.6" cy="152.4" rx="2.7" ry="2.9" transform="rotate(0 216.6 152.4)" fill="#12b060" opacity="0.8"/>
<ellipse cx="202.0" cy="171.2" rx="2.9" ry="1.9" transform="rotate(0 202.0 171.2)" fill="#12b060" opacity="0.8"/>
<ellipse cx="215.5" cy="151.1" rx="2.4" ry="2.3" transform="rotate(0 215.5 151.1)" fill="#12b060" opacity="0.8"/>
<ellipse cx="195.0" cy="174.4" rx="2.7" ry="2.3" transform="rotate(0 195.0 174.4)" fill="#12b060" opacity="0.8"/>
<ellipse cx="219.2" cy="174.5" rx="1.8" ry="1.8" transform="rotate(0 219.2 174.5)" fill="#12b060" opacity="0.75"/>
<ellipse cx="208.3" cy="165.3" rx="5.3" ry="3.5" transform="rotate(0 208.3 165.3)" fill="#12b060" opacity="0.75"/>
<ellipse cx="205.8" cy="156.1" rx="3.2" ry="2.5" transform="rotate(0 205.8 156.1)" fill="#12b060" opacity="0.75"/>
<ellipse cx="206.7" cy="155.8" rx="1.8" ry="1.4" transform="rotate(0 206.7 155.8)" fill="#12b060" opacity="0.75"/>
<ellipse cx="205.9" cy="155.7" rx="2.2" ry="1.8" transform="rotate(0 205.9 155.7)" fill="#12b060" opacity="0.75"/>
<ellipse cx="204.6" cy="157.3" rx="2.0" ry="1.8" transform="rotate(0 204.6 157.3)" fill="#12b060" opacity="0.75"/>
<ellipse cx="211.6" cy="154.4" rx="3.2" ry="2.1" transform="rotate(0 211.6 154.4)" fill="#12b060" opacity="0.75"/>
<ellipse cx="212.3" cy="154.3" rx="2.1" ry="1.6" transform="rotate(0 212.3 154.3)" fill="#12b060" opacity="0.75"/>
<ellipse cx="210.9" cy="155.0" rx="1.9" ry="1.2" transform="rotate(0 210.9 155.0)" fill="#12b060" opacity="0.75"/>
<ellipse cx="211.4" cy="154.9" rx="1.7" ry="1.5" transform="rotate(0 211.4 154.9)" fill="#12b060" opacity="0.75"/>
<ellipse cx="195.6" cy="153.0" rx="2.1" ry="1.7" transform="rotate(0 195.6 153.0)" fill="#12b060" opacity="0.75"/>
<ellipse cx="196.3" cy="152.3" rx="1.5" ry="0.9" transform="rotate(0 196.3 152.3)" fill="#12b060" opacity="0.75"/>
<ellipse cx="195.6" cy="153.2" rx="1.2" ry="0.8" transform="rotate(0 195.6 153.2)" fill="#12b060" opacity="0.75"/>
<ellipse cx="196.4" cy="152.4" rx="1.1" ry="1.2" transform="rotate(0 196.4 152.4)" fill="#12b060" opacity="0.75"/>
<ellipse cx="218.3" cy="152.6" rx="2.1" ry="1.7" transform="rotate(0 218.3 152.6)" fill="#12b060" opacity="0.75"/>
<ellipse cx="218.0" cy="153.3" rx="1.4" ry="0.9" transform="rotate(0 218.0 153.3)" fill="#12b060" opacity="0.75"/>
<ellipse cx="217.3" cy="153.4" rx="1.0" ry="1.1" transform="rotate(0 217.3 153.4)" fill="#12b060" opacity="0.75"/>
<ellipse cx="218.3" cy="153.1" rx="1.4" ry="1.1" transform="rotate(0 218.3 153.1)" fill="#12b060" opacity="0.75"/>
<ellipse cx="198.6" cy="164.4" rx="3.4" ry="5.1" transform="rotate(35 198.6 164.4)" fill="#12b060" opacity="0.75"/>
<ellipse cx="198.6" cy="165.9" rx="1.6" ry="2.6" transform="rotate(35 198.6 165.9)" fill="#12b060" opacity="0.75"/>
<ellipse cx="199.3" cy="163.4" rx="2.1" ry="3.0" transform="rotate(35 199.3 163.4)" fill="#12b060" opacity="0.75"/>
<ellipse cx="198.7" cy="164.0" rx="2.3" ry="2.7" transform="rotate(35 198.7 164.0)" fill="#12b060" opacity="0.75"/>
<ellipse cx="218.3" cy="164.9" rx="4.2" ry="2.7" transform="rotate(0 218.3 164.9)" fill="#12b060" opacity="0.75"/>
<ellipse cx="219.2" cy="164.3" rx="2.2" ry="1.3" transform="rotate(0 219.2 164.3)" fill="#12b060" opacity="0.75"/>
<ellipse cx="217.0" cy="163.9" rx="2.6" ry="1.9" transform="rotate(0 217.0 163.9)" fill="#12b060" opacity="0.75"/>
<ellipse cx="217.0" cy="164.2" rx="2.5" ry="1.8" transform="rotate(0 217.0 164.2)" fill="#12b060" opacity="0.75"/>
<ellipse cx="208.5" cy="173.4" rx="3.6" ry="3.2" transform="rotate(0 208.5 173.4)" fill="#12b060" opacity="0.75"/>
<ellipse cx="210.2" cy="173.5" rx="1.9" ry="1.5" transform="rotate(0 210.2 173.5)" fill="#12b060" opacity="0.75"/>
<ellipse cx="207.4" cy="172.5" rx="1.8" ry="1.4" transform="rotate(0 207.4 172.5)" fill="#12b060" opacity="0.75"/>
<ellipse cx="208.6" cy="172.7" rx="2.7" ry="1.9" transform="rotate(0 208.6 172.7)" fill="#12b060" opacity="0.75"/>
<ellipse cx="196.9" cy="174.5" rx="2.1" ry="2.1" transform="rotate(0 196.9 174.5)" fill="#12b060" opacity="0.75"/>
<ellipse cx="197.3" cy="173.7" rx="1.5" ry="1.2" transform="rotate(0 197.3 173.7)" fill="#12b060" opacity="0.75"/>
<ellipse cx="197.6" cy="174.6" rx="1.2" ry="1.2" transform="rotate(0 197.6 174.6)" fill="#12b060" opacity="0.75"/>
<ellipse cx="196.2" cy="173.5" rx="1.5" ry="1.2" transform="rotate(0 196.2 173.5)" fill="#12b060" opacity="0.75"/>
<ellipse cx="205.8" cy="156.1" rx="2.1" ry="1.7" transform="rotate(0 205.8 156.1)" fill="#16f216"/>
<ellipse cx="206.7" cy="155.8" rx="1.2" ry="0.9" transform="rotate(0 206.7 155.8)" fill="#16f216"/>
<ellipse cx="205.9" cy="155.7" rx="1.5" ry="1.2" transform="rotate(0 205.9 155.7)" fill="#16f216"/>
<ellipse cx="204.6" cy="157.3" rx="1.3" ry="1.2" transform="rotate(0 204.6 157.3)" fill="#16f216"/>
<ellipse cx="211.6" cy="154.4" rx="2.1" ry="1.4" transform="rotate(0 211.6 154.4)" fill="#16f216"/>
<ellipse cx="212.3" cy="154.3" rx="1.4" ry="1.0" transform="rotate(0 212.3 154.3)" fill="#16f216"/>
<ellipse cx="210.9" cy="155.0" rx="1.3" ry="0.8" transform="rotate(0 210.9 155.0)" fill="#16f216"/>
<ellipse cx="211.4" cy="154.9" rx="1.1" ry="1.0" transform="rotate(0 211.4 154.9)" fill="#16f216"/>
<ellipse cx="195.6" cy="153.0" rx="1.4" ry="1.1" transform="rotate(0 195.6 153.0)" fill="#16f216"/>
<ellipse cx="196.3" cy="152.3" rx="1.0" ry="0.6" transform="rotate(0 196.3 152.3)" fill="#16f216"/>
<ellipse cx="195.6" cy="153.2" rx="0.8" ry="0.5" transform="rotate(0 195.6 153.2)" fill="#16f216"/>
<ellipse cx="196.4" cy="152.4" rx="0.7" ry="0.8" transform="rotate(0 196.4 152.4)" fill="#16f216"/>
<ellipse cx="218.3" cy="152.6" rx="1.4" ry="1.1" transform="rotate(0 218.3 152.6)" fill="#16f216"/>
<ellipse cx="218.0" cy="153.3" rx="0.9" ry="0.6" transform="rotate(0 218.0 153.3)" fill="#16f216"/>
<ellipse cx="217.3" cy="153.4" rx="0.7" ry="0.7" transform="rotate(0 217.3 153.4)" fill="#16f216"/>
<ellipse cx="218.3" cy="153.1" rx="0.9" ry="0.7" transform="rotate(0 218.3 153.1)" fill="#16f216"/>
<ellipse cx="198.6" cy="164.4" rx="2.3" ry="3.4" transform="rotate(35 198.6 164.4)" fill="#16f216"/>
<ellipse cx="198.6" cy="165.9" rx="1.1" ry="1.7" transform="rotate(35 198.6 165.9)" fill="#16f216"/>
<ellipse cx="199.3" cy="163.4" rx="1.4" ry="2.0" transform="rotate(35 199.3 163.4)" fill="#16f216"/>
<ellipse cx="198.7" cy="164.0" rx="1.5" ry="1.8" transform="rotate(35 198.7 164.0)" fill="#16f216"/>
<ellipse cx="218.3" cy="164.9" rx="2.8" ry="1.8" transform="rotate(0 218.3 164.9)" fill="#16f216"/>
<ellipse cx="219.2" cy="164.3" rx="1.5" ry="0.9" transform="rotate(0 219.2 164.3)" fill="#16f216"/>
<ellipse cx="217.0" cy="163.9" rx="1.7" ry="1.2" transform="rotate(0 217.0 163.9)" fill="#16f216"/>
<ellipse cx="217.0" cy="164.2" rx="1.7" ry="1.2" transform="rotate(0 217.0 164.2)" fill="#16f216"/>
<ellipse cx="208.5" cy="173.4" rx="2.4" ry="2.1" transform="rotate(0 208.5 173.4)" fill="#16f216"/>
<ellipse cx="210.2" cy="173.5" rx="1.3" ry="1.0" transform="rotate(0 210.2 173.5)" fill="#16f216"/>
<ellipse cx="207.4" cy="172.5" rx="1.2" ry="0.9" transform="rotate(0 207.4 172.5)" fill="#16f216"/>
<ellipse cx="208.6" cy="172.7" rx="1.8" ry="1.3" transform="rotate(0 208.6 172.7)" fill="#16f216"/>
<ellipse cx="196.9" cy="174.5" rx="1.4" ry="1.4" transform="rotate(0 196.9 174.5)" fill="#16f216"/>
<ellipse cx="197.3" cy="173.7" rx="1.0" ry="0.8" transform="rotate(0 197.3 173.7)" fill="#16f216"/>
<ellipse cx="197.6" cy="174.6" rx="0.8" ry="0.8" transform="rotate(0 197.6 174.6)" fill="#16f216"/>
<ellipse cx="196.2" cy="173.5" rx="1.0" ry="0.8" transform="rotate(0 196.2 173.5)" fill="#16f216"/>
</g>
<line x1="190.7" y1="165.3" x2="225.9" y2="165.3" stroke="#0a1a50" stroke-width="0.45" opacity="0.5"/>
<line x1="208.3" y1="147.7" x2="208.3" y2="182.9" stroke="#0a1a50" stroke-width="0.4" opacity="0.35"/>
</g>
<clipPath id="pc6"><circle cx="246.1" cy="165.1" r="17.6"/></clipPath>
<circle cx="246.1" cy="165.1" r="17.6" fill="#0c28ec"/>
<g clip-path="url(#pc6)"><g filter="url(#pfb)">
<ellipse cx="256.9" cy="161.8" rx="1.4" ry="2.3" transform="rotate(0 256.9 161.8)" fill="#12b060" opacity="0.8"/>
<ellipse cx="248.2" cy="158.5" rx="3.0" ry="1.4" transform="rotate(0 248.2 158.5)" fill="#12b060" opacity="0.8"/>
<ellipse cx="254.9" cy="168.7" rx="2.6" ry="1.6" transform="rotate(0 254.9 168.7)" fill="#12b060" opacity="0.8"/>
<ellipse cx="246.9" cy="163.4" rx="2.0" ry="2.7" transform="rotate(0 246.9 163.4)" fill="#12b060" opacity="0.8"/>
<ellipse cx="250.1" cy="168.8" rx="2.5" ry="2.9" transform="rotate(0 250.1 168.8)" fill="#12b060" opacity="0.8"/>
<ellipse cx="236.3" cy="155.4" rx="2.4" ry="1.5" transform="rotate(0 236.3 155.4)" fill="#12b060" opacity="0.8"/>
<ellipse cx="229.5" cy="163.4" rx="2.3" ry="1.7" transform="rotate(0 229.5 163.4)" fill="#12b060" opacity="0.8"/>
<ellipse cx="237.1" cy="172.0" rx="2.5" ry="2.0" transform="rotate(0 237.1 172.0)" fill="#12b060" opacity="0.8"/>
<ellipse cx="252.4" cy="179.3" rx="2.6" ry="2.3" transform="rotate(0 252.4 179.3)" fill="#12b060" opacity="0.8"/>
<ellipse cx="251.5" cy="179.6" rx="2.0" ry="2.2" transform="rotate(0 251.5 179.6)" fill="#12b060" opacity="0.8"/>
<ellipse cx="251.0" cy="178.8" rx="2.7" ry="1.4" transform="rotate(0 251.0 178.8)" fill="#12b060" opacity="0.8"/>
<ellipse cx="234.9" cy="158.7" rx="2.6" ry="2.2" transform="rotate(0 234.9 158.7)" fill="#12b060" opacity="0.8"/>
<ellipse cx="239.0" cy="152.5" rx="2.4" ry="2.5" transform="rotate(0 239.0 152.5)" fill="#12b060" opacity="0.8"/>
<ellipse cx="246.1" cy="156.3" rx="1.8" ry="4.4" transform="rotate(0 246.1 156.3)" fill="#12b060" opacity="0.75"/>
<ellipse cx="246.1" cy="172.1" rx="2.1" ry="4.4" transform="rotate(0 246.1 172.1)" fill="#12b060" opacity="0.75"/>
<ellipse cx="244.9" cy="149.8" rx="3.8" ry="2.5" transform="rotate(0 244.9 149.8)" fill="#12b060" opacity="0.75"/>
<ellipse cx="246.6" cy="149.8" rx="2.2" ry="1.2" transform="rotate(0 246.6 149.8)" fill="#12b060" opacity="0.75"/>
<ellipse cx="243.1" cy="149.6" rx="2.0" ry="1.3" transform="rotate(0 243.1 149.6)" fill="#12b060" opacity="0.75"/>
<ellipse cx="243.3" cy="151.0" rx="2.7" ry="1.6" transform="rotate(0 243.3 151.0)" fill="#12b060" opacity="0.75"/>
<ellipse cx="247.0" cy="165.1" rx="5.1" ry="5.7" transform="rotate(0 247.0 165.1)" fill="#12b060" opacity="0.75"/>
<ellipse cx="249.3" cy="167.9" rx="3.3" ry="3.0" transform="rotate(0 249.3 167.9)" fill="#12b060" opacity="0.75"/>
<ellipse cx="244.6" cy="166.6" rx="3.0" ry="3.7" transform="rotate(0 244.6 166.6)" fill="#12b060" opacity="0.75"/>
<ellipse cx="249.1" cy="163.3" rx="3.1" ry="3.6" transform="rotate(0 249.1 163.3)" fill="#12b060" opacity="0.75"/>
<ellipse cx="230.6" cy="163.9" rx="2.5" ry="3.8" transform="rotate(0 230.6 163.9)" fill="#12b060" opacity="0.75"/>
<ellipse cx="230.6" cy="162.3" rx="1.4" ry="2.1" transform="rotate(0 230.6 162.3)" fill="#12b060" opacity="0.75"/>
<ellipse cx="231.0" cy="165.2" rx="1.4" ry="2.5" transform="rotate(0 231.0 165.2)" fill="#12b060" opacity="0.75"/>
<ellipse cx="230.1" cy="165.6" rx="1.8" ry="2.3" transform="rotate(0 230.1 165.6)" fill="#12b060" opacity="0.75"/>
<ellipse cx="261.9" cy="163.3" rx="2.1" ry="3.2" transform="rotate(0 261.9 163.3)" fill="#12b060" opacity="0.75"/>
<ellipse cx="261.8" cy="162.8" rx="1.1" ry="2.3" transform="rotate(0 261.8 162.8)" fill="#12b060" opacity="0.75"/>
<ellipse cx="261.7" cy="163.4" rx="1.6" ry="2.0" transform="rotate(0 261.7 163.4)" fill="#12b060" opacity="0.75"/>
<ellipse cx="262.0" cy="163.1" rx="1.0" ry="1.7" transform="rotate(0 262.0 163.1)" fill="#12b060" opacity="0.75"/>
<ellipse cx="245.2" cy="180.9" rx="4.2" ry="1.7" transform="rotate(0 245.2 180.9)" fill="#12b060" opacity="0.75"/>
<ellipse cx="246.3" cy="181.2" rx="2.9" ry="0.8" transform="rotate(0 246.3 181.2)" fill="#12b060" opacity="0.75"/>
<ellipse cx="245.4" cy="181.7" rx="2.4" ry="1.1" transform="rotate(0 245.4 181.7)" fill="#12b060" opacity="0.75"/>
<ellipse cx="243.6" cy="181.7" rx="2.7" ry="0.9" transform="rotate(0 243.6 181.7)" fill="#12b060" opacity="0.75"/>
<ellipse cx="244.9" cy="149.8" rx="2.5" ry="1.7" transform="rotate(0 244.9 149.8)" fill="#16f216"/>
<ellipse cx="246.6" cy="149.8" rx="1.5" ry="0.8" transform="rotate(0 246.6 149.8)" fill="#16f216"/>
<ellipse cx="243.1" cy="149.6" rx="1.4" ry="0.9" transform="rotate(0 243.1 149.6)" fill="#16f216"/>
<ellipse cx="243.3" cy="151.0" rx="1.8" ry="1.0" transform="rotate(0 243.3 151.0)" fill="#16f216"/>
<ellipse cx="247.0" cy="165.1" rx="3.4" ry="3.8" transform="rotate(0 247.0 165.1)" fill="#16f216"/>
<ellipse cx="249.3" cy="167.9" rx="2.2" ry="2.0" transform="rotate(0 249.3 167.9)" fill="#16f216"/>
<ellipse cx="244.6" cy="166.6" rx="2.0" ry="2.4" transform="rotate(0 244.6 166.6)" fill="#16f216"/>
<ellipse cx="249.1" cy="163.3" rx="2.1" ry="2.4" transform="rotate(0 249.1 163.3)" fill="#16f216"/>
<ellipse cx="230.6" cy="163.9" rx="1.7" ry="2.5" transform="rotate(0 230.6 163.9)" fill="#16f216"/>
<ellipse cx="230.6" cy="162.3" rx="0.9" ry="1.4" transform="rotate(0 230.6 162.3)" fill="#16f216"/>
<ellipse cx="231.0" cy="165.2" rx="0.9" ry="1.7" transform="rotate(0 231.0 165.2)" fill="#16f216"/>
<ellipse cx="230.1" cy="165.6" rx="1.2" ry="1.5" transform="rotate(0 230.1 165.6)" fill="#16f216"/>
<ellipse cx="261.9" cy="163.3" rx="1.4" ry="2.1" transform="rotate(0 261.9 163.3)" fill="#16f216"/>
<ellipse cx="261.8" cy="162.8" rx="0.8" ry="1.6" transform="rotate(0 261.8 162.8)" fill="#16f216"/>
<ellipse cx="261.7" cy="163.4" rx="1.1" ry="1.4" transform="rotate(0 261.7 163.4)" fill="#16f216"/>
<ellipse cx="262.0" cy="163.1" rx="0.7" ry="1.2" transform="rotate(0 262.0 163.1)" fill="#16f216"/>
<ellipse cx="245.2" cy="180.9" rx="2.8" ry="1.1" transform="rotate(0 245.2 180.9)" fill="#16f216"/>
<ellipse cx="246.3" cy="181.2" rx="1.9" ry="0.6" transform="rotate(0 246.3 181.2)" fill="#16f216"/>
<ellipse cx="245.4" cy="181.7" rx="1.6" ry="0.7" transform="rotate(0 245.4 181.7)" fill="#16f216"/>
<ellipse cx="243.6" cy="181.7" rx="1.8" ry="0.6" transform="rotate(0 243.6 181.7)" fill="#16f216"/>
<ellipse cx="244.9" cy="149.8" rx="1.9" ry="1.3" transform="rotate(0 244.9 149.8)" fill="#d8f020"/>
<ellipse cx="247.0" cy="165.1" rx="2.5" ry="2.9" transform="rotate(0 247.0 165.1)" fill="#d8f020"/>
<ellipse cx="230.6" cy="163.9" rx="1.3" ry="1.9" transform="rotate(0 230.6 163.9)" fill="#d8f020"/>
<ellipse cx="261.9" cy="163.3" rx="1.1" ry="1.6" transform="rotate(0 261.9 163.3)" fill="#d8f020"/>
<ellipse cx="245.2" cy="180.9" rx="2.1" ry="0.8" transform="rotate(0 245.2 180.9)" fill="#d8f020"/>
</g>
<line x1="228.5" y1="165.1" x2="263.7" y2="165.1" stroke="#0a1a50" stroke-width="0.45" opacity="0.5"/>
<line x1="246.1" y1="147.5" x2="246.1" y2="182.7" stroke="#0a1a50" stroke-width="0.4" opacity="0.35"/>
</g>
<text transform="translate(146.0 149.5) scale(1.12 1)" font-family="'Liberation Serif', 'DejaVu Serif', serif" font-size="6" fill="#222">[110]</text>
<text transform="translate(185.0 150.0) scale(1.12 1)" font-family="'Liberation Serif', 'DejaVu Serif', serif" font-size="6" fill="#222">[111]</text>
<text transform="translate(221.7 150.6) scale(1.12 1)" font-family="'Liberation Serif', 'DejaVu Serif', serif" font-size="6" fill="#222">[100]</text>
<text x="168.7" y="145.5" font-family="'Liberation Serif', 'DejaVu Serif', serif" font-size="4.5" fill="#333">Y</text>
<text x="188.3" y="166.6" font-family="'Liberation Serif', 'DejaVu Serif', serif" font-size="4.5" fill="#333">X</text>
<text x="263.3" y="156.9" font-family="'Liberation Serif', 'DejaVu Serif', serif" font-size="6.6" fill="#111">Max=6.55</text>
<rect x="268.7" y="160.40" width="17.1" height="2.23" fill="#1030c8"/>
<rect x="268.7" y="162.58" width="17.1" height="2.23" fill="#109050"/>
<rect x="268.7" y="164.75" width="17.1" height="2.23" fill="#10d020"/>
<rect x="268.7" y="166.93" width="17.1" height="2.23" fill="#20f020"/>
<rect x="268.7" y="169.10" width="17.1" height="2.23" fill="#90e010"/>
<rect x="268.7" y="171.28" width="17.1" height="2.23" fill="#f0c000"/>
<rect x="268.7" y="173.45" width="17.1" height="2.23" fill="#f08000"/>
<rect x="268.7" y="175.62" width="17.1" height="2.23" fill="#f02000"/>
<clipPath id="pc7"><circle cx="311.3" cy="165.3" r="17.6"/></clipPath>
<circle cx="311.3" cy="165.3" r="17.6" fill="#0c28ec"/>
<g clip-path="url(#pc7)"><g filter="url(#pfb)">
<ellipse cx="299.9" cy="167.0" rx="2.2" ry="1.4" transform="rotate(0 299.9 167.0)" fill="#12b060" opacity="0.8"/>
<ellipse cx="310.0" cy="152.5" rx="2.7" ry="2.1" transform="rotate(0 310.0 152.5)" fill="#12b060" opacity="0.8"/>
<ellipse cx="318.5" cy="165.6" rx="1.7" ry="2.7" transform="rotate(0 318.5 165.6)" fill="#12b060" opacity="0.8"/>
<ellipse cx="313.0" cy="161.4" rx="2.9" ry="2.1" transform="rotate(0 313.0 161.4)" fill="#12b060" opacity="0.8"/>
<ellipse cx="324.0" cy="177.5" rx="1.7" ry="2.6" transform="rotate(0 324.0 177.5)" fill="#12b060" opacity="0.8"/>
<ellipse cx="308.5" cy="179.8" rx="2.1" ry="2.7" transform="rotate(0 308.5 179.8)" fill="#12b060" opacity="0.8"/>
<ellipse cx="304.0" cy="158.6" rx="2.3" ry="3.0" transform="rotate(0 304.0 158.6)" fill="#12b060" opacity="0.8"/>
<ellipse cx="311.0" cy="153.5" rx="2.2" ry="1.8" transform="rotate(0 311.0 153.5)" fill="#12b060" opacity="0.8"/>
<ellipse cx="313.0" cy="166.8" rx="2.0" ry="1.8" transform="rotate(0 313.0 166.8)" fill="#12b060" opacity="0.8"/>
<ellipse cx="300.9" cy="171.9" rx="2.2" ry="1.6" transform="rotate(0 300.9 171.9)" fill="#12b060" opacity="0.8"/>
<ellipse cx="319.5" cy="172.2" rx="2.7" ry="1.9" transform="rotate(0 319.5 172.2)" fill="#12b060" opacity="0.8"/>
<ellipse cx="316.8" cy="176.0" rx="3.0" ry="2.1" transform="rotate(0 316.8 176.0)" fill="#12b060" opacity="0.8"/>
<ellipse cx="295.8" cy="165.4" rx="2.3" ry="2.8" transform="rotate(0 295.8 165.4)" fill="#12b060" opacity="0.8"/>
<ellipse cx="323.8" cy="163.3" rx="2.2" ry="2.0" transform="rotate(0 323.8 163.3)" fill="#12b060" opacity="0.8"/>
<ellipse cx="318.7" cy="162.3" rx="2.4" ry="1.5" transform="rotate(0 318.7 162.3)" fill="#12b060" opacity="0.8"/>
<ellipse cx="310.3" cy="181.0" rx="1.8" ry="2.5" transform="rotate(0 310.3 181.0)" fill="#12b060" opacity="0.8"/>
<ellipse cx="316.3" cy="177.1" rx="2.7" ry="2.7" transform="rotate(0 316.3 177.1)" fill="#12b060" opacity="0.8"/>
<ellipse cx="307.3" cy="159.2" rx="2.5" ry="2.6" transform="rotate(0 307.3 159.2)" fill="#12b060" opacity="0.8"/>
<ellipse cx="296.9" cy="169.7" rx="2.9" ry="3.0" transform="rotate(0 296.9 169.7)" fill="#12b060" opacity="0.8"/>
<ellipse cx="319.6" cy="163.1" rx="1.4" ry="2.3" transform="rotate(0 319.6 163.1)" fill="#12b060" opacity="0.8"/>
<ellipse cx="323.8" cy="163.4" rx="2.5" ry="2.8" transform="rotate(0 323.8 163.4)" fill="#12b060" opacity="0.8"/>
<ellipse cx="304.4" cy="161.1" rx="1.5" ry="2.2" transform="rotate(0 304.4 161.1)" fill="#12b060" opacity="0.8"/>
<ellipse cx="313.5" cy="175.1" rx="1.5" ry="1.4" transform="rotate(0 313.5 175.1)" fill="#12b060" opacity="0.8"/>
<ellipse cx="323.7" cy="169.3" rx="1.7" ry="2.8" transform="rotate(0 323.7 169.3)" fill="#12b060" opacity="0.8"/>
<ellipse cx="299.4" cy="164.0" rx="1.7" ry="1.7" transform="rotate(0 299.4 164.0)" fill="#12b060" opacity="0.8"/>
<ellipse cx="304.3" cy="163.5" rx="5.3" ry="3.5" transform="rotate(0 304.3 163.5)" fill="#12b060" opacity="0.75"/>
<ellipse cx="317.5" cy="164.4" rx="2.6" ry="3.5" transform="rotate(0 317.5 164.4)" fill="#12b060" opacity="0.75"/>
<ellipse cx="314.8" cy="178.5" rx="3.5" ry="2.1" transform="rotate(0 314.8 178.5)" fill="#12b060" opacity="0.75"/>
<ellipse cx="300.7" cy="154.7" rx="3.5" ry="2.6" transform="rotate(0 300.7 154.7)" fill="#12b060" opacity="0.75"/>
<ellipse cx="302.5" cy="175.9" rx="3.5" ry="2.6" transform="rotate(0 302.5 175.9)" fill="#12b060" opacity="0.75"/>
<ellipse cx="304.4" cy="153.9" rx="2.7" ry="2.5" transform="rotate(0 304.4 153.9)" fill="#12b060" opacity="0.75"/>
<ellipse cx="303.1" cy="154.6" rx="2.0" ry="1.6" transform="rotate(0 303.1 154.6)" fill="#12b060" opacity="0.75"/>
<ellipse cx="303.5" cy="153.7" rx="1.5" ry="1.6" transform="rotate(0 303.5 153.7)" fill="#12b060" opacity="0.75"/>
<ellipse cx="304.8" cy="153.7" rx="1.4" ry="1.8" transform="rotate(0 304.8 153.7)" fill="#12b060" opacity="0.75"/>
<ellipse cx="320.8" cy="157.0" rx="3.2" ry="4.2" transform="rotate(0 320.8 157.0)" fill="#12b060" opacity="0.75"/>
<ellipse cx="319.9" cy="156.5" rx="1.9" ry="2.2" transform="rotate(0 319.9 156.5)" fill="#12b060" opacity="0.75"/>
<ellipse cx="321.0" cy="157.3" rx="2.4" ry="2.2" transform="rotate(0 321.0 157.3)" fill="#12b060" opacity="0.75"/>
<ellipse cx="322.3" cy="157.7" rx="1.7" ry="2.6" transform="rotate(0 322.3 157.7)" fill="#12b060" opacity="0.75"/>
<ellipse cx="301.6" cy="169.9" rx="2.7" ry="3.6" transform="rotate(0 301.6 169.9)" fill="#12b060" opacity="0.75"/>
<ellipse cx="302.1" cy="170.8" rx="1.2" ry="2.3" transform="rotate(0 302.1 170.8)" fill="#12b060" opacity="0.75"/>
<ellipse cx="301.6" cy="171.3" rx="1.4" ry="2.5" transform="rotate(0 301.6 171.3)" fill="#12b060" opacity="0.75"/>
<ellipse cx="301.9" cy="169.3" rx="1.7" ry="2.3" transform="rotate(0 301.9 169.3)" fill="#12b060" opacity="0.75"/>
<ellipse cx="317.6" cy="170.8" rx="3.0" ry="4.6" transform="rotate(0 317.6 170.8)" fill="#12b060" opacity="0.75"/>
<ellipse cx="318.2" cy="171.8" rx="1.9" ry="3.3" transform="rotate(0 318.2 171.8)" fill="#12b060" opacity="0.75"/>
<ellipse cx="318.0" cy="172.6" rx="1.9" ry="2.5" transform="rotate(0 318.0 172.6)" fill="#12b060" opacity="0.75"/>
<ellipse cx="317.5" cy="171.1" rx="2.0" ry="2.2" transform="rotate(0 317.5 171.1)" fill="#12b060" opacity="0.75"/>
<ellipse cx="304.4" cy="153.9" rx="1.8" ry="1.7" transform="rotate(0 304.4 153.9)" fill="#16f216"/>
<ellipse cx="303.1" cy="154.6" rx="1.3" ry="1.1" transform="rotate(0 303.1 154.6)" fill="#16f216"/>
<ellipse cx="303.5" cy="153.7" rx="1.0" ry="1.0" transform="rotate(0 303.5 153.7)" fill="#16f216"/>
<ellipse cx="304.8" cy="153.7" rx="0.9" ry="1.2" transform="rotate(0 304.8 153.7)" fill="#16f216"/>
<ellipse cx="320.8" cy="157.0" rx="2.1" ry="2.8" transform="rotate(0 320.8 157.0)" fill="#16f216"/>
<ellipse cx="319.9" cy="156.5" rx="1.2" ry="1.4" transform="rotate(0 319.9 156.5)" fill="#16f216"/>
<ellipse cx="321.0" cy="157.3" rx="1.6" ry="1.5" transform="rotate(0 321.0 157.3)" fill="#16f216"/>
<ellipse cx="322.3" cy="157.7" rx="1.1" ry="1.7" transform="rotate(0 322.3 157.7)" fill="#16f216"/>
<ellipse cx="301.6" cy="169.9" rx="1.8" ry="2.4" transform="rotate(0 301.6 169.9)" fill="#16f216"/>
<ellipse cx="302.1" cy="170.8" rx="0.8" ry="1.5" transform="rotate(0 302.1 170.8)" fill="#16f216"/>
<ellipse cx="301.6" cy="171.3" rx="1.0" ry="1.6" transform="rotate(0 301.6 171.3)" fill="#16f216"/>
<ellipse cx="301.9" cy="169.3" rx="1.2" ry="1.5" transform="rotate(0 301.9 169.3)" fill="#16f216"/>
<ellipse cx="317.6" cy="170.8" rx="2.0" ry="3.1" transform="rotate(0 317.6 170.8)" fill="#16f216"/>
<ellipse cx="318.2" cy="171.8" rx="1.3" ry="2.2" transform="rotate(0 318.2 171.8)" fill="#16f216"/>
<ellipse cx="318.0" cy="172.6" rx="1.3" ry="1.7" transform="rotate(0 318.0 172.6)" fill="#16f216"/>
<ellipse cx="317.5" cy="171.1" rx="1.3" ry="1.4" transform="rotate(0 317.5 171.1)" fill="#16f216"/>
<ellipse cx="320.8" cy="157.0" rx="1.6" ry="2.1" transform="rotate(0 320.8 157.0)" fill="#d8f020"/>
</g>
<line x1="293.7" y1="165.3" x2="328.9" y2="165.3" stroke="#0a1a50" stroke-width="0.45" opacity="0.5"/>
<line x1="311.3" y1="147.7" x2="311.3" y2="182.9" stroke="#0a1a50" stroke-width="0.4" opacity="0.35"/>
</g>
<clipPath id="pc8"><circle cx="349.8" cy="165.3" r="17.6"/></clipPath>
<circle cx="349.8" cy="165.3" r="17.6" fill="#0c28ec"/>
<g clip-path="url(#pc8)"><g filter="url(#pfb)">
<ellipse cx="342.9" cy="173.6" rx="1.5" ry="1.5" transform="rotate(0 342.9 173.6)" fill="#12b060" opacity="0.8"/>
<ellipse cx="351.1" cy="181.1" rx="2.2" ry="2.8" transform="rotate(0 351.1 181.1)" fill="#12b060" opacity="0.8"/>
<ellipse cx="360.9" cy="157.2" rx="2.7" ry="2.1" transform="rotate(0 360.9 157.2)" fill="#12b060" opacity="0.8"/>
<ellipse cx="360.0" cy="173.5" rx="1.8" ry="1.4" transform="rotate(0 360.0 173.5)" fill="#12b060" opacity="0.8"/>
<ellipse cx="345.3" cy="175.0" rx="1.3" ry="2.2" transform="rotate(0 345.3 175.0)" fill="#12b060" opacity="0.8"/>
<ellipse cx="348.3" cy="171.1" rx="2.4" ry="2.3" transform="rotate(0 348.3 171.1)" fill="#12b060" opacity="0.8"/>
<ellipse cx="336.7" cy="156.4" rx="1.3" ry="2.8" transform="rotate(0 336.7 156.4)" fill="#12b060" opacity="0.8"/>
<ellipse cx="351.9" cy="179.2" rx="1.6" ry="1.3" transform="rotate(0 351.9 179.2)" fill="#12b060" opacity="0.8"/>
<ellipse cx="360.6" cy="179.0" rx="1.8" ry="2.0" transform="rotate(0 360.6 179.0)" fill="#12b060" opacity="0.8"/>
<ellipse cx="343.3" cy="165.1" rx="1.4" ry="2.8" transform="rotate(0 343.3 165.1)" fill="#12b060" opacity="0.8"/>
<ellipse cx="337.6" cy="163.7" rx="2.4" ry="2.5" transform="rotate(0 337.6 163.7)" fill="#12b060" opacity="0.8"/>
<ellipse cx="364.7" cy="162.6" rx="2.5" ry="1.5" transform="rotate(0 364.7 162.6)" fill="#12b060" opacity="0.8"/>
<ellipse cx="347.0" cy="151.9" rx="2.1" ry="2.0" transform="rotate(0 347.0 151.9)" fill="#12b060" opacity="0.8"/>
<ellipse cx="345.5" cy="163.4" rx="2.9" ry="2.7" transform="rotate(0 345.5 163.4)" fill="#12b060" opacity="0.8"/>
<ellipse cx="336.4" cy="171.5" rx="2.2" ry="3.0" transform="rotate(0 336.4 171.5)" fill="#12b060" opacity="0.8"/>
<ellipse cx="345.1" cy="161.9" rx="1.6" ry="1.4" transform="rotate(0 345.1 161.9)" fill="#12b060" opacity="0.8"/>
<ellipse cx="361.4" cy="163.8" rx="2.4" ry="2.4" transform="rotate(0 361.4 163.8)" fill="#12b060" opacity="0.8"/>
<ellipse cx="353.0" cy="149.3" rx="2.6" ry="1.7" transform="rotate(0 353.0 149.3)" fill="#12b060" opacity="0.8"/>
<ellipse cx="337.3" cy="167.5" rx="1.4" ry="2.6" transform="rotate(0 337.3 167.5)" fill="#12b060" opacity="0.8"/>
<ellipse cx="340.0" cy="155.8" rx="2.8" ry="1.8" transform="rotate(0 340.0 155.8)" fill="#12b060" opacity="0.8"/>
<ellipse cx="337.9" cy="152.9" rx="1.7" ry="1.5" transform="rotate(0 337.9 152.9)" fill="#12b060" opacity="0.8"/>
<ellipse cx="358.6" cy="157.4" rx="2.6" ry="2.6" transform="rotate(0 358.6 157.4)" fill="#12b060" opacity="0.75"/>
<ellipse cx="344.5" cy="165.3" rx="5.3" ry="4.4" transform="rotate(0 344.5 165.3)" fill="#12b060" opacity="0.75"/>
<ellipse cx="353.3" cy="170.6" rx="3.5" ry="3.5" transform="rotate(0 353.3 170.6)" fill="#12b060" opacity="0.75"/>
<ellipse cx="342.8" cy="154.7" rx="3.5" ry="2.6" transform="rotate(0 342.8 154.7)" fill="#12b060" opacity="0.75"/>
<ellipse cx="351.4" cy="153.9" rx="2.1" ry="2.7" transform="rotate(0 351.4 153.9)" fill="#12b060" opacity="0.75"/>
<ellipse cx="351.7" cy="152.6" rx="0.9" ry="1.9" transform="rotate(0 351.7 152.6)" fill="#12b060" opacity="0.75"/>
<ellipse cx="350.8" cy="153.4" rx="1.0" ry="1.2" transform="rotate(0 350.8 153.4)" fill="#12b060" opacity="0.75"/>
<ellipse cx="351.9" cy="153.9" rx="1.4" ry="1.6" transform="rotate(0 351.9 153.9)" fill="#12b060" opacity="0.75"/>
<ellipse cx="339.8" cy="160.5" rx="2.5" ry="3.6" transform="rotate(0 339.8 160.5)" fill="#12b060" opacity="0.75"/>
<ellipse cx="340.5" cy="160.6" rx="1.2" ry="2.1" transform="rotate(0 340.5 160.6)" fill="#12b060" opacity="0.75"/>
<ellipse cx="340.9" cy="158.9" rx="1.7" ry="2.5" transform="rotate(0 340.9 158.9)" fill="#12b060" opacity="0.75"/>
<ellipse cx="339.8" cy="160.4" rx="1.9" ry="1.6" transform="rotate(0 339.8 160.4)" fill="#12b060" opacity="0.75"/>
<ellipse cx="358.6" cy="164.9" rx="2.5" ry="3.2" transform="rotate(0 358.6 164.9)" fill="#12b060" opacity="0.75"/>
<ellipse cx="358.5" cy="164.6" rx="1.7" ry="1.9" transform="rotate(0 358.5 164.6)" fill="#12b060" opacity="0.75"/>
<ellipse cx="359.6" cy="163.6" rx="1.2" ry="2.0" transform="rotate(0 359.6 163.6)" fill="#12b060" opacity="0.75"/>
<ellipse cx="357.5" cy="164.2" rx="1.6" ry="1.9" transform="rotate(0 357.5 164.2)" fill="#12b060" opacity="0.75"/>
<ellipse cx="347.0" cy="172.2" rx="2.7" ry="2.7" transform="rotate(0 347.0 172.2)" fill="#12b060" opacity="0.75"/>
<ellipse cx="346.5" cy="173.5" rx="1.7" ry="1.6" transform="rotate(0 346.5 173.5)" fill="#12b060" opacity="0.75"/>
<ellipse cx="347.3" cy="171.1" rx="1.8" ry="1.9" transform="rotate(0 347.3 171.1)" fill="#12b060" opacity="0.75"/>
<ellipse cx="347.4" cy="172.9" rx="1.8" ry="1.4" transform="rotate(0 347.4 172.9)" fill="#12b060" opacity="0.75"/>
<ellipse cx="356.7" cy="178.0" rx="3.2" ry="1.7" transform="rotate(0 356.7 178.0)" fill="#12b060" opacity="0.75"/>
<ellipse cx="356.5" cy="177.5" rx="1.7" ry="1.0" transform="rotate(0 356.5 177.5)" fill="#12b060" opacity="0.75"/>
<ellipse cx="356.4" cy="177.3" rx="1.8" ry="1.1" transform="rotate(0 356.4 177.3)" fill="#12b060" opacity="0.75"/>
<ellipse cx="356.3" cy="177.4" rx="2.3" ry="0.8" transform="rotate(0 356.3 177.4)" fill="#12b060" opacity="0.75"/>
<ellipse cx="336.2" cy="173.4" rx="1.7" ry="2.1" transform="rotate(0 336.2 173.4)" fill="#12b060" opacity="0.75"/>
<ellipse cx="336.8" cy="172.5" rx="0.8" ry="1.4" transform="rotate(0 336.8 172.5)" fill="#12b060" opacity="0.75"/>
<ellipse cx="336.8" cy="173.5" rx="1.0" ry="1.3" transform="rotate(0 336.8 173.5)" fill="#12b060" opacity="0.75"/>
<ellipse cx="336.0" cy="172.6" rx="0.9" ry="1.4" transform="rotate(0 336.0 172.6)" fill="#12b060" opacity="0.75"/>
<ellipse cx="351.4" cy="153.9" rx="1.4" ry="1.8" transform="rotate(0 351.4 153.9)" fill="#16f216"/>
<ellipse cx="351.7" cy="152.6" rx="0.6" ry="1.3" transform="rotate(0 351.7 152.6)" fill="#16f216"/>
<ellipse cx="350.8" cy="153.4" rx="0.7" ry="0.8" transform="rotate(0 350.8 153.4)" fill="#16f216"/>
<ellipse cx="351.9" cy="153.9" rx="0.9" ry="1.1" transform="rotate(0 351.9 153.9)" fill="#16f216"/>
<ellipse cx="339.8" cy="160.5" rx="1.7" ry="2.4" transform="rotate(0 339.8 160.5)" fill="#16f216"/>
<ellipse cx="340.5" cy="160.6" rx="0.8" ry="1.4" transform="rotate(0 340.5 160.6)" fill="#16f216"/>
<ellipse cx="340.9" cy="158.9" rx="1.2" ry="1.7" transform="rotate(0 340.9 158.9)" fill="#16f216"/>
<ellipse cx="339.8" cy="160.4" rx="1.2" ry="1.1" transform="rotate(0 339.8 160.4)" fill="#16f216"/>
<ellipse cx="358.6" cy="164.9" rx="1.7" ry="2.1" transform="rotate(0 358.6 164.9)" fill="#16f216"/>
<ellipse cx="358.5" cy="164.6" rx="1.1" ry="1.2" transform="rotate(0 358.5 164.6)" fill="#16f216"/>
<ellipse cx="359.6" cy="163.6" rx="0.8" ry="1.3" transform="rotate(0 359.6 163.6)" fill="#16f216"/>
<ellipse cx="357.5" cy="164.2" rx="1.1" ry="1.3" transform="rotate(0 357.5 164.2)" fill="#16f216"/>
<ellipse cx="347.0" cy="172.2" rx="1.8" ry="1.8" transform="rotate(0 347.0 172.2)" fill="#16f216"/>
<ellipse cx="346.5" cy="173.5" rx="1.1" ry="1.1" transform="rotate(0 346.5 173.5)" fill="#16f216"/>
<ellipse cx="347.3" cy="171.1" rx="1.2" ry="1.3" transform="rotate(0 347.3 171.1)" fill="#16f216"/>
<ellipse cx="347.4" cy="172.9" rx="1.2" ry="0.9" transform="rotate(0 347.4 172.9)" fill="#16f216"/>
<ellipse cx="356.7" cy="178.0" rx="2.1" ry="1.1" transform="rotate(0 356.7 178.0)" fill="#16f216"/>
<ellipse cx="356.5" cy="177.5" rx="1.1" ry="0.7" transform="rotate(0 356.5 177.5)" fill="#16f216"/>
<ellipse cx="356.4" cy="177.3" rx="1.2" ry="0.7" transform="rotate(0 356.4 177.3)" fill="#16f216"/>
<ellipse cx="356.3" cy="177.4" rx="1.5" ry="0.5" transform="rotate(0 356.3 177.4)" fill="#16f216"/>
<ellipse cx="336.2" cy="173.4" rx="1.1" ry="1.4" transform="rotate(0 336.2 173.4)" fill="#16f216"/>
<ellipse cx="336.8" cy="172.5" rx="0.5" ry="0.9" transform="rotate(0 336.8 172.5)" fill="#16f216"/>
<ellipse cx="336.8" cy="173.5" rx="0.7" ry="0.9" transform="rotate(0 336.8 173.5)" fill="#16f216"/>
<ellipse cx="336.0" cy="172.6" rx="0.6" ry="0.9" transform="rotate(0 336.0 172.6)" fill="#16f216"/>
</g>
<line x1="332.2" y1="165.3" x2="367.4" y2="165.3" stroke="#0a1a50" stroke-width="0.45" opacity="0.5"/>
<line x1="349.8" y1="147.7" x2="349.8" y2="182.9" stroke="#0a1a50" stroke-width="0.4" opacity="0.35"/>
</g>
<clipPath id="pc9"><circle cx="388.1" cy="165.5" r="17.6"/></clipPath>
<circle cx="388.1" cy="165.5" r="17.6" fill="#0c28ec"/>
<g clip-path="url(#pc9)"><g filter="url(#pfb)">
<ellipse cx="396.5" cy="177.8" rx="2.5" ry="2.9" transform="rotate(0 396.5 177.8)" fill="#12b060" opacity="0.8"/>
<ellipse cx="391.5" cy="160.5" rx="2.2" ry="1.6" transform="rotate(0 391.5 160.5)" fill="#12b060" opacity="0.8"/>
<ellipse cx="393.3" cy="156.3" rx="1.4" ry="2.7" transform="rotate(0 393.3 156.3)" fill="#12b060" opacity="0.8"/>
<ellipse cx="383.7" cy="174.3" rx="2.2" ry="2.7" transform="rotate(0 383.7 174.3)" fill="#12b060" opacity="0.8"/>
<ellipse cx="398.7" cy="169.3" rx="2.4" ry="1.3" transform="rotate(0 398.7 169.3)" fill="#12b060" opacity="0.8"/>
<ellipse cx="380.3" cy="154.8" rx="2.5" ry="1.8" transform="rotate(0 380.3 154.8)" fill="#12b060" opacity="0.8"/>
<ellipse cx="382.7" cy="149.0" rx="2.8" ry="2.2" transform="rotate(0 382.7 149.0)" fill="#12b060" opacity="0.8"/>
<ellipse cx="384.8" cy="153.5" rx="2.3" ry="1.3" transform="rotate(0 384.8 153.5)" fill="#12b060" opacity="0.8"/>
<ellipse cx="396.3" cy="156.0" rx="2.0" ry="1.8" transform="rotate(0 396.3 156.0)" fill="#12b060" opacity="0.8"/>
<ellipse cx="383.8" cy="172.9" rx="2.6" ry="2.2" transform="rotate(0 383.8 172.9)" fill="#12b060" opacity="0.8"/>
<ellipse cx="376.6" cy="169.4" rx="2.4" ry="1.7" transform="rotate(0 376.6 169.4)" fill="#12b060" opacity="0.8"/>
<ellipse cx="393.5" cy="165.0" rx="2.0" ry="1.7" transform="rotate(0 393.5 165.0)" fill="#12b060" opacity="0.8"/>
<ellipse cx="396.6" cy="152.6" rx="2.0" ry="1.7" transform="rotate(0 396.6 152.6)" fill="#12b060" opacity="0.8"/>
<ellipse cx="394.1" cy="165.1" rx="2.4" ry="1.3" transform="rotate(0 394.1 165.1)" fill="#12b060" opacity="0.8"/>
<ellipse cx="384.6" cy="168.8" rx="1.2" ry="1.8" transform="rotate(0 384.6 168.8)" fill="#12b060" opacity="0.8"/>
<ellipse cx="378.4" cy="153.4" rx="1.7" ry="1.8" transform="rotate(0 378.4 153.4)" fill="#12b060" opacity="0.8"/>
<ellipse cx="377.3" cy="161.5" rx="2.5" ry="2.1" transform="rotate(0 377.3 161.5)" fill="#12b060" opacity="0.8"/>
<ellipse cx="399.2" cy="175.7" rx="1.4" ry="2.7" transform="rotate(0 399.2 175.7)" fill="#12b060" opacity="0.8"/>
<ellipse cx="390.6" cy="168.0" rx="2.5" ry="2.0" transform="rotate(0 390.6 168.0)" fill="#12b060" opacity="0.8"/>
<ellipse cx="382.2" cy="175.6" rx="2.3" ry="2.7" transform="rotate(0 382.2 175.6)" fill="#12b060" opacity="0.8"/>
<ellipse cx="399.6" cy="156.9" rx="2.3" ry="2.2" transform="rotate(0 399.6 156.9)" fill="#12b060" opacity="0.8"/>
<ellipse cx="384.6" cy="159.2" rx="1.8" ry="1.8" transform="rotate(0 384.6 159.2)" fill="#12b060" opacity="0.8"/>
<ellipse cx="387.2" cy="169.0" rx="2.1" ry="5.3" transform="rotate(0 387.2 169.0)" fill="#12b060" opacity="0.75"/>
<ellipse cx="393.4" cy="170.8" rx="2.6" ry="2.1" transform="rotate(0 393.4 170.8)" fill="#12b060" opacity="0.75"/>
<ellipse cx="385.8" cy="154.4" rx="3.0" ry="2.7" transform="rotate(0 385.8 154.4)" fill="#12b060" opacity="0.75"/>
<ellipse cx="384.8" cy="154.4" rx="1.4" ry="1.6" transform="rotate(0 384.8 154.4)" fill="#12b060" opacity="0.75"/>
<ellipse cx="387.0" cy="154.0" rx="2.0" ry="1.9" transform="rotate(0 387.0 154.0)" fill="#12b060" opacity="0.75"/>
<ellipse cx="386.7" cy="153.7" rx="1.4" ry="1.4" transform="rotate(0 386.7 153.7)" fill="#12b060" opacity="0.75"/>
<ellipse cx="387.2" cy="162.9" rx="3.0" ry="3.6" transform="rotate(0 387.2 162.9)" fill="#12b060" opacity="0.75"/>
<ellipse cx="387.5" cy="163.8" rx="1.9" ry="1.8" transform="rotate(0 387.5 163.8)" fill="#12b060" opacity="0.75"/>
<ellipse cx="388.0" cy="162.8" rx="2.0" ry="2.4" transform="rotate(0 388.0 162.8)" fill="#12b060" opacity="0.75"/>
<ellipse cx="387.1" cy="164.4" rx="1.8" ry="2.3" transform="rotate(0 387.1 164.4)" fill="#12b060" opacity="0.75"/>
<ellipse cx="372.6" cy="168.5" rx="2.1" ry="4.2" transform="rotate(0 372.6 168.5)" fill="#12b060" opacity="0.75"/>
<ellipse cx="372.9" cy="170.0" rx="1.3" ry="2.0" transform="rotate(0 372.9 170.0)" fill="#12b060" opacity="0.75"/>
<ellipse cx="371.7" cy="168.2" rx="1.1" ry="2.2" transform="rotate(0 371.7 168.2)" fill="#12b060" opacity="0.75"/>
<ellipse cx="371.7" cy="168.5" rx="1.1" ry="2.4" transform="rotate(0 371.7 168.5)" fill="#12b060" opacity="0.75"/>
<ellipse cx="402.7" cy="166.4" rx="3.0" ry="4.6" transform="rotate(0 402.7 166.4)" fill="#12b060" opacity="0.75"/>
<ellipse cx="401.4" cy="167.9" rx="1.4" ry="3.3" transform="rotate(0 401.4 167.9)" fill="#12b060" opacity="0.75"/>
<ellipse cx="403.8" cy="166.9" rx="1.8" ry="2.7" transform="rotate(0 403.8 166.9)" fill="#12b060" opacity="0.75"/>
<ellipse cx="402.9" cy="167.7" rx="2.1" ry="2.7" transform="rotate(0 402.9 167.7)" fill="#12b060" opacity="0.75"/>
<ellipse cx="384.6" cy="174.3" rx="4.6" ry="2.1" transform="rotate(0 384.6 174.3)" fill="#12b060" opacity="0.75"/>
<ellipse cx="386.0" cy="174.6" rx="2.5" ry="1.2" transform="rotate(0 386.0 174.6)" fill="#12b060" opacity="0.75"/>
<ellipse cx="383.0" cy="173.4" rx="2.2" ry="1.5" transform="rotate(0 383.0 173.4)" fill="#12b060" opacity="0.75"/>
<ellipse cx="383.9" cy="174.8" rx="2.8" ry="1.0" transform="rotate(0 383.9 174.8)" fill="#12b060" opacity="0.75"/>
<ellipse cx="385.1" cy="179.9" rx="3.2" ry="1.7" transform="rotate(0 385.1 179.9)" fill="#12b060" opacity="0.75"/>
<ellipse cx="384.3" cy="179.8" rx="1.8" ry="1.0" transform="rotate(0 384.3 179.8)" fill="#12b060" opacity="0.75"/>
<ellipse cx="384.0" cy="179.7" rx="1.7" ry="1.0" transform="rotate(0 384.0 179.7)" fill="#12b060" opacity="0.75"/>
<ellipse cx="384.6" cy="180.1" rx="2.2" ry="1.1" transform="rotate(0 384.6 180.1)" fill="#12b060" opacity="0.75"/>
<ellipse cx="385.8" cy="154.4" rx="2.0" ry="1.8" transform="rotate(0 385.8 154.4)" fill="#16f216"/>
<ellipse cx="384.8" cy="154.4" rx="0.9" ry="1.1" transform="rotate(0 384.8 154.4)" fill="#16f216"/>
<ellipse cx="387.0" cy="154.0" rx="1.3" ry="1.3" transform="rotate(0 387.0 154.0)" fill="#16f216"/>
<ellipse cx="386.7" cy="153.7" rx="1.0" ry="0.9" transform="rotate(0 386.7 153.7)" fill="#16f216"/>
<ellipse cx="387.2" cy="162.9" rx="2.0" ry="2.4" transform="rotate(0 387.2 162.9)" fill="#16f216"/>
<ellipse cx="387.5" cy="163.8" rx="1.3" ry="1.2" transform="rotate(0 387.5 163.8)" fill="#16f216"/>
<ellipse cx="388.0" cy="162.8" rx="1.3" ry="1.6" transform="rotate(0 388.0 162.8)" fill="#16f216"/>
<ellipse cx="387.1" cy="164.4" rx="1.2" ry="1.5" transform="rotate(0 387.1 164.4)" fill="#16f216"/>
<ellipse cx="372.6" cy="168.5" rx="1.4" ry="2.8" transform="rotate(0 372.6 168.5)" fill="#16f216"/>
<ellipse cx="372.9" cy="170.0" rx="0.9" ry="1.4" transform="rotate(0 372.9 170.0)" fill="#16f216"/>
<ellipse cx="371.7" cy="168.2" rx="0.7" ry="1.5" transform="rotate(0 371.7 168.2)" fill="#16f216"/>
<ellipse cx="371.7" cy="168.5" rx="0.8" ry="1.6" transform="rotate(0 371.7 168.5)" fill="#16f216"/>
<ellipse cx="402.7" cy="166.4" rx="2.0" ry="3.1" transform="rotate(0 402.7 166.4)" fill="#16f216"/>
<ellipse cx="401.4" cy="167.9" rx="0.9" ry="2.2" transform="rotate(0 401.4 167.9)" fill="#16f216"/>
<ellipse cx="403.8" cy="166.9" rx="1.2" ry="1.8" transform="rotate(0 403.8 166.9)" fill="#16f216"/>
<ellipse cx="402.9" cy="167.7" rx="1.4" ry="1.8" transform="rotate(0 402.9 167.7)" fill="#16f216"/>
<ellipse cx="384.6" cy="174.3" rx="3.1" ry="1.4" transform="rotate(0 384.6 174.3)" fill="#16f216"/>
<ellipse cx="386.0" cy="174.6" rx="1.7" ry="0.8" transform="rotate(0 386.0 174.6)" fill="#16f216"/>
<ellipse cx="383.0" cy="173.4" rx="1.5" ry="1.0" transform="rotate(0 383.0 173.4)" fill="#16f216"/>
<ellipse cx="383.9" cy="174.8" rx="1.8" ry="0.7" transform="rotate(0 383.9 174.8)" fill="#16f216"/>
<ellipse cx="385.1" cy="179.9" rx="2.1" ry="1.1" transform="rotate(0 385.1 179.9)" fill="#16f216"/>
<ellipse cx="384.3" cy="179.8" rx="1.2" ry="0.7" transform="rotate(0 384.3 179.8)" fill="#16f216"/>
<ellipse cx="384.0" cy="179.7" rx="1.1" ry="0.6" transform="rotate(0 384.0 179.7)" fill="#16f216"/>
<ellipse cx="384.6" cy="180.1" rx="1.4" ry="0.7" transform="rotate(0 384.6 180.1)" fill="#16f216"/>
<ellipse cx="372.6" cy="168.5" rx="1.1" ry="2.1" transform="rotate(0 372.6 168.5)" fill="#d8f020"/>
<ellipse cx="402.7" cy="166.4" rx="1.5" ry="2.3" transform="rotate(0 402.7 166.4)" fill="#d8f020"/>
</g>
<line x1="370.5" y1="165.5" x2="405.7" y2="165.5" stroke="#0a1a50" stroke-width="0.45" opacity="0.5"/>
<line x1="388.1" y1="147.9" x2="388.1" y2="183.1" stroke="#0a1a50" stroke-width="0.4" opacity="0.35"/>
</g>
<text transform="translate(288.6 149.6) scale(1.12 1)" font-family="'Liberation Serif', 'DejaVu Serif', serif" font-size="6" fill="#222">[110]</text>
<text transform="translate(326.3 150.2) scale(1.12 1)" font-family="'Liberation Serif', 'DejaVu Serif', serif" font-size="6" fill="#222">[111]</text>
<text transform="translate(364.3 150.2) scale(1.12 1)" font-family="'Liberation Serif', 'DejaVu Serif', serif" font-size="6" fill="#222">[100]</text>
<text x="309.9" y="145.7" font-family="'Liberation Serif', 'DejaVu Serif', serif" font-size="4.5" fill="#333">Y</text>
<text x="329.5" y="166.8" font-family="'Liberation Serif', 'DejaVu Serif', serif" font-size="4.5" fill="#333">X</text>
<text x="411.0" y="156.9" font-family="'Liberation Serif', 'DejaVu Serif', serif" font-size="6.6" fill="#111">Max=6.51</text>
<rect x="414.0" y="160.20" width="17.6" height="2.25" fill="#1030c8"/>
<rect x="414.0" y="162.40" width="17.6" height="2.25" fill="#109050"/>
<rect x="414.0" y="164.60" width="17.6" height="2.25" fill="#10d020"/>
<rect x="414.0" y="166.80" width="17.6" height="2.25" fill="#20f020"/>
<rect x="414.0" y="169.00" width="17.6" height="2.25" fill="#90e010"/>
<rect x="414.0" y="171.20" width="17.6" height="2.25" fill="#f0c000"/>
<rect x="414.0" y="173.40" width="17.6" height="2.25" fill="#f08000"/>
<rect x="414.0" y="175.60" width="17.6" height="2.25" fill="#f02000"/>
<clipPath id="pc10"><circle cx="29.8" cy="351.0" r="17.6"/></clipPath>
<circle cx="29.8" cy="351.0" r="17.6" fill="#0c28ec"/>
<g clip-path="url(#pc10)"><g filter="url(#pfb)">
<ellipse cx="35.8" cy="343.8" rx="2.5" ry="2.4" transform="rotate(0 35.8 343.8)" fill="#12b060" opacity="0.8"/>
<ellipse cx="24.2" cy="353.8" rx="1.5" ry="1.8" transform="rotate(0 24.2 353.8)" fill="#12b060" opacity="0.8"/>
<ellipse cx="45.4" cy="357.6" rx="1.9" ry="2.3" transform="rotate(0 45.4 357.6)" fill="#12b060" opacity="0.8"/>
<ellipse cx="44.4" cy="344.6" rx="1.9" ry="2.6" transform="rotate(0 44.4 344.6)" fill="#12b060" opacity="0.8"/>
<ellipse cx="40.3" cy="356.7" rx="2.7" ry="2.5" transform="rotate(0 40.3 356.7)" fill="#12b060" opacity="0.8"/>
<ellipse cx="36.0" cy="351.9" rx="2.4" ry="2.0" transform="rotate(0 36.0 351.9)" fill="#12b060" opacity="0.8"/>
<ellipse cx="25.2" cy="346.4" rx="1.5" ry="1.6" transform="rotate(0 25.2 346.4)" fill="#12b060" opacity="0.8"/>
<ellipse cx="44.8" cy="350.5" rx="1.6" ry="1.5" transform="rotate(0 44.8 350.5)" fill="#12b060" opacity="0.8"/>
<ellipse cx="16.5" cy="360.1" rx="2.7" ry="2.8" transform="rotate(0 16.5 360.1)" fill="#12b060" opacity="0.8"/>
<ellipse cx="14.3" cy="345.5" rx="2.6" ry="1.5" transform="rotate(0 14.3 345.5)" fill="#12b060" opacity="0.8"/>
<ellipse cx="25.7" cy="339.7" rx="2.7" ry="2.6" transform="rotate(0 25.7 339.7)" fill="#12b060" opacity="0.8"/>
<ellipse cx="40.1" cy="339.8" rx="2.0" ry="2.0" transform="rotate(0 40.1 339.8)" fill="#12b060" opacity="0.8"/>
<ellipse cx="35.7" cy="342.2" rx="2.0" ry="1.7" transform="rotate(0 35.7 342.2)" fill="#12b060" opacity="0.8"/>
<ellipse cx="22.8" cy="351.0" rx="4.4" ry="3.5" transform="rotate(0 22.8 351.0)" fill="#12b060" opacity="0.75"/>
<ellipse cx="36.8" cy="351.0" rx="3.5" ry="3.5" transform="rotate(0 36.8 351.0)" fill="#12b060" opacity="0.75"/>
<ellipse cx="20.6" cy="342.9" rx="3.6" ry="4.2" transform="rotate(0 20.6 342.9)" fill="#12b060" opacity="0.75"/>
<ellipse cx="21.5" cy="342.7" rx="2.2" ry="2.3" transform="rotate(0 21.5 342.7)" fill="#12b060" opacity="0.75"/>
<ellipse cx="21.8" cy="342.8" rx="2.5" ry="2.3" transform="rotate(0 21.8 342.8)" fill="#12b060" opacity="0.75"/>
<ellipse cx="22.3" cy="345.0" rx="2.1" ry="2.2" transform="rotate(0 22.3 345.0)" fill="#12b060" opacity="0.75"/>
<ellipse cx="36.3" cy="342.6" rx="3.2" ry="4.2" transform="rotate(0 36.3 342.6)" fill="#12b060" opacity="0.75"/>
<ellipse cx="35.9" cy="342.7" rx="2.3" ry="2.9" transform="rotate(0 35.9 342.7)" fill="#12b060" opacity="0.75"/>
<ellipse cx="37.3" cy="341.0" rx="1.6" ry="2.7" transform="rotate(0 37.3 341.0)" fill="#12b060" opacity="0.75"/>
<ellipse cx="37.5" cy="342.8" rx="1.5" ry="3.0" transform="rotate(0 37.5 342.8)" fill="#12b060" opacity="0.75"/>
<ellipse cx="21.2" cy="358.2" rx="3.2" ry="4.2" transform="rotate(0 21.2 358.2)" fill="#12b060" opacity="0.75"/>
<ellipse cx="22.3" cy="357.3" rx="2.1" ry="2.2" transform="rotate(0 22.3 357.3)" fill="#12b060" opacity="0.75"/>
<ellipse cx="22.5" cy="356.7" rx="1.8" ry="3.1" transform="rotate(0 22.5 356.7)" fill="#12b060" opacity="0.75"/>
<ellipse cx="20.3" cy="358.0" rx="1.7" ry="1.9" transform="rotate(0 20.3 358.0)" fill="#12b060" opacity="0.75"/>
<ellipse cx="37.2" cy="358.2" rx="3.2" ry="4.2" transform="rotate(0 37.2 358.2)" fill="#12b060" opacity="0.75"/>
<ellipse cx="35.8" cy="358.2" rx="1.6" ry="3.2" transform="rotate(0 35.8 358.2)" fill="#12b060" opacity="0.75"/>
<ellipse cx="36.8" cy="356.2" rx="2.3" ry="3.0" transform="rotate(0 36.8 356.2)" fill="#12b060" opacity="0.75"/>
<ellipse cx="37.7" cy="359.4" rx="1.5" ry="2.2" transform="rotate(0 37.7 359.4)" fill="#12b060" opacity="0.75"/>
<ellipse cx="20.6" cy="342.9" rx="2.4" ry="2.8" transform="rotate(0 20.6 342.9)" fill="#16f216"/>
<ellipse cx="21.5" cy="342.7" rx="1.4" ry="1.5" transform="rotate(0 21.5 342.7)" fill="#16f216"/>
<ellipse cx="21.8" cy="342.8" rx="1.7" ry="1.6" transform="rotate(0 21.8 342.8)" fill="#16f216"/>
<ellipse cx="22.3" cy="345.0" rx="1.4" ry="1.5" transform="rotate(0 22.3 345.0)" fill="#16f216"/>
<ellipse cx="36.3" cy="342.6" rx="2.1" ry="2.8" transform="rotate(0 36.3 342.6)" fill="#16f216"/>
<ellipse cx="35.9" cy="342.7" rx="1.6" ry="2.0" transform="rotate(0 35.9 342.7)" fill="#16f216"/>
<ellipse cx="37.3" cy="341.0" rx="1.1" ry="1.8" transform="rotate(0 37.3 341.0)" fill="#16f216"/>
<ellipse cx="37.5" cy="342.8" rx="1.0" ry="2.0" transform="rotate(0 37.5 342.8)" fill="#16f216"/>
<ellipse cx="21.2" cy="358.2" rx="2.1" ry="2.8" transform="rotate(0 21.2 358.2)" fill="#16f216"/>
<ellipse cx="22.3" cy="357.3" rx="1.4" ry="1.5" transform="rotate(0 22.3 357.3)" fill="#16f216"/>
<ellipse cx="22.5" cy="356.7" rx="1.2" ry="2.1" transform="rotate(0 22.5 356.7)" fill="#16f216"/>
<ellipse cx="20.3" cy="358.0" rx="1.2" ry="1.3" transform="rotate(0 20.3 358.0)" fill="#16f216"/>
<ellipse cx="37.2" cy="358.2" rx="2.1" ry="2.8" transform="rotate(0 37.2 358.2)" fill="#16f216"/>
<ellipse cx="35.8" cy="358.2" rx="1.1" ry="2.1" transform="rotate(0 35.8 358.2)" fill="#16f216"/>
<ellipse cx="36.8" cy="356.2" rx="1.5" ry="2.0" transform="rotate(0 36.8 356.2)" fill="#16f216"/>
<ellipse cx="37.7" cy="359.4" rx="1.0" ry="1.5" transform="rotate(0 37.7 359.4)" fill="#16f216"/>
</g>
<line x1="12.2" y1="351.0" x2="47.4" y2="351.0" stroke="#0a1a50" stroke-width="0.45" opacity="0.5"/>
<line x1="29.8" y1="333.4" x2="29.8" y2="368.6" stroke="#0a1a50" stroke-width="0.4" opacity="0.35"/>
</g>
<clipPath id="pc11"><circle cx="68.3" cy="351.0" r="17.6"/></clipPath>
<circle cx="68.3" cy="351.0" r="17.6" fill="#0c28ec"/>
<g clip-path="url(#pc11)"><g filter="url(#pfb)">
<ellipse cx="79.3" cy="357.6" rx="1.5" ry="2.5" transform="rotate(0 79.3 357.6)" fill="#12b060" opacity="0.8"/>
<ellipse cx="66.6" cy="334.5" rx="1.4" ry="1.7" transform="rotate(0 66.6 334.5)" fill="#12b060" opacity="0.8"/>
<ellipse cx="79.5" cy="352.6" rx="2.5" ry="2.2" transform="rotate(0 79.5 352.6)" fill="#12b060" opacity="0.8"/>
<ellipse cx="55.3" cy="343.9" rx="1.8" ry="1.3" transform="rotate(0 55.3 343.9)" fill="#12b060" opacity="0.8"/>
<ellipse cx="65.6" cy="360.8" rx="2.0" ry="1.4" transform="rotate(0 65.6 360.8)" fill="#12b060" opacity="0.8"/>
<ellipse cx="81.8" cy="354.2" rx="1.3" ry="2.1" transform="rotate(0 81.8 354.2)" fill="#12b060" opacity="0.8"/>
<ellipse cx="59.7" cy="339.1" rx="2.0" ry="2.3" transform="rotate(0 59.7 339.1)" fill="#12b060" opacity="0.8"/>
<ellipse cx="59.6" cy="348.2" rx="2.4" ry="1.4" transform="rotate(0 59.6 348.2)" fill="#12b060" opacity="0.8"/>
<ellipse cx="69.2" cy="351.2" rx="3.0" ry="2.2" transform="rotate(0 69.2 351.2)" fill="#12b060" opacity="0.8"/>
<ellipse cx="64.6" cy="350.0" rx="2.4" ry="3.0" transform="rotate(0 64.6 350.0)" fill="#12b060" opacity="0.8"/>
<ellipse cx="77.9" cy="345.8" rx="2.5" ry="2.3" transform="rotate(0 77.9 345.8)" fill="#12b060" opacity="0.8"/>
<ellipse cx="77.4" cy="358.9" rx="1.8" ry="1.3" transform="rotate(0 77.4 358.9)" fill="#12b060" opacity="0.8"/>
<ellipse cx="69.8" cy="361.5" rx="1.5" ry="2.6" transform="rotate(0 69.8 361.5)" fill="#12b060" opacity="0.8"/>
<ellipse cx="67.1" cy="357.5" rx="2.3" ry="2.7" transform="rotate(0 67.1 357.5)" fill="#12b060" opacity="0.8"/>
<ellipse cx="56.0" cy="340.4" rx="1.8" ry="1.4" transform="rotate(0 56.0 340.4)" fill="#12b060" opacity="0.75"/>
<ellipse cx="68.3" cy="351.0" rx="3.5" ry="10.6" transform="rotate(0 68.3 351.0)" fill="#12b060" opacity="0.75"/>
<ellipse cx="66.7" cy="341.1" rx="1.7" ry="3.6" transform="rotate(0 66.7 341.1)" fill="#12b060" opacity="0.75"/>
<ellipse cx="66.0" cy="342.1" rx="1.0" ry="1.9" transform="rotate(0 66.0 342.1)" fill="#12b060" opacity="0.75"/>
<ellipse cx="65.9" cy="340.1" rx="0.8" ry="2.6" transform="rotate(0 65.9 340.1)" fill="#12b060" opacity="0.75"/>
<ellipse cx="66.7" cy="342.9" rx="1.0" ry="1.9" transform="rotate(0 66.7 342.9)" fill="#12b060" opacity="0.75"/>
<ellipse cx="56.9" cy="350.5" rx="3.0" ry="3.2" transform="rotate(0 56.9 350.5)" fill="#12b060" opacity="0.75"/>
<ellipse cx="57.6" cy="349.5" rx="1.6" ry="2.2" transform="rotate(0 57.6 349.5)" fill="#12b060" opacity="0.75"/>
<ellipse cx="57.9" cy="349.9" rx="1.4" ry="1.8" transform="rotate(0 57.9 349.9)" fill="#12b060" opacity="0.75"/>
<ellipse cx="58.0" cy="351.2" rx="2.1" ry="1.8" transform="rotate(0 58.0 351.2)" fill="#12b060" opacity="0.75"/>
<ellipse cx="76.6" cy="350.1" rx="2.5" ry="3.2" transform="rotate(0 76.6 350.1)" fill="#12b060" opacity="0.75"/>
<ellipse cx="77.8" cy="350.1" rx="1.5" ry="2.3" transform="rotate(0 77.8 350.1)" fill="#12b060" opacity="0.75"/>
<ellipse cx="76.6" cy="351.1" rx="1.7" ry="1.5" transform="rotate(0 76.6 351.1)" fill="#12b060" opacity="0.75"/>
<ellipse cx="76.8" cy="351.1" rx="1.5" ry="1.7" transform="rotate(0 76.8 351.1)" fill="#12b060" opacity="0.75"/>
<ellipse cx="67.1" cy="360.3" rx="2.1" ry="3.6" transform="rotate(0 67.1 360.3)" fill="#12b060" opacity="0.75"/>
<ellipse cx="66.2" cy="360.9" rx="1.1" ry="2.2" transform="rotate(0 66.2 360.9)" fill="#12b060" opacity="0.75"/>
<ellipse cx="66.9" cy="361.0" rx="1.2" ry="1.6" transform="rotate(0 66.9 361.0)" fill="#12b060" opacity="0.75"/>
<ellipse cx="67.8" cy="359.8" rx="1.6" ry="1.9" transform="rotate(0 67.8 359.8)" fill="#12b060" opacity="0.75"/>
<ellipse cx="78.3" cy="338.0" rx="2.1" ry="1.7" transform="rotate(0 78.3 338.0)" fill="#12b060" opacity="0.75"/>
<ellipse cx="79.3" cy="338.7" rx="1.0" ry="1.1" transform="rotate(0 79.3 338.7)" fill="#12b060" opacity="0.75"/>
<ellipse cx="78.0" cy="338.5" rx="1.4" ry="1.2" transform="rotate(0 78.0 338.5)" fill="#12b060" opacity="0.75"/>
<ellipse cx="77.6" cy="338.2" rx="1.4" ry="0.8" transform="rotate(0 77.6 338.2)" fill="#12b060" opacity="0.75"/>
<ellipse cx="80.1" cy="361.2" rx="2.1" ry="2.1" transform="rotate(0 80.1 361.2)" fill="#12b060" opacity="0.75"/>
<ellipse cx="79.2" cy="361.8" rx="1.2" ry="1.2" transform="rotate(0 79.2 361.8)" fill="#12b060" opacity="0.75"/>
<ellipse cx="80.2" cy="361.4" rx="1.4" ry="1.6" transform="rotate(0 80.2 361.4)" fill="#12b060" opacity="0.75"/>
<ellipse cx="79.8" cy="361.8" rx="1.3" ry="1.3" transform="rotate(0 79.8 361.8)" fill="#12b060" opacity="0.75"/>
<ellipse cx="56.0" cy="363.1" rx="2.1" ry="1.7" transform="rotate(0 56.0 363.1)" fill="#12b060" opacity="0.75"/>
<ellipse cx="55.8" cy="363.4" rx="1.1" ry="0.8" transform="rotate(0 55.8 363.4)" fill="#12b060" opacity="0.75"/>
<ellipse cx="56.5" cy="363.1" rx="1.2" ry="1.0" transform="rotate(0 56.5 363.1)" fill="#12b060" opacity="0.75"/>
<ellipse cx="55.5" cy="362.7" rx="1.2" ry="1.3" transform="rotate(0 55.5 362.7)" fill="#12b060" opacity="0.75"/>
<ellipse cx="66.7" cy="341.1" rx="1.1" ry="2.4" transform="rotate(0 66.7 341.1)" fill="#16f216"/>
<ellipse cx="66.0" cy="342.1" rx="0.7" ry="1.3" transform="rotate(0 66.0 342.1)" fill="#16f216"/>
<ellipse cx="65.9" cy="340.1" rx="0.5" ry="1.7" transform="rotate(0 65.9 340.1)" fill="#16f216"/>
<ellipse cx="66.7" cy="342.9" rx="0.7" ry="1.2" transform="rotate(0 66.7 342.9)" fill="#16f216"/>
<ellipse cx="56.9" cy="350.5" rx="2.0" ry="2.1" transform="rotate(0 56.9 350.5)" fill="#16f216"/>
<ellipse cx="57.6" cy="349.5" rx="1.1" ry="1.4" transform="rotate(0 57.6 349.5)" fill="#16f216"/>
<ellipse cx="57.9" cy="349.9" rx="0.9" ry="1.2" transform="rotate(0 57.9 349.9)" fill="#16f216"/>
<ellipse cx="58.0" cy="351.2" rx="1.4" ry="1.2" transform="rotate(0 58.0 351.2)" fill="#16f216"/>
<ellipse cx="76.6" cy="350.1" rx="1.7" ry="2.1" transform="rotate(0 76.6 350.1)" fill="#16f216"/>
<ellipse cx="77.8" cy="350.1" rx="1.0" ry="1.5" transform="rotate(0 77.8 350.1)" fill="#16f216"/>
<ellipse cx="76.6" cy="351.1" rx="1.1" ry="1.0" transform="rotate(0 76.6 351.1)" fill="#16f216"/>
<ellipse cx="76.8" cy="351.1" rx="1.0" ry="1.1" transform="rotate(0 76.8 351.1)" fill="#16f216"/>
<ellipse cx="67.1" cy="360.3" rx="1.4" ry="2.4" transform="rotate(0 67.1 360.3)" fill="#16f216"/>
<ellipse cx="66.2" cy="360.9" rx="0.8" ry="1.5" transform="rotate(0 66.2 360.9)" fill="#16f216"/>
<ellipse cx="66.9" cy="361.0" rx="0.8" ry="1.1" transform="rotate(0 66.9 361.0)" fill="#16f216"/>
<ellipse cx="67.8" cy="359.8" rx="1.1" ry="1.3" transform="rotate(0 67.8 359.8)" fill="#16f216"/>
<ellipse cx="78.3" cy="338.0" rx="1.4" ry="1.1" transform="rotate(0 78.3 338.0)" fill="#16f216"/>
<ellipse cx="79.3" cy="338.7" rx="0.6" ry="0.7" transform="rotate(0 79.3 338.7)" fill="#16f216"/>
<ellipse cx="78.0" cy="338.5" rx="0.9" ry="0.8" transform="rotate(0 78.0 338.5)" fill="#16f216"/>
<ellipse cx="77.6" cy="338.2" rx="1.0" ry="0.5" transform="rotate(0 77.6 338.2)" fill="#16f216"/>
<ellipse cx="80.1" cy="361.2" rx="1.4" ry="1.4" transform="rotate(0 80.1 361.2)" fill="#16f216"/>
<ellipse cx="79.2" cy="361.8" rx="0.8" ry="0.8" transform="rotate(0 79.2 361.8)" fill="#16f216"/>
<ellipse cx="80.2" cy="361.4" rx="0.9" ry="1.0" transform="rotate(0 80.2 361.4)" fill="#16f216"/>
<ellipse cx="79.8" cy="361.8" rx="0.9" ry="0.8" transform="rotate(0 79.8 361.8)" fill="#16f216"/>
<ellipse cx="56.0" cy="363.1" rx="1.4" ry="1.1" transform="rotate(0 56.0 363.1)" fill="#16f216"/>
<ellipse cx="55.8" cy="363.4" rx="0.7" ry="0.5" transform="rotate(0 55.8 363.4)" fill="#16f216"/>
<ellipse cx="56.5" cy="363.1" rx="0.8" ry="0.7" transform="rotate(0 56.5 363.1)" fill="#16f216"/>
<ellipse cx="55.5" cy="362.7" rx="0.8" ry="0.8" transform="rotate(0 55.5 362.7)" fill="#16f216"/>
</g>
<line x1="50.7" y1="351.0" x2="85.9" y2="351.0" stroke="#0a1a50" stroke-width="0.45" opacity="0.5"/>
<line x1="68.3" y1="333.4" x2="68.3" y2="368.6" stroke="#0a1a50" stroke-width="0.4" opacity="0.35"/>
</g>
<clipPath id="pc12"><circle cx="106.1" cy="351.0" r="17.6"/></clipPath>
<circle cx="106.1" cy="351.0" r="17.6" fill="#0c28ec"/>
<g clip-path="url(#pc12)"><g filter="url(#pfb)">
<ellipse cx="98.9" cy="364.9" rx="2.1" ry="1.4" transform="rotate(0 98.9 364.9)" fill="#12b060" opacity="0.8"/>
<ellipse cx="117.9" cy="349.4" rx="2.8" ry="2.0" transform="rotate(0 117.9 349.4)" fill="#12b060" opacity="0.8"/>
<ellipse cx="92.3" cy="357.1" rx="2.7" ry="1.8" transform="rotate(0 92.3 357.1)" fill="#12b060" opacity="0.8"/>
<ellipse cx="101.0" cy="336.5" rx="2.2" ry="2.8" transform="rotate(0 101.0 336.5)" fill="#12b060" opacity="0.8"/>
<ellipse cx="117.8" cy="358.1" rx="2.9" ry="2.4" transform="rotate(0 117.8 358.1)" fill="#12b060" opacity="0.8"/>
<ellipse cx="115.9" cy="351.3" rx="1.4" ry="1.6" transform="rotate(0 115.9 351.3)" fill="#12b060" opacity="0.8"/>
<ellipse cx="94.0" cy="360.7" rx="1.3" ry="2.2" transform="rotate(0 94.0 360.7)" fill="#12b060" opacity="0.8"/>
<ellipse cx="101.7" cy="361.2" rx="2.2" ry="2.3" transform="rotate(0 101.7 361.2)" fill="#12b060" opacity="0.8"/>
<ellipse cx="92.3" cy="344.6" rx="3.0" ry="2.5" transform="rotate(0 92.3 344.6)" fill="#12b060" opacity="0.8"/>
<ellipse cx="107.0" cy="360.0" rx="2.7" ry="1.4" transform="rotate(0 107.0 360.0)" fill="#12b060" opacity="0.8"/>
<ellipse cx="121.9" cy="355.8" rx="2.0" ry="2.4" transform="rotate(0 121.9 355.8)" fill="#12b060" opacity="0.8"/>
<ellipse cx="100.9" cy="363.6" rx="2.6" ry="2.4" transform="rotate(0 100.9 363.6)" fill="#12b060" opacity="0.8"/>
<ellipse cx="103.8" cy="364.7" rx="1.3" ry="1.5" transform="rotate(0 103.8 364.7)" fill="#12b060" opacity="0.8"/>
<ellipse cx="94.5" cy="339.8" rx="1.8" ry="2.5" transform="rotate(0 94.5 339.8)" fill="#12b060" opacity="0.8"/>
<ellipse cx="101.0" cy="365.7" rx="2.8" ry="2.7" transform="rotate(0 101.0 365.7)" fill="#12b060" opacity="0.8"/>
<ellipse cx="105.2" cy="344.0" rx="2.1" ry="5.3" transform="rotate(0 105.2 344.0)" fill="#12b060" opacity="0.75"/>
<ellipse cx="106.1" cy="358.9" rx="2.1" ry="5.3" transform="rotate(0 106.1 358.9)" fill="#12b060" opacity="0.75"/>
<ellipse cx="104.3" cy="351.0" rx="2.7" ry="4.6" transform="rotate(0 104.3 351.0)" fill="#12b060" opacity="0.75"/>
<ellipse cx="103.7" cy="351.6" rx="1.7" ry="2.2" transform="rotate(0 103.7 351.6)" fill="#12b060" opacity="0.75"/>
<ellipse cx="103.8" cy="351.2" rx="1.6" ry="2.3" transform="rotate(0 103.8 351.2)" fill="#12b060" opacity="0.75"/>
<ellipse cx="105.6" cy="349.4" rx="1.8" ry="3.1" transform="rotate(0 105.6 349.4)" fill="#12b060" opacity="0.75"/>
<ellipse cx="103.8" cy="335.0" rx="3.2" ry="1.5" transform="rotate(0 103.8 335.0)" fill="#12b060" opacity="0.75"/>
<ellipse cx="104.1" cy="335.5" rx="1.9" ry="1.0" transform="rotate(0 104.1 335.5)" fill="#12b060" opacity="0.75"/>
<ellipse cx="102.3" cy="334.3" rx="2.0" ry="0.9" transform="rotate(0 102.3 334.3)" fill="#12b060" opacity="0.75"/>
<ellipse cx="104.3" cy="335.4" rx="1.8" ry="0.9" transform="rotate(0 104.3 335.4)" fill="#12b060" opacity="0.75"/>
<ellipse cx="122.1" cy="349.6" rx="2.1" ry="3.2" transform="rotate(0 122.1 349.6)" fill="#12b060" opacity="0.75"/>
<ellipse cx="122.1" cy="350.0" rx="1.1" ry="2.3" transform="rotate(0 122.1 350.0)" fill="#12b060" opacity="0.75"/>
<ellipse cx="122.1" cy="350.6" rx="1.4" ry="1.7" transform="rotate(0 122.1 350.6)" fill="#12b060" opacity="0.75"/>
<ellipse cx="121.2" cy="348.2" rx="1.2" ry="1.9" transform="rotate(0 121.2 348.2)" fill="#12b060" opacity="0.75"/>
<ellipse cx="89.6" cy="353.3" rx="1.3" ry="2.1" transform="rotate(0 89.6 353.3)" fill="#12b060" opacity="0.75"/>
<ellipse cx="89.2" cy="353.5" rx="0.7" ry="1.4" transform="rotate(0 89.2 353.5)" fill="#12b060" opacity="0.75"/>
<ellipse cx="89.9" cy="354.0" rx="0.9" ry="1.0" transform="rotate(0 89.9 354.0)" fill="#12b060" opacity="0.75"/>
<ellipse cx="89.4" cy="353.4" rx="0.7" ry="1.2" transform="rotate(0 89.4 353.4)" fill="#12b060" opacity="0.75"/>
<ellipse cx="107.5" cy="366.1" rx="3.2" ry="2.1" transform="rotate(0 107.5 366.1)" fill="#12b060" opacity="0.75"/>
<ellipse cx="106.8" cy="365.6" rx="1.5" ry="1.1" transform="rotate(0 106.8 365.6)" fill="#12b060" opacity="0.75"/>
<ellipse cx="107.1" cy="366.4" rx="1.6" ry="1.5" transform="rotate(0 107.1 366.4)" fill="#12b060" opacity="0.75"/>
<ellipse cx="106.4" cy="365.8" rx="2.0" ry="1.1" transform="rotate(0 106.4 365.8)" fill="#12b060" opacity="0.75"/>
<ellipse cx="104.3" cy="351.0" rx="1.8" ry="3.1" transform="rotate(0 104.3 351.0)" fill="#16f216"/>
<ellipse cx="103.7" cy="351.6" rx="1.1" ry="1.5" transform="rotate(0 103.7 351.6)" fill="#16f216"/>
<ellipse cx="103.8" cy="351.2" rx="1.1" ry="1.5" transform="rotate(0 103.8 351.2)" fill="#16f216"/>
<ellipse cx="105.6" cy="349.4" rx="1.2" ry="2.1" transform="rotate(0 105.6 349.4)" fill="#16f216"/>
<ellipse cx="103.8" cy="335.0" rx="2.1" ry="1.0" transform="rotate(0 103.8 335.0)" fill="#16f216"/>
<ellipse cx="104.1" cy="335.5" rx="1.3" ry="0.7" transform="rotate(0 104.1 335.5)" fill="#16f216"/>
<ellipse cx="102.3" cy="334.3" rx="1.3" ry="0.6" transform="rotate(0 102.3 334.3)" fill="#16f216"/>
<ellipse cx="104.3" cy="335.4" rx="1.2" ry="0.6" transform="rotate(0 104.3 335.4)" fill="#16f216"/>
<ellipse cx="122.1" cy="349.6" rx="1.4" ry="2.1" transform="rotate(0 122.1 349.6)" fill="#16f216"/>
<ellipse cx="122.1" cy="350.0" rx="0.7" ry="1.6" transform="rotate(0 122.1 350.0)" fill="#16f216"/>
<ellipse cx="122.1" cy="350.6" rx="0.9" ry="1.1" transform="rotate(0 122.1 350.6)" fill="#16f216"/>
<ellipse cx="121.2" cy="348.2" rx="0.8" ry="1.2" transform="rotate(0 121.2 348.2)" fill="#16f216"/>
<ellipse cx="89.6" cy="353.3" rx="0.8" ry="1.4" transform="rotate(0 89.6 353.3)" fill="#16f216"/>
<ellipse cx="89.2" cy="353.5" rx="0.5" ry="0.9" transform="rotate(0 89.2 353.5)" fill="#16f216"/>
<ellipse cx="89.9" cy="354.0" rx="0.6" ry="0.7" transform="rotate(0 89.9 354.0)" fill="#16f216"/>
<ellipse cx="89.4" cy="353.4" rx="0.5" ry="0.8" transform="rotate(0 89.4 353.4)" fill="#16f216"/>
<ellipse cx="107.5" cy="366.1" rx="2.1" ry="1.4" transform="rotate(0 107.5 366.1)" fill="#16f216"/>
<ellipse cx="106.8" cy="365.6" rx="1.0" ry="0.7" transform="rotate(0 106.8 365.6)" fill="#16f216"/>
<ellipse cx="107.1" cy="366.4" rx="1.1" ry="1.0" transform="rotate(0 107.1 366.4)" fill="#16f216"/>
<ellipse cx="106.4" cy="365.8" rx="1.3" ry="0.8" transform="rotate(0 106.4 365.8)" fill="#16f216"/>
<ellipse cx="104.3" cy="351.0" rx="1.4" ry="2.3" transform="rotate(0 104.3 351.0)" fill="#d8f020"/>
<ellipse cx="122.1" cy="349.6" rx="1.1" ry="1.6" transform="rotate(0 122.1 349.6)" fill="#d8f020"/>
<ellipse cx="122.1" cy="349.6" rx="0.7" ry="1.0" transform="rotate(0 122.1 349.6)" fill="#f03a10"/>
<ellipse cx="89.6" cy="353.3" rx="0.6" ry="1.1" transform="rotate(0 89.6 353.3)" fill="#d8f020"/>
</g>
<line x1="88.5" y1="351.0" x2="123.7" y2="351.0" stroke="#0a1a50" stroke-width="0.45" opacity="0.5"/>
<line x1="106.1" y1="333.4" x2="106.1" y2="368.6" stroke="#0a1a50" stroke-width="0.4" opacity="0.35"/>
</g>
<text transform="translate(8.2 334.2) scale(1.12 1)" font-family="'Liberation Serif', 'DejaVu Serif', serif" font-size="6" fill="#222">[110]</text>
<text transform="translate(45.8 336.0) scale(1.12 1)" font-family="'Liberation Serif', 'DejaVu Serif', serif" font-size="6" fill="#222">[111]</text>
<text transform="translate(82.5 336.0) scale(1.12 1)" font-family="'Liberation Serif', 'DejaVu Serif', serif" font-size="6" fill="#222">[100]</text>
<text x="28.4" y="331.4" font-family="'Liberation Serif', 'DejaVu Serif', serif" font-size="4.5" fill="#333">Y</text>
<text x="48.0" y="352.5" font-family="'Liberation Serif', 'DejaVu Serif', serif" font-size="4.5" fill="#333">X</text>
<text x="124.6" y="342.4" font-family="'Liberation Serif', 'DejaVu Serif', serif" font-size="6.6" fill="#111">Max=8.50</text>
<rect x="132.0" y="347.60" width="16.5" height="2.22" fill="#1030c8"/>
<rect x="132.0" y="349.78" width="16.5" height="2.22" fill="#109050"/>
<rect x="132.0" y="351.95" width="16.5" height="2.22" fill="#10d020"/>
<rect x="132.0" y="354.12" width="16.5" height="2.22" fill="#20f020"/>
<rect x="132.0" y="356.30" width="16.5" height="2.22" fill="#90e010"/>
<rect x="132.0" y="358.48" width="16.5" height="2.22" fill="#f0c000"/>
<rect x="132.0" y="360.65" width="16.5" height="2.22" fill="#f08000"/>
<rect x="132.0" y="362.82" width="16.5" height="2.22" fill="#f02000"/>
<clipPath id="pc13"><circle cx="169.3" cy="350.3" r="17.6"/></clipPath>
<circle cx="169.3" cy="350.3" r="17.6" fill="#0c28ec"/>
<g clip-path="url(#pc13)"><g filter="url(#pfb)">
<ellipse cx="178.1" cy="350.2" rx="2.1" ry="2.1" transform="rotate(0 178.1 350.2)" fill="#12b060" opacity="0.8"/>
<ellipse cx="162.9" cy="334.4" rx="2.9" ry="2.1" transform="rotate(0 162.9 334.4)" fill="#12b060" opacity="0.8"/>
<ellipse cx="164.4" cy="335.3" rx="2.1" ry="2.8" transform="rotate(0 164.4 335.3)" fill="#12b060" opacity="0.8"/>
<ellipse cx="174.5" cy="349.3" rx="2.2" ry="2.7" transform="rotate(0 174.5 349.3)" fill="#12b060" opacity="0.8"/>
<ellipse cx="167.0" cy="363.1" rx="2.5" ry="2.6" transform="rotate(0 167.0 363.1)" fill="#12b060" opacity="0.8"/>
<ellipse cx="164.8" cy="347.0" rx="2.2" ry="1.6" transform="rotate(0 164.8 347.0)" fill="#12b060" opacity="0.8"/>
<ellipse cx="171.1" cy="336.0" rx="2.1" ry="2.6" transform="rotate(0 171.1 336.0)" fill="#12b060" opacity="0.8"/>
<ellipse cx="175.3" cy="337.6" rx="2.9" ry="1.9" transform="rotate(0 175.3 337.6)" fill="#12b060" opacity="0.8"/>
<ellipse cx="179.2" cy="344.9" rx="2.9" ry="2.6" transform="rotate(0 179.2 344.9)" fill="#12b060" opacity="0.8"/>
<ellipse cx="159.2" cy="350.6" rx="2.1" ry="1.3" transform="rotate(0 159.2 350.6)" fill="#12b060" opacity="0.8"/>
<ellipse cx="157.2" cy="344.7" rx="2.1" ry="2.0" transform="rotate(0 157.2 344.7)" fill="#12b060" opacity="0.8"/>
<ellipse cx="172.9" cy="350.8" rx="1.8" ry="2.3" transform="rotate(0 172.9 350.8)" fill="#12b060" opacity="0.8"/>
<ellipse cx="177.3" cy="343.6" rx="1.8" ry="2.7" transform="rotate(0 177.3 343.6)" fill="#12b060" opacity="0.8"/>
<ellipse cx="170.4" cy="357.3" rx="1.8" ry="2.7" transform="rotate(0 170.4 357.3)" fill="#12b060" opacity="0.8"/>
<ellipse cx="164.9" cy="356.1" rx="3.0" ry="2.3" transform="rotate(0 164.9 356.1)" fill="#12b060" opacity="0.8"/>
<ellipse cx="179.2" cy="357.8" rx="2.4" ry="1.3" transform="rotate(0 179.2 357.8)" fill="#12b060" opacity="0.8"/>
<ellipse cx="168.5" cy="365.9" rx="2.6" ry="2.6" transform="rotate(0 168.5 365.9)" fill="#12b060" opacity="0.8"/>
<ellipse cx="171.9" cy="357.7" rx="2.3" ry="1.5" transform="rotate(0 171.9 357.7)" fill="#12b060" opacity="0.8"/>
<ellipse cx="173.6" cy="354.3" rx="2.7" ry="1.5" transform="rotate(0 173.6 354.3)" fill="#12b060" opacity="0.8"/>
<ellipse cx="175.3" cy="334.6" rx="2.9" ry="1.4" transform="rotate(0 175.3 334.6)" fill="#12b060" opacity="0.8"/>
<ellipse cx="153.2" cy="344.1" rx="1.5" ry="2.4" transform="rotate(0 153.2 344.1)" fill="#12b060" opacity="0.8"/>
<ellipse cx="166.3" cy="359.5" rx="2.9" ry="2.8" transform="rotate(0 166.3 359.5)" fill="#12b060" opacity="0.8"/>
<ellipse cx="177.2" cy="335.7" rx="1.5" ry="1.6" transform="rotate(0 177.2 335.7)" fill="#12b060" opacity="0.8"/>
<ellipse cx="163.4" cy="355.7" rx="2.2" ry="1.8" transform="rotate(0 163.4 355.7)" fill="#12b060" opacity="0.8"/>
<ellipse cx="158.4" cy="364.1" rx="1.8" ry="1.9" transform="rotate(0 158.4 364.1)" fill="#12b060" opacity="0.8"/>
<ellipse cx="178.4" cy="357.7" rx="2.4" ry="2.5" transform="rotate(0 178.4 357.7)" fill="#12b060" opacity="0.8"/>
<ellipse cx="173.0" cy="340.0" rx="1.7" ry="2.2" transform="rotate(0 173.0 340.0)" fill="#12b060" opacity="0.8"/>
<ellipse cx="161.4" cy="350.3" rx="5.3" ry="14.1" transform="rotate(0 161.4 350.3)" fill="#12b060" opacity="0.75"/>
<ellipse cx="176.3" cy="350.3" rx="4.9" ry="14.1" transform="rotate(0 176.3 350.3)" fill="#12b060" opacity="0.75"/>
<ellipse cx="161.4" cy="342.4" rx="4.2" ry="5.3" transform="rotate(0 161.4 342.4)" fill="#12b060" opacity="0.75"/>
<ellipse cx="160.2" cy="344.9" rx="2.2" ry="2.8" transform="rotate(0 160.2 344.9)" fill="#12b060" opacity="0.75"/>
<ellipse cx="160.1" cy="343.5" rx="2.3" ry="2.9" transform="rotate(0 160.1 343.5)" fill="#12b060" opacity="0.75"/>
<ellipse cx="163.2" cy="343.9" rx="2.2" ry="2.5" transform="rotate(0 163.2 343.9)" fill="#12b060" opacity="0.75"/>
<ellipse cx="160.5" cy="350.3" rx="4.2" ry="4.2" transform="rotate(0 160.5 350.3)" fill="#12b060" opacity="0.75"/>
<ellipse cx="161.2" cy="349.8" rx="3.1" ry="2.9" transform="rotate(0 161.2 349.8)" fill="#12b060" opacity="0.75"/>
<ellipse cx="162.4" cy="351.6" rx="2.2" ry="2.2" transform="rotate(0 162.4 351.6)" fill="#12b060" opacity="0.75"/>
<ellipse cx="161.4" cy="349.7" rx="2.4" ry="2.2" transform="rotate(0 161.4 349.7)" fill="#12b060" opacity="0.75"/>
<ellipse cx="161.4" cy="358.2" rx="4.6" ry="5.3" transform="rotate(0 161.4 358.2)" fill="#12b060" opacity="0.75"/>
<ellipse cx="161.3" cy="356.6" rx="2.8" ry="3.8" transform="rotate(0 161.3 356.6)" fill="#12b060" opacity="0.75"/>
<ellipse cx="162.3" cy="356.3" rx="2.9" ry="3.3" transform="rotate(0 162.3 356.3)" fill="#12b060" opacity="0.75"/>
<ellipse cx="160.2" cy="359.1" rx="2.8" ry="3.4" transform="rotate(0 160.2 359.1)" fill="#12b060" opacity="0.75"/>
<ellipse cx="176.3" cy="342.4" rx="3.8" ry="4.6" transform="rotate(0 176.3 342.4)" fill="#12b060" opacity="0.75"/>
<ellipse cx="174.6" cy="342.0" rx="2.5" ry="2.2" transform="rotate(0 174.6 342.0)" fill="#12b060" opacity="0.75"/>
<ellipse cx="177.4" cy="340.1" rx="2.3" ry="3.4" transform="rotate(0 177.4 340.1)" fill="#12b060" opacity="0.75"/>
<ellipse cx="176.0" cy="344.4" rx="2.7" ry="2.7" transform="rotate(0 176.0 344.4)" fill="#12b060" opacity="0.75"/>
<ellipse cx="176.3" cy="351.2" rx="3.2" ry="4.2" transform="rotate(0 176.3 351.2)" fill="#12b060" opacity="0.75"/>
<ellipse cx="175.4" cy="353.1" rx="1.7" ry="2.7" transform="rotate(0 175.4 353.1)" fill="#12b060" opacity="0.75"/>
<ellipse cx="177.6" cy="349.4" rx="2.0" ry="2.6" transform="rotate(0 177.6 349.4)" fill="#12b060" opacity="0.75"/>
<ellipse cx="177.0" cy="353.0" rx="2.3" ry="2.1" transform="rotate(0 177.0 353.0)" fill="#12b060" opacity="0.75"/>
<ellipse cx="176.0" cy="359.1" rx="3.8" ry="4.6" transform="rotate(0 176.0 359.1)" fill="#12b060" opacity="0.75"/>
<ellipse cx="177.4" cy="357.6" rx="2.8" ry="3.5" transform="rotate(0 177.4 357.6)" fill="#12b060" opacity="0.75"/>
<ellipse cx="175.6" cy="359.1" rx="2.8" ry="3.4" transform="rotate(0 175.6 359.1)" fill="#12b060" opacity="0.75"/>
<ellipse cx="177.6" cy="360.9" rx="1.7" ry="2.9" transform="rotate(0 177.6 360.9)" fill="#12b060" opacity="0.75"/>
<ellipse cx="170.0" cy="364.7" rx="2.1" ry="1.7" transform="rotate(0 170.0 364.7)" fill="#12b060" opacity="0.75"/>
<ellipse cx="169.2" cy="365.5" rx="1.1" ry="1.3" transform="rotate(0 169.2 365.5)" fill="#12b060" opacity="0.75"/>
<ellipse cx="170.1" cy="364.7" rx="1.5" ry="1.2" transform="rotate(0 170.1 364.7)" fill="#12b060" opacity="0.75"/>
<ellipse cx="169.9" cy="364.2" rx="1.0" ry="0.8" transform="rotate(0 169.9 364.2)" fill="#12b060" opacity="0.75"/>
<ellipse cx="161.4" cy="342.4" rx="2.8" ry="3.5" transform="rotate(0 161.4 342.4)" fill="#16f216"/>
<ellipse cx="160.2" cy="344.9" rx="1.5" ry="1.9" transform="rotate(0 160.2 344.9)" fill="#16f216"/>
<ellipse cx="160.1" cy="343.5" rx="1.5" ry="1.9" transform="rotate(0 160.1 343.5)" fill="#16f216"/>
<ellipse cx="163.2" cy="343.9" rx="1.5" ry="1.7" transform="rotate(0 163.2 343.9)" fill="#16f216"/>
<ellipse cx="160.5" cy="350.3" rx="2.8" ry="2.8" transform="rotate(0 160.5 350.3)" fill="#16f216"/>
<ellipse cx="161.2" cy="349.8" rx="2.1" ry="2.0" transform="rotate(0 161.2 349.8)" fill="#16f216"/>
<ellipse cx="162.4" cy="351.6" rx="1.5" ry="1.5" transform="rotate(0 162.4 351.6)" fill="#16f216"/>
<ellipse cx="161.4" cy="349.7" rx="1.6" ry="1.5" transform="rotate(0 161.4 349.7)" fill="#16f216"/>
<ellipse cx="161.4" cy="358.2" rx="3.1" ry="3.5" transform="rotate(0 161.4 358.2)" fill="#16f216"/>
<ellipse cx="161.3" cy="356.6" rx="1.9" ry="2.6" transform="rotate(0 161.3 356.6)" fill="#16f216"/>
<ellipse cx="162.3" cy="356.3" rx="2.0" ry="2.2" transform="rotate(0 162.3 356.3)" fill="#16f216"/>
<ellipse cx="160.2" cy="359.1" rx="1.9" ry="2.2" transform="rotate(0 160.2 359.1)" fill="#16f216"/>
<ellipse cx="176.3" cy="342.4" rx="2.5" ry="3.1" transform="rotate(0 176.3 342.4)" fill="#16f216"/>
<ellipse cx="174.6" cy="342.0" rx="1.7" ry="1.5" transform="rotate(0 174.6 342.0)" fill="#16f216"/>
<ellipse cx="177.4" cy="340.1" rx="1.5" ry="2.3" transform="rotate(0 177.4 340.1)" fill="#16f216"/>
<ellipse cx="176.0" cy="344.4" rx="1.8" ry="1.8" transform="rotate(0 176.0 344.4)" fill="#16f216"/>
<ellipse cx="176.3" cy="351.2" rx="2.1" ry="2.8" transform="rotate(0 176.3 351.2)" fill="#16f216"/>
<ellipse cx="175.4" cy="353.1" rx="1.1" ry="1.8" transform="rotate(0 175.4 353.1)" fill="#16f216"/>
<ellipse cx="177.6" cy="349.4" rx="1.3" ry="1.7" transform="rotate(0 177.6 349.4)" fill="#16f216"/>
<ellipse cx="177.0" cy="353.0" rx="1.5" ry="1.4" transform="rotate(0 177.0 353.0)" fill="#16f216"/>
<ellipse cx="176.0" cy="359.1" rx="2.5" ry="3.1" transform="rotate(0 176.0 359.1)" fill="#16f216"/>
<ellipse cx="177.4" cy="357.6" rx="1.8" ry="2.3" transform="rotate(0 177.4 357.6)" fill="#16f216"/>
<ellipse cx="175.6" cy="359.1" rx="1.9" ry="2.3" transform="rotate(0 175.6 359.1)" fill="#16f216"/>
<ellipse cx="177.6" cy="360.9" rx="1.1" ry="1.9" transform="rotate(0 177.6 360.9)" fill="#16f216"/>
<ellipse cx="170.0" cy="364.7" rx="1.4" ry="1.1" transform="rotate(0 170.0 364.7)" fill="#16f216"/>
<ellipse cx="169.2" cy="365.5" rx="0.7" ry="0.8" transform="rotate(0 169.2 365.5)" fill="#16f216"/>
<ellipse cx="170.1" cy="364.7" rx="1.0" ry="0.8" transform="rotate(0 170.1 364.7)" fill="#16f216"/>
<ellipse cx="169.9" cy="364.2" rx="0.7" ry="0.5" transform="rotate(0 169.9 364.2)" fill="#16f216"/>
<ellipse cx="176.3" cy="342.4" rx="1.9" ry="2.3" transform="rotate(0 176.3 342.4)" fill="#d8f020"/>
</g>
<line x1="151.7" y1="350.3" x2="186.9" y2="350.3" stroke="#0a1a50" stroke-width="0.45" opacity="0.5"/>
<line x1="169.3" y1="332.7" x2="169.3" y2="367.9" stroke="#0a1a50" stroke-width="0.4" opacity="0.35"/>
</g>
<clipPath id="pc14"><circle cx="207.3" cy="350.3" r="17.6"/></clipPath>
<circle cx="207.3" cy="350.3" r="17.6" fill="#0c28ec"/>
<g clip-path="url(#pc14)"><g filter="url(#pfb)">
<ellipse cx="205.9" cy="342.2" rx="1.6" ry="2.5" transform="rotate(0 205.9 342.2)" fill="#12b060" opacity="0.8"/>
<ellipse cx="217.0" cy="352.6" rx="2.6" ry="1.5" transform="rotate(0 217.0 352.6)" fill="#12b060" opacity="0.8"/>
<ellipse cx="218.2" cy="350.8" rx="1.4" ry="2.4" transform="rotate(0 218.2 350.8)" fill="#12b060" opacity="0.8"/>
<ellipse cx="196.8" cy="338.3" rx="1.8" ry="1.7" transform="rotate(0 196.8 338.3)" fill="#12b060" opacity="0.8"/>
<ellipse cx="199.3" cy="341.5" rx="2.6" ry="2.9" transform="rotate(0 199.3 341.5)" fill="#12b060" opacity="0.8"/>
<ellipse cx="200.7" cy="357.8" rx="1.3" ry="2.4" transform="rotate(0 200.7 357.8)" fill="#12b060" opacity="0.8"/>
<ellipse cx="213.7" cy="335.7" rx="1.4" ry="1.8" transform="rotate(0 213.7 335.7)" fill="#12b060" opacity="0.8"/>
<ellipse cx="204.1" cy="350.4" rx="2.8" ry="2.5" transform="rotate(0 204.1 350.4)" fill="#12b060" opacity="0.8"/>
<ellipse cx="201.0" cy="337.5" rx="2.8" ry="1.8" transform="rotate(0 201.0 337.5)" fill="#12b060" opacity="0.8"/>
<ellipse cx="211.1" cy="340.9" rx="1.5" ry="1.5" transform="rotate(0 211.1 340.9)" fill="#12b060" opacity="0.8"/>
<ellipse cx="215.6" cy="353.8" rx="2.0" ry="2.2" transform="rotate(0 215.6 353.8)" fill="#12b060" opacity="0.8"/>
<ellipse cx="206.3" cy="351.6" rx="2.4" ry="1.6" transform="rotate(0 206.3 351.6)" fill="#12b060" opacity="0.8"/>
<ellipse cx="198.9" cy="358.8" rx="2.8" ry="1.4" transform="rotate(0 198.9 358.8)" fill="#12b060" opacity="0.8"/>
<ellipse cx="205.5" cy="357.1" rx="1.4" ry="2.2" transform="rotate(0 205.5 357.1)" fill="#12b060" opacity="0.8"/>
<ellipse cx="192.6" cy="351.9" rx="2.1" ry="2.2" transform="rotate(0 192.6 351.9)" fill="#12b060" opacity="0.8"/>
<ellipse cx="195.6" cy="344.6" rx="2.1" ry="1.4" transform="rotate(0 195.6 344.6)" fill="#12b060" opacity="0.8"/>
<ellipse cx="197.4" cy="353.1" rx="1.4" ry="2.1" transform="rotate(0 197.4 353.1)" fill="#12b060" opacity="0.8"/>
<ellipse cx="217.6" cy="348.7" rx="2.1" ry="2.0" transform="rotate(0 217.6 348.7)" fill="#12b060" opacity="0.8"/>
<ellipse cx="192.5" cy="349.0" rx="2.7" ry="2.5" transform="rotate(0 192.5 349.0)" fill="#12b060" opacity="0.8"/>
<ellipse cx="203.8" cy="360.9" rx="2.5" ry="2.2" transform="rotate(0 203.8 360.9)" fill="#12b060" opacity="0.8"/>
<ellipse cx="192.1" cy="345.1" rx="1.3" ry="3.0" transform="rotate(0 192.1 345.1)" fill="#12b060" opacity="0.8"/>
<ellipse cx="204.3" cy="359.3" rx="2.6" ry="3.0" transform="rotate(0 204.3 359.3)" fill="#12b060" opacity="0.8"/>
<ellipse cx="212.2" cy="347.6" rx="3.0" ry="1.9" transform="rotate(0 212.2 347.6)" fill="#12b060" opacity="0.8"/>
<ellipse cx="203.1" cy="356.4" rx="2.4" ry="2.2" transform="rotate(0 203.1 356.4)" fill="#12b060" opacity="0.8"/>
<ellipse cx="212.4" cy="345.2" rx="1.5" ry="2.2" transform="rotate(0 212.4 345.2)" fill="#12b060" opacity="0.8"/>
<ellipse cx="208.3" cy="357.9" rx="1.6" ry="1.2" transform="rotate(0 208.3 357.9)" fill="#12b060" opacity="0.8"/>
<ellipse cx="202.0" cy="345.0" rx="5.3" ry="5.3" transform="rotate(0 202.0 345.0)" fill="#12b060" opacity="0.75"/>
<ellipse cx="212.6" cy="355.6" rx="5.3" ry="5.3" transform="rotate(0 212.6 355.6)" fill="#12b060" opacity="0.75"/>
<ellipse cx="212.6" cy="341.5" rx="4.4" ry="3.5" transform="rotate(0 212.6 341.5)" fill="#12b060" opacity="0.75"/>
<ellipse cx="202.0" cy="360.9" rx="5.3" ry="3.5" transform="rotate(0 202.0 360.9)" fill="#12b060" opacity="0.75"/>
<ellipse cx="196.7" cy="347.0" rx="3.0" ry="5.3" transform="rotate(0 196.7 347.0)" fill="#12b060" opacity="0.75"/>
<ellipse cx="195.3" cy="345.9" rx="1.9" ry="3.2" transform="rotate(0 195.3 345.9)" fill="#12b060" opacity="0.75"/>
<ellipse cx="196.8" cy="348.7" rx="1.5" ry="2.9" transform="rotate(0 196.8 348.7)" fill="#12b060" opacity="0.75"/>
<ellipse cx="196.1" cy="349.3" rx="2.0" ry="2.5" transform="rotate(0 196.1 349.3)" fill="#12b060" opacity="0.75"/>
<ellipse cx="208.9" cy="341.1" rx="2.1" ry="2.5" transform="rotate(0 208.9 341.1)" fill="#12b060" opacity="0.75"/>
<ellipse cx="209.5" cy="340.9" rx="1.4" ry="1.8" transform="rotate(0 209.5 340.9)" fill="#12b060" opacity="0.75"/>
<ellipse cx="207.9" cy="340.4" rx="1.0" ry="1.1" transform="rotate(0 207.9 340.4)" fill="#12b060" opacity="0.75"/>
<ellipse cx="209.1" cy="341.7" rx="1.0" ry="1.7" transform="rotate(0 209.1 341.7)" fill="#12b060" opacity="0.75"/>
<ellipse cx="214.7" cy="347.3" rx="2.5" ry="2.5" transform="rotate(0 214.7 347.3)" fill="#12b060" opacity="0.75"/>
<ellipse cx="214.4" cy="346.6" rx="1.3" ry="1.8" transform="rotate(0 214.4 346.6)" fill="#12b060" opacity="0.75"/>
<ellipse cx="213.6" cy="347.3" rx="1.3" ry="1.8" transform="rotate(0 213.6 347.3)" fill="#12b060" opacity="0.75"/>
<ellipse cx="215.3" cy="346.8" rx="1.6" ry="1.6" transform="rotate(0 215.3 346.8)" fill="#12b060" opacity="0.75"/>
<ellipse cx="218.2" cy="353.6" rx="2.1" ry="3.2" transform="rotate(0 218.2 353.6)" fill="#12b060" opacity="0.75"/>
<ellipse cx="217.8" cy="353.0" rx="1.0" ry="2.0" transform="rotate(0 217.8 353.0)" fill="#12b060" opacity="0.75"/>
<ellipse cx="217.6" cy="353.0" rx="1.0" ry="2.3" transform="rotate(0 217.6 353.0)" fill="#12b060" opacity="0.75"/>
<ellipse cx="219.0" cy="354.9" rx="1.3" ry="1.8" transform="rotate(0 219.0 354.9)" fill="#12b060" opacity="0.75"/>
<ellipse cx="205.7" cy="358.6" rx="3.2" ry="2.7" transform="rotate(0 205.7 358.6)" fill="#12b060" opacity="0.75"/>
<ellipse cx="205.7" cy="359.9" rx="2.3" ry="1.8" transform="rotate(0 205.7 359.9)" fill="#12b060" opacity="0.75"/>
<ellipse cx="206.6" cy="358.1" rx="1.8" ry="1.3" transform="rotate(0 206.6 358.1)" fill="#12b060" opacity="0.75"/>
<ellipse cx="205.3" cy="359.3" rx="1.9" ry="1.9" transform="rotate(0 205.3 359.3)" fill="#12b060" opacity="0.75"/>
<ellipse cx="195.9" cy="357.7" rx="2.5" ry="2.5" transform="rotate(0 195.9 357.7)" fill="#12b060" opacity="0.75"/>
<ellipse cx="195.4" cy="358.2" rx="1.7" ry="1.8" transform="rotate(0 195.4 358.2)" fill="#12b060" opacity="0.75"/>
<ellipse cx="196.0" cy="358.9" rx="1.6" ry="1.2" transform="rotate(0 196.0 358.9)" fill="#12b060" opacity="0.75"/>
<ellipse cx="195.2" cy="356.9" rx="1.6" ry="1.8" transform="rotate(0 195.2 356.9)" fill="#12b060" opacity="0.75"/>
<ellipse cx="203.1" cy="351.4" rx="2.5" ry="2.5" transform="rotate(0 203.1 351.4)" fill="#12b060" opacity="0.75"/>
<ellipse cx="204.0" cy="350.3" rx="1.7" ry="1.3" transform="rotate(0 204.0 350.3)" fill="#12b060" opacity="0.75"/>
<ellipse cx="202.5" cy="351.8" rx="1.6" ry="1.8" transform="rotate(0 202.5 351.8)" fill="#12b060" opacity="0.75"/>
<ellipse cx="202.3" cy="352.0" rx="1.7" ry="1.6" transform="rotate(0 202.3 352.0)" fill="#12b060" opacity="0.75"/>
<ellipse cx="196.7" cy="347.0" rx="2.0" ry="3.5" transform="rotate(0 196.7 347.0)" fill="#16f216"/>
<ellipse cx="195.3" cy="345.9" rx="1.3" ry="2.1" transform="rotate(0 195.3 345.9)" fill="#16f216"/>
<ellipse cx="196.8" cy="348.7" rx="1.0" ry="1.9" transform="rotate(0 196.8 348.7)" fill="#16f216"/>
<ellipse cx="196.1" cy="349.3" rx="1.3" ry="1.7" transform="rotate(0 196.1 349.3)" fill="#16f216"/>
<ellipse cx="208.9" cy="341.1" rx="1.4" ry="1.7" transform="rotate(0 208.9 341.1)" fill="#16f216"/>
<ellipse cx="209.5" cy="340.9" rx="1.0" ry="1.2" transform="rotate(0 209.5 340.9)" fill="#16f216"/>
<ellipse cx="207.9" cy="340.4" rx="0.7" ry="0.8" transform="rotate(0 207.9 340.4)" fill="#16f216"/>
<ellipse cx="209.1" cy="341.7" rx="0.6" ry="1.1" transform="rotate(0 209.1 341.7)" fill="#16f216"/>
<ellipse cx="214.7" cy="347.3" rx="1.7" ry="1.7" transform="rotate(0 214.7 347.3)" fill="#16f216"/>
<ellipse cx="214.4" cy="346.6" rx="0.9" ry="1.2" transform="rotate(0 214.4 346.6)" fill="#16f216"/>
<ellipse cx="213.6" cy="347.3" rx="0.9" ry="1.2" transform="rotate(0 213.6 347.3)" fill="#16f216"/>
<ellipse cx="215.3" cy="346.8" rx="1.1" ry="1.1" transform="rotate(0 215.3 346.8)" fill="#16f216"/>
<ellipse cx="218.2" cy="353.6" rx="1.4" ry="2.1" transform="rotate(0 218.2 353.6)" fill="#16f216"/>
<ellipse cx="217.8" cy="353.0" rx="0.7" ry="1.4" transform="rotate(0 217.8 353.0)" fill="#16f216"/>
<ellipse cx="217.6" cy="353.0" rx="0.6" ry="1.6" transform="rotate(0 217.6 353.0)" fill="#16f216"/>
<ellipse cx="219.0" cy="354.9" rx="0.9" ry="1.2" transform="rotate(0 219.0 354.9)" fill="#16f216"/>
<ellipse cx="205.7" cy="358.6" rx="2.1" ry="1.8" transform="rotate(0 205.7 358.6)" fill="#16f216"/>
<ellipse cx="205.7" cy="359.9" rx="1.5" ry="1.2" transform="rotate(0 205.7 359.9)" fill="#16f216"/>
<ellipse cx="206.6" cy="358.1" rx="1.2" ry="0.9" transform="rotate(0 206.6 358.1)" fill="#16f216"/>
<ellipse cx="205.3" cy="359.3" rx="1.2" ry="1.3" transform="rotate(0 205.3 359.3)" fill="#16f216"/>
<ellipse cx="195.9" cy="357.7" rx="1.7" ry="1.7" transform="rotate(0 195.9 357.7)" fill="#16f216"/>
<ellipse cx="195.4" cy="358.2" rx="1.2" ry="1.2" transform="rotate(0 195.4 358.2)" fill="#16f216"/>
<ellipse cx="196.0" cy="358.9" rx="1.0" ry="0.8" transform="rotate(0 196.0 358.9)" fill="#16f216"/>
<ellipse cx="195.2" cy="356.9" rx="1.1" ry="1.2" transform="rotate(0 195.2 356.9)" fill="#16f216"/>
<ellipse cx="203.1" cy="351.4" rx="1.7" ry="1.7" transform="rotate(0 203.1 351.4)" fill="#16f216"/>
<ellipse cx="204.0" cy="350.3" rx="1.1" ry="0.8" transform="rotate(0 204.0 350.3)" fill="#16f216"/>
<ellipse cx="202.5" cy="351.8" rx="1.1" ry="1.2" transform="rotate(0 202.5 351.8)" fill="#16f216"/>
<ellipse cx="202.3" cy="352.0" rx="1.1" ry="1.0" transform="rotate(0 202.3 352.0)" fill="#16f216"/>
</g>
<line x1="189.7" y1="350.3" x2="224.9" y2="350.3" stroke="#0a1a50" stroke-width="0.45" opacity="0.5"/>
<line x1="207.3" y1="332.7" x2="207.3" y2="367.9" stroke="#0a1a50" stroke-width="0.4" opacity="0.35"/>
</g>
<clipPath id="pc15"><circle cx="245.4" cy="350.3" r="17.6"/></clipPath>
<circle cx="245.4" cy="350.3" r="17.6" fill="#0c28ec"/>
<g clip-path="url(#pc15)"><g filter="url(#pfb)">
<ellipse cx="244.7" cy="362.7" rx="1.8" ry="2.9" transform="rotate(0 244.7 362.7)" fill="#12b060" opacity="0.8"/>
<ellipse cx="262.1" cy="349.6" rx="1.7" ry="2.3" transform="rotate(0 262.1 349.6)" fill="#12b060" opacity="0.8"/>
<ellipse cx="235.5" cy="364.2" rx="2.2" ry="2.6" transform="rotate(0 235.5 364.2)" fill="#12b060" opacity="0.8"/>
<ellipse cx="241.4" cy="351.4" rx="1.9" ry="1.7" transform="rotate(0 241.4 351.4)" fill="#12b060" opacity="0.8"/>
<ellipse cx="245.8" cy="350.2" rx="1.4" ry="3.0" transform="rotate(0 245.8 350.2)" fill="#12b060" opacity="0.8"/>
<ellipse cx="244.4" cy="361.7" rx="2.8" ry="1.9" transform="rotate(0 244.4 361.7)" fill="#12b060" opacity="0.8"/>
<ellipse cx="242.5" cy="352.4" rx="1.6" ry="1.5" transform="rotate(0 242.5 352.4)" fill="#12b060" opacity="0.8"/>
<ellipse cx="237.4" cy="364.8" rx="2.3" ry="2.0" transform="rotate(0 237.4 364.8)" fill="#12b060" opacity="0.8"/>
<ellipse cx="233.8" cy="344.6" rx="1.9" ry="2.7" transform="rotate(0 233.8 344.6)" fill="#12b060" opacity="0.8"/>
<ellipse cx="245.4" cy="355.5" rx="2.4" ry="1.7" transform="rotate(0 245.4 355.5)" fill="#12b060" opacity="0.8"/>
<ellipse cx="250.1" cy="350.0" rx="1.5" ry="2.6" transform="rotate(0 250.1 350.0)" fill="#12b060" opacity="0.8"/>
<ellipse cx="234.3" cy="357.7" rx="2.1" ry="2.8" transform="rotate(0 234.3 357.7)" fill="#12b060" opacity="0.8"/>
<ellipse cx="246.8" cy="355.0" rx="1.3" ry="1.3" transform="rotate(0 246.8 355.0)" fill="#12b060" opacity="0.8"/>
<ellipse cx="251.0" cy="359.1" rx="2.0" ry="2.7" transform="rotate(0 251.0 359.1)" fill="#12b060" opacity="0.8"/>
<ellipse cx="236.4" cy="357.2" rx="1.2" ry="2.1" transform="rotate(0 236.4 357.2)" fill="#12b060" opacity="0.8"/>
<ellipse cx="241.2" cy="354.2" rx="2.4" ry="2.3" transform="rotate(0 241.2 354.2)" fill="#12b060" opacity="0.8"/>
<ellipse cx="244.8" cy="349.9" rx="1.2" ry="2.2" transform="rotate(0 244.8 349.9)" fill="#12b060" opacity="0.8"/>
<ellipse cx="229.1" cy="351.3" rx="1.7" ry="3.0" transform="rotate(0 229.1 351.3)" fill="#12b060" opacity="0.8"/>
<ellipse cx="251.2" cy="360.5" rx="2.8" ry="1.4" transform="rotate(0 251.2 360.5)" fill="#12b060" opacity="0.8"/>
<ellipse cx="235.1" cy="351.2" rx="2.7" ry="1.7" transform="rotate(0 235.1 351.2)" fill="#12b060" opacity="0.8"/>
<ellipse cx="242.0" cy="346.1" rx="1.9" ry="2.2" transform="rotate(0 242.0 346.1)" fill="#12b060" opacity="0.8"/>
<ellipse cx="251.6" cy="361.9" rx="2.4" ry="2.7" transform="rotate(0 251.6 361.9)" fill="#12b060" opacity="0.8"/>
<ellipse cx="254.1" cy="336.7" rx="1.9" ry="2.2" transform="rotate(0 254.1 336.7)" fill="#12b060" opacity="0.8"/>
<ellipse cx="245.4" cy="350.3" rx="4.4" ry="15.8" transform="rotate(0 245.4 350.3)" fill="#12b060" opacity="0.75"/>
<ellipse cx="244.5" cy="338.9" rx="4.6" ry="5.3" transform="rotate(0 244.5 338.9)" fill="#12b060" opacity="0.75"/>
<ellipse cx="242.5" cy="336.3" rx="2.3" ry="3.1" transform="rotate(0 242.5 336.3)" fill="#12b060" opacity="0.75"/>
<ellipse cx="244.2" cy="340.4" rx="2.9" ry="3.7" transform="rotate(0 244.2 340.4)" fill="#12b060" opacity="0.75"/>
<ellipse cx="242.6" cy="339.0" rx="2.1" ry="2.7" transform="rotate(0 242.6 339.0)" fill="#12b060" opacity="0.75"/>
<ellipse cx="244.0" cy="349.6" rx="3.8" ry="4.2" transform="rotate(0 244.0 349.6)" fill="#12b060" opacity="0.75"/>
<ellipse cx="245.4" cy="351.2" rx="2.2" ry="1.9" transform="rotate(0 245.4 351.2)" fill="#12b060" opacity="0.75"/>
<ellipse cx="242.4" cy="351.4" rx="2.7" ry="2.6" transform="rotate(0 242.4 351.4)" fill="#12b060" opacity="0.75"/>
<ellipse cx="242.2" cy="351.4" rx="2.0" ry="3.1" transform="rotate(0 242.2 351.4)" fill="#12b060" opacity="0.75"/>
<ellipse cx="244.9" cy="359.5" rx="4.2" ry="3.8" transform="rotate(0 244.9 359.5)" fill="#12b060" opacity="0.75"/>
<ellipse cx="245.2" cy="360.4" rx="2.8" ry="2.1" transform="rotate(0 245.2 360.4)" fill="#12b060" opacity="0.75"/>
<ellipse cx="243.1" cy="358.2" rx="2.2" ry="2.7" transform="rotate(0 243.1 358.2)" fill="#12b060" opacity="0.75"/>
<ellipse cx="244.4" cy="361.0" rx="2.3" ry="2.6" transform="rotate(0 244.4 361.0)" fill="#12b060" opacity="0.75"/>
<ellipse cx="243.6" cy="366.0" rx="5.3" ry="1.7" transform="rotate(0 243.6 366.0)" fill="#12b060" opacity="0.75"/>
<ellipse cx="241.7" cy="366.8" rx="3.5" ry="1.0" transform="rotate(0 241.7 366.8)" fill="#12b060" opacity="0.75"/>
<ellipse cx="246.1" cy="365.2" rx="3.0" ry="1.2" transform="rotate(0 246.1 365.2)" fill="#12b060" opacity="0.75"/>
<ellipse cx="242.8" cy="366.4" rx="3.9" ry="0.9" transform="rotate(0 242.8 366.4)" fill="#12b060" opacity="0.75"/>
<ellipse cx="229.0" cy="350.5" rx="2.1" ry="5.3" transform="rotate(0 229.0 350.5)" fill="#12b060" opacity="0.75"/>
<ellipse cx="229.6" cy="348.0" rx="1.1" ry="3.9" transform="rotate(0 229.6 348.0)" fill="#12b060" opacity="0.75"/>
<ellipse cx="229.0" cy="349.7" rx="1.5" ry="3.0" transform="rotate(0 229.0 349.7)" fill="#12b060" opacity="0.75"/>
<ellipse cx="229.4" cy="351.3" rx="1.0" ry="3.3" transform="rotate(0 229.4 351.3)" fill="#12b060" opacity="0.75"/>
<ellipse cx="260.9" cy="349.9" rx="2.5" ry="5.3" transform="rotate(0 260.9 349.9)" fill="#12b060" opacity="0.75"/>
<ellipse cx="261.6" cy="351.1" rx="1.2" ry="2.6" transform="rotate(0 261.6 351.1)" fill="#12b060" opacity="0.75"/>
<ellipse cx="261.4" cy="350.7" rx="1.7" ry="2.8" transform="rotate(0 261.4 350.7)" fill="#12b060" opacity="0.75"/>
<ellipse cx="259.9" cy="347.3" rx="1.4" ry="2.9" transform="rotate(0 259.9 347.3)" fill="#12b060" opacity="0.75"/>
<ellipse cx="244.5" cy="338.9" rx="3.1" ry="3.5" transform="rotate(0 244.5 338.9)" fill="#16f216"/>
<ellipse cx="242.5" cy="336.3" rx="1.5" ry="2.1" transform="rotate(0 242.5 336.3)" fill="#16f216"/>
<ellipse cx="244.2" cy="340.4" rx="1.9" ry="2.5" transform="rotate(0 244.2 340.4)" fill="#16f216"/>
<ellipse cx="242.6" cy="339.0" rx="1.4" ry="1.8" transform="rotate(0 242.6 339.0)" fill="#16f216"/>
<ellipse cx="244.0" cy="349.6" rx="2.5" ry="2.8" transform="rotate(0 244.0 349.6)" fill="#16f216"/>
<ellipse cx="245.4" cy="351.2" rx="1.5" ry="1.3" transform="rotate(0 245.4 351.2)" fill="#16f216"/>
<ellipse cx="242.4" cy="351.4" rx="1.8" ry="1.7" transform="rotate(0 242.4 351.4)" fill="#16f216"/>
<ellipse cx="242.2" cy="351.4" rx="1.4" ry="2.1" transform="rotate(0 242.2 351.4)" fill="#16f216"/>
<ellipse cx="244.9" cy="359.5" rx="2.8" ry="2.5" transform="rotate(0 244.9 359.5)" fill="#16f216"/>
<ellipse cx="245.2" cy="360.4" rx="1.9" ry="1.4" transform="rotate(0 245.2 360.4)" fill="#16f216"/>
<ellipse cx="243.1" cy="358.2" rx="1.4" ry="1.8" transform="rotate(0 243.1 358.2)" fill="#16f216"/>
<ellipse cx="244.4" cy="361.0" rx="1.5" ry="1.7" transform="rotate(0 244.4 361.0)" fill="#16f216"/>
<ellipse cx="243.6" cy="366.0" rx="3.5" ry="1.1" transform="rotate(0 243.6 366.0)" fill="#16f216"/>
<ellipse cx="241.7" cy="366.8" rx="2.3" ry="0.7" transform="rotate(0 241.7 366.8)" fill="#16f216"/>
<ellipse cx="246.1" cy="365.2" rx="2.0" ry="0.8" transform="rotate(0 246.1 365.2)" fill="#16f216"/>
<ellipse cx="242.8" cy="366.4" rx="2.6" ry="0.6" transform="rotate(0 242.8 366.4)" fill="#16f216"/>
<ellipse cx="229.0" cy="350.5" rx="1.4" ry="3.5" transform="rotate(0 229.0 350.5)" fill="#16f216"/>
<ellipse cx="229.6" cy="348.0" rx="0.7" ry="2.6" transform="rotate(0 229.6 348.0)" fill="#16f216"/>
<ellipse cx="229.0" cy="349.7" rx="1.0" ry="2.0" transform="rotate(0 229.0 349.7)" fill="#16f216"/>
<ellipse cx="229.4" cy="351.3" rx="0.7" ry="2.2" transform="rotate(0 229.4 351.3)" fill="#16f216"/>
<ellipse cx="260.9" cy="349.9" rx="1.7" ry="3.5" transform="rotate(0 260.9 349.9)" fill="#16f216"/>
<ellipse cx="261.6" cy="351.1" rx="0.8" ry="1.7" transform="rotate(0 261.6 351.1)" fill="#16f216"/>
<ellipse cx="261.4" cy="350.7" rx="1.1" ry="1.9" transform="rotate(0 261.4 350.7)" fill="#16f216"/>
<ellipse cx="259.9" cy="347.3" rx="0.9" ry="1.9" transform="rotate(0 259.9 347.3)" fill="#16f216"/>
<ellipse cx="244.0" cy="349.6" rx="1.9" ry="2.1" transform="rotate(0 244.0 349.6)" fill="#d8f020"/>
<ellipse cx="229.0" cy="350.5" rx="1.1" ry="2.6" transform="rotate(0 229.0 350.5)" fill="#d8f020"/>
<ellipse cx="260.9" cy="349.9" rx="1.3" ry="2.6" transform="rotate(0 260.9 349.9)" fill="#d8f020"/>
<ellipse cx="260.9" cy="349.9" rx="0.8" ry="1.7" transform="rotate(0 260.9 349.9)" fill="#f03a10"/>
</g>
<line x1="227.8" y1="350.3" x2="263.0" y2="350.3" stroke="#0a1a50" stroke-width="0.45" opacity="0.5"/>
<line x1="245.4" y1="332.7" x2="245.4" y2="367.9" stroke="#0a1a50" stroke-width="0.4" opacity="0.35"/>
</g>
<text transform="translate(148.1 333.7) scale(1.12 1)" font-family="'Liberation Serif', 'DejaVu Serif', serif" font-size="6" fill="#222">[110]</text>
<text transform="translate(186.6 334.6) scale(1.12 1)" font-family="'Liberation Serif', 'DejaVu Serif', serif" font-size="6" fill="#222">[111]</text>
<text transform="translate(222.9 334.9) scale(1.12 1)" font-family="'Liberation Serif', 'DejaVu Serif', serif" font-size="6" fill="#222">[100]</text>
<text x="167.9" y="330.7" font-family="'Liberation Serif', 'DejaVu Serif', serif" font-size="4.5" fill="#333">Y</text>
<text x="187.5" y="351.8" font-family="'Liberation Serif', 'DejaVu Serif', serif" font-size="4.5" fill="#333">X</text>
<text x="268.7" y="344.2" font-family="'Liberation Serif', 'DejaVu Serif', serif" font-size="6.6" fill="#111">Max=5.71</text>
<rect x="272.1" y="348.90" width="17.6" height="2.30" fill="#1030c8"/>
<rect x="272.1" y="351.15" width="17.6" height="2.30" fill="#109050"/>
<rect x="272.1" y="353.40" width="17.6" height="2.30" fill="#10d020"/>
<rect x="272.1" y="355.65" width="17.6" height="2.30" fill="#20f020"/>
<rect x="272.1" y="357.90" width="17.6" height="2.30" fill="#90e010"/>
<rect x="272.1" y="360.15" width="17.6" height="2.30" fill="#f0c000"/>
<rect x="272.1" y="362.40" width="17.6" height="2.30" fill="#f08000"/>
<rect x="272.1" y="364.65" width="17.6" height="2.30" fill="#f02000"/>
<text x="335.3" y="254.7" font-family="'DejaVu Sans', 'Liberation Sans', sans-serif" font-size="14.6" fill="#1a1a1a">Building</text>
<text x="335.3" y="272.8" font-family="'DejaVu Sans', 'Liberation Sans', sans-serif" font-size="14.6" fill="#1a1a1a">Direction</text>
<rect x="416.1" y="224" width="4.8" height="98.7" fill="#000"/>
<polygon points="418.5,213.9 413.9,225 423.0,225" fill="#000"/>
<defs><linearGradient id="gR" gradientUnits="userSpaceOnUse" x1="321.7" y1="331.6" x2="353.91" y2="325.96"><stop offset="0" stop-color="#ff0000"/><stop offset="0.5" stop-color="#ff0000"/><stop offset="1" stop-color="#000"/></linearGradient><linearGradient id="gG" gradientUnits="userSpaceOnUse" x1="354.9" y1="331.6" x2="338.48" y2="315.00"><stop offset="0" stop-color="#00ff00"/><stop offset="0.5" stop-color="#00ff00"/><stop offset="1" stop-color="#000"/></linearGradient><linearGradient id="gB" gradientUnits="userSpaceOnUse" x1="350.0" y1="303.6" x2="350.00" y2="331.60"><stop offset="0" stop-color="#0000ff"/><stop offset="0.5" stop-color="#0000ff"/><stop offset="1" stop-color="#000"/></linearGradient><radialGradient id="ipfW" gradientUnits="userSpaceOnUse" cx="343" cy="322.5" r="9"><stop offset="0" stop-color="#fff" stop-opacity="0.85"/><stop offset="1" stop-color="#fff" stop-opacity="0"/></radialGradient><clipPath id="ipfclip"><path d="M321.7,331.6 L354.9,331.6 Q356.6,316.5 350.0,303.6 Z"/></clipPath></defs>
<g clip-path="url(#ipfclip)" style="isolation:isolate">
<rect x="320" y="302" width="40" height="31" fill="#000"/>
<rect x="320" y="302" width="40" height="31" fill="url(#gR)" style="mix-blend-mode:screen"/>
<rect x="320" y="302" width="40" height="31" fill="url(#gG)" style="mix-blend-mode:screen"/>
<rect x="320" y="302" width="40" height="31" fill="url(#gB)" style="mix-blend-mode:screen"/>
<rect x="320" y="302" width="40" height="31" fill="url(#ipfW)"/>
</g>
<text transform="translate(341.6 301.6) scale(1.08 1)" font-family="DejaVu Serif, serif" font-size="7" fill="#222">111</text>
<text transform="translate(308.9 338.5) scale(1.08 1)" font-family="DejaVu Serif, serif" font-size="7" fill="#222">100</text>
<text transform="translate(347.0 338.5) scale(1.08 1)" font-family="DejaVu Serif, serif" font-size="7" fill="#222">110</text>
<text x="13.0" y="386.6" font-family="'Liberation Serif', 'DejaVu Serif', serif" font-size="11.5" fill="#111" transform="translate(13 0) scale(1.1 1) translate(-13 0)">(f)</text>
<rect x="37.5" y="395.8" width="174.8" height="141.9" fill="none" stroke="#333" stroke-width="1"/>
<line x1="36.5" y1="522.3" x2="40.0" y2="522.3" stroke="#333" stroke-width="0.8"/>
<text x="35.7" y="525.7" font-family="'Liberation Serif', 'DejaVu Serif', serif" font-size="9.6" text-anchor="end" fill="#222">0</text>
<line x1="36.5" y1="490.8" x2="40.0" y2="490.8" stroke="#333" stroke-width="0.8"/>
<text x="35.7" y="494.2" font-family="'Liberation Serif', 'DejaVu Serif', serif" font-size="9.6" text-anchor="end" fill="#222">50</text>
<line x1="36.5" y1="459.2" x2="40.0" y2="459.2" stroke="#333" stroke-width="0.8"/>
<text x="35.7" y="462.6" font-family="'Liberation Serif', 'DejaVu Serif', serif" font-size="9.6" text-anchor="end" fill="#222">100</text>
<line x1="36.5" y1="427.7" x2="40.0" y2="427.7" stroke="#333" stroke-width="0.8"/>
<text x="35.7" y="431.1" font-family="'Liberation Serif', 'DejaVu Serif', serif" font-size="9.6" text-anchor="end" fill="#222">150</text>
<line x1="36.5" y1="396.2" x2="40.0" y2="396.2" stroke="#333" stroke-width="0.8"/>
<text x="35.7" y="399.6" font-family="'Liberation Serif', 'DejaVu Serif', serif" font-size="9.6" text-anchor="end" fill="#222">200</text>
<line x1="37.5" y1="538.1" x2="39.0" y2="538.1" stroke="#333" stroke-width="0.6"/>
<line x1="37.5" y1="506.5" x2="39.0" y2="506.5" stroke="#333" stroke-width="0.6"/>
<line x1="37.5" y1="475.0" x2="39.0" y2="475.0" stroke="#333" stroke-width="0.6"/>
<line x1="37.5" y1="443.5" x2="39.0" y2="443.5" stroke="#333" stroke-width="0.6"/>
<line x1="37.5" y1="411.9" x2="39.0" y2="411.9" stroke="#333" stroke-width="0.6"/>
<text transform="translate(17.3,463) rotate(-90)" font-family="'Liberation Serif', 'DejaVu Serif', serif" font-size="10" text-anchor="middle" fill="#222">Grain Diameter (μm)</text>
<line x1="55.0" y1="418.9" x2="55.0" y2="498.6" stroke="#333" stroke-width="1"/>
<line x1="52.0" y1="418.9" x2="58.0" y2="418.9" stroke="#333" stroke-width="1"/>
<line x1="55.0" y1="512.9" x2="55.0" y2="515.4" stroke="#333" stroke-width="1"/>
<line x1="51.5" y1="515.4" x2="58.5" y2="515.4" stroke="#333" stroke-width="1"/>
<rect x="46.0" y="498.6" width="18.0" height="14.3" fill="none" stroke="#333" stroke-width="1"/>
<line x1="46.0" y1="507.9" x2="64.0" y2="507.9" stroke="#333" stroke-width="1"/>
<rect x="52.6" y="499.4" width="4.8" height="4.8" fill="#fff" stroke="#333" stroke-width="0.8"/>
<line x1="55.0" y1="537.7" x2="55.0" y2="535.7" stroke="#333" stroke-width="0.8"/>
<text x="55.0" y="545.7" font-family="'Liberation Serif', 'DejaVu Serif', serif" font-size="7.6" text-anchor="middle" fill="#222">AB</text>
<line x1="90.0" y1="425.2" x2="90.0" y2="497.6" stroke="#333" stroke-width="1"/>
<line x1="87.0" y1="425.2" x2="93.0" y2="425.2" stroke="#333" stroke-width="1"/>
<line x1="90.0" y1="513.1" x2="90.0" y2="515.4" stroke="#333" stroke-width="1"/>
<line x1="86.5" y1="515.4" x2="93.5" y2="515.4" stroke="#333" stroke-width="1"/>
<rect x="81.0" y="497.6" width="18.0" height="15.5" fill="none" stroke="#333" stroke-width="1"/>
<line x1="81.0" y1="508.7" x2="99.0" y2="508.7" stroke="#333" stroke-width="1"/>
<rect x="87.6" y="499.1" width="4.8" height="4.8" fill="#fff" stroke="#333" stroke-width="0.8"/>
<line x1="90.0" y1="537.7" x2="90.0" y2="535.7" stroke="#333" stroke-width="0.8"/>
<text x="90.0" y="545.7" font-family="'Liberation Serif', 'DejaVu Serif', serif" font-size="7.6" text-anchor="middle" fill="#222">HT1</text>
<line x1="125.0" y1="429.0" x2="125.0" y2="499.2" stroke="#333" stroke-width="1"/>
<line x1="122.0" y1="429.0" x2="128.0" y2="429.0" stroke="#333" stroke-width="1"/>
<line x1="125.0" y1="513.4" x2="125.0" y2="515.7" stroke="#333" stroke-width="1"/>
<line x1="121.5" y1="515.7" x2="128.5" y2="515.7" stroke="#333" stroke-width="1"/>
<rect x="116.0" y="499.2" width="18.0" height="14.1" fill="none" stroke="#333" stroke-width="1"/>
<line x1="116.0" y1="509.2" x2="134.0" y2="509.2" stroke="#333" stroke-width="1"/>
<rect x="122.6" y="500.6" width="4.8" height="4.8" fill="#fff" stroke="#333" stroke-width="0.8"/>
<line x1="125.0" y1="537.7" x2="125.0" y2="535.7" stroke="#333" stroke-width="0.8"/>
<text x="125.0" y="545.7" font-family="'Liberation Serif', 'DejaVu Serif', serif" font-size="7.6" text-anchor="middle" fill="#222">HT2</text>
<line x1="160.0" y1="415.1" x2="160.0" y2="498.3" stroke="#333" stroke-width="1"/>
<line x1="157.0" y1="415.1" x2="163.0" y2="415.1" stroke="#333" stroke-width="1"/>
<line x1="160.0" y1="513.2" x2="160.0" y2="515.4" stroke="#333" stroke-width="1"/>
<line x1="156.5" y1="515.4" x2="163.5" y2="515.4" stroke="#333" stroke-width="1"/>
<rect x="151.0" y="498.3" width="18.0" height="14.8" fill="none" stroke="#333" stroke-width="1"/>
<line x1="151.0" y1="508.2" x2="169.0" y2="508.2" stroke="#333" stroke-width="1"/>
<rect x="157.6" y="500.0" width="4.8" height="4.8" fill="#fff" stroke="#333" stroke-width="0.8"/>
<line x1="160.0" y1="537.7" x2="160.0" y2="535.7" stroke="#333" stroke-width="0.8"/>
<text x="160.0" y="545.7" font-family="'Liberation Serif', 'DejaVu Serif', serif" font-size="7.6" text-anchor="middle" fill="#222">HT3</text>
<line x1="195.0" y1="433.4" x2="195.0" y2="498.3" stroke="#333" stroke-width="1"/>
<line x1="192.0" y1="433.4" x2="198.0" y2="433.4" stroke="#333" stroke-width="1"/>
<line x1="195.0" y1="513.4" x2="195.0" y2="515.4" stroke="#333" stroke-width="1"/>
<line x1="191.5" y1="515.4" x2="198.5" y2="515.4" stroke="#333" stroke-width="1"/>
<rect x="186.0" y="498.3" width="18.0" height="15.0" fill="none" stroke="#333" stroke-width="1"/>
<line x1="186.0" y1="508.4" x2="204.0" y2="508.4" stroke="#333" stroke-width="1"/>
<rect x="192.6" y="500.1" width="4.8" height="4.8" fill="#fff" stroke="#333" stroke-width="0.8"/>
<line x1="195.0" y1="537.7" x2="195.0" y2="535.7" stroke="#333" stroke-width="0.8"/>
<text x="195.0" y="545.7" font-family="'Liberation Serif', 'DejaVu Serif', serif" font-size="7.6" text-anchor="middle" fill="#222">HT4</text>
<text x="232.6" y="386.3" font-family="'Liberation Serif', 'DejaVu Serif', serif" font-size="11.5" fill="#111" transform="translate(232.6 0) scale(1.13 1) translate(-232.6 0)">(g)</text>
<rect x="250.3" y="395.8" width="174.4" height="142.1" fill="none" stroke="#333" stroke-width="1"/>
<line x1="249.3" y1="520.9" x2="252.8" y2="520.9" stroke="#333" stroke-width="0.8"/>
<text x="248.5" y="524.3" font-family="'Liberation Serif', 'DejaVu Serif', serif" font-size="9.6" text-anchor="end" fill="#222">2</text>
<line x1="249.3" y1="498.2" x2="252.8" y2="498.2" stroke="#333" stroke-width="0.8"/>
<text x="248.5" y="501.6" font-family="'Liberation Serif', 'DejaVu Serif', serif" font-size="9.6" text-anchor="end" fill="#222">4</text>
<line x1="249.3" y1="475.5" x2="252.8" y2="475.5" stroke="#333" stroke-width="0.8"/>
<text x="248.5" y="478.9" font-family="'Liberation Serif', 'DejaVu Serif', serif" font-size="9.6" text-anchor="end" fill="#222">6</text>
<line x1="249.3" y1="452.8" x2="252.8" y2="452.8" stroke="#333" stroke-width="0.8"/>
<text x="248.5" y="456.2" font-family="'Liberation Serif', 'DejaVu Serif', serif" font-size="9.6" text-anchor="end" fill="#222">8</text>
<line x1="249.3" y1="430.1" x2="252.8" y2="430.1" stroke="#333" stroke-width="0.8"/>
<text x="248.5" y="433.5" font-family="'Liberation Serif', 'DejaVu Serif', serif" font-size="9.6" text-anchor="end" fill="#222">10</text>
<line x1="249.3" y1="407.4" x2="252.8" y2="407.4" stroke="#333" stroke-width="0.8"/>
<text x="248.5" y="410.8" font-family="'Liberation Serif', 'DejaVu Serif', serif" font-size="9.6" text-anchor="end" fill="#222">12</text>
<line x1="250.3" y1="532.2" x2="251.8" y2="532.2" stroke="#333" stroke-width="0.6"/>
<line x1="250.3" y1="509.5" x2="251.8" y2="509.5" stroke="#333" stroke-width="0.6"/>
<line x1="250.3" y1="486.8" x2="251.8" y2="486.8" stroke="#333" stroke-width="0.6"/>
<line x1="250.3" y1="464.1" x2="251.8" y2="464.1" stroke="#333" stroke-width="0.6"/>
<line x1="250.3" y1="441.4" x2="251.8" y2="441.4" stroke="#333" stroke-width="0.6"/>
<line x1="250.3" y1="418.8" x2="251.8" y2="418.8" stroke="#333" stroke-width="0.6"/>
<line x1="250.3" y1="396.0" x2="251.8" y2="396.0" stroke="#333" stroke-width="0.6"/>
<text transform="translate(236.0,475.8) rotate(-90)" font-family="'Liberation Serif', 'DejaVu Serif', serif" font-size="10" text-anchor="middle" fill="#222">Aspect Ratio</text>
<line x1="267.8" y1="444.3" x2="267.8" y2="507.3" stroke="#333" stroke-width="1"/>
<line x1="264.8" y1="444.3" x2="270.8" y2="444.3" stroke="#333" stroke-width="1"/>
<line x1="267.8" y1="524.3" x2="267.8" y2="531.5" stroke="#333" stroke-width="1"/>
<line x1="264.3" y1="531.5" x2="271.3" y2="531.5" stroke="#333" stroke-width="1"/>
<rect x="258.8" y="507.3" width="18.0" height="17.0" fill="none" stroke="#333" stroke-width="1"/>
<line x1="258.8" y1="518.1" x2="276.8" y2="518.1" stroke="#333" stroke-width="1"/>
<rect x="265.4" y="510.0" width="4.8" height="4.8" fill="#fff" stroke="#333" stroke-width="0.8"/>
<line x1="267.8" y1="537.9" x2="267.8" y2="535.9" stroke="#333" stroke-width="0.8"/>
<text x="267.8" y="545.9" font-family="'Liberation Serif', 'DejaVu Serif', serif" font-size="7.6" text-anchor="middle" fill="#222">AB</text>
<line x1="302.8" y1="453.4" x2="302.8" y2="506.7" stroke="#333" stroke-width="1"/>
<line x1="299.8" y1="453.4" x2="305.8" y2="453.4" stroke="#333" stroke-width="1"/>
<line x1="302.8" y1="523.7" x2="302.8" y2="531.5" stroke="#333" stroke-width="1"/>
<line x1="299.3" y1="531.5" x2="306.3" y2="531.5" stroke="#333" stroke-width="1"/>
<rect x="293.8" y="506.7" width="18.0" height="17.0" fill="none" stroke="#333" stroke-width="1"/>
<line x1="293.8" y1="517.5" x2="311.8" y2="517.5" stroke="#333" stroke-width="1"/>
<rect x="300.4" y="510.6" width="4.8" height="4.8" fill="#fff" stroke="#333" stroke-width="0.8"/>
<line x1="302.8" y1="537.9" x2="302.8" y2="535.9" stroke="#333" stroke-width="0.8"/>
<text x="302.8" y="545.9" font-family="'Liberation Serif', 'DejaVu Serif', serif" font-size="7.6" text-anchor="middle" fill="#222">HT1</text>
<line x1="337.8" y1="418.2" x2="337.8" y2="502.2" stroke="#333" stroke-width="1"/>
<line x1="334.8" y1="418.2" x2="340.8" y2="418.2" stroke="#333" stroke-width="1"/>
<line x1="337.8" y1="522.6" x2="337.8" y2="531.5" stroke="#333" stroke-width="1"/>
<line x1="334.3" y1="531.5" x2="341.3" y2="531.5" stroke="#333" stroke-width="1"/>
<rect x="328.8" y="502.2" width="18.0" height="20.4" fill="none" stroke="#333" stroke-width="1"/>
<line x1="328.8" y1="515.2" x2="346.8" y2="515.2" stroke="#333" stroke-width="1"/>
<rect x="335.4" y="506.6" width="4.8" height="4.8" fill="#fff" stroke="#333" stroke-width="0.8"/>
<line x1="337.8" y1="537.9" x2="337.8" y2="535.9" stroke="#333" stroke-width="0.8"/>
<text x="337.8" y="545.9" font-family="'Liberation Serif', 'DejaVu Serif', serif" font-size="7.6" text-anchor="middle" fill="#222">HT2</text>
<line x1="372.8" y1="418.2" x2="372.8" y2="494.8" stroke="#333" stroke-width="1"/>
<line x1="369.8" y1="418.2" x2="375.8" y2="418.2" stroke="#333" stroke-width="1"/>
<line x1="372.8" y1="521.5" x2="372.8" y2="531.5" stroke="#333" stroke-width="1"/>
<line x1="369.3" y1="531.5" x2="376.3" y2="531.5" stroke="#333" stroke-width="1"/>
<rect x="363.8" y="494.8" width="18.0" height="26.7" fill="none" stroke="#333" stroke-width="1"/>
<line x1="363.8" y1="511.8" x2="381.8" y2="511.8" stroke="#333" stroke-width="1"/>
<rect x="370.4" y="502.0" width="4.8" height="4.8" fill="#fff" stroke="#333" stroke-width="0.8"/>
<line x1="372.8" y1="537.9" x2="372.8" y2="535.9" stroke="#333" stroke-width="0.8"/>
<text x="372.8" y="545.9" font-family="'Liberation Serif', 'DejaVu Serif', serif" font-size="7.6" text-anchor="middle" fill="#222">HT3</text>
<line x1="407.8" y1="438.6" x2="407.8" y2="497.6" stroke="#333" stroke-width="1"/>
<line x1="404.8" y1="438.6" x2="410.8" y2="438.6" stroke="#333" stroke-width="1"/>
<line x1="407.8" y1="522.6" x2="407.8" y2="531.1" stroke="#333" stroke-width="1"/>
<line x1="404.3" y1="531.1" x2="411.3" y2="531.1" stroke="#333" stroke-width="1"/>
<rect x="398.8" y="497.6" width="18.0" height="25.0" fill="none" stroke="#333" stroke-width="1"/>
<line x1="398.8" y1="512.4" x2="416.8" y2="512.4" stroke="#333" stroke-width="1"/>
<rect x="405.4" y="504.3" width="4.8" height="4.8" fill="#fff" stroke="#333" stroke-width="0.8"/>
<line x1="407.8" y1="537.9" x2="407.8" y2="535.9" stroke="#333" stroke-width="0.8"/>
<text x="407.8" y="545.9" font-family="'Liberation Serif', 'DejaVu Serif', serif" font-size="7.6" text-anchor="middle" fill="#222">HT4</text></svg>
</body></html>
